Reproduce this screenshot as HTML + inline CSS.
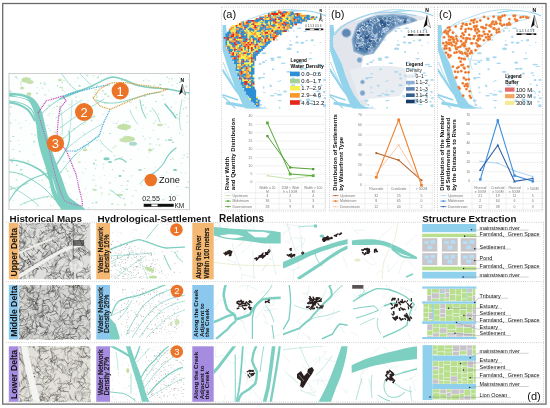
<!DOCTYPE html>
<html><head><meta charset="utf-8"><style>
html,body{margin:0;padding:0;background:#fff;width:550px;height:408px;overflow:hidden}
svg{display:block;font-family:"Liberation Sans","Noto Sans CJK SC",Arial,sans-serif}
</style></head><body>
<svg width="550" height="408" viewBox="0 0 550 408" >
<rect x="0" y="0" width="550" height="408" fill="#fff"/>
<rect x="2.7" y="3.5" width="543.3" height="400.6" fill="none" stroke="#6a6a6a" stroke-width="1.3"/>
<rect x="9" y="73.5" width="180.5" height="136.2" fill="#fdfefe" stroke="#c9c9c9" stroke-width="0.9"/>
<clipPath id="cTL"><rect x="9" y="73.5" width="180.5" height="136.2"/></clipPath>
<g clip-path="url(#cTL)">
<path fill="#bfe6df" d="M67.5 94.0h0.7v1.1h-0.7zM80.6 206.5h1.5v0.7h-1.5zM41.4 179.7h1.5v1.1h-1.5zM39.3 89.4h0.9v0.9h-0.9zM27.7 159.9h0.9v1.6h-0.9zM96.3 85.2h1.8v1.3h-1.8zM62.8 161.1h1.7v0.9h-1.7zM186.8 156.6h1.4v1.3h-1.4zM153.3 85.0h2.1v1.4h-2.1zM153.3 172.4h1.4v1.5h-1.4zM100.6 150.0h1.3v1.2h-1.3zM31.0 133.7h1.7v1.0h-1.7zM47.4 114.7h2.0v0.8h-2.0zM93.4 175.2h1.2v1.1h-1.2zM102.4 113.7h0.8v1.5h-0.8zM50.3 192.9h1.0v0.6h-1.0zM112.0 168.9h1.0v1.4h-1.0zM188.5 78.5h1.8v1.2h-1.8zM100.0 187.2h1.9v1.2h-1.9zM92.1 188.7h1.4v1.3h-1.4zM96.1 139.7h1.7v1.3h-1.7zM96.7 76.9h2.1v1.3h-2.1zM79.4 192.0h1.2v1.0h-1.2zM58.7 80.1h0.7v1.3h-0.7zM96.2 164.6h0.9v0.8h-0.9zM25.4 120.1h1.1v1.0h-1.1zM155.1 101.0h1.8v1.0h-1.8zM166.6 76.5h1.3v1.4h-1.3zM49.3 130.3h2.1v0.7h-2.1zM88.9 88.3h1.0v1.0h-1.0zM64.7 183.0h0.7v1.1h-0.7zM16.3 78.2h1.9v0.7h-1.9zM33.0 141.1h1.9v1.3h-1.9zM144.9 107.2h1.6v1.1h-1.6zM56.8 85.0h1.3v1.6h-1.3zM130.7 175.4h1.8v0.9h-1.8zM55.9 179.4h0.8v1.2h-0.8zM152.5 148.1h1.3v1.4h-1.3zM149.4 143.2h1.8v1.5h-1.8zM126.8 180.3h2.0v1.6h-2.0zM103.1 167.3h1.0v1.1h-1.0zM113.2 122.6h1.3v0.8h-1.3zM9.5 121.8h1.4v1.1h-1.4zM37.7 197.7h0.6v1.2h-0.6zM176.6 195.3h2.0v0.6h-2.0zM173.4 93.2h0.8v1.2h-0.8zM38.2 206.6h0.6v0.7h-0.6zM125.2 79.3h1.8v0.7h-1.8zM29.2 78.2h1.9v1.2h-1.9zM60.9 87.1h1.9v1.2h-1.9zM83.5 132.9h1.2v1.3h-1.2zM106.1 103.0h1.5v0.9h-1.5zM185.0 172.8h0.9v1.3h-0.9zM87.5 100.2h1.0v1.5h-1.0zM10.9 186.8h0.7v1.1h-0.7zM186.7 121.9h1.0v1.0h-1.0zM130.2 89.4h1.0v0.8h-1.0zM34.2 140.7h1.4v1.5h-1.4zM22.6 160.3h0.6v0.6h-0.6zM141.9 209.6h1.4v1.1h-1.4zM157.4 138.2h1.9v1.5h-1.9zM15.7 179.0h1.2v1.4h-1.2zM18.9 150.8h1.9v1.4h-1.9zM86.1 74.8h2.2v1.5h-2.2zM173.9 80.7h0.6v0.6h-0.6zM126.5 184.8h1.2v0.9h-1.2zM57.4 94.9h1.1v0.7h-1.1zM186.3 115.6h1.7v1.1h-1.7zM46.3 108.2h1.9v1.1h-1.9zM24.8 183.4h1.0v1.2h-1.0zM45.4 102.5h0.9v1.3h-0.9zM59.6 156.2h0.7v1.6h-0.7zM182.9 108.1h1.1v1.6h-1.1zM77.3 77.2h1.5v1.5h-1.5zM91.7 202.5h2.0v1.2h-2.0zM175.4 169.7h1.0v1.2h-1.0zM34.2 134.4h2.1v1.0h-2.1zM84.5 107.1h1.0v1.4h-1.0zM165.9 171.2h1.0v1.1h-1.0zM114.8 177.2h0.8v1.0h-0.8zM143.8 95.9h2.1v1.0h-2.1zM149.2 201.1h1.9v1.5h-1.9zM58.4 147.4h1.6v0.9h-1.6zM102.9 132.6h1.1v0.9h-1.1z"/>
<path fill="#a9ddd3" d="M75.0 81.4h0.9v0.7h-0.9zM84.5 106.3h1.3v1.4h-1.3zM31.3 103.9h2.1v1.2h-2.1zM84.7 147.1h1.1v1.4h-1.1zM16.1 164.5h1.5v1.5h-1.5zM65.6 168.2h1.4v1.4h-1.4zM20.0 169.0h2.2v1.4h-2.2zM111.2 203.3h2.1v1.3h-2.1zM142.5 135.7h1.2v1.0h-1.2zM88.5 88.5h0.7v0.6h-0.7zM95.4 167.8h0.6v1.6h-0.6zM104.4 93.5h2.1v1.4h-2.1zM142.5 104.4h1.4v1.3h-1.4zM93.0 162.8h1.9v1.6h-1.9zM127.6 121.2h1.5v0.6h-1.5zM156.1 143.9h0.8v0.8h-0.8zM36.0 92.8h1.8v1.2h-1.8zM67.8 144.1h1.4v1.4h-1.4zM95.3 201.7h2.0v1.5h-2.0zM90.9 119.7h1.3v1.5h-1.3zM129.1 125.4h1.7v0.9h-1.7zM170.0 158.9h0.8v1.1h-0.8zM153.0 175.4h2.0v0.7h-2.0zM12.2 136.0h2.1v1.0h-2.1zM122.9 197.9h1.5v1.3h-1.5zM165.9 139.6h0.8v1.1h-0.8zM28.7 94.5h2.2v0.7h-2.2zM9.2 90.6h2.1v1.2h-2.1zM79.0 104.0h0.6v1.1h-0.6zM10.2 113.3h0.7v1.1h-0.7zM146.3 113.7h1.4v0.8h-1.4zM80.0 102.5h0.8v0.7h-0.8zM44.2 82.1h1.1v0.9h-1.1zM175.8 114.0h2.1v1.2h-2.1zM157.5 178.8h1.0v1.5h-1.0zM92.2 180.3h0.7v0.8h-0.7zM44.0 83.7h2.0v1.0h-2.0zM82.8 124.1h1.1v0.8h-1.1zM128.9 94.6h0.7v0.8h-0.7zM173.8 116.3h2.1v1.0h-2.1zM48.4 127.9h0.9v1.0h-0.9zM48.9 187.0h1.8v0.8h-1.8zM143.2 80.1h1.0v1.2h-1.0zM17.6 140.0h1.6v0.6h-1.6zM11.1 161.3h2.0v1.2h-2.0zM113.4 155.5h1.8v0.8h-1.8zM172.1 79.5h0.6v0.8h-0.6zM125.9 130.1h0.9v0.9h-0.9zM109.0 132.9h2.2v0.9h-2.2zM162.8 199.0h1.4v1.4h-1.4zM115.6 123.0h2.0v0.7h-2.0zM183.6 154.2h1.0v1.5h-1.0zM123.9 84.5h1.9v1.2h-1.9zM179.4 90.8h1.8v1.4h-1.8zM125.8 188.7h2.0v1.3h-2.0zM187.7 98.5h1.8v0.7h-1.8zM78.5 85.1h2.0v1.4h-2.0zM34.3 186.7h0.6v0.6h-0.6zM185.4 85.8h1.9v1.4h-1.9zM44.6 167.9h0.7v1.4h-0.7zM119.4 157.5h2.0v0.7h-2.0zM15.2 76.3h1.6v1.5h-1.6zM61.8 81.8h1.1v1.2h-1.1zM185.4 186.7h1.9v1.2h-1.9zM170.9 194.0h1.1v1.1h-1.1zM165.3 139.7h0.9v1.5h-0.9zM124.6 203.8h1.2v1.0h-1.2zM178.9 81.6h2.0v1.4h-2.0zM159.3 84.1h2.0v1.5h-2.0zM96.1 94.4h0.7v1.5h-0.7zM50.6 97.4h0.7v0.7h-0.7zM84.9 187.9h0.7v1.6h-0.7zM123.2 123.1h0.9v0.9h-0.9zM168.7 78.2h1.0v1.3h-1.0zM125.9 89.9h2.1v1.5h-2.1zM171.7 85.0h1.5v0.7h-1.5z"/>
<path fill="#cfe9c4" d="M41.6 152.7h1.2v1.1h-1.2zM20.3 81.6h1.4v1.1h-1.4zM40.8 105.1h0.6v1.4h-0.6zM41.9 111.9h1.3v1.0h-1.3zM75.2 96.3h1.5v1.4h-1.5zM68.5 103.9h1.9v1.4h-1.9zM48.8 104.4h1.1v1.1h-1.1zM144.4 138.6h1.3v1.2h-1.3zM24.3 95.1h0.6v1.2h-0.6zM87.3 192.2h0.6v0.8h-0.6zM101.2 192.4h1.6v1.4h-1.6zM168.4 81.2h1.0v1.4h-1.0zM55.9 149.7h1.9v0.7h-1.9zM138.3 163.4h1.0v0.7h-1.0zM187.7 186.9h1.7v1.6h-1.7zM149.6 110.3h1.9v1.4h-1.9zM153.7 84.9h0.7v1.5h-0.7zM121.2 79.4h2.1v1.6h-2.1zM46.2 134.2h1.0v1.4h-1.0zM47.8 104.8h1.9v1.3h-1.9zM114.7 145.6h1.7v1.3h-1.7zM60.3 157.8h0.7v1.4h-0.7zM170.2 166.5h0.7v0.6h-0.7zM122.3 158.8h1.4v0.6h-1.4zM56.9 172.8h1.0v1.2h-1.0zM147.4 157.5h0.7v0.7h-0.7zM57.5 102.1h0.7v0.7h-0.7zM122.6 191.0h0.7v1.5h-0.7zM94.8 105.5h0.6v1.0h-0.6zM126.3 81.0h1.4v1.3h-1.4zM45.2 177.8h1.0v0.8h-1.0zM177.2 118.3h1.6v1.1h-1.6zM181.5 90.3h1.2v1.4h-1.2zM76.3 198.7h1.1v1.3h-1.1zM94.7 159.5h1.9v1.4h-1.9zM179.3 76.8h0.8v1.3h-0.8zM184.5 97.1h1.3v1.2h-1.3zM53.7 106.9h1.1v1.5h-1.1zM62.0 89.7h1.6v1.4h-1.6zM189.5 78.7h1.9v1.4h-1.9zM147.4 182.8h1.2v1.0h-1.2zM179.0 132.6h1.3v1.4h-1.3zM75.9 142.2h1.2v0.8h-1.2zM183.5 100.4h1.9v0.6h-1.9zM172.2 158.0h1.6v1.5h-1.6zM121.1 157.2h1.9v0.8h-1.9zM36.0 205.7h0.7v1.2h-0.7zM120.7 185.0h1.9v1.0h-1.9zM101.1 79.1h0.7v1.3h-0.7zM141.1 184.5h0.8v1.5h-0.8zM61.0 184.0h1.7v1.3h-1.7zM131.7 195.5h1.9v0.9h-1.9zM83.6 114.5h0.9v1.2h-0.9zM94.7 91.9h1.7v1.1h-1.7zM178.8 92.9h1.4v1.2h-1.4zM56.0 105.7h2.1v1.3h-2.1zM60.2 102.7h1.4v0.7h-1.4zM148.6 152.4h1.1v1.2h-1.1zM161.3 94.6h2.2v1.3h-2.2zM117.8 121.0h1.1v0.8h-1.1zM44.3 94.1h1.9v1.3h-1.9zM123.1 136.6h1.0v1.3h-1.0zM102.5 163.5h2.0v0.9h-2.0zM38.0 180.0h1.4v0.7h-1.4zM176.8 82.9h1.4v1.2h-1.4zM149.8 137.4h1.0v1.0h-1.0zM54.8 131.5h1.4v1.4h-1.4zM172.2 181.3h1.6v1.3h-1.6zM135.4 107.1h1.5v1.5h-1.5zM58.0 142.5h1.6v1.4h-1.6zM16.1 159.8h0.8v0.8h-0.8zM78.9 154.1h1.4v1.0h-1.4zM27.4 161.3h2.0v1.2h-2.0zM52.7 173.4h2.1v1.0h-2.1zM143.9 168.1h1.8v0.7h-1.8zM152.9 123.0h1.6v1.0h-1.6zM169.8 208.7h1.0v1.5h-1.0zM108.9 182.1h1.9v1.3h-1.9zM123.2 180.7h1.1v0.6h-1.1zM37.8 205.0h0.9v1.5h-0.9zM95.9 96.5h1.9v1.5h-1.9zM170.0 137.2h1.9v0.8h-1.9zM137.8 148.9h1.3v0.7h-1.3zM159.2 206.8h2.2v0.6h-2.2zM154.7 119.9h1.3v1.4h-1.3zM48.4 151.3h1.9v1.1h-1.9zM129.9 159.1h1.5v0.8h-1.5zM102.1 89.9h1.9v1.5h-1.9zM154.2 91.8h2.1v0.8h-2.1zM12.5 199.7h1.0v1.4h-1.0zM123.9 136.7h1.7v0.7h-1.7zM33.7 154.1h0.8v1.2h-0.8zM45.2 164.6h0.8v1.6h-0.8z"/>
<path fill="#c6e3b6" d="M149.3 136.9h1.2v0.8h-1.2zM142.3 127.7h0.7v1.0h-0.7zM108.2 193.8h2.0v0.9h-2.0zM84.0 122.4h2.1v0.8h-2.1zM94.6 89.2h2.2v1.1h-2.2zM187.6 181.1h1.0v1.3h-1.0zM24.7 202.4h1.3v1.3h-1.3zM12.5 149.0h1.7v1.0h-1.7zM131.0 202.3h0.8v1.5h-0.8zM43.2 138.2h0.8v1.4h-0.8zM87.0 140.9h2.2v0.9h-2.2zM52.7 113.4h0.9v0.9h-0.9zM124.0 204.2h1.9v1.2h-1.9zM103.9 175.1h1.0v0.7h-1.0zM61.5 143.9h1.3v1.4h-1.3zM82.2 172.5h1.2v0.9h-1.2zM148.6 180.4h2.0v1.4h-2.0zM17.9 173.2h1.6v0.7h-1.6zM46.5 196.9h1.5v1.1h-1.5zM69.1 176.9h0.8v0.8h-0.8zM83.7 144.9h1.0v1.4h-1.0zM78.4 161.5h2.1v1.4h-2.1zM154.2 205.4h0.6v1.0h-0.6zM176.3 185.9h2.2v0.8h-2.2zM158.0 169.0h0.7v1.4h-0.7zM84.8 108.5h2.1v0.8h-2.1zM15.2 119.5h1.2v1.0h-1.2zM93.4 116.0h1.9v1.6h-1.9zM107.3 95.4h2.0v1.6h-2.0zM50.8 183.6h2.2v0.7h-2.2zM94.7 185.1h2.1v0.6h-2.1zM82.3 193.7h1.8v0.7h-1.8zM18.3 92.9h0.7v1.2h-0.7zM40.0 82.6h1.4v1.4h-1.4zM13.2 157.8h1.3v1.0h-1.3zM170.8 111.0h0.8v1.1h-0.8zM76.2 100.6h0.9v1.5h-0.9zM49.0 113.1h1.3v1.0h-1.3zM63.2 80.1h1.7v0.6h-1.7zM161.4 175.0h0.7v1.3h-0.7zM134.9 190.3h2.1v0.8h-2.1zM168.7 181.0h1.6v0.7h-1.6zM165.6 198.0h0.8v0.8h-0.8zM9.8 140.4h1.7v1.4h-1.7zM73.2 128.2h2.0v1.3h-2.0zM171.7 141.8h2.2v1.2h-2.2zM92.7 75.2h1.7v1.1h-1.7zM10.0 106.5h1.7v1.2h-1.7zM170.5 106.5h1.7v1.2h-1.7zM54.1 131.2h0.6v1.5h-0.6zM112.7 147.2h1.4v1.2h-1.4zM158.6 144.6h1.8v1.1h-1.8zM20.1 83.7h1.6v1.3h-1.6zM104.1 103.3h1.3v0.8h-1.3zM163.2 98.8h1.2v0.8h-1.2zM10.2 188.0h1.7v1.1h-1.7zM62.6 136.9h1.3v1.6h-1.3zM171.0 78.1h1.6v0.9h-1.6zM164.5 123.4h1.8v1.2h-1.8zM158.2 113.4h1.2v1.1h-1.2zM24.8 209.2h1.8v1.5h-1.8zM85.0 168.3h1.3v0.6h-1.3zM48.4 90.0h0.6v1.3h-0.6zM122.5 170.1h1.7v1.5h-1.7zM117.3 203.9h1.6v0.9h-1.6zM180.3 172.6h1.7v0.7h-1.7zM185.2 107.0h1.7v1.2h-1.7zM154.7 166.7h1.2v0.7h-1.2zM74.5 150.4h1.8v1.5h-1.8zM53.5 199.2h1.2v0.7h-1.2zM59.5 86.7h1.8v1.4h-1.8zM17.5 180.6h0.7v0.7h-0.7zM69.4 96.4h0.8v1.1h-0.8zM129.6 102.3h1.9v0.7h-1.9zM145.3 205.7h2.2v1.6h-2.2zM20.9 173.3h1.9v1.5h-1.9zM98.0 75.6h0.8v1.3h-0.8zM66.9 170.4h1.5v1.5h-1.5zM61.6 88.2h1.3v0.6h-1.3zM18.4 123.0h1.0v0.9h-1.0z"/>
<path fill="#d6efe9" d="M167.0 172.9h1.6v0.7h-1.6zM101.4 96.0h0.8v1.1h-0.8zM21.4 86.2h1.4v1.3h-1.4zM60.4 126.0h0.6v1.1h-0.6zM36.3 87.3h1.6v0.7h-1.6zM46.5 124.7h2.1v1.2h-2.1zM181.7 134.4h2.1v1.0h-2.1zM99.5 177.5h1.0v1.0h-1.0zM32.7 197.4h2.0v1.3h-2.0zM100.3 143.3h1.3v1.1h-1.3zM81.9 130.9h1.1v1.3h-1.1zM42.1 195.4h2.1v1.2h-2.1zM56.3 98.2h1.6v1.1h-1.6zM123.8 128.6h2.2v1.4h-2.2zM11.6 158.7h1.3v0.7h-1.3zM9.7 123.1h2.2v1.1h-2.2zM53.1 205.0h0.9v0.8h-0.9zM69.5 84.9h1.4v0.8h-1.4zM100.1 74.2h1.9v0.7h-1.9zM114.9 127.2h1.1v0.8h-1.1zM167.7 126.6h1.8v1.1h-1.8zM54.8 174.7h1.6v0.7h-1.6zM188.3 148.3h2.2v1.5h-2.2zM143.9 109.2h0.8v1.4h-0.8zM100.8 194.3h1.0v1.5h-1.0zM160.7 73.7h1.9v0.7h-1.9zM176.2 170.6h1.0v0.7h-1.0zM123.6 93.8h1.3v0.9h-1.3zM71.0 114.1h1.2v0.8h-1.2zM98.9 151.7h0.8v1.1h-0.8zM63.8 90.9h1.4v1.0h-1.4zM146.9 87.0h1.4v1.2h-1.4zM188.8 111.4h1.6v1.5h-1.6zM19.9 127.1h1.8v1.6h-1.8zM181.9 157.5h1.8v1.3h-1.8zM93.1 179.2h2.1v1.4h-2.1zM59.4 110.0h1.8v0.8h-1.8zM43.0 82.3h2.2v1.1h-2.2zM120.9 103.1h1.1v0.6h-1.1zM134.5 129.3h1.7v1.0h-1.7zM18.3 175.0h1.3v0.6h-1.3zM145.7 78.7h0.8v1.2h-0.8zM108.3 158.9h1.6v0.9h-1.6zM54.0 126.5h1.3v1.0h-1.3zM21.1 122.3h0.7v1.0h-0.7zM175.0 101.9h1.6v0.8h-1.6zM147.7 80.1h2.1v1.1h-2.1zM163.6 174.0h1.0v1.6h-1.0zM186.6 153.3h1.8v1.3h-1.8zM20.5 93.2h1.2v0.9h-1.2zM40.7 209.2h1.0v0.6h-1.0zM69.6 175.6h1.7v0.9h-1.7zM68.0 193.4h1.6v1.0h-1.6zM62.1 119.3h0.6v0.9h-0.6zM60.0 171.0h2.1v1.4h-2.1zM117.7 138.3h1.6v0.6h-1.6zM87.7 144.8h1.8v1.6h-1.8zM85.2 161.5h0.9v0.9h-0.9zM125.7 121.0h1.4v1.5h-1.4zM90.3 148.9h0.9v1.0h-0.9zM134.7 142.6h1.1v1.3h-1.1zM124.8 135.3h1.0v1.3h-1.0zM113.7 88.4h1.8v1.5h-1.8zM49.8 204.8h1.7v1.4h-1.7zM152.5 129.8h1.8v1.2h-1.8zM153.2 122.3h1.1v1.1h-1.1zM121.5 85.1h0.8v0.9h-0.8zM180.8 162.8h1.6v1.2h-1.6zM173.7 112.2h1.3v1.2h-1.3zM68.7 116.7h0.8v1.6h-0.8zM107.4 80.3h0.8v0.6h-0.8zM151.0 150.1h2.0v0.8h-2.0zM78.6 180.6h1.9v1.2h-1.9zM170.7 183.5h1.7v0.9h-1.7zM145.3 201.4h1.5v1.0h-1.5zM126.8 137.6h1.0v0.7h-1.0zM12.9 83.7h1.1v0.8h-1.1zM29.9 123.4h1.0v0.7h-1.0zM176.0 86.8h1.3v0.8h-1.3zM179.3 112.5h1.3v1.5h-1.3zM118.8 141.0h0.9v0.7h-0.9zM102.6 120.8h1.9v1.5h-1.9zM53.8 150.2h0.7v1.3h-0.7zM112.8 190.4h1.4v1.0h-1.4zM41.9 87.5h1.5v1.6h-1.5zM87.6 207.1h1.9v1.4h-1.9zM18.7 144.0h1.0v1.0h-1.0z"/>
<ellipse cx="26" cy="80" rx="4.5" ry="2.8" fill="#c3e0a6"/>
<ellipse cx="29" cy="94" rx="2.5" ry="1.8" fill="#c3e0a6"/>
<ellipse cx="124" cy="127" rx="7" ry="3" fill="#c3e0a6"/>
<ellipse cx="128" cy="139" rx="6" ry="3" fill="#c3e0a6"/>
<ellipse cx="131" cy="139" rx="4" ry="2" fill="#c3e0a6"/>
<ellipse cx="49" cy="147" rx="2" ry="1.5" fill="#c3e0a6"/>
<ellipse cx="62" cy="190" rx="2" ry="1.5" fill="#c3e0a6"/>
<ellipse cx="52" cy="197" rx="1.5" ry="1" fill="#c3e0a6"/>
<ellipse cx="150" cy="150" rx="2" ry="1.5" fill="#c3e0a6"/>
<ellipse cx="125.5" cy="140" rx="6" ry="2.5" fill="#c7e2b0"/>
<ellipse cx="133" cy="143.8" rx="4" ry="2" fill="#a9d9cf"/>
<ellipse cx="106.5" cy="158.8" rx="3" ry="1.5" fill="#7dcfc1"/>
<ellipse cx="110" cy="162" rx="2" ry="1" fill="#7dcfc1"/>
<ellipse cx="160" cy="125" rx="3" ry="1.2" fill="#c7e2b0"/>
<ellipse cx="170" cy="140" rx="2.5" ry="1" fill="#a9d9cf"/>
<ellipse cx="95" cy="190" rx="2" ry="1" fill="#c7e2b0"/>
<ellipse cx="120" cy="195" rx="3" ry="1.2" fill="#c7e2b0"/>
<ellipse cx="175" cy="170" rx="2" ry="1" fill="#7dcfc1"/>
<ellipse cx="140" cy="170" rx="2" ry="1" fill="#a9d9cf"/>
<ellipse cx="30" cy="82" rx="3.5" ry="2" fill="#c7e2b0"/>
<ellipse cx="22" cy="88" rx="2" ry="1.5" fill="#c7e2b0"/>
<ellipse cx="60" cy="80" rx="2" ry="1.2" fill="#c7e2b0"/>
<ellipse cx="85" cy="150" rx="2.5" ry="1.2" fill="#c7e2b0"/>
<ellipse cx="120" cy="176" rx="1.5" ry="1" fill="#7dcfc1"/>
<path d="M9,96.5 C16,97 24,98 28.5,101 C32,105 34,111 35.5,118 C36.5,126 37,132 37.5,138 C39,147 42,156 45,165 C47.5,173 49.5,183 51.5,192 C54,199 57,204 60.5,208 L61,212 L87,212 L84,208 C80,205 75,202 70,198 C67.5,195 67,193 66.5,192 C63.5,183 60.5,174 57,165 C53.5,156 50.5,147 48,138 C46,130 44.5,122 42.5,114 C40.5,107 37,101 32,97.5 C26,94 17,93 9,92.8 Z" fill="#7dcfc1"/>
<path d="M52,176 C53,183 55,190 58,196 C56,190 54,183 52,176 Z" fill="#fff"/>
<path d="M12,95.6 C18,95.2 25,96.5 30,100 C25,98.2 18,97 12,95.6 Z" fill="#fff"/>
<path d="M9,102.5 C16,103 23,106 28,110 C31,113 33,117 35,121" stroke="#7dcfc1" stroke-width="2.2" fill="none"/>
<path d="M9,101 C18,101.5 26,104 31,109 C34,113 35.5,118 36.5,124" stroke="#7dcfc1" stroke-width="1.2" fill="none" stroke-linecap="round"/>
<path d="M9,160 C20,160 32,165 40,170 C44,173 47,176 50,180" stroke="#7dcfc1" stroke-width="1.6" fill="none" stroke-linecap="round"/>
<path d="M49,173 C38,176 25,180 15,192 L9,201" stroke="#7dcfc1" stroke-width="1.2" fill="none" stroke-linecap="round"/>
<path d="M9,172 C20,172 30,178 40,185 C47,190 52,196 55,200" stroke="#7dcfc1" stroke-width="0.9" fill="none" stroke-linecap="round"/>
<path d="M9,186 C18,190 28,196 38,205" stroke="#7dcfc1" stroke-width="0.7" fill="none" stroke-linecap="round"/>
<path d="M54,168 C60,160 65,153 68,145 C70,140 70,136 69,131" stroke="#7dcfc1" stroke-width="1.3" fill="none" stroke-linecap="round"/>
<path d="M58,176 C64,168 70,160 76,154" stroke="#7dcfc1" stroke-width="0.8" fill="none" stroke-linecap="round"/>
<path d="M20,205 C30,200 40,198 50,196" stroke="#7dcfc1" stroke-width="0.7" fill="none" stroke-linecap="round"/>
<path d="M9,190 C15,188 22,186 28,183" stroke="#7dcfc1" stroke-width="0.6" fill="none" stroke-linecap="round"/>
<path d="M38,118 C44,110 52,104 60,99 C66,95 72,92 80,90" stroke="#7dcfc1" stroke-width="0.9" fill="none" stroke-linecap="round"/>
<path d="M62,74 C66,80 70,86 76,90" stroke="#7dcfc1" stroke-width="0.7" fill="none" stroke-linecap="round"/>
<path d="M80,74 C84,78 88,82 92,86" stroke="#7dcfc1" stroke-width="0.6" fill="none" stroke-linecap="round"/>
<path d="M60,99 C70,95 82,90 92,86 C100,82 106,78 112,77 C120,77 128,81 136,85 C146,88 156,88 166,89 C175,90 182,92 190,93" stroke="#7dcfc1" stroke-width="1.5" fill="none" stroke-linecap="round"/>
<path d="M96,100 C105,104 115,104 125,101 C135,98 148,94 160,92" stroke="#7dcfc1" stroke-width="0.9" fill="none" stroke-linecap="round"/>
<path d="M60,128 C68,122 76,116 86,110 C93,106 99,102 104,99" stroke="#7dcfc1" stroke-width="0.7" fill="none" stroke-linecap="round"/>
<path d="M62,140 C70,132 80,124 94,116" stroke="#7dcfc1" stroke-width="0.7" fill="none" stroke-linecap="round"/>
<path d="M66,150 C76,140 88,132 102,124" stroke="#7dcfc1" stroke-width="0.6" fill="none" stroke-linecap="round"/>
<path d="M56,118 C64,112 72,106 82,100" stroke="#7dcfc1" stroke-width="0.6" fill="none" stroke-linecap="round"/>
<path d="M70,160 C80,150 90,142 100,134" stroke="#7dcfc1" stroke-width="0.6" fill="none" stroke-linecap="round"/>
<path d="M60,106 C62,115 63,125 62,135" stroke="#7dcfc1" stroke-width="0.5" fill="none" stroke-linecap="round"/>
<path d="M72,100 C72,110 71,120 70,130" stroke="#7dcfc1" stroke-width="0.5" fill="none" stroke-linecap="round"/>
<path d="M140,100 C141,106 142,112 146,118" stroke="#7dcfc1" stroke-width="1.0" fill="none" stroke-linecap="round"/>
<path d="M165,104 C168,108 172,112 176,118" stroke="#7dcfc1" stroke-width="1.4" fill="none" stroke-linecap="round"/>
<path d="M152,108 C156,112 158,116 160,122" stroke="#7dcfc1" stroke-width="0.7" fill="none" stroke-linecap="round"/>
<path d="M176,148 C170,152 166,158 164,163 C160,168 156,172 152,174" stroke="#7dcfc1" stroke-width="1.2" fill="none" stroke-linecap="round"/>
<path d="M115,160 C118,158 122,158 126,162" stroke="#7dcfc1" stroke-width="1.2" fill="none" stroke-linecap="round"/>
<path d="M150,176 C146,178 142,180 140,184" stroke="#7dcfc1" stroke-width="0.7" fill="none" stroke-linecap="round"/>
<path d="M110,190 C114,192 118,196 121,198" stroke="#7dcfc1" stroke-width="0.8" fill="none" stroke-linecap="round"/>
<path d="M130,110 C132,116 134,120 138,124" stroke="#7dcfc1" stroke-width="0.6" fill="none" stroke-linecap="round"/>
<path d="M182,100 C180,110 178,120 181,130" stroke="#7dcfc1" stroke-width="0.6" fill="none" stroke-linecap="round"/>
<path d="M100,140 C104,146 108,150 112,152" stroke="#7dcfc1" stroke-width="0.6" fill="none" stroke-linecap="round"/>
<path d="M38,113 L46,101 L63,96 L66,101 L60,108 L58,122 L57,136 L62,145 L66.5,151 L71,162 L76,174 L79,188 L82,200 L82.5,206" fill="none" stroke="#c040b8" stroke-width="1.2" stroke-dasharray="1 0.8"/>
<path d="M38,113 C42,125 46,140 49.4,151 C52,162 54,170 55,174 C58,185 61,194 64.6,200.6 C70,204 76,205 82.5,206" fill="none" stroke="#c24fc0" stroke-width="1.0" stroke-dasharray="0.9 1.0"/>
<path d="M63,96 L76,92 L91,88.5 L102,86 L110,84.7 M110,109.4 L104,122 L99,136 L88,144 L76,151 L66.5,151" fill="none" stroke="#3aa8d8" stroke-width="1.2" stroke-dasharray="1 0.8"/>
<path d="M93,98 L100,89 L108,84 C118,81 130,83 140,85 L150,86 L154,88 L158,87 L163,89 L168,89 L160,92 L147,94 L134,99 L118,106 L110,109.4 L100,106 Z" fill="none" stroke="#d49a3a" stroke-width="1.2" stroke-dasharray="1 0.8"/>
</g>
<circle cx="120.2" cy="90.9" r="8.6" fill="#ec7428"/>
<text x="120.2" y="95.58000000000001" font-size="13" fill="#fff" text-anchor="middle">1</text>
<circle cx="84" cy="112" r="9" fill="#ec7428"/>
<text x="84" y="116.68" font-size="13" fill="#fff" text-anchor="middle">2</text>
<circle cx="55.4" cy="143.4" r="8.7" fill="#ec7428"/>
<text x="55.4" y="148.08" font-size="13" fill="#fff" text-anchor="middle">3</text>
<text x="182.3" y="82" font-size="5" font-weight="bold" text-anchor="middle" >N</text>
<path d="M182.3,84 L179,95 L182.3,92 Z" fill="#111"/><path d="M182.3,84 L185.6,95 L182.3,92 Z" fill="#fff" stroke="#111" stroke-width="0.4"/>
<circle cx="150.8" cy="180" r="6.3" fill="#ec7428"/>
<text x="159" y="183.3" font-size="9.2"  fill="#111">Zone</text>
<text x="142.2" y="200.6" font-size="7.1" fill="#222">02.55</text>
<text x="168.2" y="200.6" font-size="7" fill="#222">10</text>
<rect x="143.7" y="203.8" width="30" height="3" fill="#111"/><rect x="151.4" y="204.3" width="6.2" height="2" fill="#fff"/>
<text x="174.4" y="207.6" font-size="6.6" fill="#222">KM</text>
<line x1="221.6" y1="7" x2="325.6" y2="7" stroke="#b4b4b4" stroke-width="0.8" stroke-dasharray="0.8 1.4"/>
<line x1="221.6" y1="211" x2="325.6" y2="211" stroke="#b4b4b4" stroke-width="0.8" stroke-dasharray="0.8 1.4"/>
<line x1="221.6" y1="7" x2="221.6" y2="211" stroke="#b4b4b4" stroke-width="0.8" stroke-dasharray="0.8 1.4"/>
<line x1="325.6" y1="7" x2="325.6" y2="211" stroke="#b4b4b4" stroke-width="0.8" stroke-dasharray="0.8 1.4"/>
<line x1="329.5" y1="7" x2="434.5" y2="7" stroke="#b4b4b4" stroke-width="0.8" stroke-dasharray="0.8 1.4"/>
<line x1="329.5" y1="211" x2="434.5" y2="211" stroke="#b4b4b4" stroke-width="0.8" stroke-dasharray="0.8 1.4"/>
<line x1="329.5" y1="7" x2="329.5" y2="211" stroke="#b4b4b4" stroke-width="0.8" stroke-dasharray="0.8 1.4"/>
<line x1="434.5" y1="7" x2="434.5" y2="211" stroke="#b4b4b4" stroke-width="0.8" stroke-dasharray="0.8 1.4"/>
<line x1="437.4" y1="7" x2="542.4" y2="7" stroke="#b4b4b4" stroke-width="0.8" stroke-dasharray="0.8 1.4"/>
<line x1="437.4" y1="211" x2="542.4" y2="211" stroke="#b4b4b4" stroke-width="0.8" stroke-dasharray="0.8 1.4"/>
<line x1="437.4" y1="7" x2="437.4" y2="211" stroke="#b4b4b4" stroke-width="0.8" stroke-dasharray="0.8 1.4"/>
<line x1="542.4" y1="7" x2="542.4" y2="211" stroke="#b4b4b4" stroke-width="0.8" stroke-dasharray="0.8 1.4"/>
<clipPath id="cA"><rect x="222.5" y="7.5" width="103.5" height="101.1"/></clipPath>
<g clip-path="url(#cA)">
<path fill="#a9d8ee" d="M286.3 71.9a2.4 0.8 0 1 0 4.9 0a2.4 0.8 0 1 0 -4.9 0M291.6 74.2a1.0 0.8 0 1 0 1.9 0a1.0 0.8 0 1 0 -1.9 0M300.0 91.0a0.8 0.6 0 1 0 1.6 0a0.8 0.6 0 1 0 -1.6 0M262.2 92.4a2.0 0.4 0 1 0 4.0 0a2.0 0.4 0 1 0 -4.0 0M322.9 105.1a1.9 0.9 0 1 0 3.8 0a1.9 0.9 0 1 0 -3.8 0M292.9 30.9a1.0 0.6 0 1 0 2.0 0a1.0 0.6 0 1 0 -2.0 0M258.6 64.0a1.5 1.1 0 1 0 3.0 0a1.5 1.1 0 1 0 -3.0 0M291.7 78.5a1.6 0.9 0 1 0 3.2 0a1.6 0.9 0 1 0 -3.2 0M286.5 48.8a2.6 1.2 0 1 0 5.2 0a2.6 1.2 0 1 0 -5.2 0M313.9 84.0a1.2 0.6 0 1 0 2.5 0a1.2 0.6 0 1 0 -2.5 0M307.8 58.8a2.3 0.7 0 1 0 4.6 0a2.3 0.7 0 1 0 -4.6 0M322.5 95.5a0.6 0.6 0 1 0 1.2 0a0.6 0.6 0 1 0 -1.2 0M317.3 64.5a2.6 0.7 0 1 0 5.1 0a2.6 0.7 0 1 0 -5.1 0M260.8 77.6a2.2 0.6 0 1 0 4.3 0a2.2 0.6 0 1 0 -4.3 0M261.4 53.3a2.5 1.0 0 1 0 5.1 0a2.5 1.0 0 1 0 -5.1 0M265.2 46.2a0.8 0.4 0 1 0 1.6 0a0.8 0.4 0 1 0 -1.6 0M310.5 40.6a1.7 0.8 0 1 0 3.4 0a1.7 0.8 0 1 0 -3.4 0M270.1 86.0a0.9 0.9 0 1 0 1.7 0a0.9 0.9 0 1 0 -1.7 0M264.9 60.5a1.0 0.6 0 1 0 2.1 0a1.0 0.6 0 1 0 -2.1 0M322.8 91.9a1.2 1.1 0 1 0 2.4 0a1.2 1.1 0 1 0 -2.4 0M270.0 58.3a2.3 0.9 0 1 0 4.6 0a2.3 0.9 0 1 0 -4.6 0M263.8 107.1a1.0 0.6 0 1 0 2.1 0a1.0 0.6 0 1 0 -2.1 0M309.4 53.0a1.2 0.5 0 1 0 2.4 0a1.2 0.5 0 1 0 -2.4 0M263.0 73.8a1.1 0.9 0 1 0 2.2 0a1.1 0.9 0 1 0 -2.2 0M280.8 63.2a2.5 0.8 0 1 0 5.0 0a2.5 0.8 0 1 0 -5.0 0M296.1 97.1a1.0 0.5 0 1 0 1.9 0a1.0 0.5 0 1 0 -1.9 0M318.7 93.1a1.1 0.6 0 1 0 2.2 0a1.1 0.6 0 1 0 -2.2 0M307.3 103.1a1.0 1.2 0 1 0 2.0 0a1.0 1.2 0 1 0 -2.0 0M316.5 75.5a1.4 0.5 0 1 0 2.9 0a1.4 0.5 0 1 0 -2.9 0M259.6 104.9a1.1 1.0 0 1 0 2.2 0a1.1 1.0 0 1 0 -2.2 0M273.7 93.5a1.8 0.6 0 1 0 3.6 0a1.8 0.6 0 1 0 -3.6 0M269.2 85.1a0.7 0.6 0 1 0 1.5 0a0.7 0.6 0 1 0 -1.5 0M294.2 95.9a1.8 0.6 0 1 0 3.7 0a1.8 0.6 0 1 0 -3.7 0M319.7 42.7a0.6 0.6 0 1 0 1.3 0a0.6 0.6 0 1 0 -1.3 0M287.4 31.0a1.0 0.7 0 1 0 1.9 0a1.0 0.7 0 1 0 -1.9 0M295.6 36.8a1.3 1.1 0 1 0 2.6 0a1.3 1.1 0 1 0 -2.6 0M322.7 79.9a2.0 0.9 0 1 0 4.0 0a2.0 0.9 0 1 0 -4.0 0M257.2 100.6a2.0 1.2 0 1 0 4.0 0a2.0 1.2 0 1 0 -4.0 0M257.9 78.2a1.6 1.0 0 1 0 3.1 0a1.6 1.0 0 1 0 -3.1 0M278.9 107.9a0.8 0.8 0 1 0 1.5 0a0.8 0.8 0 1 0 -1.5 0M306.0 99.8a2.1 1.0 0 1 0 4.1 0a2.1 1.0 0 1 0 -4.1 0M310.6 101.0a1.3 0.9 0 1 0 2.6 0a1.3 0.9 0 1 0 -2.6 0M317.8 97.4a1.4 1.0 0 1 0 2.9 0a1.4 1.0 0 1 0 -2.9 0M314.9 73.0a1.8 0.7 0 1 0 3.7 0a1.8 0.7 0 1 0 -3.7 0M296.9 75.9a0.8 0.9 0 1 0 1.5 0a0.8 0.9 0 1 0 -1.5 0M323.5 98.1a2.1 0.7 0 1 0 4.1 0a2.1 0.7 0 1 0 -4.1 0M306.5 73.6a1.5 1.1 0 1 0 3.0 0a1.5 1.1 0 1 0 -3.0 0M263.0 87.5a0.7 0.9 0 1 0 1.3 0a0.7 0.9 0 1 0 -1.3 0M288.7 44.9a2.0 0.8 0 1 0 4.0 0a2.0 0.8 0 1 0 -4.0 0M298.7 101.5a1.1 0.4 0 1 0 2.2 0a1.1 0.4 0 1 0 -2.2 0M277.5 81.6a1.0 0.5 0 1 0 2.0 0a1.0 0.5 0 1 0 -2.0 0M318.1 80.1a1.5 1.1 0 1 0 3.0 0a1.5 1.1 0 1 0 -3.0 0M279.2 80.6a1.0 0.7 0 1 0 2.0 0a1.0 0.7 0 1 0 -2.0 0M310.4 101.0a2.4 0.7 0 1 0 4.7 0a2.4 0.7 0 1 0 -4.7 0M296.8 52.0a0.9 0.8 0 1 0 1.7 0a0.9 0.8 0 1 0 -1.7 0M312.9 95.6a2.0 1.2 0 1 0 4.0 0a2.0 1.2 0 1 0 -4.0 0M275.3 39.9a1.5 0.6 0 1 0 3.0 0a1.5 0.6 0 1 0 -3.0 0M270.7 59.9a1.9 0.8 0 1 0 3.7 0a1.9 0.8 0 1 0 -3.7 0M276.9 94.8a2.6 0.8 0 1 0 5.1 0a2.6 0.8 0 1 0 -5.1 0M315.3 29.4a2.0 0.9 0 1 0 4.0 0a2.0 0.9 0 1 0 -4.0 0M278.4 90.9a0.6 0.5 0 1 0 1.3 0a0.6 0.5 0 1 0 -1.3 0M313.5 45.5a0.9 0.4 0 1 0 1.8 0a0.9 0.4 0 1 0 -1.8 0M298.9 62.6a1.9 0.9 0 1 0 3.7 0a1.9 0.9 0 1 0 -3.7 0M310.9 104.6a2.0 0.6 0 1 0 3.9 0a2.0 0.6 0 1 0 -3.9 0M289.7 40.7a0.6 0.8 0 1 0 1.2 0a0.6 0.8 0 1 0 -1.2 0M305.4 40.7a1.1 0.7 0 1 0 2.3 0a1.1 0.7 0 1 0 -2.3 0M303.6 68.7a1.8 1.0 0 1 0 3.7 0a1.8 1.0 0 1 0 -3.7 0M282.3 90.9a2.4 0.5 0 1 0 4.8 0a2.4 0.5 0 1 0 -4.8 0M320.6 85.2a0.9 0.8 0 1 0 1.7 0a0.9 0.8 0 1 0 -1.7 0M299.2 100.6a1.4 0.9 0 1 0 2.7 0a1.4 0.9 0 1 0 -2.7 0M315.3 91.3a2.5 0.8 0 1 0 5.0 0a2.5 0.8 0 1 0 -5.0 0M300.2 42.8a2.0 1.1 0 1 0 4.1 0a2.0 1.1 0 1 0 -4.1 0M300.6 84.8a1.0 1.1 0 1 0 2.1 0a1.0 1.1 0 1 0 -2.1 0M323.0 106.1a1.7 1.0 0 1 0 3.3 0a1.7 1.0 0 1 0 -3.3 0M277.5 100.6a2.3 0.7 0 1 0 4.6 0a2.3 0.7 0 1 0 -4.6 0M261.9 62.2a1.7 1.0 0 1 0 3.4 0a1.7 1.0 0 1 0 -3.4 0M288.9 28.3a2.2 0.5 0 1 0 4.4 0a2.2 0.5 0 1 0 -4.4 0M311.1 40.2a1.3 1.0 0 1 0 2.5 0a1.3 1.0 0 1 0 -2.5 0M290.8 85.3a2.3 1.0 0 1 0 4.6 0a2.3 1.0 0 1 0 -4.6 0M319.8 66.4a2.5 0.5 0 1 0 5.0 0a2.5 0.5 0 1 0 -5.0 0M271.9 69.2a1.2 1.0 0 1 0 2.4 0a1.2 1.0 0 1 0 -2.4 0M299.2 68.9a2.3 0.8 0 1 0 4.6 0a2.3 0.8 0 1 0 -4.6 0M276.9 57.3a2.3 1.1 0 1 0 4.6 0a2.3 1.1 0 1 0 -4.6 0M269.6 95.8a2.5 0.8 0 1 0 5.1 0a2.5 0.8 0 1 0 -5.1 0M295.3 42.5a1.7 0.8 0 1 0 3.3 0a1.7 0.8 0 1 0 -3.3 0M296.6 28.3a2.5 0.8 0 1 0 5.1 0a2.5 0.8 0 1 0 -5.1 0M283.5 91.7a1.7 0.8 0 1 0 3.5 0a1.7 0.8 0 1 0 -3.5 0M303.3 31.4a1.7 0.7 0 1 0 3.4 0a1.7 0.7 0 1 0 -3.4 0M321.9 101.7a1.1 0.8 0 1 0 2.3 0a1.1 0.8 0 1 0 -2.3 0"/>
<path d="M282,13 C297,9 314,10 326,16" stroke="#93d3ec" stroke-width="1.2" fill="none"/>
<path d="M223,38 C228,30 237,24 250,19 C264,14 277,8 297,10" stroke="#9fd4ec" stroke-width="0.8" fill="none"/>
<path d="M223,62 C228,75 234,88 242,100 L246,109" stroke="#9fd4ec" stroke-width="0.8" fill="none"/>
<polygon points="219.0,25.0 221.0,40.0 221.3,46.5 224.0,55.0 226.8,64.2 230.5,75.0 234.6,86.2 238.5,95.0 242.3,103.9 246.7,110.0 262.0,110.0 253.3,103.9 246.7,95.0 242.3,86.2 237.9,75.2 234.6,64.2 230.1,55.3 225.7,46.5 225.5,38.0 226.8,33.2 226.0,25.0" fill="#93d3ec"/>
<path d="M222,69 C226,75 231,83 235,89 C237,92 239,94 241,96" stroke="#93d3ec" stroke-width="2.2" fill="none"/>
<path d="M220,94 C226,96 232,98 238,100" stroke="#93d3ec" stroke-width="1.8" fill="none"/>
<path d="M226,103 C234,104 244,106 256,108 L268,110" stroke="#93d3ec" stroke-width="3" fill="none"/>
<path d="M222,96 C228,100 232,104 236,109" stroke="#93d3ec" stroke-width="1.2" fill="none"/>
<path fill="#2e8fd6" d="M274.7 11.4h1.85v1.85h-1.85zM283.2 11.4h1.85v1.85h-1.85zM291.7 11.4h1.85v1.85h-1.85zM267.9 13.1h1.85v1.85h-1.85zM279.8 13.1h1.85v1.85h-1.85zM295.1 13.1h1.85v1.85h-1.85zM269.6 14.8h1.85v1.85h-1.85zM273.0 14.8h1.85v1.85h-1.85zM288.3 14.8h1.85v1.85h-1.85zM290.0 14.8h1.85v1.85h-1.85zM293.4 14.8h1.85v1.85h-1.85zM298.5 14.8h1.85v1.85h-1.85zM307.0 14.8h1.85v1.85h-1.85zM262.8 16.5h1.85v1.85h-1.85zM266.2 16.5h1.85v1.85h-1.85zM269.6 16.5h1.85v1.85h-1.85zM276.4 16.5h1.85v1.85h-1.85zM278.1 16.5h1.85v1.85h-1.85zM293.4 16.5h1.85v1.85h-1.85zM295.1 16.5h1.85v1.85h-1.85zM298.5 16.5h1.85v1.85h-1.85zM300.2 16.5h1.85v1.85h-1.85zM303.6 16.5h1.85v1.85h-1.85zM305.3 16.5h1.85v1.85h-1.85zM310.4 16.5h1.85v1.85h-1.85zM315.5 16.5h1.85v1.85h-1.85zM257.7 18.2h1.85v1.85h-1.85zM271.3 18.2h1.85v1.85h-1.85zM273.0 18.2h1.85v1.85h-1.85zM286.6 18.2h1.85v1.85h-1.85zM296.8 18.2h1.85v1.85h-1.85zM300.2 18.2h1.85v1.85h-1.85zM303.6 18.2h1.85v1.85h-1.85zM307.0 18.2h1.85v1.85h-1.85zM308.7 18.2h1.85v1.85h-1.85zM313.8 18.2h1.85v1.85h-1.85zM249.2 19.9h1.85v1.85h-1.85zM254.3 19.9h1.85v1.85h-1.85zM257.7 19.9h1.85v1.85h-1.85zM264.5 19.9h1.85v1.85h-1.85zM266.2 19.9h1.85v1.85h-1.85zM267.9 19.9h1.85v1.85h-1.85zM269.6 19.9h1.85v1.85h-1.85zM271.3 19.9h1.85v1.85h-1.85zM274.7 19.9h1.85v1.85h-1.85zM288.3 19.9h1.85v1.85h-1.85zM290.0 19.9h1.85v1.85h-1.85zM293.4 19.9h1.85v1.85h-1.85zM296.8 19.9h1.85v1.85h-1.85zM298.5 19.9h1.85v1.85h-1.85zM301.9 19.9h1.85v1.85h-1.85zM305.3 19.9h1.85v1.85h-1.85zM242.4 21.6h1.85v1.85h-1.85zM261.1 21.6h1.85v1.85h-1.85zM264.5 21.6h1.85v1.85h-1.85zM266.2 21.6h1.85v1.85h-1.85zM269.6 21.6h1.85v1.85h-1.85zM278.1 21.6h1.85v1.85h-1.85zM284.9 21.6h1.85v1.85h-1.85zM290.0 21.6h1.85v1.85h-1.85zM291.7 21.6h1.85v1.85h-1.85zM295.1 21.6h1.85v1.85h-1.85zM296.8 21.6h1.85v1.85h-1.85zM298.5 21.6h1.85v1.85h-1.85zM300.2 21.6h1.85v1.85h-1.85zM242.4 23.3h1.85v1.85h-1.85zM250.9 23.3h1.85v1.85h-1.85zM269.6 23.3h1.85v1.85h-1.85zM273.0 23.3h1.85v1.85h-1.85zM290.0 23.3h1.85v1.85h-1.85zM291.7 23.3h1.85v1.85h-1.85zM242.4 25.0h1.85v1.85h-1.85zM244.1 25.0h1.85v1.85h-1.85zM257.7 25.0h1.85v1.85h-1.85zM261.1 25.0h1.85v1.85h-1.85zM264.5 25.0h1.85v1.85h-1.85zM284.9 25.0h1.85v1.85h-1.85zM288.3 25.0h1.85v1.85h-1.85zM291.7 25.0h1.85v1.85h-1.85zM235.6 26.7h1.85v1.85h-1.85zM237.3 26.7h1.85v1.85h-1.85zM245.8 26.7h1.85v1.85h-1.85zM256.0 26.7h1.85v1.85h-1.85zM259.4 26.7h1.85v1.85h-1.85zM262.8 26.7h1.85v1.85h-1.85zM264.5 26.7h1.85v1.85h-1.85zM290.0 26.7h1.85v1.85h-1.85zM240.7 28.4h1.85v1.85h-1.85zM244.1 28.4h1.85v1.85h-1.85zM247.5 28.4h1.85v1.85h-1.85zM264.5 28.4h1.85v1.85h-1.85zM266.2 28.4h1.85v1.85h-1.85zM267.9 28.4h1.85v1.85h-1.85zM228.8 30.1h1.85v1.85h-1.85zM235.6 30.1h1.85v1.85h-1.85zM237.3 30.1h1.85v1.85h-1.85zM239.0 30.1h1.85v1.85h-1.85zM242.4 30.1h1.85v1.85h-1.85zM249.2 30.1h1.85v1.85h-1.85zM252.6 30.1h1.85v1.85h-1.85zM257.7 30.1h1.85v1.85h-1.85zM259.4 30.1h1.85v1.85h-1.85zM274.7 30.1h1.85v1.85h-1.85zM276.4 30.1h1.85v1.85h-1.85zM278.1 30.1h1.85v1.85h-1.85zM279.8 30.1h1.85v1.85h-1.85zM281.5 30.1h1.85v1.85h-1.85zM227.1 31.8h1.85v1.85h-1.85zM237.3 31.8h1.85v1.85h-1.85zM242.4 31.8h1.85v1.85h-1.85zM273.0 31.8h1.85v1.85h-1.85zM276.4 31.8h1.85v1.85h-1.85zM279.8 31.8h1.85v1.85h-1.85zM225.4 33.5h1.85v1.85h-1.85zM227.1 33.5h1.85v1.85h-1.85zM230.5 33.5h1.85v1.85h-1.85zM240.7 33.5h1.85v1.85h-1.85zM242.4 33.5h1.85v1.85h-1.85zM245.8 33.5h1.85v1.85h-1.85zM259.4 33.5h1.85v1.85h-1.85zM269.6 33.5h1.85v1.85h-1.85zM279.8 33.5h1.85v1.85h-1.85zM225.4 35.2h1.85v1.85h-1.85zM227.1 35.2h1.85v1.85h-1.85zM244.1 35.2h1.85v1.85h-1.85zM245.8 35.2h1.85v1.85h-1.85zM250.9 35.2h1.85v1.85h-1.85zM261.1 35.2h1.85v1.85h-1.85zM262.8 35.2h1.85v1.85h-1.85zM269.6 35.2h1.85v1.85h-1.85zM225.4 36.9h1.85v1.85h-1.85zM228.8 36.9h1.85v1.85h-1.85zM230.5 36.9h1.85v1.85h-1.85zM233.9 36.9h1.85v1.85h-1.85zM235.6 36.9h1.85v1.85h-1.85zM242.4 36.9h1.85v1.85h-1.85zM244.1 36.9h1.85v1.85h-1.85zM245.8 36.9h1.85v1.85h-1.85zM249.2 36.9h1.85v1.85h-1.85zM262.8 36.9h1.85v1.85h-1.85zM269.6 36.9h1.85v1.85h-1.85zM271.3 36.9h1.85v1.85h-1.85zM225.4 38.6h1.85v1.85h-1.85zM232.2 38.6h1.85v1.85h-1.85zM254.3 38.6h1.85v1.85h-1.85zM261.1 38.6h1.85v1.85h-1.85zM225.4 40.3h1.85v1.85h-1.85zM228.8 40.3h1.85v1.85h-1.85zM237.3 40.3h1.85v1.85h-1.85zM242.4 40.3h1.85v1.85h-1.85zM245.8 40.3h1.85v1.85h-1.85zM252.6 40.3h1.85v1.85h-1.85zM256.0 40.3h1.85v1.85h-1.85zM259.4 40.3h1.85v1.85h-1.85zM267.9 40.3h1.85v1.85h-1.85zM269.6 40.3h1.85v1.85h-1.85zM225.4 42.0h1.85v1.85h-1.85zM228.8 42.0h1.85v1.85h-1.85zM252.6 42.0h1.85v1.85h-1.85zM256.0 42.0h1.85v1.85h-1.85zM261.1 42.0h1.85v1.85h-1.85zM267.9 42.0h1.85v1.85h-1.85zM225.4 43.7h1.85v1.85h-1.85zM240.7 43.7h1.85v1.85h-1.85zM254.3 43.7h1.85v1.85h-1.85zM264.5 43.7h1.85v1.85h-1.85zM266.2 43.7h1.85v1.85h-1.85zM227.1 45.4h1.85v1.85h-1.85zM239.0 45.4h1.85v1.85h-1.85zM242.4 45.4h1.85v1.85h-1.85zM259.4 45.4h1.85v1.85h-1.85zM261.1 45.4h1.85v1.85h-1.85zM262.8 45.4h1.85v1.85h-1.85zM264.5 45.4h1.85v1.85h-1.85zM227.1 47.1h1.85v1.85h-1.85zM228.8 47.1h1.85v1.85h-1.85zM239.0 47.1h1.85v1.85h-1.85zM244.1 47.1h1.85v1.85h-1.85zM254.3 47.1h1.85v1.85h-1.85zM261.1 47.1h1.85v1.85h-1.85zM262.8 47.1h1.85v1.85h-1.85zM228.8 48.8h1.85v1.85h-1.85zM235.6 48.8h1.85v1.85h-1.85zM244.1 48.8h1.85v1.85h-1.85zM247.5 48.8h1.85v1.85h-1.85zM252.6 48.8h1.85v1.85h-1.85zM257.7 48.8h1.85v1.85h-1.85zM259.4 48.8h1.85v1.85h-1.85zM261.1 48.8h1.85v1.85h-1.85zM230.5 50.5h1.85v1.85h-1.85zM233.9 50.5h1.85v1.85h-1.85zM239.0 50.5h1.85v1.85h-1.85zM247.5 50.5h1.85v1.85h-1.85zM254.3 50.5h1.85v1.85h-1.85zM257.7 50.5h1.85v1.85h-1.85zM259.4 50.5h1.85v1.85h-1.85zM228.8 52.2h1.85v1.85h-1.85zM237.3 52.2h1.85v1.85h-1.85zM242.4 52.2h1.85v1.85h-1.85zM252.6 52.2h1.85v1.85h-1.85zM256.0 52.2h1.85v1.85h-1.85zM257.7 52.2h1.85v1.85h-1.85zM235.6 53.9h1.85v1.85h-1.85zM252.6 53.9h1.85v1.85h-1.85zM254.3 53.9h1.85v1.85h-1.85zM256.0 53.9h1.85v1.85h-1.85zM230.5 55.6h1.85v1.85h-1.85zM232.2 55.6h1.85v1.85h-1.85zM233.9 55.6h1.85v1.85h-1.85zM235.6 55.6h1.85v1.85h-1.85zM252.6 55.6h1.85v1.85h-1.85zM254.3 55.6h1.85v1.85h-1.85zM235.6 57.3h1.85v1.85h-1.85zM252.6 57.3h1.85v1.85h-1.85zM254.3 57.3h1.85v1.85h-1.85zM232.2 59.0h1.85v1.85h-1.85zM233.9 59.0h1.85v1.85h-1.85zM235.6 59.0h1.85v1.85h-1.85zM237.3 59.0h1.85v1.85h-1.85zM245.8 59.0h1.85v1.85h-1.85zM250.9 59.0h1.85v1.85h-1.85zM254.3 59.0h1.85v1.85h-1.85zM233.9 60.7h1.85v1.85h-1.85zM235.6 60.7h1.85v1.85h-1.85zM240.7 60.7h1.85v1.85h-1.85zM244.1 60.7h1.85v1.85h-1.85zM245.8 60.7h1.85v1.85h-1.85zM247.5 60.7h1.85v1.85h-1.85zM252.6 60.7h1.85v1.85h-1.85zM233.9 62.4h1.85v1.85h-1.85zM235.6 62.4h1.85v1.85h-1.85zM237.3 62.4h1.85v1.85h-1.85zM240.7 62.4h1.85v1.85h-1.85zM242.4 62.4h1.85v1.85h-1.85zM252.6 62.4h1.85v1.85h-1.85zM235.6 64.1h1.85v1.85h-1.85zM240.7 64.1h1.85v1.85h-1.85zM247.5 64.1h1.85v1.85h-1.85zM250.9 64.1h1.85v1.85h-1.85zM252.6 64.1h1.85v1.85h-1.85zM235.6 65.8h1.85v1.85h-1.85zM242.4 65.8h1.85v1.85h-1.85zM245.8 65.8h1.85v1.85h-1.85zM250.9 65.8h1.85v1.85h-1.85zM235.6 67.5h1.85v1.85h-1.85zM250.9 67.5h1.85v1.85h-1.85zM252.6 67.5h1.85v1.85h-1.85zM235.6 69.2h1.85v1.85h-1.85zM237.3 69.2h1.85v1.85h-1.85zM244.1 69.2h1.85v1.85h-1.85zM250.9 69.2h1.85v1.85h-1.85zM252.6 69.2h1.85v1.85h-1.85zM239.0 70.9h1.85v1.85h-1.85zM247.5 70.9h1.85v1.85h-1.85zM250.9 70.9h1.85v1.85h-1.85zM252.6 70.9h1.85v1.85h-1.85zM237.3 72.6h1.85v1.85h-1.85zM249.2 72.6h1.85v1.85h-1.85zM250.9 72.6h1.85v1.85h-1.85zM252.6 72.6h1.85v1.85h-1.85zM237.3 74.3h1.85v1.85h-1.85zM239.0 74.3h1.85v1.85h-1.85zM244.1 74.3h1.85v1.85h-1.85zM250.9 74.3h1.85v1.85h-1.85zM239.0 76.0h1.85v1.85h-1.85zM250.9 76.0h1.85v1.85h-1.85zM240.7 77.7h1.85v1.85h-1.85zM245.8 77.7h1.85v1.85h-1.85zM252.6 77.7h1.85v1.85h-1.85zM240.7 79.4h1.85v1.85h-1.85zM247.5 79.4h1.85v1.85h-1.85zM250.9 79.4h1.85v1.85h-1.85zM240.7 81.1h1.85v1.85h-1.85zM250.9 81.1h1.85v1.85h-1.85zM252.6 81.1h1.85v1.85h-1.85zM240.7 82.8h1.85v1.85h-1.85zM242.4 82.8h1.85v1.85h-1.85zM247.5 82.8h1.85v1.85h-1.85zM250.9 82.8h1.85v1.85h-1.85zM244.1 84.5h1.85v1.85h-1.85zM250.9 84.5h1.85v1.85h-1.85zM242.4 86.2h1.85v1.85h-1.85zM244.1 86.2h1.85v1.85h-1.85zM250.9 86.2h1.85v1.85h-1.85zM252.6 86.2h1.85v1.85h-1.85zM244.1 87.9h1.85v1.85h-1.85zM245.8 87.9h1.85v1.85h-1.85zM247.5 87.9h1.85v1.85h-1.85zM249.2 87.9h1.85v1.85h-1.85zM250.9 87.9h1.85v1.85h-1.85zM252.6 87.9h1.85v1.85h-1.85zM244.1 89.6h1.85v1.85h-1.85zM245.8 89.6h1.85v1.85h-1.85zM247.5 89.6h1.85v1.85h-1.85zM249.2 89.6h1.85v1.85h-1.85zM250.9 89.6h1.85v1.85h-1.85zM252.6 89.6h1.85v1.85h-1.85zM254.3 89.6h1.85v1.85h-1.85zM245.8 91.3h1.85v1.85h-1.85zM247.5 91.3h1.85v1.85h-1.85zM249.2 91.3h1.85v1.85h-1.85zM250.9 91.3h1.85v1.85h-1.85zM252.6 91.3h1.85v1.85h-1.85zM254.3 91.3h1.85v1.85h-1.85zM245.8 93.0h1.85v1.85h-1.85zM247.5 93.0h1.85v1.85h-1.85zM249.2 93.0h1.85v1.85h-1.85zM250.9 93.0h1.85v1.85h-1.85zM252.6 93.0h1.85v1.85h-1.85zM254.3 93.0h1.85v1.85h-1.85zM247.5 94.7h1.85v1.85h-1.85zM249.2 94.7h1.85v1.85h-1.85zM250.9 94.7h1.85v1.85h-1.85zM252.6 94.7h1.85v1.85h-1.85zM254.3 94.7h1.85v1.85h-1.85zM249.2 96.4h1.85v1.85h-1.85zM250.9 96.4h1.85v1.85h-1.85zM252.6 96.4h1.85v1.85h-1.85zM254.3 96.4h1.85v1.85h-1.85zM250.9 98.1h1.85v1.85h-1.85zM252.6 98.1h1.85v1.85h-1.85zM254.3 98.1h1.85v1.85h-1.85zM256.0 98.1h1.85v1.85h-1.85zM250.9 99.8h1.85v1.85h-1.85zM252.6 99.8h1.85v1.85h-1.85zM254.3 99.8h1.85v1.85h-1.85zM257.7 99.8h1.85v1.85h-1.85zM252.6 101.5h1.85v1.85h-1.85zM254.3 101.5h1.85v1.85h-1.85zM256.0 101.5h1.85v1.85h-1.85zM257.7 101.5h1.85v1.85h-1.85zM254.3 103.2h1.85v1.85h-1.85zM257.7 103.2h1.85v1.85h-1.85zM256.0 104.9h1.85v1.85h-1.85zM257.7 104.9h1.85v1.85h-1.85z"/>
<path fill="#a6cf9a" d="M276.4 14.8h1.85v1.85h-1.85zM278.1 14.8h1.85v1.85h-1.85zM286.6 14.8h1.85v1.85h-1.85zM290.0 16.5h1.85v1.85h-1.85zM290.0 18.2h1.85v1.85h-1.85zM259.4 21.6h1.85v1.85h-1.85zM262.8 21.6h1.85v1.85h-1.85zM249.2 25.0h1.85v1.85h-1.85zM276.4 26.7h1.85v1.85h-1.85zM233.9 28.4h1.85v1.85h-1.85zM284.9 28.4h1.85v1.85h-1.85zM240.7 30.1h1.85v1.85h-1.85zM245.8 30.1h1.85v1.85h-1.85zM273.0 30.1h1.85v1.85h-1.85zM230.5 31.8h1.85v1.85h-1.85zM259.4 31.8h1.85v1.85h-1.85zM256.0 36.9h1.85v1.85h-1.85zM247.5 38.6h1.85v1.85h-1.85zM233.9 40.3h1.85v1.85h-1.85zM237.3 42.0h1.85v1.85h-1.85zM257.7 43.7h1.85v1.85h-1.85zM256.0 47.1h1.85v1.85h-1.85zM245.8 64.1h1.85v1.85h-1.85zM242.4 67.5h1.85v1.85h-1.85zM244.1 67.5h1.85v1.85h-1.85zM247.5 67.5h1.85v1.85h-1.85zM240.7 69.2h1.85v1.85h-1.85zM237.3 70.9h1.85v1.85h-1.85zM244.1 72.6h1.85v1.85h-1.85zM245.8 84.5h1.85v1.85h-1.85zM256.0 99.8h1.85v1.85h-1.85z"/>
<path fill="#f7ef4e" d="M273.0 11.4h1.85v1.85h-1.85zM276.4 11.4h1.85v1.85h-1.85zM288.3 11.4h1.85v1.85h-1.85zM278.1 13.1h1.85v1.85h-1.85zM286.6 13.1h1.85v1.85h-1.85zM300.2 13.1h1.85v1.85h-1.85zM266.2 14.8h1.85v1.85h-1.85zM271.3 14.8h1.85v1.85h-1.85zM279.8 14.8h1.85v1.85h-1.85zM284.9 14.8h1.85v1.85h-1.85zM291.7 14.8h1.85v1.85h-1.85zM295.1 14.8h1.85v1.85h-1.85zM308.7 14.8h1.85v1.85h-1.85zM273.0 16.5h1.85v1.85h-1.85zM281.5 16.5h1.85v1.85h-1.85zM283.2 16.5h1.85v1.85h-1.85zM284.9 16.5h1.85v1.85h-1.85zM288.3 16.5h1.85v1.85h-1.85zM296.8 16.5h1.85v1.85h-1.85zM301.9 16.5h1.85v1.85h-1.85zM307.0 16.5h1.85v1.85h-1.85zM308.7 16.5h1.85v1.85h-1.85zM313.8 16.5h1.85v1.85h-1.85zM254.3 18.2h1.85v1.85h-1.85zM262.8 18.2h1.85v1.85h-1.85zM266.2 18.2h1.85v1.85h-1.85zM267.9 18.2h1.85v1.85h-1.85zM276.4 18.2h1.85v1.85h-1.85zM283.2 18.2h1.85v1.85h-1.85zM284.9 18.2h1.85v1.85h-1.85zM288.3 18.2h1.85v1.85h-1.85zM298.5 18.2h1.85v1.85h-1.85zM312.1 18.2h1.85v1.85h-1.85zM259.4 19.9h1.85v1.85h-1.85zM261.1 19.9h1.85v1.85h-1.85zM276.4 19.9h1.85v1.85h-1.85zM278.1 19.9h1.85v1.85h-1.85zM281.5 19.9h1.85v1.85h-1.85zM283.2 19.9h1.85v1.85h-1.85zM286.6 19.9h1.85v1.85h-1.85zM244.1 21.6h1.85v1.85h-1.85zM249.2 21.6h1.85v1.85h-1.85zM250.9 21.6h1.85v1.85h-1.85zM257.7 21.6h1.85v1.85h-1.85zM267.9 21.6h1.85v1.85h-1.85zM271.3 21.6h1.85v1.85h-1.85zM281.5 21.6h1.85v1.85h-1.85zM288.3 21.6h1.85v1.85h-1.85zM237.3 23.3h1.85v1.85h-1.85zM249.2 23.3h1.85v1.85h-1.85zM254.3 23.3h1.85v1.85h-1.85zM256.0 23.3h1.85v1.85h-1.85zM257.7 23.3h1.85v1.85h-1.85zM259.4 23.3h1.85v1.85h-1.85zM262.8 23.3h1.85v1.85h-1.85zM264.5 23.3h1.85v1.85h-1.85zM267.9 23.3h1.85v1.85h-1.85zM271.3 23.3h1.85v1.85h-1.85zM274.7 23.3h1.85v1.85h-1.85zM276.4 23.3h1.85v1.85h-1.85zM232.2 25.0h1.85v1.85h-1.85zM233.9 25.0h1.85v1.85h-1.85zM237.3 25.0h1.85v1.85h-1.85zM239.0 25.0h1.85v1.85h-1.85zM245.8 25.0h1.85v1.85h-1.85zM250.9 25.0h1.85v1.85h-1.85zM252.6 25.0h1.85v1.85h-1.85zM266.2 25.0h1.85v1.85h-1.85zM276.4 25.0h1.85v1.85h-1.85zM278.1 25.0h1.85v1.85h-1.85zM281.5 25.0h1.85v1.85h-1.85zM290.0 25.0h1.85v1.85h-1.85zM233.9 26.7h1.85v1.85h-1.85zM242.4 26.7h1.85v1.85h-1.85zM247.5 26.7h1.85v1.85h-1.85zM249.2 26.7h1.85v1.85h-1.85zM250.9 26.7h1.85v1.85h-1.85zM257.7 26.7h1.85v1.85h-1.85zM269.6 26.7h1.85v1.85h-1.85zM271.3 26.7h1.85v1.85h-1.85zM274.7 26.7h1.85v1.85h-1.85zM279.8 26.7h1.85v1.85h-1.85zM284.9 26.7h1.85v1.85h-1.85zM232.2 28.4h1.85v1.85h-1.85zM245.8 28.4h1.85v1.85h-1.85zM252.6 28.4h1.85v1.85h-1.85zM257.7 28.4h1.85v1.85h-1.85zM261.1 28.4h1.85v1.85h-1.85zM269.6 28.4h1.85v1.85h-1.85zM273.0 28.4h1.85v1.85h-1.85zM274.7 28.4h1.85v1.85h-1.85zM278.1 28.4h1.85v1.85h-1.85zM281.5 28.4h1.85v1.85h-1.85zM230.5 30.1h1.85v1.85h-1.85zM232.2 30.1h1.85v1.85h-1.85zM233.9 30.1h1.85v1.85h-1.85zM244.1 30.1h1.85v1.85h-1.85zM247.5 30.1h1.85v1.85h-1.85zM250.9 30.1h1.85v1.85h-1.85zM254.3 30.1h1.85v1.85h-1.85zM256.0 30.1h1.85v1.85h-1.85zM261.1 30.1h1.85v1.85h-1.85zM264.5 30.1h1.85v1.85h-1.85zM266.2 30.1h1.85v1.85h-1.85zM269.6 30.1h1.85v1.85h-1.85zM233.9 31.8h1.85v1.85h-1.85zM239.0 31.8h1.85v1.85h-1.85zM247.5 31.8h1.85v1.85h-1.85zM249.2 31.8h1.85v1.85h-1.85zM252.6 31.8h1.85v1.85h-1.85zM256.0 31.8h1.85v1.85h-1.85zM257.7 31.8h1.85v1.85h-1.85zM262.8 31.8h1.85v1.85h-1.85zM267.9 31.8h1.85v1.85h-1.85zM271.3 31.8h1.85v1.85h-1.85zM278.1 31.8h1.85v1.85h-1.85zM281.5 31.8h1.85v1.85h-1.85zM239.0 33.5h1.85v1.85h-1.85zM244.1 33.5h1.85v1.85h-1.85zM247.5 33.5h1.85v1.85h-1.85zM249.2 33.5h1.85v1.85h-1.85zM250.9 33.5h1.85v1.85h-1.85zM256.0 33.5h1.85v1.85h-1.85zM257.7 33.5h1.85v1.85h-1.85zM262.8 33.5h1.85v1.85h-1.85zM266.2 33.5h1.85v1.85h-1.85zM274.7 33.5h1.85v1.85h-1.85zM278.1 33.5h1.85v1.85h-1.85zM233.9 35.2h1.85v1.85h-1.85zM239.0 35.2h1.85v1.85h-1.85zM247.5 35.2h1.85v1.85h-1.85zM252.6 35.2h1.85v1.85h-1.85zM254.3 35.2h1.85v1.85h-1.85zM257.7 35.2h1.85v1.85h-1.85zM259.4 35.2h1.85v1.85h-1.85zM267.9 35.2h1.85v1.85h-1.85zM247.5 36.9h1.85v1.85h-1.85zM250.9 36.9h1.85v1.85h-1.85zM252.6 36.9h1.85v1.85h-1.85zM254.3 36.9h1.85v1.85h-1.85zM261.1 36.9h1.85v1.85h-1.85zM267.9 36.9h1.85v1.85h-1.85zM228.8 38.6h1.85v1.85h-1.85zM230.5 38.6h1.85v1.85h-1.85zM235.6 38.6h1.85v1.85h-1.85zM237.3 38.6h1.85v1.85h-1.85zM239.0 38.6h1.85v1.85h-1.85zM240.7 38.6h1.85v1.85h-1.85zM250.9 38.6h1.85v1.85h-1.85zM256.0 38.6h1.85v1.85h-1.85zM262.8 38.6h1.85v1.85h-1.85zM266.2 38.6h1.85v1.85h-1.85zM269.6 38.6h1.85v1.85h-1.85zM271.3 38.6h1.85v1.85h-1.85zM227.1 40.3h1.85v1.85h-1.85zM247.5 40.3h1.85v1.85h-1.85zM250.9 40.3h1.85v1.85h-1.85zM254.3 40.3h1.85v1.85h-1.85zM262.8 40.3h1.85v1.85h-1.85zM266.2 40.3h1.85v1.85h-1.85zM227.1 42.0h1.85v1.85h-1.85zM232.2 42.0h1.85v1.85h-1.85zM245.8 42.0h1.85v1.85h-1.85zM249.2 42.0h1.85v1.85h-1.85zM254.3 42.0h1.85v1.85h-1.85zM257.7 42.0h1.85v1.85h-1.85zM259.4 42.0h1.85v1.85h-1.85zM227.1 43.7h1.85v1.85h-1.85zM228.8 43.7h1.85v1.85h-1.85zM230.5 43.7h1.85v1.85h-1.85zM232.2 43.7h1.85v1.85h-1.85zM237.3 43.7h1.85v1.85h-1.85zM239.0 43.7h1.85v1.85h-1.85zM259.4 43.7h1.85v1.85h-1.85zM261.1 43.7h1.85v1.85h-1.85zM230.5 45.4h1.85v1.85h-1.85zM233.9 45.4h1.85v1.85h-1.85zM235.6 45.4h1.85v1.85h-1.85zM237.3 45.4h1.85v1.85h-1.85zM240.7 45.4h1.85v1.85h-1.85zM249.2 45.4h1.85v1.85h-1.85zM250.9 45.4h1.85v1.85h-1.85zM252.6 45.4h1.85v1.85h-1.85zM256.0 45.4h1.85v1.85h-1.85zM230.5 47.1h1.85v1.85h-1.85zM232.2 47.1h1.85v1.85h-1.85zM235.6 47.1h1.85v1.85h-1.85zM242.4 47.1h1.85v1.85h-1.85zM245.8 47.1h1.85v1.85h-1.85zM249.2 47.1h1.85v1.85h-1.85zM252.6 47.1h1.85v1.85h-1.85zM259.4 47.1h1.85v1.85h-1.85zM232.2 48.8h1.85v1.85h-1.85zM242.4 48.8h1.85v1.85h-1.85zM245.8 48.8h1.85v1.85h-1.85zM249.2 48.8h1.85v1.85h-1.85zM254.3 48.8h1.85v1.85h-1.85zM256.0 48.8h1.85v1.85h-1.85zM232.2 50.5h1.85v1.85h-1.85zM235.6 50.5h1.85v1.85h-1.85zM237.3 50.5h1.85v1.85h-1.85zM240.7 50.5h1.85v1.85h-1.85zM242.4 50.5h1.85v1.85h-1.85zM244.1 50.5h1.85v1.85h-1.85zM249.2 50.5h1.85v1.85h-1.85zM252.6 50.5h1.85v1.85h-1.85zM233.9 52.2h1.85v1.85h-1.85zM239.0 52.2h1.85v1.85h-1.85zM247.5 52.2h1.85v1.85h-1.85zM250.9 52.2h1.85v1.85h-1.85zM233.9 53.9h1.85v1.85h-1.85zM240.7 53.9h1.85v1.85h-1.85zM244.1 53.9h1.85v1.85h-1.85zM245.8 53.9h1.85v1.85h-1.85zM247.5 53.9h1.85v1.85h-1.85zM249.2 53.9h1.85v1.85h-1.85zM240.7 55.6h1.85v1.85h-1.85zM242.4 55.6h1.85v1.85h-1.85zM244.1 55.6h1.85v1.85h-1.85zM247.5 55.6h1.85v1.85h-1.85zM249.2 55.6h1.85v1.85h-1.85zM239.0 57.3h1.85v1.85h-1.85zM240.7 57.3h1.85v1.85h-1.85zM242.4 57.3h1.85v1.85h-1.85zM244.1 57.3h1.85v1.85h-1.85zM245.8 57.3h1.85v1.85h-1.85zM239.0 59.0h1.85v1.85h-1.85zM244.1 59.0h1.85v1.85h-1.85zM249.2 59.0h1.85v1.85h-1.85zM239.0 60.7h1.85v1.85h-1.85zM249.2 60.7h1.85v1.85h-1.85zM244.1 62.4h1.85v1.85h-1.85zM245.8 62.4h1.85v1.85h-1.85zM247.5 62.4h1.85v1.85h-1.85zM249.2 62.4h1.85v1.85h-1.85zM250.9 62.4h1.85v1.85h-1.85zM237.3 64.1h1.85v1.85h-1.85zM239.0 64.1h1.85v1.85h-1.85zM249.2 64.1h1.85v1.85h-1.85zM240.7 65.8h1.85v1.85h-1.85zM249.2 65.8h1.85v1.85h-1.85zM252.6 65.8h1.85v1.85h-1.85zM237.3 67.5h1.85v1.85h-1.85zM249.2 67.5h1.85v1.85h-1.85zM239.0 69.2h1.85v1.85h-1.85zM242.4 69.2h1.85v1.85h-1.85zM249.2 69.2h1.85v1.85h-1.85zM244.1 70.9h1.85v1.85h-1.85zM242.4 72.6h1.85v1.85h-1.85zM247.5 72.6h1.85v1.85h-1.85zM242.4 74.3h1.85v1.85h-1.85zM249.2 74.3h1.85v1.85h-1.85zM242.4 76.0h1.85v1.85h-1.85zM247.5 76.0h1.85v1.85h-1.85zM252.6 76.0h1.85v1.85h-1.85zM242.4 77.7h1.85v1.85h-1.85zM250.9 77.7h1.85v1.85h-1.85zM242.4 79.4h1.85v1.85h-1.85zM244.1 79.4h1.85v1.85h-1.85zM245.8 79.4h1.85v1.85h-1.85zM249.2 79.4h1.85v1.85h-1.85zM252.6 79.4h1.85v1.85h-1.85zM242.4 81.1h1.85v1.85h-1.85zM247.5 81.1h1.85v1.85h-1.85zM249.2 82.8h1.85v1.85h-1.85zM247.5 84.5h1.85v1.85h-1.85zM252.6 84.5h1.85v1.85h-1.85zM245.8 86.2h1.85v1.85h-1.85zM249.2 86.2h1.85v1.85h-1.85zM256.0 96.4h1.85v1.85h-1.85zM249.2 98.1h1.85v1.85h-1.85z"/>
<path fill="#f79a2c" d="M278.1 9.7h1.85v1.85h-1.85zM271.3 11.4h1.85v1.85h-1.85zM281.5 11.4h1.85v1.85h-1.85zM286.6 11.4h1.85v1.85h-1.85zM290.0 11.4h1.85v1.85h-1.85zM269.6 13.1h1.85v1.85h-1.85zM283.2 13.1h1.85v1.85h-1.85zM284.9 13.1h1.85v1.85h-1.85zM288.3 13.1h1.85v1.85h-1.85zM290.0 13.1h1.85v1.85h-1.85zM293.4 13.1h1.85v1.85h-1.85zM298.5 13.1h1.85v1.85h-1.85zM264.5 14.8h1.85v1.85h-1.85zM274.7 14.8h1.85v1.85h-1.85zM300.2 14.8h1.85v1.85h-1.85zM301.9 14.8h1.85v1.85h-1.85zM303.6 14.8h1.85v1.85h-1.85zM305.3 14.8h1.85v1.85h-1.85zM261.1 16.5h1.85v1.85h-1.85zM264.5 16.5h1.85v1.85h-1.85zM267.9 16.5h1.85v1.85h-1.85zM271.3 16.5h1.85v1.85h-1.85zM274.7 16.5h1.85v1.85h-1.85zM286.6 16.5h1.85v1.85h-1.85zM291.7 16.5h1.85v1.85h-1.85zM264.5 18.2h1.85v1.85h-1.85zM279.8 18.2h1.85v1.85h-1.85zM281.5 18.2h1.85v1.85h-1.85zM291.7 18.2h1.85v1.85h-1.85zM295.1 18.2h1.85v1.85h-1.85zM301.9 18.2h1.85v1.85h-1.85zM305.3 18.2h1.85v1.85h-1.85zM310.4 18.2h1.85v1.85h-1.85zM262.8 19.9h1.85v1.85h-1.85zM279.8 19.9h1.85v1.85h-1.85zM284.9 19.9h1.85v1.85h-1.85zM291.7 19.9h1.85v1.85h-1.85zM295.1 19.9h1.85v1.85h-1.85zM300.2 19.9h1.85v1.85h-1.85zM303.6 19.9h1.85v1.85h-1.85zM240.7 21.6h1.85v1.85h-1.85zM252.6 21.6h1.85v1.85h-1.85zM254.3 21.6h1.85v1.85h-1.85zM256.0 21.6h1.85v1.85h-1.85zM273.0 21.6h1.85v1.85h-1.85zM276.4 21.6h1.85v1.85h-1.85zM279.8 21.6h1.85v1.85h-1.85zM286.6 21.6h1.85v1.85h-1.85zM293.4 21.6h1.85v1.85h-1.85zM240.7 23.3h1.85v1.85h-1.85zM244.1 23.3h1.85v1.85h-1.85zM245.8 23.3h1.85v1.85h-1.85zM247.5 23.3h1.85v1.85h-1.85zM261.1 23.3h1.85v1.85h-1.85zM266.2 23.3h1.85v1.85h-1.85zM278.1 23.3h1.85v1.85h-1.85zM279.8 23.3h1.85v1.85h-1.85zM283.2 23.3h1.85v1.85h-1.85zM286.6 23.3h1.85v1.85h-1.85zM288.3 23.3h1.85v1.85h-1.85zM293.4 23.3h1.85v1.85h-1.85zM240.7 25.0h1.85v1.85h-1.85zM247.5 25.0h1.85v1.85h-1.85zM256.0 25.0h1.85v1.85h-1.85zM259.4 25.0h1.85v1.85h-1.85zM267.9 25.0h1.85v1.85h-1.85zM269.6 25.0h1.85v1.85h-1.85zM273.0 25.0h1.85v1.85h-1.85zM274.7 25.0h1.85v1.85h-1.85zM279.8 25.0h1.85v1.85h-1.85zM283.2 25.0h1.85v1.85h-1.85zM286.6 25.0h1.85v1.85h-1.85zM230.5 26.7h1.85v1.85h-1.85zM232.2 26.7h1.85v1.85h-1.85zM239.0 26.7h1.85v1.85h-1.85zM240.7 26.7h1.85v1.85h-1.85zM252.6 26.7h1.85v1.85h-1.85zM261.1 26.7h1.85v1.85h-1.85zM266.2 26.7h1.85v1.85h-1.85zM267.9 26.7h1.85v1.85h-1.85zM273.0 26.7h1.85v1.85h-1.85zM281.5 26.7h1.85v1.85h-1.85zM286.6 26.7h1.85v1.85h-1.85zM288.3 26.7h1.85v1.85h-1.85zM228.8 28.4h1.85v1.85h-1.85zM230.5 28.4h1.85v1.85h-1.85zM235.6 28.4h1.85v1.85h-1.85zM237.3 28.4h1.85v1.85h-1.85zM242.4 28.4h1.85v1.85h-1.85zM254.3 28.4h1.85v1.85h-1.85zM256.0 28.4h1.85v1.85h-1.85zM262.8 28.4h1.85v1.85h-1.85zM271.3 28.4h1.85v1.85h-1.85zM276.4 28.4h1.85v1.85h-1.85zM279.8 28.4h1.85v1.85h-1.85zM283.2 28.4h1.85v1.85h-1.85zM286.6 28.4h1.85v1.85h-1.85zM262.8 30.1h1.85v1.85h-1.85zM267.9 30.1h1.85v1.85h-1.85zM232.2 31.8h1.85v1.85h-1.85zM244.1 31.8h1.85v1.85h-1.85zM245.8 31.8h1.85v1.85h-1.85zM250.9 31.8h1.85v1.85h-1.85zM254.3 31.8h1.85v1.85h-1.85zM261.1 31.8h1.85v1.85h-1.85zM269.6 31.8h1.85v1.85h-1.85zM228.8 33.5h1.85v1.85h-1.85zM233.9 33.5h1.85v1.85h-1.85zM235.6 33.5h1.85v1.85h-1.85zM237.3 33.5h1.85v1.85h-1.85zM252.6 33.5h1.85v1.85h-1.85zM254.3 33.5h1.85v1.85h-1.85zM261.1 33.5h1.85v1.85h-1.85zM264.5 33.5h1.85v1.85h-1.85zM267.9 33.5h1.85v1.85h-1.85zM271.3 33.5h1.85v1.85h-1.85zM273.0 33.5h1.85v1.85h-1.85zM228.8 35.2h1.85v1.85h-1.85zM237.3 35.2h1.85v1.85h-1.85zM249.2 35.2h1.85v1.85h-1.85zM256.0 35.2h1.85v1.85h-1.85zM264.5 35.2h1.85v1.85h-1.85zM271.3 35.2h1.85v1.85h-1.85zM273.0 35.2h1.85v1.85h-1.85zM276.4 35.2h1.85v1.85h-1.85zM232.2 36.9h1.85v1.85h-1.85zM237.3 36.9h1.85v1.85h-1.85zM257.7 36.9h1.85v1.85h-1.85zM264.5 36.9h1.85v1.85h-1.85zM274.7 36.9h1.85v1.85h-1.85zM242.4 38.6h1.85v1.85h-1.85zM249.2 38.6h1.85v1.85h-1.85zM259.4 38.6h1.85v1.85h-1.85zM230.5 40.3h1.85v1.85h-1.85zM232.2 40.3h1.85v1.85h-1.85zM239.0 40.3h1.85v1.85h-1.85zM240.7 40.3h1.85v1.85h-1.85zM249.2 40.3h1.85v1.85h-1.85zM261.1 40.3h1.85v1.85h-1.85zM235.6 42.0h1.85v1.85h-1.85zM239.0 42.0h1.85v1.85h-1.85zM240.7 42.0h1.85v1.85h-1.85zM242.4 42.0h1.85v1.85h-1.85zM244.1 42.0h1.85v1.85h-1.85zM262.8 42.0h1.85v1.85h-1.85zM264.5 42.0h1.85v1.85h-1.85zM266.2 42.0h1.85v1.85h-1.85zM242.4 43.7h1.85v1.85h-1.85zM244.1 43.7h1.85v1.85h-1.85zM247.5 43.7h1.85v1.85h-1.85zM250.9 43.7h1.85v1.85h-1.85zM252.6 43.7h1.85v1.85h-1.85zM262.8 43.7h1.85v1.85h-1.85zM225.4 45.4h1.85v1.85h-1.85zM228.8 45.4h1.85v1.85h-1.85zM245.8 45.4h1.85v1.85h-1.85zM257.7 45.4h1.85v1.85h-1.85zM233.9 47.1h1.85v1.85h-1.85zM237.3 47.1h1.85v1.85h-1.85zM240.7 47.1h1.85v1.85h-1.85zM257.7 47.1h1.85v1.85h-1.85zM227.1 48.8h1.85v1.85h-1.85zM230.5 48.8h1.85v1.85h-1.85zM237.3 48.8h1.85v1.85h-1.85zM239.0 48.8h1.85v1.85h-1.85zM245.8 50.5h1.85v1.85h-1.85zM250.9 50.5h1.85v1.85h-1.85zM230.5 52.2h1.85v1.85h-1.85zM235.6 52.2h1.85v1.85h-1.85zM240.7 52.2h1.85v1.85h-1.85zM245.8 52.2h1.85v1.85h-1.85zM249.2 52.2h1.85v1.85h-1.85zM254.3 52.2h1.85v1.85h-1.85zM230.5 53.9h1.85v1.85h-1.85zM237.3 53.9h1.85v1.85h-1.85zM239.0 53.9h1.85v1.85h-1.85zM242.4 53.9h1.85v1.85h-1.85zM250.9 53.9h1.85v1.85h-1.85zM239.0 55.6h1.85v1.85h-1.85zM245.8 55.6h1.85v1.85h-1.85zM250.9 55.6h1.85v1.85h-1.85zM232.2 57.3h1.85v1.85h-1.85zM237.3 57.3h1.85v1.85h-1.85zM247.5 57.3h1.85v1.85h-1.85zM249.2 57.3h1.85v1.85h-1.85zM240.7 59.0h1.85v1.85h-1.85zM247.5 59.0h1.85v1.85h-1.85zM252.6 59.0h1.85v1.85h-1.85zM237.3 60.7h1.85v1.85h-1.85zM239.0 62.4h1.85v1.85h-1.85zM242.4 64.1h1.85v1.85h-1.85zM244.1 64.1h1.85v1.85h-1.85zM237.3 65.8h1.85v1.85h-1.85zM239.0 65.8h1.85v1.85h-1.85zM244.1 65.8h1.85v1.85h-1.85zM247.5 65.8h1.85v1.85h-1.85zM239.0 67.5h1.85v1.85h-1.85zM245.8 69.2h1.85v1.85h-1.85zM247.5 69.2h1.85v1.85h-1.85zM242.4 70.9h1.85v1.85h-1.85zM245.8 70.9h1.85v1.85h-1.85zM249.2 70.9h1.85v1.85h-1.85zM239.0 72.6h1.85v1.85h-1.85zM245.8 72.6h1.85v1.85h-1.85zM240.7 74.3h1.85v1.85h-1.85zM245.8 74.3h1.85v1.85h-1.85zM247.5 74.3h1.85v1.85h-1.85zM240.7 76.0h1.85v1.85h-1.85zM244.1 76.0h1.85v1.85h-1.85zM245.8 76.0h1.85v1.85h-1.85zM249.2 76.0h1.85v1.85h-1.85zM249.2 81.1h1.85v1.85h-1.85zM242.4 84.5h1.85v1.85h-1.85zM247.5 86.2h1.85v1.85h-1.85zM256.0 103.2h1.85v1.85h-1.85z"/>
<path fill="#e5261b" d="M278.1 11.4h1.85v1.85h-1.85zM279.8 11.4h1.85v1.85h-1.85zM284.9 11.4h1.85v1.85h-1.85zM271.3 13.1h1.85v1.85h-1.85zM273.0 13.1h1.85v1.85h-1.85zM274.7 13.1h1.85v1.85h-1.85zM276.4 13.1h1.85v1.85h-1.85zM281.5 13.1h1.85v1.85h-1.85zM291.7 13.1h1.85v1.85h-1.85zM296.8 13.1h1.85v1.85h-1.85zM267.9 14.8h1.85v1.85h-1.85zM281.5 14.8h1.85v1.85h-1.85zM283.2 14.8h1.85v1.85h-1.85zM296.8 14.8h1.85v1.85h-1.85zM259.4 16.5h1.85v1.85h-1.85zM279.8 16.5h1.85v1.85h-1.85zM312.1 16.5h1.85v1.85h-1.85zM256.0 18.2h1.85v1.85h-1.85zM259.4 18.2h1.85v1.85h-1.85zM261.1 18.2h1.85v1.85h-1.85zM269.6 18.2h1.85v1.85h-1.85zM274.7 18.2h1.85v1.85h-1.85zM278.1 18.2h1.85v1.85h-1.85zM293.4 18.2h1.85v1.85h-1.85zM247.5 19.9h1.85v1.85h-1.85zM250.9 19.9h1.85v1.85h-1.85zM252.6 19.9h1.85v1.85h-1.85zM256.0 19.9h1.85v1.85h-1.85zM273.0 19.9h1.85v1.85h-1.85zM245.8 21.6h1.85v1.85h-1.85zM247.5 21.6h1.85v1.85h-1.85zM274.7 21.6h1.85v1.85h-1.85zM283.2 21.6h1.85v1.85h-1.85zM239.0 23.3h1.85v1.85h-1.85zM252.6 23.3h1.85v1.85h-1.85zM281.5 23.3h1.85v1.85h-1.85zM284.9 23.3h1.85v1.85h-1.85zM295.1 23.3h1.85v1.85h-1.85zM235.6 25.0h1.85v1.85h-1.85zM254.3 25.0h1.85v1.85h-1.85zM262.8 25.0h1.85v1.85h-1.85zM271.3 25.0h1.85v1.85h-1.85zM244.1 26.7h1.85v1.85h-1.85zM254.3 26.7h1.85v1.85h-1.85zM278.1 26.7h1.85v1.85h-1.85zM283.2 26.7h1.85v1.85h-1.85zM239.0 28.4h1.85v1.85h-1.85zM249.2 28.4h1.85v1.85h-1.85zM250.9 28.4h1.85v1.85h-1.85zM259.4 28.4h1.85v1.85h-1.85zM271.3 30.1h1.85v1.85h-1.85zM283.2 30.1h1.85v1.85h-1.85zM284.9 30.1h1.85v1.85h-1.85zM228.8 31.8h1.85v1.85h-1.85zM235.6 31.8h1.85v1.85h-1.85zM240.7 31.8h1.85v1.85h-1.85zM264.5 31.8h1.85v1.85h-1.85zM266.2 31.8h1.85v1.85h-1.85zM274.7 31.8h1.85v1.85h-1.85zM232.2 33.5h1.85v1.85h-1.85zM276.4 33.5h1.85v1.85h-1.85zM230.5 35.2h1.85v1.85h-1.85zM232.2 35.2h1.85v1.85h-1.85zM235.6 35.2h1.85v1.85h-1.85zM240.7 35.2h1.85v1.85h-1.85zM242.4 35.2h1.85v1.85h-1.85zM266.2 35.2h1.85v1.85h-1.85zM274.7 35.2h1.85v1.85h-1.85zM223.7 36.9h1.85v1.85h-1.85zM227.1 36.9h1.85v1.85h-1.85zM239.0 36.9h1.85v1.85h-1.85zM240.7 36.9h1.85v1.85h-1.85zM259.4 36.9h1.85v1.85h-1.85zM266.2 36.9h1.85v1.85h-1.85zM273.0 36.9h1.85v1.85h-1.85zM227.1 38.6h1.85v1.85h-1.85zM233.9 38.6h1.85v1.85h-1.85zM244.1 38.6h1.85v1.85h-1.85zM245.8 38.6h1.85v1.85h-1.85zM252.6 38.6h1.85v1.85h-1.85zM257.7 38.6h1.85v1.85h-1.85zM264.5 38.6h1.85v1.85h-1.85zM267.9 38.6h1.85v1.85h-1.85zM273.0 38.6h1.85v1.85h-1.85zM235.6 40.3h1.85v1.85h-1.85zM244.1 40.3h1.85v1.85h-1.85zM257.7 40.3h1.85v1.85h-1.85zM264.5 40.3h1.85v1.85h-1.85zM230.5 42.0h1.85v1.85h-1.85zM233.9 42.0h1.85v1.85h-1.85zM247.5 42.0h1.85v1.85h-1.85zM250.9 42.0h1.85v1.85h-1.85zM233.9 43.7h1.85v1.85h-1.85zM235.6 43.7h1.85v1.85h-1.85zM245.8 43.7h1.85v1.85h-1.85zM249.2 43.7h1.85v1.85h-1.85zM256.0 43.7h1.85v1.85h-1.85zM232.2 45.4h1.85v1.85h-1.85zM244.1 45.4h1.85v1.85h-1.85zM247.5 45.4h1.85v1.85h-1.85zM254.3 45.4h1.85v1.85h-1.85zM247.5 47.1h1.85v1.85h-1.85zM250.9 47.1h1.85v1.85h-1.85zM233.9 48.8h1.85v1.85h-1.85zM240.7 48.8h1.85v1.85h-1.85zM250.9 48.8h1.85v1.85h-1.85zM228.8 50.5h1.85v1.85h-1.85zM256.0 50.5h1.85v1.85h-1.85zM232.2 52.2h1.85v1.85h-1.85zM244.1 52.2h1.85v1.85h-1.85zM232.2 53.9h1.85v1.85h-1.85zM237.3 55.6h1.85v1.85h-1.85zM233.9 57.3h1.85v1.85h-1.85zM250.9 57.3h1.85v1.85h-1.85zM242.4 59.0h1.85v1.85h-1.85zM242.4 60.7h1.85v1.85h-1.85zM250.9 60.7h1.85v1.85h-1.85zM240.7 67.5h1.85v1.85h-1.85zM245.8 67.5h1.85v1.85h-1.85zM240.7 70.9h1.85v1.85h-1.85zM240.7 72.6h1.85v1.85h-1.85zM239.0 77.7h1.85v1.85h-1.85zM244.1 77.7h1.85v1.85h-1.85zM247.5 77.7h1.85v1.85h-1.85zM249.2 77.7h1.85v1.85h-1.85zM244.1 81.1h1.85v1.85h-1.85zM245.8 81.1h1.85v1.85h-1.85zM244.1 82.8h1.85v1.85h-1.85zM245.8 82.8h1.85v1.85h-1.85zM252.6 82.8h1.85v1.85h-1.85zM249.2 84.5h1.85v1.85h-1.85z"/>
<clipPath id="cW"><polygon points="224.2,36.6 228.0,31.0 232.9,25.7 243.8,21.4 254.7,19.2 263.4,15.9 271.0,12.1 278.7,10.5 288.0,11.2 297.4,13.3 310.6,15.5 318.5,17.5 315.0,20.0 305.3,21.0 294.7,25.2 278.8,35.7 265.6,46.3 256.6,55.3 254.4,64.2 253.3,75.2 254.4,86.2 256.6,95.0 260.0,103.9 258.0,106.5 253.3,103.9 246.7,95.0 242.3,86.2 237.9,75.2 234.6,64.2 230.1,55.3 225.7,46.5"/></clipPath>
<path clip-path="url(#cW)" fill="#2e8fd6" d="M307.7 18.7a1.0 1.2 0 1 0 2.0 0a1.0 1.2 0 1 0 -2.0 0M249.7 73.6a0.9 0.7 0 1 0 1.9 0a0.9 0.7 0 1 0 -1.9 0M290.5 13.6a1.5 1.3 0 1 0 2.9 0a1.5 1.3 0 1 0 -2.9 0M242.6 77.7a1.7 1.0 0 1 0 3.4 0a1.7 1.0 0 1 0 -3.4 0M243.6 66.3a1.0 1.2 0 1 0 2.1 0a1.0 1.2 0 1 0 -2.1 0M285.9 23.1a1.7 1.2 0 1 0 3.4 0a1.7 1.2 0 1 0 -3.4 0M244.4 25.8a1.9 0.9 0 1 0 3.8 0a1.9 0.9 0 1 0 -3.8 0M263.9 30.8a1.0 0.8 0 1 0 2.0 0a1.0 0.8 0 1 0 -2.0 0M241.0 85.4a1.2 1.2 0 1 0 2.5 0a1.2 1.2 0 1 0 -2.5 0M229.5 56.6a1.4 1.1 0 1 0 2.8 0a1.4 1.1 0 1 0 -2.8 0M242.2 35.2a1.0 1.0 0 1 0 2.1 0a1.0 1.0 0 1 0 -2.1 0M238.9 29.2a2.0 0.9 0 1 0 3.9 0a2.0 0.9 0 1 0 -3.9 0M252.7 38.2a1.6 1.0 0 1 0 3.2 0a1.6 1.0 0 1 0 -3.2 0M277.5 32.9a1.7 1.0 0 1 0 3.4 0a1.7 1.0 0 1 0 -3.4 0M236.3 37.4a1.2 1.2 0 1 0 2.3 0a1.2 1.2 0 1 0 -2.3 0M236.5 51.2a1.7 0.6 0 1 0 3.3 0a1.7 0.6 0 1 0 -3.3 0M248.3 39.3a1.0 0.7 0 1 0 2.1 0a1.0 0.7 0 1 0 -2.1 0M298.1 19.1a1.7 0.9 0 1 0 3.4 0a1.7 0.9 0 1 0 -3.4 0M226.7 35.5a1.3 0.9 0 1 0 2.6 0a1.3 0.9 0 1 0 -2.6 0M268.6 28.7a1.5 0.9 0 1 0 3.1 0a1.5 0.9 0 1 0 -3.1 0M259.6 29.8a1.6 0.7 0 1 0 3.2 0a1.6 0.7 0 1 0 -3.2 0M251.2 96.8a1.6 0.9 0 1 0 3.3 0a1.6 0.9 0 1 0 -3.3 0M248.7 28.6a1.7 1.2 0 1 0 3.4 0a1.7 1.2 0 1 0 -3.4 0M284.3 30.5a1.7 1.0 0 1 0 3.4 0a1.7 1.0 0 1 0 -3.4 0M252.5 69.4a1.0 1.0 0 1 0 2.1 0a1.0 1.0 0 1 0 -2.1 0M271.9 25.5a1.8 1.1 0 1 0 3.7 0a1.8 1.1 0 1 0 -3.7 0M294.4 18.0a1.8 0.6 0 1 0 3.6 0a1.8 0.6 0 1 0 -3.6 0M227.8 50.5a1.9 1.0 0 1 0 3.8 0a1.9 1.0 0 1 0 -3.8 0M252.6 88.2a1.3 1.2 0 1 0 2.6 0a1.3 1.2 0 1 0 -2.6 0M260.1 17.4a2.0 0.6 0 1 0 3.9 0a2.0 0.6 0 1 0 -3.9 0M247.0 84.0a1.0 1.0 0 1 0 2.1 0a1.0 1.0 0 1 0 -2.1 0M240.9 31.6a1.8 0.7 0 1 0 3.5 0a1.8 0.7 0 1 0 -3.5 0M251.7 89.9a1.1 0.9 0 1 0 2.2 0a1.1 0.9 0 1 0 -2.2 0M230.4 43.6a1.9 1.0 0 1 0 3.7 0a1.9 1.0 0 1 0 -3.7 0M237.0 32.7a1.6 0.8 0 1 0 3.2 0a1.6 0.8 0 1 0 -3.2 0M306.4 15.8a1.9 1.0 0 1 0 3.7 0a1.9 1.0 0 1 0 -3.7 0M282.5 12.5a1.0 1.1 0 1 0 2.0 0a1.0 1.1 0 1 0 -2.0 0M246.7 54.2a1.0 1.3 0 1 0 2.1 0a1.0 1.3 0 1 0 -2.1 0M247.6 22.0a1.8 1.2 0 1 0 3.6 0a1.8 1.2 0 1 0 -3.6 0M280.0 20.9a1.2 0.9 0 1 0 2.3 0a1.2 0.9 0 1 0 -2.3 0M292.8 18.5a1.9 0.6 0 1 0 3.8 0a1.9 0.6 0 1 0 -3.8 0M301.2 20.5a1.9 1.0 0 1 0 3.7 0a1.9 1.0 0 1 0 -3.7 0M248.7 78.2a2.0 1.0 0 1 0 4.0 0a2.0 1.0 0 1 0 -4.0 0M246.4 25.0a1.5 0.7 0 1 0 3.0 0a1.5 0.7 0 1 0 -3.0 0M282.5 24.9a1.2 1.1 0 1 0 2.4 0a1.2 1.1 0 1 0 -2.4 0M242.3 74.5a2.0 0.9 0 1 0 3.9 0a2.0 0.9 0 1 0 -3.9 0M241.0 59.7a1.5 0.9 0 1 0 3.1 0a1.5 0.9 0 1 0 -3.1 0M251.3 78.3a1.6 1.1 0 1 0 3.1 0a1.6 1.1 0 1 0 -3.1 0M305.6 17.7a2.0 1.0 0 1 0 3.9 0a2.0 1.0 0 1 0 -3.9 0M247.7 54.6a1.0 0.8 0 1 0 2.0 0a1.0 0.8 0 1 0 -2.0 0M232.8 46.4a1.4 1.1 0 1 0 2.9 0a1.4 1.1 0 1 0 -2.9 0M250.8 80.8a1.5 0.8 0 1 0 3.1 0a1.5 0.8 0 1 0 -3.1 0M297.3 17.1a1.6 0.7 0 1 0 3.1 0a1.6 0.7 0 1 0 -3.1 0M262.0 20.1a1.1 1.1 0 1 0 2.2 0a1.1 1.1 0 1 0 -2.2 0M239.1 45.8a1.6 0.8 0 1 0 3.3 0a1.6 0.8 0 1 0 -3.3 0M225.4 34.2a2.0 0.7 0 1 0 4.0 0a2.0 0.7 0 1 0 -4.0 0M250.8 98.7a1.9 0.7 0 1 0 3.8 0a1.9 0.7 0 1 0 -3.8 0M260.5 24.6a1.7 0.7 0 1 0 3.5 0a1.7 0.7 0 1 0 -3.5 0M253.2 52.8a1.5 0.9 0 1 0 3.0 0a1.5 0.9 0 1 0 -3.0 0M245.3 26.7a1.8 0.8 0 1 0 3.6 0a1.8 0.8 0 1 0 -3.6 0M258.4 42.0a1.0 1.2 0 1 0 2.0 0a1.0 1.2 0 1 0 -2.0 0M264.9 42.8a1.1 0.8 0 1 0 2.2 0a1.1 0.8 0 1 0 -2.2 0M260.0 28.4a1.8 1.2 0 1 0 3.6 0a1.8 1.2 0 1 0 -3.6 0M275.7 34.2a1.9 0.7 0 1 0 3.8 0a1.9 0.7 0 1 0 -3.8 0M238.4 70.1a1.8 1.0 0 1 0 3.6 0a1.8 1.0 0 1 0 -3.6 0M236.8 43.0a2.0 1.2 0 1 0 4.0 0a2.0 1.2 0 1 0 -4.0 0M294.0 17.3a1.8 0.9 0 1 0 3.7 0a1.8 0.9 0 1 0 -3.7 0M253.8 39.1a1.8 0.9 0 1 0 3.5 0a1.8 0.9 0 1 0 -3.5 0M241.0 76.0a1.5 0.9 0 1 0 3.1 0a1.5 0.9 0 1 0 -3.1 0M256.9 20.2a2.0 1.0 0 1 0 3.9 0a2.0 1.0 0 1 0 -3.9 0M236.3 41.9a1.8 0.8 0 1 0 3.6 0a1.8 0.8 0 1 0 -3.6 0M265.1 22.4a1.1 1.0 0 1 0 2.1 0a1.1 1.0 0 1 0 -2.1 0M243.3 39.8a1.3 1.2 0 1 0 2.5 0a1.3 1.2 0 1 0 -2.5 0M229.8 50.0a1.8 1.0 0 1 0 3.7 0a1.8 1.0 0 1 0 -3.7 0M250.1 86.6a1.0 0.6 0 1 0 2.0 0a1.0 0.6 0 1 0 -2.0 0M285.6 18.5a1.5 0.7 0 1 0 3.0 0a1.5 0.7 0 1 0 -3.0 0M265.5 36.2a1.6 1.1 0 1 0 3.2 0a1.6 1.1 0 1 0 -3.2 0M228.1 33.0a1.3 1.0 0 1 0 2.6 0a1.3 1.0 0 1 0 -2.6 0M248.8 73.2a1.2 1.2 0 1 0 2.4 0a1.2 1.2 0 1 0 -2.4 0M256.4 31.3a1.0 0.7 0 1 0 2.0 0a1.0 0.7 0 1 0 -2.0 0M253.9 58.5a1.2 0.8 0 1 0 2.4 0a1.2 0.8 0 1 0 -2.4 0M242.5 33.2a1.7 1.0 0 1 0 3.4 0a1.7 1.0 0 1 0 -3.4 0M266.0 42.8a2.0 1.1 0 1 0 3.9 0a2.0 1.1 0 1 0 -3.9 0M258.1 19.4a1.5 0.8 0 1 0 3.1 0a1.5 0.8 0 1 0 -3.1 0M250.4 89.3a1.4 0.7 0 1 0 2.8 0a1.4 0.7 0 1 0 -2.8 0M237.5 33.0a1.1 0.9 0 1 0 2.2 0a1.1 0.9 0 1 0 -2.2 0M283.2 12.1a1.4 0.9 0 1 0 2.9 0a1.4 0.9 0 1 0 -2.9 0M248.2 53.6a1.6 0.6 0 1 0 3.2 0a1.6 0.6 0 1 0 -3.2 0M239.6 33.9a1.8 0.8 0 1 0 3.6 0a1.8 0.8 0 1 0 -3.6 0M240.8 37.3a1.5 0.9 0 1 0 2.9 0a1.5 0.9 0 1 0 -2.9 0M256.2 41.0a1.1 1.0 0 1 0 2.3 0a1.1 1.0 0 1 0 -2.3 0M279.4 18.6a1.5 0.8 0 1 0 3.1 0a1.5 0.8 0 1 0 -3.1 0M254.9 20.7a1.9 1.2 0 1 0 3.7 0a1.9 1.2 0 1 0 -3.7 0M251.4 30.0a1.5 1.0 0 1 0 3.0 0a1.5 1.0 0 1 0 -3.0 0M240.7 67.6a1.4 1.1 0 1 0 2.8 0a1.4 1.1 0 1 0 -2.8 0M264.9 38.1a1.4 0.6 0 1 0 2.8 0a1.4 0.6 0 1 0 -2.8 0M247.3 89.3a1.0 0.7 0 1 0 2.1 0a1.0 0.7 0 1 0 -2.1 0M241.2 82.6a1.9 0.8 0 1 0 3.9 0a1.9 0.8 0 1 0 -3.9 0M247.8 84.9a1.2 1.2 0 1 0 2.5 0a1.2 1.2 0 1 0 -2.5 0M293.9 22.8a1.3 1.3 0 1 0 2.6 0a1.3 1.3 0 1 0 -2.6 0M248.7 66.6a1.2 0.8 0 1 0 2.4 0a1.2 0.8 0 1 0 -2.4 0M231.5 44.4a1.5 1.0 0 1 0 2.9 0a1.5 1.0 0 1 0 -2.9 0M312.4 16.8a1.2 0.7 0 1 0 2.4 0a1.2 0.7 0 1 0 -2.4 0M251.5 36.7a1.2 1.1 0 1 0 2.3 0a1.2 1.1 0 1 0 -2.3 0M266.0 24.9a1.3 1.0 0 1 0 2.6 0a1.3 1.0 0 1 0 -2.6 0M273.3 12.2a1.0 1.1 0 1 0 2.0 0a1.0 1.1 0 1 0 -2.0 0"/>
</g>
<text x="320.7" y="12.3" font-size="3.6" font-weight="bold" text-anchor="middle">N</text>
<path d="M320.7,13.5 L319.09999999999997,21.5 L320.7,19.7 Z" fill="#111"/><path d="M320.7,13.5 L322.3,21.5 L320.7,19.7 Z" fill="#fff" stroke="#111" stroke-width="0.4"/>
<text x="305.3" y="27.3" font-size="2.8" fill="#333" textLength="16.2" lengthAdjust="spacing">0 1.5 3 4.5 6</text>
<rect x="305.3" y="28.5" width="18" height="1.7" fill="#111"/><rect x="309.8" y="28.85" width="4.5" height="1" fill="#fff"/><rect x="318.8" y="28.85" width="2.16" height="1" fill="#fff"/>
<text x="290.6" y="62" font-size="4.6" font-weight="bold">Legend</text>
<text x="290.6" y="68" font-size="5" font-weight="bold">Water Density</text>
<rect x="290" y="71.6" width="9.8" height="4.6" fill="#2e8fd6"/>
<text x="301.3" y="76.0" font-size="5.9" fill="#111">0.0–0.6</text>
<rect x="290" y="78.75" width="9.8" height="4.6" fill="#a6cf9a"/>
<text x="301.3" y="83.15" font-size="5.9" fill="#111">0.6–1.7</text>
<rect x="290" y="85.89999999999999" width="9.8" height="4.6" fill="#f7ef4e"/>
<text x="301.3" y="90.3" font-size="5.9" fill="#111">1.7–2.9</text>
<rect x="290" y="93.05" width="9.8" height="4.6" fill="#f79a2c"/>
<text x="301.3" y="97.45" font-size="5.9" fill="#111">2.9–4.6</text>
<rect x="290" y="100.19999999999999" width="9.8" height="4.6" fill="#e5261b"/>
<text x="301.3" y="104.6" font-size="5.9" fill="#111">4.6–12.2</text>
<text x="222.7" y="17.6" font-size="11" fill="#111">(a)</text>
<clipPath id="cB0"><rect x="330.0" y="7.5" width="103.5" height="101"/></clipPath>
<g clip-path="url(#cB0)">
<polygon points="331.7,36.6 335.5,31.0 340.4,25.7 351.3,21.4 362.2,19.2 370.9,15.9 378.5,12.1 386.2,10.5 395.5,11.2 404.9,13.3 418.1,15.5 426.0,17.5 422.5,20.0 412.8,21.0 402.2,25.2 386.3,35.7 373.1,46.3 364.1,55.3 361.9,64.2 360.8,75.2 361.9,86.2 364.1,95.0 367.5,103.9 365.5,106.5 360.8,103.9 354.2,95.0 349.8,86.2 345.4,75.2 342.1,64.2 337.6,55.3 333.2,46.5" fill="#e2e6ec"/>
<path d="M349.5,70 C364.5,66 384.5,64 404.5,68 C409.5,78 405.5,90 399.5,96 L359.5,100 Z" fill="#e9ecf1"/>
</g>
<clipPath id="cB"><rect x="330.0" y="7.5" width="103.5" height="101.1"/></clipPath>
<g clip-path="url(#cB)">
<path fill="#a9d8ee" d="M393.8 71.9a2.4 0.8 0 1 0 4.9 0a2.4 0.8 0 1 0 -4.9 0M399.1 74.2a1.0 0.8 0 1 0 1.9 0a1.0 0.8 0 1 0 -1.9 0M407.5 91.0a0.8 0.6 0 1 0 1.6 0a0.8 0.6 0 1 0 -1.6 0M369.7 92.4a2.0 0.4 0 1 0 4.0 0a2.0 0.4 0 1 0 -4.0 0M430.4 105.1a1.9 0.9 0 1 0 3.8 0a1.9 0.9 0 1 0 -3.8 0M400.4 30.9a1.0 0.6 0 1 0 2.0 0a1.0 0.6 0 1 0 -2.0 0M366.1 64.0a1.5 1.1 0 1 0 3.0 0a1.5 1.1 0 1 0 -3.0 0M399.2 78.5a1.6 0.9 0 1 0 3.2 0a1.6 0.9 0 1 0 -3.2 0M394.0 48.8a2.6 1.2 0 1 0 5.2 0a2.6 1.2 0 1 0 -5.2 0M421.4 84.0a1.2 0.6 0 1 0 2.5 0a1.2 0.6 0 1 0 -2.5 0M415.3 58.8a2.3 0.7 0 1 0 4.6 0a2.3 0.7 0 1 0 -4.6 0M430.0 95.5a0.6 0.6 0 1 0 1.2 0a0.6 0.6 0 1 0 -1.2 0M424.8 64.5a2.6 0.7 0 1 0 5.1 0a2.6 0.7 0 1 0 -5.1 0M368.3 77.6a2.2 0.6 0 1 0 4.3 0a2.2 0.6 0 1 0 -4.3 0M368.9 53.3a2.5 1.0 0 1 0 5.1 0a2.5 1.0 0 1 0 -5.1 0M372.7 46.2a0.8 0.4 0 1 0 1.6 0a0.8 0.4 0 1 0 -1.6 0M418.0 40.6a1.7 0.8 0 1 0 3.4 0a1.7 0.8 0 1 0 -3.4 0M377.6 86.0a0.9 0.9 0 1 0 1.7 0a0.9 0.9 0 1 0 -1.7 0M372.4 60.5a1.0 0.6 0 1 0 2.1 0a1.0 0.6 0 1 0 -2.1 0M430.3 91.9a1.2 1.1 0 1 0 2.4 0a1.2 1.1 0 1 0 -2.4 0M377.5 58.3a2.3 0.9 0 1 0 4.6 0a2.3 0.9 0 1 0 -4.6 0M371.3 107.1a1.0 0.6 0 1 0 2.1 0a1.0 0.6 0 1 0 -2.1 0M416.9 53.0a1.2 0.5 0 1 0 2.4 0a1.2 0.5 0 1 0 -2.4 0M370.5 73.8a1.1 0.9 0 1 0 2.2 0a1.1 0.9 0 1 0 -2.2 0M388.3 63.2a2.5 0.8 0 1 0 5.0 0a2.5 0.8 0 1 0 -5.0 0M403.6 97.1a1.0 0.5 0 1 0 1.9 0a1.0 0.5 0 1 0 -1.9 0M426.2 93.1a1.1 0.6 0 1 0 2.2 0a1.1 0.6 0 1 0 -2.2 0M414.8 103.1a1.0 1.2 0 1 0 2.0 0a1.0 1.2 0 1 0 -2.0 0M424.0 75.5a1.4 0.5 0 1 0 2.9 0a1.4 0.5 0 1 0 -2.9 0M367.1 104.9a1.1 1.0 0 1 0 2.2 0a1.1 1.0 0 1 0 -2.2 0M381.2 93.5a1.8 0.6 0 1 0 3.6 0a1.8 0.6 0 1 0 -3.6 0M376.7 85.1a0.7 0.6 0 1 0 1.5 0a0.7 0.6 0 1 0 -1.5 0M401.7 95.9a1.8 0.6 0 1 0 3.7 0a1.8 0.6 0 1 0 -3.7 0M427.2 42.7a0.6 0.6 0 1 0 1.3 0a0.6 0.6 0 1 0 -1.3 0M394.9 31.0a1.0 0.7 0 1 0 1.9 0a1.0 0.7 0 1 0 -1.9 0M403.1 36.8a1.3 1.1 0 1 0 2.6 0a1.3 1.1 0 1 0 -2.6 0M430.2 79.9a2.0 0.9 0 1 0 4.0 0a2.0 0.9 0 1 0 -4.0 0M364.7 100.6a2.0 1.2 0 1 0 4.0 0a2.0 1.2 0 1 0 -4.0 0M365.4 78.2a1.6 1.0 0 1 0 3.1 0a1.6 1.0 0 1 0 -3.1 0M386.4 107.9a0.8 0.8 0 1 0 1.5 0a0.8 0.8 0 1 0 -1.5 0M413.5 99.8a2.1 1.0 0 1 0 4.1 0a2.1 1.0 0 1 0 -4.1 0M418.1 101.0a1.3 0.9 0 1 0 2.6 0a1.3 0.9 0 1 0 -2.6 0M425.3 97.4a1.4 1.0 0 1 0 2.9 0a1.4 1.0 0 1 0 -2.9 0M422.4 73.0a1.8 0.7 0 1 0 3.7 0a1.8 0.7 0 1 0 -3.7 0M404.4 75.9a0.8 0.9 0 1 0 1.5 0a0.8 0.9 0 1 0 -1.5 0M431.0 98.1a2.1 0.7 0 1 0 4.1 0a2.1 0.7 0 1 0 -4.1 0M414.0 73.6a1.5 1.1 0 1 0 3.0 0a1.5 1.1 0 1 0 -3.0 0M370.5 87.5a0.7 0.9 0 1 0 1.3 0a0.7 0.9 0 1 0 -1.3 0M396.2 44.9a2.0 0.8 0 1 0 4.0 0a2.0 0.8 0 1 0 -4.0 0M406.2 101.5a1.1 0.4 0 1 0 2.2 0a1.1 0.4 0 1 0 -2.2 0M385.0 81.6a1.0 0.5 0 1 0 2.0 0a1.0 0.5 0 1 0 -2.0 0M425.6 80.1a1.5 1.1 0 1 0 3.0 0a1.5 1.1 0 1 0 -3.0 0M386.7 80.6a1.0 0.7 0 1 0 2.0 0a1.0 0.7 0 1 0 -2.0 0M417.9 101.0a2.4 0.7 0 1 0 4.7 0a2.4 0.7 0 1 0 -4.7 0M404.3 52.0a0.9 0.8 0 1 0 1.7 0a0.9 0.8 0 1 0 -1.7 0M420.4 95.6a2.0 1.2 0 1 0 4.0 0a2.0 1.2 0 1 0 -4.0 0M382.8 39.9a1.5 0.6 0 1 0 3.0 0a1.5 0.6 0 1 0 -3.0 0M378.2 59.9a1.9 0.8 0 1 0 3.7 0a1.9 0.8 0 1 0 -3.7 0M384.4 94.8a2.6 0.8 0 1 0 5.1 0a2.6 0.8 0 1 0 -5.1 0M422.8 29.4a2.0 0.9 0 1 0 4.0 0a2.0 0.9 0 1 0 -4.0 0M385.9 90.9a0.6 0.5 0 1 0 1.3 0a0.6 0.5 0 1 0 -1.3 0M421.0 45.5a0.9 0.4 0 1 0 1.8 0a0.9 0.4 0 1 0 -1.8 0M406.4 62.6a1.9 0.9 0 1 0 3.7 0a1.9 0.9 0 1 0 -3.7 0M418.4 104.6a2.0 0.6 0 1 0 3.9 0a2.0 0.6 0 1 0 -3.9 0M397.2 40.7a0.6 0.8 0 1 0 1.2 0a0.6 0.8 0 1 0 -1.2 0M412.9 40.7a1.1 0.7 0 1 0 2.3 0a1.1 0.7 0 1 0 -2.3 0M411.1 68.7a1.8 1.0 0 1 0 3.7 0a1.8 1.0 0 1 0 -3.7 0M389.8 90.9a2.4 0.5 0 1 0 4.8 0a2.4 0.5 0 1 0 -4.8 0M428.1 85.2a0.9 0.8 0 1 0 1.7 0a0.9 0.8 0 1 0 -1.7 0M406.7 100.6a1.4 0.9 0 1 0 2.7 0a1.4 0.9 0 1 0 -2.7 0M422.8 91.3a2.5 0.8 0 1 0 5.0 0a2.5 0.8 0 1 0 -5.0 0M407.7 42.8a2.0 1.1 0 1 0 4.1 0a2.0 1.1 0 1 0 -4.1 0M408.1 84.8a1.0 1.1 0 1 0 2.1 0a1.0 1.1 0 1 0 -2.1 0M430.5 106.1a1.7 1.0 0 1 0 3.3 0a1.7 1.0 0 1 0 -3.3 0M385.0 100.6a2.3 0.7 0 1 0 4.6 0a2.3 0.7 0 1 0 -4.6 0M369.4 62.2a1.7 1.0 0 1 0 3.4 0a1.7 1.0 0 1 0 -3.4 0M396.4 28.3a2.2 0.5 0 1 0 4.4 0a2.2 0.5 0 1 0 -4.4 0M418.6 40.2a1.3 1.0 0 1 0 2.5 0a1.3 1.0 0 1 0 -2.5 0M398.3 85.3a2.3 1.0 0 1 0 4.6 0a2.3 1.0 0 1 0 -4.6 0M427.3 66.4a2.5 0.5 0 1 0 5.0 0a2.5 0.5 0 1 0 -5.0 0M379.4 69.2a1.2 1.0 0 1 0 2.4 0a1.2 1.0 0 1 0 -2.4 0M406.7 68.9a2.3 0.8 0 1 0 4.6 0a2.3 0.8 0 1 0 -4.6 0M384.4 57.3a2.3 1.1 0 1 0 4.6 0a2.3 1.1 0 1 0 -4.6 0M377.1 95.8a2.5 0.8 0 1 0 5.1 0a2.5 0.8 0 1 0 -5.1 0M402.8 42.5a1.7 0.8 0 1 0 3.3 0a1.7 0.8 0 1 0 -3.3 0M404.1 28.3a2.5 0.8 0 1 0 5.1 0a2.5 0.8 0 1 0 -5.1 0M391.0 91.7a1.7 0.8 0 1 0 3.5 0a1.7 0.8 0 1 0 -3.5 0M410.8 31.4a1.7 0.7 0 1 0 3.4 0a1.7 0.7 0 1 0 -3.4 0M429.4 101.7a1.1 0.8 0 1 0 2.3 0a1.1 0.8 0 1 0 -2.3 0"/>
<path d="M389.5,13 C404.5,9 421.5,10 433.5,16" stroke="#93d3ec" stroke-width="1.2" fill="none"/>
<path d="M330.5,38 C335.5,30 344.5,24 357.5,19 C371.5,14 384.5,8 404.5,10" stroke="#9fd4ec" stroke-width="0.8" fill="none"/>
<path d="M330.5,62 C335.5,75 341.5,88 349.5,100 L353.5,109" stroke="#9fd4ec" stroke-width="0.8" fill="none"/>
<polygon points="326.5,25.0 328.5,40.0 328.8,46.5 331.5,55.0 334.3,64.2 338.0,75.0 342.1,86.2 346.0,95.0 349.8,103.9 354.2,110.0 369.5,110.0 360.8,103.9 354.2,95.0 349.8,86.2 345.4,75.2 342.1,64.2 337.6,55.3 333.2,46.5 333.0,38.0 334.3,33.2 333.5,25.0" fill="#93d3ec"/>
<path d="M329.5,69 C333.5,75 338.5,83 342.5,89 C344.5,92 346.5,94 348.5,96" stroke="#93d3ec" stroke-width="2.2" fill="none"/>
<path d="M327.5,94 C333.5,96 339.5,98 345.5,100" stroke="#93d3ec" stroke-width="1.8" fill="none"/>
<path d="M333.5,103 C341.5,104 351.5,106 363.5,108 L375.5,110" stroke="#93d3ec" stroke-width="3" fill="none"/>
<path d="M329.5,96 C335.5,100 339.5,104 343.5,109" stroke="#93d3ec" stroke-width="1.2" fill="none"/>
<path d="M334.5,35 C339.5,28 345.5,24 348.5,22.4 C359.5,17 369.5,14 377.5,12.8 C389.5,12 404.5,13 416.5,15.7" stroke="#9fd0ea" stroke-width="1.1" fill="none"/>
<polygon points="357.9,24.3 367.5,18.6 377.2,15.7 392.6,14.7 406.0,15.7 413.8,18.6 416.7,20.5 409.5,23.0 396.4,26.3 386.8,34.0 379.1,45.5 373.3,53.2 363.7,55.2 354.0,51.3 352.1,39.8 356.0,28.2" fill="#7096bb" stroke="#92b4d2" stroke-width="1.2" stroke-linejoin="round"/>
<polygon points="360.0,25.5 368.5,20.5 377.5,17.8 392.5,17.0 405.5,18.0 411.5,20.3 407.5,22.0 395.0,24.5 385.0,32.5 377.0,44.5 371.5,51.0 364.0,52.8 356.0,49.5 354.5,40.0 357.5,29.0" fill="#4f7aa6"/>
<circle cx="368.9" cy="48.5" r="1.2" fill="#8aaad0"/>
<circle cx="368.8" cy="37.3" r="2.1" fill="#2f5688"/>
<circle cx="404.6" cy="21.7" r="1.5" fill="#2f5688"/>
<circle cx="387.6" cy="24.9" r="1.8" fill="#34609a"/>
<circle cx="366.5" cy="37.5" r="1.7" fill="#2f5688"/>
<circle cx="360.5" cy="47.7" r="2.1" fill="#34609a"/>
<circle cx="360.2" cy="33.4" r="1.1" fill="#2f5688"/>
<circle cx="370.8" cy="40.3" r="2.5" fill="#2f5688"/>
<circle cx="375.6" cy="36.2" r="2.3" fill="#8aaad0"/>
<circle cx="386.4" cy="23.2" r="1.8" fill="#34609a"/>
<circle cx="357.9" cy="33.8" r="2.1" fill="#2f5688"/>
<circle cx="363.3" cy="36.3" r="1.0" fill="#8aaad0"/>
<circle cx="358.2" cy="34.2" r="2.2" fill="#2f5688"/>
<circle cx="396.6" cy="24.1" r="2.1" fill="#8aaad0"/>
<circle cx="361.3" cy="30.4" r="1.8" fill="#34609a"/>
<circle cx="368.9" cy="22.8" r="2.3" fill="#34609a"/>
<circle cx="384.6" cy="29.9" r="2.6" fill="#8aaad0"/>
<circle cx="383.9" cy="25.2" r="2.3" fill="#2f5688"/>
<circle cx="382.8" cy="31.4" r="1.9" fill="#6f95c2"/>
<circle cx="381.7" cy="21.9" r="1.9" fill="#2f5688"/>
<circle cx="356.6" cy="44.9" r="1.0" fill="#2f5688"/>
<circle cx="401.2" cy="20.9" r="2.5" fill="#8aaad0"/>
<circle cx="371.5" cy="50.8" r="1.9" fill="#8aaad0"/>
<circle cx="366.1" cy="48.8" r="1.7" fill="#6f95c2"/>
<circle cx="359.7" cy="36.0" r="1.5" fill="#34609a"/>
<circle cx="384.8" cy="30.8" r="2.4" fill="#8aaad0"/>
<circle cx="367.2" cy="48.6" r="2.0" fill="#2f5688"/>
<circle cx="396.0" cy="19.4" r="2.3" fill="#6f95c2"/>
<circle cx="358.1" cy="35.7" r="2.0" fill="#8aaad0"/>
<ellipse cx="346.4" cy="33" rx="4.6" ry="4.3" fill="#5f89b2" stroke="#a8c4e0" stroke-width="1"/>
<circle cx="382.6" cy="24.4" r="0.54" fill="#fff" opacity="0.85"/>
<circle cx="367.5" cy="25.7" r="0.71" fill="#fff" opacity="0.85"/>
<circle cx="400.4" cy="20.7" r="0.66" fill="#fff" opacity="0.85"/>
<circle cx="362.8" cy="39.9" r="0.36" fill="#fff" opacity="0.85"/>
<circle cx="367.1" cy="23.1" r="0.74" fill="#fff" opacity="0.85"/>
<circle cx="395.2" cy="22.6" r="0.72" fill="#fff" opacity="0.85"/>
<circle cx="376.2" cy="21.0" r="0.37" fill="#fff" opacity="0.85"/>
<circle cx="373.1" cy="48.4" r="0.52" fill="#fff" opacity="0.85"/>
<circle cx="373.4" cy="34.2" r="0.62" fill="#fff" opacity="0.85"/>
<circle cx="355.9" cy="45.5" r="0.68" fill="#fff" opacity="0.85"/>
<circle cx="376.5" cy="38.3" r="0.30" fill="#fff" opacity="0.85"/>
<circle cx="375.8" cy="36.0" r="0.65" fill="#fff" opacity="0.85"/>
<circle cx="361.0" cy="45.4" r="0.66" fill="#fff" opacity="0.85"/>
<circle cx="374.9" cy="39.7" r="0.71" fill="#fff" opacity="0.85"/>
<circle cx="387.2" cy="27.1" r="0.44" fill="#fff" opacity="0.85"/>
<circle cx="363.4" cy="42.9" r="0.75" fill="#fff" opacity="0.85"/>
<circle cx="378.9" cy="24.0" r="0.57" fill="#fff" opacity="0.85"/>
<circle cx="362.3" cy="44.7" r="0.73" fill="#fff" opacity="0.85"/>
<circle cx="360.9" cy="32.3" r="0.37" fill="#fff" opacity="0.85"/>
<circle cx="381.7" cy="34.5" r="0.63" fill="#fff" opacity="0.85"/>
<circle cx="383.2" cy="26.2" r="0.48" fill="#fff" opacity="0.85"/>
<circle cx="363.3" cy="29.8" r="0.74" fill="#fff" opacity="0.85"/>
<circle cx="384.5" cy="28.2" r="0.34" fill="#fff" opacity="0.85"/>
<circle cx="370.8" cy="46.8" r="0.69" fill="#fff" opacity="0.85"/>
<circle cx="376.3" cy="43.6" r="0.43" fill="#fff" opacity="0.85"/>
<circle cx="387.3" cy="24.5" r="0.60" fill="#fff" opacity="0.85"/>
<circle cx="375.4" cy="41.1" r="0.63" fill="#fff" opacity="0.85"/>
<circle cx="386.3" cy="21.0" r="0.68" fill="#fff" opacity="0.85"/>
<circle cx="398.3" cy="21.2" r="0.65" fill="#fff" opacity="0.85"/>
<circle cx="379.7" cy="40.2" r="0.65" fill="#fff" opacity="0.85"/>
<circle cx="367.6" cy="42.8" r="0.58" fill="#fff" opacity="0.85"/>
<circle cx="357.0" cy="33.8" r="0.40" fill="#fff" opacity="0.85"/>
<circle cx="373.5" cy="21.6" r="0.39" fill="#fff" opacity="0.85"/>
<circle cx="356.6" cy="33.5" r="0.47" fill="#fff" opacity="0.85"/>
<circle cx="371.2" cy="31.2" r="0.35" fill="#fff" opacity="0.85"/>
<circle cx="356.7" cy="39.8" r="0.34" fill="#fff" opacity="0.85"/>
<circle cx="387.2" cy="28.3" r="0.56" fill="#fff" opacity="0.85"/>
<circle cx="363.0" cy="39.0" r="0.55" fill="#fff" opacity="0.85"/>
<circle cx="361.0" cy="37.8" r="0.58" fill="#fff" opacity="0.85"/>
<circle cx="362.9" cy="40.4" r="0.70" fill="#fff" opacity="0.85"/>
<circle cx="377.1" cy="32.1" r="0.40" fill="#fff" opacity="0.85"/>
<circle cx="384.3" cy="31.5" r="0.44" fill="#fff" opacity="0.85"/>
<circle cx="371.7" cy="34.0" r="0.35" fill="#fff" opacity="0.85"/>
<circle cx="372.1" cy="46.8" r="0.67" fill="#fff" opacity="0.85"/>
<circle cx="370.6" cy="20.5" r="0.74" fill="#fff" opacity="0.85"/>
<circle cx="372.1" cy="39.5" r="0.51" fill="#fff" opacity="0.85"/>
<circle cx="399.1" cy="19.0" r="0.64" fill="#fff" opacity="0.85"/>
<circle cx="372.5" cy="36.4" r="0.45" fill="#fff" opacity="0.85"/>
<circle cx="372.3" cy="36.3" r="0.51" fill="#fff" opacity="0.85"/>
<circle cx="376.2" cy="45.3" r="0.57" fill="#fff" opacity="0.85"/>
<circle cx="380.2" cy="38.2" r="0.62" fill="#fff" opacity="0.85"/>
<circle cx="366.3" cy="26.5" r="0.67" fill="#fff" opacity="0.85"/>
<circle cx="358.5" cy="49.1" r="0.61" fill="#fff" opacity="0.85"/>
<circle cx="380.5" cy="26.0" r="0.65" fill="#fff" opacity="0.85"/>
<circle cx="409.1" cy="20.0" r="0.52" fill="#fff" opacity="0.85"/>
<circle cx="374.3" cy="20.4" r="0.56" fill="#fff" opacity="0.85"/>
<circle cx="368.3" cy="48.4" r="0.66" fill="#fff" opacity="0.85"/>
<circle cx="357.4" cy="49.4" r="0.40" fill="#fff" opacity="0.85"/>
<circle cx="397.2" cy="19.7" r="0.43" fill="#fff" opacity="0.85"/>
<circle cx="409.6" cy="20.3" r="0.57" fill="#fff" opacity="0.85"/>
<circle cx="379.3" cy="20.8" r="0.58" fill="#fff" opacity="0.85"/>
<circle cx="358.0" cy="38.2" r="0.63" fill="#fff" opacity="0.85"/>
<circle cx="407.2" cy="19.6" r="0.49" fill="#fff" opacity="0.85"/>
<circle cx="373.4" cy="39.2" r="0.52" fill="#fff" opacity="0.85"/>
<circle cx="357.8" cy="43.3" r="0.37" fill="#fff" opacity="0.85"/>
<circle cx="391.8" cy="25.1" r="0.55" fill="#fff" opacity="0.85"/>
<circle cx="369.8" cy="45.5" r="0.53" fill="#fff" opacity="0.85"/>
<circle cx="365.3" cy="44.0" r="0.59" fill="#fff" opacity="0.85"/>
<circle cx="359.6" cy="42.1" r="0.34" fill="#fff" opacity="0.85"/>
<circle cx="362.0" cy="38.9" r="0.41" fill="#fff" opacity="0.85"/>
<circle cx="373.9" cy="47.5" r="0.31" fill="#fff" opacity="0.85"/>
<circle cx="395.4" cy="23.4" r="0.35" fill="#fff" opacity="0.85"/>
<circle cx="403.7" cy="19.9" r="0.58" fill="#fff" opacity="0.85"/>
<circle cx="375.8" cy="23.9" r="0.45" fill="#fff" opacity="0.85"/>
<circle cx="377.6" cy="19.7" r="0.67" fill="#fff" opacity="0.85"/>
<circle cx="378.2" cy="18.1" r="0.31" fill="#fff" opacity="0.85"/>
<circle cx="382.4" cy="18.2" r="0.37" fill="#fff" opacity="0.85"/>
<circle cx="364.0" cy="29.7" r="0.47" fill="#fff" opacity="0.85"/>
<circle cx="407.3" cy="20.4" r="0.41" fill="#fff" opacity="0.85"/>
<circle cx="371.1" cy="20.8" r="0.43" fill="#fff" opacity="0.85"/>
<circle cx="368.6" cy="34.2" r="0.31" fill="#fff" opacity="0.85"/>
<circle cx="359.2" cy="30.8" r="0.74" fill="#fff" opacity="0.85"/>
<circle cx="376.4" cy="27.1" r="0.51" fill="#fff" opacity="0.85"/>
<circle cx="371.5" cy="44.8" r="0.62" fill="#fff" opacity="0.85"/>
<circle cx="364.3" cy="24.1" r="0.60" fill="#fff" opacity="0.85"/>
<circle cx="357.2" cy="37.0" r="0.75" fill="#fff" opacity="0.85"/>
<circle cx="385.6" cy="28.7" r="0.34" fill="#fff" opacity="0.85"/>
<circle cx="357.5" cy="30.7" r="0.33" fill="#fff" opacity="0.85"/>
<circle cx="369.8" cy="31.1" r="0.44" fill="#fff" opacity="0.85"/>
<circle cx="385.0" cy="30.9" r="0.54" fill="#fff" opacity="0.85"/>
<circle cx="359.6" cy="27.2" r="0.35" fill="#fff" opacity="0.85"/>
<circle cx="373.3" cy="19.5" r="0.34" fill="#fff" opacity="0.85"/>
<circle cx="380.2" cy="38.2" r="0.41" fill="#fff" opacity="0.85"/>
<circle cx="358.2" cy="43.4" r="0.32" fill="#fff" opacity="0.85"/>
<circle cx="366.5" cy="26.0" r="0.47" fill="#fff" opacity="0.85"/>
<circle cx="360.4" cy="31.7" r="0.44" fill="#fff" opacity="0.85"/>
<circle cx="370.6" cy="48.1" r="0.47" fill="#fff" opacity="0.85"/>
<circle cx="364.7" cy="25.0" r="0.60" fill="#fff" opacity="0.85"/>
<circle cx="362.3" cy="29.0" r="0.69" fill="#fff" opacity="0.85"/>
<circle cx="368.4" cy="32.0" r="0.46" fill="#fff" opacity="0.85"/>
<circle cx="398.1" cy="18.0" r="0.54" fill="#fff" opacity="0.85"/>
<circle cx="364.8" cy="43.8" r="0.50" fill="#fff" opacity="0.85"/>
<circle cx="361.6" cy="27.3" r="0.71" fill="#fff" opacity="0.85"/>
<circle cx="382.2" cy="32.2" r="0.50" fill="#fff" opacity="0.85"/>
<circle cx="390.3" cy="18.3" r="0.67" fill="#fff" opacity="0.85"/>
<circle cx="367.4" cy="25.6" r="0.39" fill="#fff" opacity="0.85"/>
<circle cx="388.2" cy="29.0" r="0.64" fill="#fff" opacity="0.85"/>
<circle cx="369.0" cy="28.8" r="0.41" fill="#fff" opacity="0.85"/>
<circle cx="378.6" cy="20.0" r="0.67" fill="#fff" opacity="0.85"/>
<circle cx="366.5" cy="47.5" r="0.45" fill="#fff" opacity="0.85"/>
<circle cx="365.6" cy="30.3" r="0.44" fill="#fff" opacity="0.85"/>
<circle cx="377.5" cy="34.0" r="0.62" fill="#fff" opacity="0.85"/>
<circle cx="376.3" cy="38.9" r="0.61" fill="#fff" opacity="0.85"/>
<circle cx="385.8" cy="25.9" r="0.33" fill="#fff" opacity="0.85"/>
<circle cx="359.7" cy="28.9" r="0.56" fill="#fff" opacity="0.85"/>
<circle cx="371.0" cy="44.1" r="0.33" fill="#fff" opacity="0.85"/>
<circle cx="367.0" cy="35.7" r="0.70" fill="#fff" opacity="0.85"/>
<circle cx="387.1" cy="30.5" r="0.30" fill="#fff" opacity="0.85"/>
<circle cx="377.9" cy="21.5" r="0.59" fill="#fff" opacity="0.85"/>
<circle cx="361.0" cy="42.9" r="0.55" fill="#fff" opacity="0.85"/>
<circle cx="372.8" cy="25.2" r="0.58" fill="#fff" opacity="0.85"/>
<circle cx="408.3" cy="21.0" r="0.58" fill="#fff" opacity="0.85"/>
<circle cx="358.3" cy="37.8" r="0.67" fill="#fff" opacity="0.85"/>
<circle cx="379.5" cy="31.9" r="0.54" fill="#fff" opacity="0.85"/>
<circle cx="371.3" cy="39.4" r="0.73" fill="#fff" opacity="0.85"/>
<circle cx="361.4" cy="37.6" r="0.57" fill="#fff" opacity="0.85"/>
<circle cx="358.2" cy="34.4" r="0.68" fill="#fff" opacity="0.85"/>
<circle cx="383.1" cy="18.2" r="0.39" fill="#fff" opacity="0.85"/>
<circle cx="363.6" cy="39.9" r="0.35" fill="#fff" opacity="0.85"/>
<circle cx="366.9" cy="29.7" r="0.51" fill="#fff" opacity="0.85"/>
<circle cx="359.5" cy="30.9" r="0.54" fill="#fff" opacity="0.85"/>
<circle cx="377.0" cy="18.9" r="0.57" fill="#fff" opacity="0.85"/>
<circle cx="377.0" cy="42.7" r="0.52" fill="#fff" opacity="0.85"/>
<circle cx="358.8" cy="45.9" r="0.62" fill="#fff" opacity="0.85"/>
<circle cx="383.2" cy="28.9" r="0.63" fill="#fff" opacity="0.85"/>
<circle cx="371.9" cy="34.9" r="0.61" fill="#fff" opacity="0.85"/>
<circle cx="372.3" cy="28.2" r="0.68" fill="#fff" opacity="0.85"/>
<circle cx="379.7" cy="24.0" r="0.60" fill="#fff" opacity="0.85"/>
<circle cx="360.3" cy="34.1" r="0.74" fill="#fff" opacity="0.85"/>
<circle cx="387.0" cy="30.2" r="0.72" fill="#fff" opacity="0.85"/>
<circle cx="360.0" cy="28.9" r="0.66" fill="#fff" opacity="0.85"/>
<circle cx="369.6" cy="33.2" r="0.47" fill="#fff" opacity="0.85"/>
<circle cx="381.1" cy="33.8" r="0.34" fill="#fff" opacity="0.85"/>
<circle cx="357.7" cy="30.5" r="0.65" fill="#fff" opacity="0.85"/>
<circle cx="380.6" cy="38.9" r="0.71" fill="#fff" opacity="0.85"/>
<circle cx="408.0" cy="20.2" r="0.65" fill="#fff" opacity="0.85"/>
<circle cx="379.8" cy="25.4" r="0.51" fill="#fff" opacity="0.85"/>
<circle cx="371.7" cy="42.0" r="0.36" fill="#fff" opacity="0.85"/>
<circle cx="364.7" cy="33.2" r="0.33" fill="#fff" opacity="0.85"/>
<circle cx="362.7" cy="23.9" r="0.71" fill="#fff" opacity="0.85"/>
<circle cx="365.6" cy="32.0" r="0.42" fill="#fff" opacity="0.85"/>
<circle cx="401.0" cy="20.4" r="0.53" fill="#fff" opacity="0.85"/>
<circle cx="376.6" cy="34.1" r="0.56" fill="#fff" opacity="0.85"/>
<circle cx="388.6" cy="25.0" r="0.55" fill="#fff" opacity="0.85"/>
<circle cx="398.4" cy="19.6" r="0.52" fill="#fff" opacity="0.85"/>
<circle cx="377.6" cy="28.5" r="0.31" fill="#fff" opacity="0.85"/>
<circle cx="372.4" cy="32.9" r="0.59" fill="#fff" opacity="0.85"/>
<circle cx="359.1" cy="32.8" r="2.6" fill="none" stroke="#c8d8ea" stroke-width="0.5"/>
<circle cx="386.2" cy="30.3" r="2.9" fill="none" stroke="#c8d8ea" stroke-width="0.5"/>
<circle cx="372.5" cy="37.2" r="2.7" fill="none" stroke="#c8d8ea" stroke-width="0.5"/>
<circle cx="362.8" cy="28.7" r="2.2" fill="none" stroke="#c8d8ea" stroke-width="0.5"/>
<circle cx="388.5" cy="22.7" r="2.2" fill="none" stroke="#c8d8ea" stroke-width="0.5"/>
<circle cx="375.0" cy="20.0" r="3.0" fill="none" stroke="#c8d8ea" stroke-width="0.5"/>
<circle cx="370.3" cy="25.6" r="2.7" fill="none" stroke="#c8d8ea" stroke-width="0.5"/>
<circle cx="377.8" cy="40.4" r="1.9" fill="none" stroke="#c8d8ea" stroke-width="0.5"/>
<circle cx="370.3" cy="50.8" r="2.2" fill="none" stroke="#c8d8ea" stroke-width="0.5"/>
<circle cx="408.3" cy="21.4" r="1.7" fill="none" stroke="#c8d8ea" stroke-width="0.5"/>
<circle cx="357.6" cy="45.1" r="2.3" fill="none" stroke="#c8d8ea" stroke-width="0.5"/>
<circle cx="389.8" cy="18.9" r="2.6" fill="none" stroke="#c8d8ea" stroke-width="0.5"/>
<circle cx="395.5" cy="17.9" r="1.6" fill="none" stroke="#c8d8ea" stroke-width="0.5"/>
<circle cx="358.7" cy="41.0" r="2.8" fill="none" stroke="#c8d8ea" stroke-width="0.5"/>
<circle cx="361.7" cy="45.7" r="1.9" fill="none" stroke="#c8d8ea" stroke-width="0.5"/>
<circle cx="393.5" cy="21.3" r="1.7" fill="none" stroke="#c8d8ea" stroke-width="0.5"/>
<circle cx="409.2" cy="20.1" r="1.9" fill="none" stroke="#c8d8ea" stroke-width="0.5"/>
<circle cx="370.1" cy="29.0" r="2.8" fill="none" stroke="#c8d8ea" stroke-width="0.5"/>
<circle cx="370.4" cy="40.4" r="2.5" fill="none" stroke="#c8d8ea" stroke-width="0.5"/>
<circle cx="360.7" cy="40.5" r="2.8" fill="none" stroke="#c8d8ea" stroke-width="0.5"/>
<circle cx="370.1" cy="31.2" r="2.0" fill="none" stroke="#c8d8ea" stroke-width="0.5"/>
<circle cx="372.6" cy="21.6" r="2.9" fill="none" stroke="#c8d8ea" stroke-width="0.5"/>
<circle cx="384.9" cy="18.4" r="2.1" fill="none" stroke="#c8d8ea" stroke-width="0.5"/>
<circle cx="388.4" cy="26.2" r="1.7" fill="none" stroke="#c8d8ea" stroke-width="0.5"/>
<circle cx="359.5" cy="60" r="2.5" fill="#7da2c8" stroke="#a8c4e0" stroke-width="0.8"/>
<circle cx="362.5" cy="82" r="2" fill="#7da2c8" stroke="#a8c4e0" stroke-width="0.8"/>
<circle cx="362.5" cy="93" r="2.5" fill="#7da2c8" stroke="#a8c4e0" stroke-width="0.8"/>
</g>
<text x="427" y="12.2" font-size="5" font-weight="bold" text-anchor="middle">N</text>
<path d="M427,15.3 L423.4,27.7 L427,25.0 Z" fill="#111"/><path d="M427,15.3 L430.6,27.7 L427,25.0 Z" fill="#fff" stroke="#111" stroke-width="0.4"/>
<text x="407.7" y="32.9" font-size="2.8" fill="#333" textLength="19.7" lengthAdjust="spacing">0 1.5 3 4.5 6</text>
<rect x="407.7" y="34.1" width="21.9" height="1.7" fill="#111"/><rect x="413.175" y="34.45" width="5.475" height="1" fill="#fff"/><rect x="424.125" y="34.45" width="2.6279999999999997" height="1" fill="#fff"/>
<text x="406.0" y="66.4" font-size="4.8" font-weight="bold">Legend</text>
<text x="406.0" y="72" font-size="4.8" fill="#333">Density</text>
<rect x="406.0" y="74.5" width="8.7" height="3.6" fill="#e4e8ef"/>
<text x="415.5" y="78.0" font-size="4.9" fill="#222">0–1</text>
<rect x="406.0" y="80.8" width="8.7" height="3.6" fill="#8fb0d4"/>
<text x="415.5" y="84.3" font-size="4.9" fill="#222">1.1–2</text>
<rect x="406.0" y="87.1" width="8.7" height="3.6" fill="#5d86b6"/>
<text x="415.5" y="90.6" font-size="4.9" fill="#222">2.1–3</text>
<rect x="406.0" y="93.4" width="8.7" height="3.6" fill="#345f93"/>
<text x="415.5" y="96.9" font-size="4.9" fill="#222">3.1–4</text>
<rect x="406.0" y="99.7" width="8.7" height="3.6" fill="#1c3a66"/>
<text x="415.5" y="103.2" font-size="4.9" fill="#222">4.1–5</text>
<text x="331.1" y="17.6" font-size="11" fill="#111">(b)</text>
<clipPath id="cC"><rect x="437.9" y="7.5" width="103.5" height="101.1"/></clipPath>
<g clip-path="url(#cC)">
<path fill="#a9d8ee" d="M501.7 71.9a2.4 0.8 0 1 0 4.9 0a2.4 0.8 0 1 0 -4.9 0M507.0 74.2a1.0 0.8 0 1 0 1.9 0a1.0 0.8 0 1 0 -1.9 0M515.4 91.0a0.8 0.6 0 1 0 1.6 0a0.8 0.6 0 1 0 -1.6 0M477.6 92.4a2.0 0.4 0 1 0 4.0 0a2.0 0.4 0 1 0 -4.0 0M538.3 105.1a1.9 0.9 0 1 0 3.8 0a1.9 0.9 0 1 0 -3.8 0M508.3 30.9a1.0 0.6 0 1 0 2.0 0a1.0 0.6 0 1 0 -2.0 0M474.0 64.0a1.5 1.1 0 1 0 3.0 0a1.5 1.1 0 1 0 -3.0 0M507.1 78.5a1.6 0.9 0 1 0 3.2 0a1.6 0.9 0 1 0 -3.2 0M501.9 48.8a2.6 1.2 0 1 0 5.2 0a2.6 1.2 0 1 0 -5.2 0M529.3 84.0a1.2 0.6 0 1 0 2.5 0a1.2 0.6 0 1 0 -2.5 0M523.2 58.8a2.3 0.7 0 1 0 4.6 0a2.3 0.7 0 1 0 -4.6 0M537.9 95.5a0.6 0.6 0 1 0 1.2 0a0.6 0.6 0 1 0 -1.2 0M532.7 64.5a2.6 0.7 0 1 0 5.1 0a2.6 0.7 0 1 0 -5.1 0M476.2 77.6a2.2 0.6 0 1 0 4.3 0a2.2 0.6 0 1 0 -4.3 0M476.8 53.3a2.5 1.0 0 1 0 5.1 0a2.5 1.0 0 1 0 -5.1 0M480.6 46.2a0.8 0.4 0 1 0 1.6 0a0.8 0.4 0 1 0 -1.6 0M525.9 40.6a1.7 0.8 0 1 0 3.4 0a1.7 0.8 0 1 0 -3.4 0M485.5 86.0a0.9 0.9 0 1 0 1.7 0a0.9 0.9 0 1 0 -1.7 0M480.3 60.5a1.0 0.6 0 1 0 2.1 0a1.0 0.6 0 1 0 -2.1 0M538.2 91.9a1.2 1.1 0 1 0 2.4 0a1.2 1.1 0 1 0 -2.4 0M485.4 58.3a2.3 0.9 0 1 0 4.6 0a2.3 0.9 0 1 0 -4.6 0M479.2 107.1a1.0 0.6 0 1 0 2.1 0a1.0 0.6 0 1 0 -2.1 0M524.8 53.0a1.2 0.5 0 1 0 2.4 0a1.2 0.5 0 1 0 -2.4 0M478.4 73.8a1.1 0.9 0 1 0 2.2 0a1.1 0.9 0 1 0 -2.2 0M496.2 63.2a2.5 0.8 0 1 0 5.0 0a2.5 0.8 0 1 0 -5.0 0M511.5 97.1a1.0 0.5 0 1 0 1.9 0a1.0 0.5 0 1 0 -1.9 0M534.1 93.1a1.1 0.6 0 1 0 2.2 0a1.1 0.6 0 1 0 -2.2 0M522.7 103.1a1.0 1.2 0 1 0 2.0 0a1.0 1.2 0 1 0 -2.0 0M531.9 75.5a1.4 0.5 0 1 0 2.9 0a1.4 0.5 0 1 0 -2.9 0M475.0 104.9a1.1 1.0 0 1 0 2.2 0a1.1 1.0 0 1 0 -2.2 0M489.1 93.5a1.8 0.6 0 1 0 3.6 0a1.8 0.6 0 1 0 -3.6 0M484.6 85.1a0.7 0.6 0 1 0 1.5 0a0.7 0.6 0 1 0 -1.5 0M509.6 95.9a1.8 0.6 0 1 0 3.7 0a1.8 0.6 0 1 0 -3.7 0M535.1 42.7a0.6 0.6 0 1 0 1.3 0a0.6 0.6 0 1 0 -1.3 0M502.8 31.0a1.0 0.7 0 1 0 1.9 0a1.0 0.7 0 1 0 -1.9 0M511.0 36.8a1.3 1.1 0 1 0 2.6 0a1.3 1.1 0 1 0 -2.6 0M538.1 79.9a2.0 0.9 0 1 0 4.0 0a2.0 0.9 0 1 0 -4.0 0M472.6 100.6a2.0 1.2 0 1 0 4.0 0a2.0 1.2 0 1 0 -4.0 0M473.3 78.2a1.6 1.0 0 1 0 3.1 0a1.6 1.0 0 1 0 -3.1 0M494.3 107.9a0.8 0.8 0 1 0 1.5 0a0.8 0.8 0 1 0 -1.5 0M521.4 99.8a2.1 1.0 0 1 0 4.1 0a2.1 1.0 0 1 0 -4.1 0M526.0 101.0a1.3 0.9 0 1 0 2.6 0a1.3 0.9 0 1 0 -2.6 0M533.2 97.4a1.4 1.0 0 1 0 2.9 0a1.4 1.0 0 1 0 -2.9 0M530.3 73.0a1.8 0.7 0 1 0 3.7 0a1.8 0.7 0 1 0 -3.7 0M512.3 75.9a0.8 0.9 0 1 0 1.5 0a0.8 0.9 0 1 0 -1.5 0M538.9 98.1a2.1 0.7 0 1 0 4.1 0a2.1 0.7 0 1 0 -4.1 0M521.9 73.6a1.5 1.1 0 1 0 3.0 0a1.5 1.1 0 1 0 -3.0 0M478.4 87.5a0.7 0.9 0 1 0 1.3 0a0.7 0.9 0 1 0 -1.3 0M504.1 44.9a2.0 0.8 0 1 0 4.0 0a2.0 0.8 0 1 0 -4.0 0M514.1 101.5a1.1 0.4 0 1 0 2.2 0a1.1 0.4 0 1 0 -2.2 0M492.9 81.6a1.0 0.5 0 1 0 2.0 0a1.0 0.5 0 1 0 -2.0 0M533.5 80.1a1.5 1.1 0 1 0 3.0 0a1.5 1.1 0 1 0 -3.0 0M494.6 80.6a1.0 0.7 0 1 0 2.0 0a1.0 0.7 0 1 0 -2.0 0M525.8 101.0a2.4 0.7 0 1 0 4.7 0a2.4 0.7 0 1 0 -4.7 0M512.2 52.0a0.9 0.8 0 1 0 1.7 0a0.9 0.8 0 1 0 -1.7 0M528.3 95.6a2.0 1.2 0 1 0 4.0 0a2.0 1.2 0 1 0 -4.0 0M490.7 39.9a1.5 0.6 0 1 0 3.0 0a1.5 0.6 0 1 0 -3.0 0M486.1 59.9a1.9 0.8 0 1 0 3.7 0a1.9 0.8 0 1 0 -3.7 0M492.3 94.8a2.6 0.8 0 1 0 5.1 0a2.6 0.8 0 1 0 -5.1 0M530.7 29.4a2.0 0.9 0 1 0 4.0 0a2.0 0.9 0 1 0 -4.0 0M493.8 90.9a0.6 0.5 0 1 0 1.3 0a0.6 0.5 0 1 0 -1.3 0M528.9 45.5a0.9 0.4 0 1 0 1.8 0a0.9 0.4 0 1 0 -1.8 0M514.3 62.6a1.9 0.9 0 1 0 3.7 0a1.9 0.9 0 1 0 -3.7 0M526.3 104.6a2.0 0.6 0 1 0 3.9 0a2.0 0.6 0 1 0 -3.9 0M505.1 40.7a0.6 0.8 0 1 0 1.2 0a0.6 0.8 0 1 0 -1.2 0M520.8 40.7a1.1 0.7 0 1 0 2.3 0a1.1 0.7 0 1 0 -2.3 0M519.0 68.7a1.8 1.0 0 1 0 3.7 0a1.8 1.0 0 1 0 -3.7 0M497.7 90.9a2.4 0.5 0 1 0 4.8 0a2.4 0.5 0 1 0 -4.8 0M536.0 85.2a0.9 0.8 0 1 0 1.7 0a0.9 0.8 0 1 0 -1.7 0M514.6 100.6a1.4 0.9 0 1 0 2.7 0a1.4 0.9 0 1 0 -2.7 0M530.7 91.3a2.5 0.8 0 1 0 5.0 0a2.5 0.8 0 1 0 -5.0 0M515.6 42.8a2.0 1.1 0 1 0 4.1 0a2.0 1.1 0 1 0 -4.1 0M516.0 84.8a1.0 1.1 0 1 0 2.1 0a1.0 1.1 0 1 0 -2.1 0M538.4 106.1a1.7 1.0 0 1 0 3.3 0a1.7 1.0 0 1 0 -3.3 0M492.9 100.6a2.3 0.7 0 1 0 4.6 0a2.3 0.7 0 1 0 -4.6 0M477.3 62.2a1.7 1.0 0 1 0 3.4 0a1.7 1.0 0 1 0 -3.4 0M504.3 28.3a2.2 0.5 0 1 0 4.4 0a2.2 0.5 0 1 0 -4.4 0M526.5 40.2a1.3 1.0 0 1 0 2.5 0a1.3 1.0 0 1 0 -2.5 0M506.2 85.3a2.3 1.0 0 1 0 4.6 0a2.3 1.0 0 1 0 -4.6 0M535.2 66.4a2.5 0.5 0 1 0 5.0 0a2.5 0.5 0 1 0 -5.0 0M487.3 69.2a1.2 1.0 0 1 0 2.4 0a1.2 1.0 0 1 0 -2.4 0M514.6 68.9a2.3 0.8 0 1 0 4.6 0a2.3 0.8 0 1 0 -4.6 0M492.3 57.3a2.3 1.1 0 1 0 4.6 0a2.3 1.1 0 1 0 -4.6 0M485.0 95.8a2.5 0.8 0 1 0 5.1 0a2.5 0.8 0 1 0 -5.1 0M510.7 42.5a1.7 0.8 0 1 0 3.3 0a1.7 0.8 0 1 0 -3.3 0M512.0 28.3a2.5 0.8 0 1 0 5.1 0a2.5 0.8 0 1 0 -5.1 0M498.9 91.7a1.7 0.8 0 1 0 3.5 0a1.7 0.8 0 1 0 -3.5 0M518.7 31.4a1.7 0.7 0 1 0 3.4 0a1.7 0.7 0 1 0 -3.4 0M537.3 101.7a1.1 0.8 0 1 0 2.3 0a1.1 0.8 0 1 0 -2.3 0"/>
<path d="M497.4,13 C512.4,9 529.4,10 541.4,16" stroke="#93d3ec" stroke-width="1.2" fill="none"/>
<path d="M438.4,38 C443.4,30 452.4,24 465.4,19 C479.4,14 492.4,8 512.4,10" stroke="#9fd4ec" stroke-width="0.8" fill="none"/>
<path d="M438.4,62 C443.4,75 449.4,88 457.4,100 L461.4,109" stroke="#9fd4ec" stroke-width="0.8" fill="none"/>
<polygon points="434.4,25.0 436.4,40.0 436.7,46.5 439.4,55.0 442.2,64.2 445.9,75.0 450.0,86.2 453.9,95.0 457.7,103.9 462.1,110.0 477.4,110.0 468.7,103.9 462.1,95.0 457.7,86.2 453.3,75.2 450.0,64.2 445.5,55.3 441.1,46.5 440.9,38.0 442.2,33.2 441.4,25.0" fill="#93d3ec"/>
<path d="M437.4,69 C441.4,75 446.4,83 450.4,89 C452.4,92 454.4,94 456.4,96" stroke="#93d3ec" stroke-width="2.2" fill="none"/>
<path d="M435.4,94 C441.4,96 447.4,98 453.4,100" stroke="#93d3ec" stroke-width="1.8" fill="none"/>
<path d="M441.4,103 C449.4,104 459.4,106 471.4,108 L483.4,110" stroke="#93d3ec" stroke-width="3" fill="none"/>
<path d="M437.4,96 C443.4,100 447.4,104 451.4,109" stroke="#93d3ec" stroke-width="1.2" fill="none"/>
<path d="M452.4,30 C462.4,40 467.4,55 472.4,70" stroke="#a8daf0" stroke-width="0.7" fill="none"/>
<path d="M457.4,50 C465.4,58 472.4,62 482.4,60" stroke="#a8daf0" stroke-width="0.7" fill="none"/>
<polygon points="442.4,33.0 446.4,28.0 459.9,23.5 472.4,20.0 483.7,16.5 499.5,15.5 512.8,15.0 526.0,15.5 530.4,17.0 525.4,19.5 517.4,21.0 507.4,26.0 494.2,35.7 481.0,46.3 472.0,55.3 469.8,64.2 468.7,75.2 469.8,86.2 472.0,95.0 475.4,103.9 473.4,106.5 468.7,103.9 462.1,95.0 457.7,86.2 453.3,75.2 450.0,64.2 445.5,55.3 441.9,46.5" fill="none" stroke="#a6d8ee" stroke-width="0.7"/>
<circle cx="523.1" cy="16.8" r="1.4" fill="#f08c3c"/><circle cx="523.1" cy="16.8" r="0.6" fill="#e45a3c"/>
<circle cx="445.1" cy="45.8" r="1.4" fill="#f08c3c"/><circle cx="445.1" cy="45.8" r="0.6" fill="#e45a3c"/>
<circle cx="507.4" cy="24.2" r="1.4" fill="#f08c3c"/><circle cx="507.4" cy="24.2" r="0.6" fill="#e45a3c"/>
<circle cx="450.7" cy="37.2" r="1.4" fill="#f08c3c"/><circle cx="450.7" cy="37.2" r="0.6" fill="#e45a3c"/>
<circle cx="465.7" cy="29.4" r="1.4" fill="#f08c3c"/><circle cx="465.7" cy="29.4" r="0.6" fill="#e45a3c"/>
<circle cx="446.4" cy="45.7" r="1.4" fill="#f08c3c"/><circle cx="446.4" cy="45.7" r="0.6" fill="#e45a3c"/>
<circle cx="449.1" cy="57.2" r="1.4" fill="#f08c3c"/><circle cx="449.1" cy="57.2" r="0.6" fill="#e45a3c"/>
<circle cx="457.1" cy="68.1" r="1.4" fill="#f08c3c"/><circle cx="457.1" cy="68.1" r="0.6" fill="#e45a3c"/>
<circle cx="496.6" cy="23.5" r="1.4" fill="#f08c3c"/><circle cx="496.6" cy="23.5" r="0.6" fill="#e45a3c"/>
<circle cx="449.3" cy="42.7" r="1.4" fill="#f08c3c"/><circle cx="449.3" cy="42.7" r="0.6" fill="#e45a3c"/>
<circle cx="471.3" cy="51.1" r="1.4" fill="#f08c3c"/><circle cx="471.3" cy="51.1" r="0.6" fill="#e45a3c"/>
<circle cx="460.8" cy="52.1" r="1.4" fill="#f08c3c"/><circle cx="460.8" cy="52.1" r="0.6" fill="#e45a3c"/>
<circle cx="498.7" cy="19.0" r="1.4" fill="#f08c3c"/><circle cx="498.7" cy="19.0" r="0.6" fill="#e45a3c"/>
<circle cx="477.9" cy="45.2" r="1.4" fill="#f08c3c"/><circle cx="477.9" cy="45.2" r="0.6" fill="#e45a3c"/>
<circle cx="502.1" cy="25.6" r="1.4" fill="#f08c3c"/><circle cx="502.1" cy="25.6" r="0.6" fill="#e45a3c"/>
<circle cx="460.4" cy="46.7" r="1.4" fill="#f08c3c"/><circle cx="460.4" cy="46.7" r="0.6" fill="#e45a3c"/>
<circle cx="473.7" cy="22.6" r="1.4" fill="#f08c3c"/><circle cx="473.7" cy="22.6" r="0.6" fill="#e45a3c"/>
<circle cx="492.5" cy="22.3" r="1.4" fill="#f08c3c"/><circle cx="492.5" cy="22.3" r="0.6" fill="#e45a3c"/>
<circle cx="504.7" cy="15.4" r="1.4" fill="#f08c3c"/><circle cx="504.7" cy="15.4" r="0.6" fill="#e45a3c"/>
<circle cx="489.5" cy="25.8" r="1.4" fill="#f08c3c"/><circle cx="489.5" cy="25.8" r="0.6" fill="#e45a3c"/>
<circle cx="498.7" cy="17.2" r="1.4" fill="#f08c3c"/><circle cx="498.7" cy="17.2" r="0.6" fill="#e45a3c"/>
<circle cx="476.7" cy="25.8" r="1.4" fill="#f08c3c"/><circle cx="476.7" cy="25.8" r="0.6" fill="#e45a3c"/>
<circle cx="468.7" cy="79.3" r="1.4" fill="#f08c3c"/><circle cx="468.7" cy="79.3" r="0.6" fill="#e45a3c"/>
<circle cx="447.3" cy="43.4" r="1.4" fill="#f08c3c"/><circle cx="447.3" cy="43.4" r="0.6" fill="#e45a3c"/>
<circle cx="451.1" cy="42.8" r="1.4" fill="#f08c3c"/><circle cx="451.1" cy="42.8" r="0.6" fill="#e45a3c"/>
<circle cx="499.2" cy="31.9" r="1.4" fill="#f08c3c"/><circle cx="499.2" cy="31.9" r="0.6" fill="#e45a3c"/>
<circle cx="464.7" cy="59.2" r="1.4" fill="#f08c3c"/><circle cx="464.7" cy="59.2" r="0.6" fill="#e45a3c"/>
<circle cx="459.4" cy="51.6" r="1.4" fill="#f08c3c"/><circle cx="459.4" cy="51.6" r="0.6" fill="#e45a3c"/>
<circle cx="446.7" cy="33.4" r="1.4" fill="#f08c3c"/><circle cx="446.7" cy="33.4" r="0.6" fill="#e45a3c"/>
<circle cx="466.4" cy="38.1" r="1.4" fill="#f08c3c"/><circle cx="466.4" cy="38.1" r="0.6" fill="#e45a3c"/>
<circle cx="450.0" cy="39.8" r="1.4" fill="#f08c3c"/><circle cx="450.0" cy="39.8" r="0.6" fill="#e45a3c"/>
<circle cx="463.9" cy="67.6" r="1.4" fill="#f08c3c"/><circle cx="463.9" cy="67.6" r="0.6" fill="#e45a3c"/>
<circle cx="477.7" cy="29.3" r="1.4" fill="#f08c3c"/><circle cx="477.7" cy="29.3" r="0.6" fill="#e45a3c"/>
<circle cx="466.6" cy="53.8" r="1.4" fill="#f08c3c"/><circle cx="466.6" cy="53.8" r="0.6" fill="#e45a3c"/>
<circle cx="481.4" cy="27.1" r="1.4" fill="#f08c3c"/><circle cx="481.4" cy="27.1" r="0.6" fill="#e45a3c"/>
<circle cx="478.0" cy="40.5" r="1.4" fill="#f08c3c"/><circle cx="478.0" cy="40.5" r="0.6" fill="#e45a3c"/>
<circle cx="488.2" cy="18.6" r="1.4" fill="#f08c3c"/><circle cx="488.2" cy="18.6" r="0.6" fill="#e45a3c"/>
<circle cx="466.0" cy="40.1" r="1.4" fill="#f08c3c"/><circle cx="466.0" cy="40.1" r="0.6" fill="#e45a3c"/>
<circle cx="476.4" cy="26.7" r="1.4" fill="#f08c3c"/><circle cx="476.4" cy="26.7" r="0.6" fill="#e45a3c"/>
<circle cx="454.5" cy="52.8" r="1.4" fill="#f08c3c"/><circle cx="454.5" cy="52.8" r="0.6" fill="#e45a3c"/>
<circle cx="460.6" cy="61.7" r="1.4" fill="#f08c3c"/><circle cx="460.6" cy="61.7" r="0.6" fill="#e45a3c"/>
<circle cx="461.1" cy="28.7" r="1.4" fill="#f08c3c"/><circle cx="461.1" cy="28.7" r="0.6" fill="#e45a3c"/>
<circle cx="449.1" cy="43.4" r="1.4" fill="#f08c3c"/><circle cx="449.1" cy="43.4" r="0.6" fill="#e45a3c"/>
<circle cx="494.3" cy="28.4" r="1.4" fill="#f08c3c"/><circle cx="494.3" cy="28.4" r="0.6" fill="#e45a3c"/>
<circle cx="453.2" cy="37.9" r="1.4" fill="#f08c3c"/><circle cx="453.2" cy="37.9" r="0.6" fill="#e45a3c"/>
<circle cx="444.7" cy="48.4" r="1.4" fill="#f08c3c"/><circle cx="444.7" cy="48.4" r="0.6" fill="#e45a3c"/>
<circle cx="493.7" cy="28.4" r="1.4" fill="#f08c3c"/><circle cx="493.7" cy="28.4" r="0.6" fill="#e45a3c"/>
<circle cx="455.2" cy="45.8" r="1.4" fill="#f08c3c"/><circle cx="455.2" cy="45.8" r="0.6" fill="#e45a3c"/>
<circle cx="467.4" cy="55.7" r="1.4" fill="#f08c3c"/><circle cx="467.4" cy="55.7" r="0.6" fill="#e45a3c"/>
<circle cx="499.3" cy="18.2" r="1.4" fill="#f08c3c"/><circle cx="499.3" cy="18.2" r="0.6" fill="#e45a3c"/>
<circle cx="464.5" cy="68.4" r="1.4" fill="#f08c3c"/><circle cx="464.5" cy="68.4" r="0.6" fill="#e45a3c"/>
<circle cx="489.5" cy="39.2" r="1.4" fill="#f08c3c"/><circle cx="489.5" cy="39.2" r="0.6" fill="#e45a3c"/>
<circle cx="452.6" cy="39.1" r="1.4" fill="#f08c3c"/><circle cx="452.6" cy="39.1" r="0.6" fill="#e45a3c"/>
<circle cx="461.9" cy="26.3" r="1.4" fill="#f08c3c"/><circle cx="461.9" cy="26.3" r="0.6" fill="#e45a3c"/>
<circle cx="470.8" cy="97.8" r="1.4" fill="#f08c3c"/><circle cx="470.8" cy="97.8" r="0.6" fill="#e45a3c"/>
<circle cx="469.9" cy="53.4" r="1.4" fill="#f08c3c"/><circle cx="469.9" cy="53.4" r="0.6" fill="#e45a3c"/>
<circle cx="467.6" cy="86.4" r="1.4" fill="#f08c3c"/><circle cx="467.6" cy="86.4" r="0.6" fill="#e45a3c"/>
<circle cx="509.4" cy="19.1" r="1.4" fill="#f08c3c"/><circle cx="509.4" cy="19.1" r="0.6" fill="#e45a3c"/>
<circle cx="465.0" cy="52.8" r="1.4" fill="#f08c3c"/><circle cx="465.0" cy="52.8" r="0.6" fill="#e45a3c"/>
<circle cx="458.0" cy="71.9" r="1.4" fill="#f08c3c"/><circle cx="458.0" cy="71.9" r="0.6" fill="#e45a3c"/>
<circle cx="444.1" cy="37.3" r="1.4" fill="#f08c3c"/><circle cx="444.1" cy="37.3" r="0.6" fill="#e45a3c"/>
<circle cx="493.9" cy="28.5" r="1.4" fill="#f08c3c"/><circle cx="493.9" cy="28.5" r="0.6" fill="#e45a3c"/>
<circle cx="449.5" cy="48.5" r="1.4" fill="#f08c3c"/><circle cx="449.5" cy="48.5" r="0.6" fill="#e45a3c"/>
<circle cx="448.2" cy="55.4" r="1.4" fill="#f08c3c"/><circle cx="448.2" cy="55.4" r="0.6" fill="#e45a3c"/>
<circle cx="455.0" cy="71.7" r="1.4" fill="#f08c3c"/><circle cx="455.0" cy="71.7" r="0.6" fill="#e45a3c"/>
<circle cx="464.7" cy="86.1" r="1.4" fill="#f08c3c"/><circle cx="464.7" cy="86.1" r="0.6" fill="#e45a3c"/>
<circle cx="515.0" cy="15.7" r="1.4" fill="#f08c3c"/><circle cx="515.0" cy="15.7" r="0.6" fill="#e45a3c"/>
<circle cx="493.6" cy="16.7" r="1.4" fill="#f08c3c"/><circle cx="493.6" cy="16.7" r="0.6" fill="#e45a3c"/>
<circle cx="467.5" cy="55.7" r="1.4" fill="#f08c3c"/><circle cx="467.5" cy="55.7" r="0.6" fill="#e45a3c"/>
<circle cx="508.2" cy="24.4" r="1.4" fill="#f08c3c"/><circle cx="508.2" cy="24.4" r="0.6" fill="#e45a3c"/>
<circle cx="475.3" cy="30.6" r="1.4" fill="#f08c3c"/><circle cx="475.3" cy="30.6" r="0.6" fill="#e45a3c"/>
<circle cx="495.8" cy="22.0" r="1.4" fill="#f08c3c"/><circle cx="495.8" cy="22.0" r="0.6" fill="#e45a3c"/>
<circle cx="453.7" cy="41.6" r="1.4" fill="#f08c3c"/><circle cx="453.7" cy="41.6" r="0.6" fill="#e45a3c"/>
<circle cx="526.1" cy="17.1" r="1.4" fill="#f08c3c"/><circle cx="526.1" cy="17.1" r="0.6" fill="#e45a3c"/>
<circle cx="449.1" cy="44.2" r="1.4" fill="#f08c3c"/><circle cx="449.1" cy="44.2" r="0.6" fill="#e45a3c"/>
<circle cx="461.5" cy="52.4" r="1.4" fill="#f08c3c"/><circle cx="461.5" cy="52.4" r="0.6" fill="#e45a3c"/>
<circle cx="494.4" cy="24.3" r="1.4" fill="#f08c3c"/><circle cx="494.4" cy="24.3" r="0.6" fill="#e45a3c"/>
<circle cx="465.7" cy="24.6" r="1.4" fill="#f08c3c"/><circle cx="465.7" cy="24.6" r="0.6" fill="#e45a3c"/>
<circle cx="516.0" cy="20.9" r="1.4" fill="#f08c3c"/><circle cx="516.0" cy="20.9" r="0.6" fill="#e45a3c"/>
<circle cx="462.9" cy="23.7" r="1.4" fill="#f08c3c"/><circle cx="462.9" cy="23.7" r="0.6" fill="#e45a3c"/>
<circle cx="479.2" cy="36.3" r="1.4" fill="#f08c3c"/><circle cx="479.2" cy="36.3" r="0.6" fill="#e45a3c"/>
<circle cx="500.2" cy="23.6" r="1.4" fill="#f08c3c"/><circle cx="500.2" cy="23.6" r="0.6" fill="#e45a3c"/>
<circle cx="484.8" cy="34.2" r="1.4" fill="#f08c3c"/><circle cx="484.8" cy="34.2" r="0.6" fill="#e45a3c"/>
<circle cx="466.6" cy="24.9" r="1.4" fill="#f08c3c"/><circle cx="466.6" cy="24.9" r="0.6" fill="#e45a3c"/>
<circle cx="458.7" cy="87.2" r="1.4" fill="#f08c3c"/><circle cx="458.7" cy="87.2" r="0.6" fill="#e45a3c"/>
<circle cx="450.0" cy="29.9" r="1.4" fill="#f08c3c"/><circle cx="450.0" cy="29.9" r="0.6" fill="#e45a3c"/>
<circle cx="491.4" cy="34.9" r="1.4" fill="#f08c3c"/><circle cx="491.4" cy="34.9" r="0.6" fill="#e45a3c"/>
<circle cx="509.2" cy="22.9" r="1.4" fill="#f08c3c"/><circle cx="509.2" cy="22.9" r="0.6" fill="#e45a3c"/>
<circle cx="448.0" cy="27.8" r="1.4" fill="#f08c3c"/><circle cx="448.0" cy="27.8" r="0.6" fill="#e45a3c"/>
<circle cx="460.3" cy="52.5" r="1.4" fill="#f08c3c"/><circle cx="460.3" cy="52.5" r="0.6" fill="#e45a3c"/>
<circle cx="447.8" cy="34.0" r="1.4" fill="#f08c3c"/><circle cx="447.8" cy="34.0" r="0.6" fill="#e45a3c"/>
<circle cx="517.0" cy="20.6" r="1.4" fill="#f08c3c"/><circle cx="517.0" cy="20.6" r="0.6" fill="#e45a3c"/>
<circle cx="466.5" cy="49.0" r="1.4" fill="#f08c3c"/><circle cx="466.5" cy="49.0" r="0.6" fill="#e45a3c"/>
<circle cx="461.2" cy="71.2" r="1.4" fill="#f08c3c"/><circle cx="461.2" cy="71.2" r="0.6" fill="#e45a3c"/>
<circle cx="488.2" cy="39.5" r="1.4" fill="#f08c3c"/><circle cx="488.2" cy="39.5" r="0.6" fill="#e45a3c"/>
<circle cx="465.5" cy="31.7" r="1.4" fill="#f08c3c"/><circle cx="465.5" cy="31.7" r="0.6" fill="#e45a3c"/>
<circle cx="446.5" cy="48.4" r="1.4" fill="#f08c3c"/><circle cx="446.5" cy="48.4" r="0.6" fill="#e45a3c"/>
<circle cx="455.7" cy="26.5" r="1.4" fill="#f08c3c"/><circle cx="455.7" cy="26.5" r="0.6" fill="#e45a3c"/>
<circle cx="476.1" cy="43.3" r="1.4" fill="#f08c3c"/><circle cx="476.1" cy="43.3" r="0.6" fill="#e45a3c"/>
<circle cx="451.8" cy="37.1" r="1.4" fill="#f08c3c"/><circle cx="451.8" cy="37.1" r="0.6" fill="#e45a3c"/>
<circle cx="480.0" cy="39.0" r="1.4" fill="#f08c3c"/><circle cx="480.0" cy="39.0" r="0.6" fill="#e45a3c"/>
<circle cx="491.0" cy="26.6" r="1.4" fill="#f08c3c"/><circle cx="491.0" cy="26.6" r="0.6" fill="#e45a3c"/>
<circle cx="474.5" cy="36.2" r="1.4" fill="#f08c3c"/><circle cx="474.5" cy="36.2" r="0.6" fill="#e45a3c"/>
<circle cx="461.4" cy="58.6" r="1.4" fill="#f08c3c"/><circle cx="461.4" cy="58.6" r="0.6" fill="#e45a3c"/>
<circle cx="463.8" cy="58.9" r="1.4" fill="#f08c3c"/><circle cx="463.8" cy="58.9" r="0.6" fill="#e45a3c"/>
<circle cx="496.5" cy="30.1" r="1.4" fill="#f08c3c"/><circle cx="496.5" cy="30.1" r="0.6" fill="#e45a3c"/>
<circle cx="446.4" cy="32.0" r="1.4" fill="#f08c3c"/><circle cx="446.4" cy="32.0" r="0.6" fill="#e45a3c"/>
<circle cx="448.9" cy="36.5" r="1.4" fill="#f08c3c"/><circle cx="448.9" cy="36.5" r="0.6" fill="#e45a3c"/>
<circle cx="510.1" cy="24.5" r="1.4" fill="#f08c3c"/><circle cx="510.1" cy="24.5" r="0.6" fill="#e45a3c"/>
<circle cx="459.6" cy="88.6" r="1.4" fill="#f08c3c"/><circle cx="459.6" cy="88.6" r="0.6" fill="#e45a3c"/>
<circle cx="448.2" cy="54.7" r="1.4" fill="#f08c3c"/><circle cx="448.2" cy="54.7" r="0.6" fill="#e45a3c"/>
<circle cx="528.1" cy="17.8" r="1.4" fill="#f08c3c"/><circle cx="528.1" cy="17.8" r="0.6" fill="#e45a3c"/>
<circle cx="474.1" cy="26.9" r="1.4" fill="#f08c3c"/><circle cx="474.1" cy="26.9" r="0.6" fill="#e45a3c"/>
<circle cx="496.8" cy="32.4" r="1.4" fill="#f08c3c"/><circle cx="496.8" cy="32.4" r="0.6" fill="#e45a3c"/>
<circle cx="483.7" cy="28.2" r="1.4" fill="#f08c3c"/><circle cx="483.7" cy="28.2" r="0.6" fill="#e45a3c"/>
<circle cx="500.3" cy="23.8" r="1.4" fill="#f08c3c"/><circle cx="500.3" cy="23.8" r="0.6" fill="#e45a3c"/>
<circle cx="462.9" cy="64.8" r="1.4" fill="#f08c3c"/><circle cx="462.9" cy="64.8" r="0.6" fill="#e45a3c"/>
<circle cx="515.0" cy="19.0" r="1.4" fill="#f08c3c"/><circle cx="515.0" cy="19.0" r="0.6" fill="#e45a3c"/>
<circle cx="471.8" cy="52.9" r="1.4" fill="#f08c3c"/><circle cx="471.8" cy="52.9" r="0.6" fill="#e45a3c"/>
<circle cx="468.5" cy="72.3" r="1.4" fill="#f08c3c"/><circle cx="468.5" cy="72.3" r="0.6" fill="#e45a3c"/>
<circle cx="463.6" cy="45.5" r="1.4" fill="#f08c3c"/><circle cx="463.6" cy="45.5" r="0.6" fill="#e45a3c"/>
<circle cx="472.1" cy="43.3" r="1.4" fill="#f08c3c"/><circle cx="472.1" cy="43.3" r="0.6" fill="#e45a3c"/>
<circle cx="483.7" cy="31.7" r="1.4" fill="#f08c3c"/><circle cx="483.7" cy="31.7" r="0.6" fill="#e45a3c"/>
<circle cx="502.5" cy="15.9" r="1.4" fill="#f08c3c"/><circle cx="502.5" cy="15.9" r="0.6" fill="#e45a3c"/>
<circle cx="526.9" cy="17.6" r="1.4" fill="#f08c3c"/><circle cx="526.9" cy="17.6" r="0.6" fill="#e45a3c"/>
<circle cx="486.4" cy="25.0" r="1.4" fill="#f08c3c"/><circle cx="486.4" cy="25.0" r="0.6" fill="#e45a3c"/>
<circle cx="459.1" cy="58.0" r="1.4" fill="#f08c3c"/><circle cx="459.1" cy="58.0" r="0.6" fill="#e45a3c"/>
<circle cx="471.4" cy="20.5" r="1.4" fill="#f08c3c"/><circle cx="471.4" cy="20.5" r="0.6" fill="#e45a3c"/>
<circle cx="445.5" cy="31.0" r="1.4" fill="#f08c3c"/><circle cx="445.5" cy="31.0" r="0.6" fill="#e45a3c"/>
<circle cx="465.8" cy="53.8" r="1.4" fill="#f08c3c"/><circle cx="465.8" cy="53.8" r="0.6" fill="#e45a3c"/>
<circle cx="475.4" cy="29.2" r="1.4" fill="#f08c3c"/><circle cx="475.4" cy="29.2" r="0.6" fill="#e45a3c"/>
<circle cx="449.9" cy="50.2" r="1.4" fill="#f08c3c"/><circle cx="449.9" cy="50.2" r="0.6" fill="#e45a3c"/>
<circle cx="478.6" cy="38.4" r="1.4" fill="#f08c3c"/><circle cx="478.6" cy="38.4" r="0.6" fill="#e45a3c"/>
<circle cx="444.2" cy="32.2" r="1.4" fill="#f08c3c"/><circle cx="444.2" cy="32.2" r="0.6" fill="#e45a3c"/>
<circle cx="487.7" cy="34.3" r="1.4" fill="#f08c3c"/><circle cx="487.7" cy="34.3" r="0.6" fill="#e45a3c"/>
<circle cx="449.4" cy="27.3" r="1.4" fill="#f08c3c"/><circle cx="449.4" cy="27.3" r="0.6" fill="#e45a3c"/>
<circle cx="467.8" cy="51.1" r="1.4" fill="#f08c3c"/><circle cx="467.8" cy="51.1" r="0.6" fill="#e45a3c"/>
<circle cx="463.3" cy="38.2" r="1.4" fill="#f08c3c"/><circle cx="463.3" cy="38.2" r="0.6" fill="#e45a3c"/>
<circle cx="456.2" cy="36.3" r="1.4" fill="#f08c3c"/><circle cx="456.2" cy="36.3" r="0.6" fill="#e45a3c"/>
<circle cx="478.9" cy="31.3" r="1.4" fill="#f08c3c"/><circle cx="478.9" cy="31.3" r="0.6" fill="#e45a3c"/>
<circle cx="493.0" cy="21.6" r="1.4" fill="#f08c3c"/><circle cx="493.0" cy="21.6" r="0.6" fill="#e45a3c"/>
<circle cx="475.6" cy="50.2" r="1.4" fill="#f08c3c"/><circle cx="475.6" cy="50.2" r="0.6" fill="#e45a3c"/>
<circle cx="458.3" cy="47.3" r="1.4" fill="#f08c3c"/><circle cx="458.3" cy="47.3" r="0.6" fill="#e45a3c"/>
<circle cx="500.4" cy="20.5" r="1.4" fill="#f08c3c"/><circle cx="500.4" cy="20.5" r="0.6" fill="#e45a3c"/>
<circle cx="491.6" cy="23.9" r="1.4" fill="#f08c3c"/><circle cx="491.6" cy="23.9" r="0.6" fill="#e45a3c"/>
<circle cx="446.0" cy="52.7" r="1.4" fill="#f08c3c"/><circle cx="446.0" cy="52.7" r="0.6" fill="#e45a3c"/>
<circle cx="452.3" cy="45.2" r="1.4" fill="#f08c3c"/><circle cx="452.3" cy="45.2" r="0.6" fill="#e45a3c"/>
<circle cx="482.1" cy="35.8" r="1.4" fill="#f08c3c"/><circle cx="482.1" cy="35.8" r="0.6" fill="#e45a3c"/>
<circle cx="478.1" cy="35.8" r="1.4" fill="#f08c3c"/><circle cx="478.1" cy="35.8" r="0.6" fill="#e45a3c"/>
<circle cx="462.8" cy="83.3" r="1.4" fill="#f08c3c"/><circle cx="462.8" cy="83.3" r="0.6" fill="#e45a3c"/>
<circle cx="454.3" cy="42.0" r="1.4" fill="#f08c3c"/><circle cx="454.3" cy="42.0" r="0.6" fill="#e45a3c"/>
<circle cx="469.2" cy="34.8" r="1.4" fill="#f08c3c"/><circle cx="469.2" cy="34.8" r="0.6" fill="#e45a3c"/>
<circle cx="484.1" cy="16.9" r="1.4" fill="#f08c3c"/><circle cx="484.1" cy="16.9" r="0.6" fill="#e45a3c"/>
<circle cx="476.9" cy="33.0" r="1.4" fill="#f08c3c"/><circle cx="476.9" cy="33.0" r="0.6" fill="#e45a3c"/>
<circle cx="457.5" cy="40.9" r="1.4" fill="#f08c3c"/><circle cx="457.5" cy="40.9" r="0.6" fill="#e45a3c"/>
<circle cx="463.1" cy="95.7" r="1.4" fill="#f08c3c"/><circle cx="463.1" cy="95.7" r="0.6" fill="#e45a3c"/>
<circle cx="455.9" cy="48.0" r="1.4" fill="#f08c3c"/><circle cx="455.9" cy="48.0" r="0.6" fill="#e45a3c"/>
<circle cx="466.0" cy="84.4" r="1.4" fill="#f08c3c"/><circle cx="466.0" cy="84.4" r="0.6" fill="#e45a3c"/>
<circle cx="470.2" cy="23.9" r="1.4" fill="#f08c3c"/><circle cx="470.2" cy="23.9" r="0.6" fill="#e45a3c"/>
<circle cx="448.4" cy="31.5" r="1.4" fill="#f08c3c"/><circle cx="448.4" cy="31.5" r="0.6" fill="#e45a3c"/>
<circle cx="462.2" cy="44.7" r="1.4" fill="#f08c3c"/><circle cx="462.2" cy="44.7" r="0.6" fill="#e45a3c"/>
<circle cx="474.6" cy="19.7" r="1.4" fill="#f08c3c"/><circle cx="474.6" cy="19.7" r="0.6" fill="#e45a3c"/>
<circle cx="461.5" cy="65.2" r="1.4" fill="#f08c3c"/><circle cx="461.5" cy="65.2" r="0.6" fill="#e45a3c"/>
<circle cx="461.0" cy="41.2" r="1.4" fill="#f08c3c"/><circle cx="461.0" cy="41.2" r="0.6" fill="#e45a3c"/>
<circle cx="466.4" cy="89.1" r="1.4" fill="#f08c3c"/><circle cx="466.4" cy="89.1" r="0.6" fill="#e45a3c"/>
<circle cx="513.5" cy="15.8" r="1.4" fill="#f08c3c"/><circle cx="513.5" cy="15.8" r="0.6" fill="#e45a3c"/>
<circle cx="467.3" cy="85.5" r="1.4" fill="#f08c3c"/><circle cx="467.3" cy="85.5" r="0.6" fill="#e45a3c"/>
<circle cx="482.7" cy="27.2" r="1.4" fill="#f08c3c"/><circle cx="482.7" cy="27.2" r="0.6" fill="#e45a3c"/>
<circle cx="456.3" cy="43.4" r="1.4" fill="#f08c3c"/><circle cx="456.3" cy="43.4" r="0.6" fill="#e45a3c"/>
<circle cx="504.2" cy="24.7" r="1.4" fill="#f08c3c"/><circle cx="504.2" cy="24.7" r="0.6" fill="#e45a3c"/>
<circle cx="465.9" cy="41.9" r="1.4" fill="#f08c3c"/><circle cx="465.9" cy="41.9" r="0.6" fill="#e45a3c"/>
<circle cx="465.5" cy="72.4" r="1.4" fill="#f08c3c"/><circle cx="465.5" cy="72.4" r="0.6" fill="#e45a3c"/>
<circle cx="477.6" cy="46.4" r="1.4" fill="#f08c3c"/><circle cx="477.6" cy="46.4" r="0.6" fill="#e45a3c"/>
<circle cx="486.0" cy="37.4" r="1.4" fill="#f08c3c"/><circle cx="486.0" cy="37.4" r="0.6" fill="#e45a3c"/>
<circle cx="468.6" cy="28.7" r="1.4" fill="#f08c3c"/><circle cx="468.6" cy="28.7" r="0.6" fill="#e45a3c"/>
<circle cx="451.8" cy="45.0" r="1.4" fill="#f08c3c"/><circle cx="451.8" cy="45.0" r="0.6" fill="#e45a3c"/>
<circle cx="479.5" cy="35.3" r="1.4" fill="#f08c3c"/><circle cx="479.5" cy="35.3" r="0.6" fill="#e45a3c"/>
<circle cx="448.9" cy="39.9" r="1.4" fill="#f08c3c"/><circle cx="448.9" cy="39.9" r="0.6" fill="#e45a3c"/>
<circle cx="469.7" cy="91.3" r="1.4" fill="#f08c3c"/><circle cx="469.7" cy="91.3" r="0.6" fill="#e45a3c"/>
<circle cx="466.4" cy="24.2" r="1.4" fill="#f08c3c"/><circle cx="466.4" cy="24.2" r="0.6" fill="#e45a3c"/>
<circle cx="456.6" cy="39.0" r="1.4" fill="#f08c3c"/><circle cx="456.6" cy="39.0" r="0.6" fill="#e45a3c"/>
<circle cx="458.6" cy="67.1" r="1.4" fill="#f08c3c"/><circle cx="458.6" cy="67.1" r="0.6" fill="#e45a3c"/>
<circle cx="489.6" cy="36.8" r="1.4" fill="#f08c3c"/><circle cx="489.6" cy="36.8" r="0.6" fill="#e45a3c"/>
<circle cx="462.3" cy="53.6" r="1.4" fill="#f08c3c"/><circle cx="462.3" cy="53.6" r="0.6" fill="#e45a3c"/>
<circle cx="456.5" cy="49.2" r="1.4" fill="#f08c3c"/><circle cx="456.5" cy="49.2" r="0.6" fill="#e45a3c"/>
<circle cx="455.9" cy="77.9" r="1.4" fill="#f08c3c"/><circle cx="455.9" cy="77.9" r="0.6" fill="#e45a3c"/>
<circle cx="471.1" cy="29.2" r="1.4" fill="#f08c3c"/><circle cx="471.1" cy="29.2" r="0.6" fill="#e45a3c"/>
<circle cx="443.3" cy="43.2" r="1.4" fill="#f08c3c"/><circle cx="443.3" cy="43.2" r="0.6" fill="#e45a3c"/>
<circle cx="463.8" cy="78.0" r="1.4" fill="#f08c3c"/><circle cx="463.8" cy="78.0" r="0.6" fill="#e45a3c"/>
<circle cx="476.9" cy="21.8" r="1.4" fill="#f08c3c"/><circle cx="476.9" cy="21.8" r="0.6" fill="#e45a3c"/>
<circle cx="489.4" cy="31.5" r="1.4" fill="#f08c3c"/><circle cx="489.4" cy="31.5" r="0.6" fill="#e45a3c"/>
<circle cx="479.7" cy="45.8" r="1.4" fill="#f08c3c"/><circle cx="479.7" cy="45.8" r="0.6" fill="#e45a3c"/>
<circle cx="452.9" cy="66.7" r="1.4" fill="#f08c3c"/><circle cx="452.9" cy="66.7" r="0.6" fill="#e45a3c"/>
<circle cx="483.9" cy="40.3" r="1.4" fill="#f08c3c"/><circle cx="483.9" cy="40.3" r="0.6" fill="#e45a3c"/>
<circle cx="456.6" cy="52.3" r="1.4" fill="#f08c3c"/><circle cx="456.6" cy="52.3" r="0.6" fill="#e45a3c"/>
<circle cx="461.2" cy="36.5" r="1.4" fill="#f08c3c"/><circle cx="461.2" cy="36.5" r="0.6" fill="#e45a3c"/>
<circle cx="500.9" cy="17.4" r="1.4" fill="#f08c3c"/><circle cx="500.9" cy="17.4" r="0.6" fill="#e45a3c"/>
<circle cx="465.9" cy="79.6" r="1.4" fill="#f08c3c"/><circle cx="465.9" cy="79.6" r="0.6" fill="#e45a3c"/>
<circle cx="453.7" cy="39.7" r="1.4" fill="#f08c3c"/><circle cx="453.7" cy="39.7" r="0.6" fill="#e45a3c"/>
<circle cx="470.0" cy="38.9" r="1.4" fill="#f08c3c"/><circle cx="470.0" cy="38.9" r="0.6" fill="#e45a3c"/>
<circle cx="469.1" cy="48.7" r="1.4" fill="#f08c3c"/><circle cx="469.1" cy="48.7" r="0.6" fill="#e45a3c"/>
<circle cx="464.9" cy="44.7" r="1.4" fill="#f08c3c"/><circle cx="464.9" cy="44.7" r="0.6" fill="#e45a3c"/>
<circle cx="464.0" cy="43.1" r="1.4" fill="#f08c3c"/><circle cx="464.0" cy="43.1" r="0.6" fill="#e45a3c"/>
<circle cx="473.7" cy="38.7" r="1.4" fill="#f08c3c"/><circle cx="473.7" cy="38.7" r="0.6" fill="#e45a3c"/>
<circle cx="460.7" cy="52.6" r="1.4" fill="#f08c3c"/><circle cx="460.7" cy="52.6" r="0.6" fill="#e45a3c"/>
<circle cx="480.3" cy="20.5" r="1.4" fill="#f08c3c"/><circle cx="480.3" cy="20.5" r="0.6" fill="#e45a3c"/>
<circle cx="446.3" cy="42.3" r="1.4" fill="#f08c3c"/><circle cx="446.3" cy="42.3" r="0.6" fill="#e45a3c"/>
<circle cx="469.8" cy="96.0" r="1.4" fill="#f08c3c"/><circle cx="469.8" cy="96.0" r="0.6" fill="#e45a3c"/>
<circle cx="467.7" cy="38.5" r="1.4" fill="#f08c3c"/><circle cx="467.7" cy="38.5" r="0.6" fill="#e45a3c"/>
<circle cx="473.3" cy="20.6" r="1.4" fill="#f08c3c"/><circle cx="473.3" cy="20.6" r="0.6" fill="#e45a3c"/>
<circle cx="463.7" cy="34.9" r="1.4" fill="#f08c3c"/><circle cx="463.7" cy="34.9" r="0.6" fill="#e45a3c"/>
<circle cx="463.8" cy="43.5" r="1.4" fill="#f08c3c"/><circle cx="463.8" cy="43.5" r="0.6" fill="#e45a3c"/>
<circle cx="467.4" cy="83.8" r="1.4" fill="#f08c3c"/><circle cx="467.4" cy="83.8" r="0.6" fill="#e45a3c"/>
<circle cx="474.6" cy="26.1" r="1.4" fill="#f08c3c"/><circle cx="474.6" cy="26.1" r="0.6" fill="#e45a3c"/>
<circle cx="498.7" cy="29.0" r="1.4" fill="#f08c3c"/><circle cx="498.7" cy="29.0" r="0.6" fill="#e45a3c"/>
<circle cx="464.5" cy="46.2" r="1.4" fill="#f08c3c"/><circle cx="464.5" cy="46.2" r="0.6" fill="#e45a3c"/>
<circle cx="520.6" cy="17.4" r="1.4" fill="#f08c3c"/><circle cx="520.6" cy="17.4" r="0.6" fill="#e45a3c"/>
<circle cx="485.4" cy="28.2" r="1.4" fill="#f08c3c"/><circle cx="485.4" cy="28.2" r="0.6" fill="#e45a3c"/>
<circle cx="471.3" cy="43.3" r="1.4" fill="#f08c3c"/><circle cx="471.3" cy="43.3" r="0.6" fill="#e45a3c"/>
<circle cx="450.6" cy="55.7" r="1.4" fill="#f08c3c"/><circle cx="450.6" cy="55.7" r="0.6" fill="#e45a3c"/>
<circle cx="452.9" cy="32.7" r="1.4" fill="#f08c3c"/><circle cx="452.9" cy="32.7" r="0.6" fill="#e45a3c"/>
<circle cx="516.8" cy="20.3" r="1.4" fill="#f08c3c"/><circle cx="516.8" cy="20.3" r="0.6" fill="#e45a3c"/>
<circle cx="477.3" cy="40.2" r="1.4" fill="#f08c3c"/><circle cx="477.3" cy="40.2" r="0.6" fill="#e45a3c"/>
<circle cx="444.6" cy="48.8" r="1.4" fill="#f08c3c"/><circle cx="444.6" cy="48.8" r="0.6" fill="#e45a3c"/>
<circle cx="488.4" cy="36.7" r="1.4" fill="#f08c3c"/><circle cx="488.4" cy="36.7" r="0.6" fill="#e45a3c"/>
<circle cx="462.6" cy="33.3" r="1.4" fill="#f08c3c"/><circle cx="462.6" cy="33.3" r="0.6" fill="#e45a3c"/>
<circle cx="489.9" cy="25.5" r="1.4" fill="#f08c3c"/><circle cx="489.9" cy="25.5" r="0.6" fill="#e45a3c"/>
<circle cx="507.1" cy="24.8" r="1.4" fill="#f08c3c"/><circle cx="507.1" cy="24.8" r="0.6" fill="#e45a3c"/>
<circle cx="468.1" cy="66.6" r="1.4" fill="#f08c3c"/><circle cx="468.1" cy="66.6" r="0.6" fill="#e45a3c"/>
<circle cx="456.3" cy="77.2" r="1.4" fill="#f08c3c"/><circle cx="456.3" cy="77.2" r="0.6" fill="#e45a3c"/>
</g>
<text x="534.3" y="11.8" font-size="5" font-weight="bold" text-anchor="middle">N</text>
<path d="M534.3,15.3 L530.8,27.7 L534.3,25.0 Z" fill="#111"/><path d="M534.3,15.3 L537.8,27.7 L534.3,25.0 Z" fill="#fff" stroke="#111" stroke-width="0.4"/>
<text x="516.6" y="32.099999999999994" font-size="2.8" fill="#333" textLength="17.7" lengthAdjust="spacing">0 1.5 3 4.5 6</text>
<rect x="516.6" y="33.3" width="19.7" height="1.7" fill="#111"/><rect x="521.525" y="33.65" width="4.925" height="1" fill="#fff"/><rect x="531.375" y="33.65" width="2.364" height="1" fill="#fff"/>
<text x="505.2" y="78.3" font-size="4.6" font-weight="bold">Legend</text>
<text x="505.2" y="84" font-size="4.6" font-weight="bold">Buffer</text>
<rect x="505.0" y="87.5" width="9.5" height="4.2" fill="#e26a6a"/>
<text x="515.9" y="91.7" font-size="5.8" fill="#111">100 M</text>
<rect x="505.0" y="94.1" width="9.5" height="4.2" fill="#f2a860"/>
<text x="515.9" y="98.3" font-size="5.8" fill="#111">200 M</text>
<rect x="505.0" y="100.7" width="9.5" height="4.2" fill="#f3ec92"/>
<text x="515.9" y="104.9" font-size="5.8" fill="#111">300 M</text>
<text x="439.0" y="17.6" font-size="11" fill="#111">(c)</text>
<text transform="translate(229.2,190.2) rotate(-90)" font-size="6" font-weight="bold" fill="#111">River Width</text>
<text transform="translate(235.2,190.2) rotate(-90)" font-size="6" font-weight="bold" fill="#111">and Quantity Distribution</text>
<line x1="255" y1="182.3" x2="325" y2="182.3" stroke="#e2e2e2" stroke-width="0.5"/>
<text x="252.3" y="183.4" font-size="3.4" fill="#777" text-anchor="end">0</text>
<line x1="255" y1="174.1" x2="325" y2="174.1" stroke="#e2e2e2" stroke-width="0.5"/>
<text x="252.3" y="175.2" font-size="3.4" fill="#777" text-anchor="end">5</text>
<line x1="255" y1="165.8" x2="325" y2="165.8" stroke="#e2e2e2" stroke-width="0.5"/>
<text x="252.3" y="166.9" font-size="3.4" fill="#777" text-anchor="end">10</text>
<line x1="255" y1="157.6" x2="325" y2="157.6" stroke="#e2e2e2" stroke-width="0.5"/>
<text x="252.3" y="158.7" font-size="3.4" fill="#777" text-anchor="end">15</text>
<line x1="255" y1="149.3" x2="325" y2="149.3" stroke="#e2e2e2" stroke-width="0.5"/>
<text x="252.3" y="150.4" font-size="3.4" fill="#777" text-anchor="end">20</text>
<line x1="255" y1="141.1" x2="325" y2="141.1" stroke="#e2e2e2" stroke-width="0.5"/>
<text x="252.3" y="142.2" font-size="3.4" fill="#777" text-anchor="end">25</text>
<line x1="255" y1="132.8" x2="325" y2="132.8" stroke="#e2e2e2" stroke-width="0.5"/>
<text x="252.3" y="133.9" font-size="3.4" fill="#777" text-anchor="end">30</text>
<line x1="255" y1="124.6" x2="325" y2="124.6" stroke="#e2e2e2" stroke-width="0.5"/>
<text x="252.3" y="125.7" font-size="3.4" fill="#777" text-anchor="end">35</text>
<line x1="255" y1="116.3" x2="325" y2="116.3" stroke="#e2e2e2" stroke-width="0.5"/>
<text x="252.3" y="117.4" font-size="3.4" fill="#777" text-anchor="end">40</text>
<text x="267.4" y="188.5" font-size="3.4" fill="#777" text-anchor="middle">Width ≤ 20</text>
<text x="267.4" y="192.7" font-size="3.4" fill="#777" text-anchor="middle">M</text>
<text x="290.2" y="188.5" font-size="3.4" fill="#777" text-anchor="middle">20M < Widt</text>
<text x="290.2" y="192.7" font-size="3.4" fill="#777" text-anchor="middle">h ≤ 100M</text>
<text x="313.2" y="188.5" font-size="3.4" fill="#777" text-anchor="middle">Width > 100</text>
<text x="313.2" y="192.7" font-size="3.4" fill="#777" text-anchor="middle">M</text>
<line x1="224" y1="192.8" x2="325" y2="192.8" stroke="#dcdcdc" stroke-width="0.45"/>
<line x1="224" y1="198.4" x2="325" y2="198.4" stroke="#dcdcdc" stroke-width="0.45"/>
<line x1="224" y1="203.9" x2="325" y2="203.9" stroke="#dcdcdc" stroke-width="0.45"/>
<line x1="224" y1="209.4" x2="325" y2="209.4" stroke="#dcdcdc" stroke-width="0.45"/>
<line x1="255.7" y1="183" x2="255.7" y2="209.4" stroke="#e0e0e0" stroke-width="0.45"/>
<line x1="279" y1="183" x2="279" y2="209.4" stroke="#e0e0e0" stroke-width="0.45"/>
<line x1="301.5" y1="183" x2="301.5" y2="209.4" stroke="#e0e0e0" stroke-width="0.45"/>
<line x1="325" y1="183" x2="325" y2="209.4" stroke="#e0e0e0" stroke-width="0.45"/>
<polyline points="267.4,175.7 290.2,179.0 313.2,175.7" fill="none" stroke="#a9d48f" stroke-width="0.68"/>
<path d="M266.4,174.70000000000002 L268.4,176.70000000000002 M266.4,176.70000000000002 L268.4,174.70000000000002" stroke="#a9d48f" stroke-width="0.5"/>
<path d="M289.2,178.0 L291.2,180.0 M289.2,180.0 L291.2,178.0" stroke="#a9d48f" stroke-width="0.5"/>
<path d="M312.2,174.70000000000002 L314.2,176.70000000000002 M312.2,176.70000000000002 L314.2,174.70000000000002" stroke="#a9d48f" stroke-width="0.5"/>
<line x1="225" y1="195.6" x2="231" y2="195.6" stroke="#a9d48f" stroke-width="0.5"/>
<path d="M227.36,194.96 L228.64,196.23999999999998 M227.36,196.23999999999998 L228.64,194.96" stroke="#a9d48f" stroke-width="0.5"/>
<text x="232.5" y="196.79999999999998" font-size="3.5" fill="#777">Upstream</text>
<text x="267.4" y="196.79999999999998" font-size="3.5" fill="#777" text-anchor="middle">4</text>
<text x="290.2" y="196.79999999999998" font-size="3.5" fill="#777" text-anchor="middle">2</text>
<text x="313.2" y="196.79999999999998" font-size="3.5" fill="#777" text-anchor="middle">4</text>
<polyline points="267.4,122.9 290.2,174.1 313.2,175.7" fill="none" stroke="#5aae3a" stroke-width="1.08"/>
<rect x="266.025" y="121.525" width="2.75" height="2.75" fill="#5aae3a"/>
<rect x="288.825" y="172.675" width="2.75" height="2.75" fill="#5aae3a"/>
<rect x="311.825" y="174.32500000000002" width="2.75" height="2.75" fill="#5aae3a"/>
<line x1="225" y1="201.1" x2="231" y2="201.1" stroke="#5aae3a" stroke-width="0.8"/>
<rect x="227.12" y="200.22" width="1.7600000000000002" height="1.7600000000000002" fill="#5aae3a"/>
<text x="232.5" y="202.29999999999998" font-size="3.5" fill="#777">Midstream</text>
<text x="267.4" y="202.29999999999998" font-size="3.5" fill="#777" text-anchor="middle">36</text>
<text x="290.2" y="202.29999999999998" font-size="3.5" fill="#777" text-anchor="middle">5</text>
<text x="313.2" y="202.29999999999998" font-size="3.5" fill="#777" text-anchor="middle">3</text>
<polyline points="267.4,136.1 290.2,167.5 313.2,169.1" fill="none" stroke="#4d9a2e" stroke-width="0.94"/>
<rect x="266.275" y="134.97500000000002" width="2.25" height="2.25" fill="#4d9a2e"/>
<rect x="289.075" y="166.32500000000002" width="2.25" height="2.25" fill="#4d9a2e"/>
<rect x="312.075" y="167.97500000000002" width="2.25" height="2.25" fill="#4d9a2e"/>
<line x1="225" y1="206.6" x2="231" y2="206.6" stroke="#4d9a2e" stroke-width="0.7"/>
<rect x="227.28" y="205.88" width="1.4400000000000002" height="1.4400000000000002" fill="#4d9a2e"/>
<text x="232.5" y="207.79999999999998" font-size="3.5" fill="#777">Downstream</text>
<text x="267.4" y="207.79999999999998" font-size="3.5" fill="#777" text-anchor="middle">28</text>
<text x="290.2" y="207.79999999999998" font-size="3.5" fill="#777" text-anchor="middle">9</text>
<text x="313.2" y="207.79999999999998" font-size="3.5" fill="#777" text-anchor="middle">8</text>
<text transform="translate(336.7,190.8) rotate(-90)" font-size="6" font-weight="bold" fill="#111">Distribution of Settlements</text>
<text transform="translate(342.7,190.8) rotate(-90)" font-size="6" font-weight="bold" fill="#111">by Waterfront Type</text>
<line x1="365" y1="185.3" x2="433" y2="185.3" stroke="#e2e2e2" stroke-width="0.5"/>
<text x="361.8" y="186.4" font-size="3.4" fill="#777" text-anchor="end">0</text>
<line x1="365" y1="175.2" x2="433" y2="175.2" stroke="#e2e2e2" stroke-width="0.5"/>
<text x="361.8" y="176.3" font-size="3.4" fill="#777" text-anchor="end">10</text>
<line x1="365" y1="165.2" x2="433" y2="165.2" stroke="#e2e2e2" stroke-width="0.5"/>
<text x="361.8" y="166.3" font-size="3.4" fill="#777" text-anchor="end">20</text>
<line x1="365" y1="155.1" x2="433" y2="155.1" stroke="#e2e2e2" stroke-width="0.5"/>
<text x="361.8" y="156.2" font-size="3.4" fill="#777" text-anchor="end">30</text>
<line x1="365" y1="145.1" x2="433" y2="145.1" stroke="#e2e2e2" stroke-width="0.5"/>
<text x="361.8" y="146.2" font-size="3.4" fill="#777" text-anchor="end">40</text>
<line x1="365" y1="135.0" x2="433" y2="135.0" stroke="#e2e2e2" stroke-width="0.5"/>
<text x="361.8" y="136.1" font-size="3.4" fill="#777" text-anchor="end">50</text>
<line x1="365" y1="124.9" x2="433" y2="124.9" stroke="#e2e2e2" stroke-width="0.5"/>
<text x="361.8" y="126.0" font-size="3.4" fill="#777" text-anchor="end">60</text>
<line x1="365" y1="114.9" x2="433" y2="114.9" stroke="#e2e2e2" stroke-width="0.5"/>
<text x="361.8" y="116.0" font-size="3.4" fill="#777" text-anchor="end">70</text>
<text x="376.3" y="190.4" font-size="3.4" fill="#777" text-anchor="middle">Riverside</text>
<text x="398.7" y="190.4" font-size="3.4" fill="#777" text-anchor="middle">Creekside</text>
<text x="421.5" y="190.4" font-size="3.4" fill="#777" text-anchor="middle">> 500M</text>
<line x1="331.5" y1="192.8" x2="433" y2="192.8" stroke="#dcdcdc" stroke-width="0.45"/>
<line x1="331.5" y1="198.4" x2="433" y2="198.4" stroke="#dcdcdc" stroke-width="0.45"/>
<line x1="331.5" y1="203.9" x2="433" y2="203.9" stroke="#dcdcdc" stroke-width="0.45"/>
<line x1="331.5" y1="209.4" x2="433" y2="209.4" stroke="#dcdcdc" stroke-width="0.45"/>
<line x1="365" y1="183" x2="365" y2="209.4" stroke="#e0e0e0" stroke-width="0.45"/>
<line x1="387.5" y1="183" x2="387.5" y2="209.4" stroke="#e0e0e0" stroke-width="0.45"/>
<line x1="409.9" y1="183" x2="409.9" y2="209.4" stroke="#e0e0e0" stroke-width="0.45"/>
<line x1="432.3" y1="183" x2="432.3" y2="209.4" stroke="#e0e0e0" stroke-width="0.45"/>
<polyline points="376.3,153.1 398.7,160.2 421.5,180.3" fill="none" stroke="#b5622a" stroke-width="1.08"/>
<circle cx="376.3" cy="153.108" r="1.125" fill="#b5622a"/>
<circle cx="398.7" cy="160.15" r="1.125" fill="#b5622a"/>
<circle cx="421.5" cy="180.27" r="1.125" fill="#b5622a"/>
<line x1="332.5" y1="195.6" x2="338.5" y2="195.6" stroke="#b5622a" stroke-width="0.8"/>
<circle cx="335.5" cy="195.6" r="0.7200000000000001" fill="#b5622a"/>
<text x="340.0" y="196.79999999999998" font-size="3.5" fill="#777">Upstream</text>
<text x="376.3" y="196.79999999999998" font-size="3.5" fill="#777" text-anchor="middle">32</text>
<text x="398.7" y="196.79999999999998" font-size="3.5" fill="#777" text-anchor="middle">25</text>
<text x="421.5" y="196.79999999999998" font-size="3.5" fill="#777" text-anchor="middle">5</text>
<polyline points="376.3,177.3 398.7,119.9 421.5,185.3" fill="none" stroke="#ee8030" stroke-width="1.08"/>
<rect x="374.925" y="175.877" width="2.75" height="2.75" fill="#ee8030"/>
<rect x="397.325" y="118.53500000000001" width="2.75" height="2.75" fill="#ee8030"/>
<rect x="420.125" y="183.925" width="2.75" height="2.75" fill="#ee8030"/>
<line x1="332.5" y1="201.1" x2="338.5" y2="201.1" stroke="#ee8030" stroke-width="0.8"/>
<rect x="334.62" y="200.22" width="1.7600000000000002" height="1.7600000000000002" fill="#ee8030"/>
<text x="340.0" y="202.29999999999998" font-size="3.5" fill="#777">Midstream</text>
<text x="376.3" y="202.29999999999998" font-size="3.5" fill="#777" text-anchor="middle">8</text>
<text x="398.7" y="202.29999999999998" font-size="3.5" fill="#777" text-anchor="middle">65</text>
<text x="421.5" y="202.29999999999998" font-size="3.5" fill="#777" text-anchor="middle">0</text>
<polyline points="376.3,173.2 398.7,145.1 421.5,183.3" fill="none" stroke="#f3a878" stroke-width="0.61"/>
<path d="M375.425,172.353 L377.175,174.103 M375.425,174.103 L377.175,172.353" stroke="#f3a878" stroke-width="0.5"/>
<path d="M397.825,144.185 L399.575,145.935 M397.825,145.935 L399.575,144.185" stroke="#f3a878" stroke-width="0.5"/>
<path d="M420.625,182.413 L422.375,184.163 M420.625,184.163 L422.375,182.413" stroke="#f3a878" stroke-width="0.5"/>
<line x1="332.5" y1="206.6" x2="338.5" y2="206.6" stroke="#f3a878" stroke-width="0.45"/>
<path d="M334.94,206.04 L336.06,207.16 M334.94,207.16 L336.06,206.04" stroke="#f3a878" stroke-width="0.5"/>
<text x="340.0" y="207.79999999999998" font-size="3.5" fill="#777">Downstream</text>
<text x="376.3" y="207.79999999999998" font-size="3.5" fill="#777" text-anchor="middle">12</text>
<text x="398.7" y="207.79999999999998" font-size="3.5" fill="#777" text-anchor="middle">40</text>
<text x="421.5" y="207.79999999999998" font-size="3.5" fill="#777" text-anchor="middle">2</text>
<text transform="translate(444.0,190.8) rotate(-90)" font-size="6" font-weight="bold" fill="#111">Distribution of the Number</text>
<text transform="translate(450.0,190.8) rotate(-90)" font-size="6" font-weight="bold" fill="#111">of Settlements Influenced</text>
<text transform="translate(456.0,190.8) rotate(-90)" font-size="6" font-weight="bold" fill="#111">by the Distance to Rivers</text>
<line x1="472" y1="181.3" x2="544" y2="181.3" stroke="#e2e2e2" stroke-width="0.5"/>
<text x="470.2" y="182.4" font-size="3.4" fill="#777" text-anchor="end">0</text>
<line x1="472" y1="171.8" x2="544" y2="171.8" stroke="#e2e2e2" stroke-width="0.5"/>
<text x="470.2" y="172.9" font-size="3.4" fill="#777" text-anchor="end">10</text>
<line x1="472" y1="162.3" x2="544" y2="162.3" stroke="#e2e2e2" stroke-width="0.5"/>
<text x="470.2" y="163.4" font-size="3.4" fill="#777" text-anchor="end">20</text>
<line x1="472" y1="152.8" x2="544" y2="152.8" stroke="#e2e2e2" stroke-width="0.5"/>
<text x="470.2" y="153.9" font-size="3.4" fill="#777" text-anchor="end">30</text>
<line x1="472" y1="143.3" x2="544" y2="143.3" stroke="#e2e2e2" stroke-width="0.5"/>
<text x="470.2" y="144.4" font-size="3.4" fill="#777" text-anchor="end">40</text>
<line x1="472" y1="133.8" x2="544" y2="133.8" stroke="#e2e2e2" stroke-width="0.5"/>
<text x="470.2" y="134.9" font-size="3.4" fill="#777" text-anchor="end">50</text>
<line x1="472" y1="124.3" x2="544" y2="124.3" stroke="#e2e2e2" stroke-width="0.5"/>
<text x="470.2" y="125.4" font-size="3.4" fill="#777" text-anchor="end">60</text>
<line x1="472" y1="114.8" x2="544" y2="114.8" stroke="#e2e2e2" stroke-width="0.5"/>
<text x="470.2" y="115.9" font-size="3.4" fill="#777" text-anchor="end">70</text>
<text x="480.3" y="188.5" font-size="3.4" fill="#777" text-anchor="middle">Riversid</text>
<text x="480.3" y="192.7" font-size="3.4" fill="#777" text-anchor="middle">e 100M</text>
<text x="497.8" y="188.5" font-size="3.4" fill="#777" text-anchor="middle">Creeksid</text>
<text x="497.8" y="192.7" font-size="3.4" fill="#777" text-anchor="middle">e 100M</text>
<text x="514.5" y="188.5" font-size="3.4" fill="#777" text-anchor="middle">Riversid</text>
<text x="514.5" y="192.7" font-size="3.4" fill="#777" text-anchor="middle">e 500M</text>
<text x="532.8" y="190.4" font-size="3.4" fill="#777" text-anchor="middle">> 500M</text>
<line x1="439.4" y1="192.8" x2="544" y2="192.8" stroke="#dcdcdc" stroke-width="0.45"/>
<line x1="439.4" y1="198.4" x2="544" y2="198.4" stroke="#dcdcdc" stroke-width="0.45"/>
<line x1="439.4" y1="203.9" x2="544" y2="203.9" stroke="#dcdcdc" stroke-width="0.45"/>
<line x1="439.4" y1="209.4" x2="544" y2="209.4" stroke="#dcdcdc" stroke-width="0.45"/>
<line x1="472" y1="183" x2="472" y2="209.4" stroke="#e0e0e0" stroke-width="0.45"/>
<line x1="489" y1="183" x2="489" y2="209.4" stroke="#e0e0e0" stroke-width="0.45"/>
<line x1="506" y1="183" x2="506" y2="209.4" stroke="#e0e0e0" stroke-width="0.45"/>
<line x1="523" y1="183" x2="523" y2="209.4" stroke="#e0e0e0" stroke-width="0.45"/>
<line x1="542" y1="183" x2="542" y2="209.4" stroke="#e0e0e0" stroke-width="0.45"/>
<polyline points="480.3,161.4 497.8,163.2 514.5,170.9 532.8,176.6" fill="none" stroke="#8fc0ea" stroke-width="0.68"/>
<path d="M479.3,160.35000000000002 L481.3,162.35000000000002 M479.3,162.35000000000002 L481.3,160.35000000000002" stroke="#8fc0ea" stroke-width="0.5"/>
<path d="M496.8,162.25 L498.8,164.25 M496.8,164.25 L498.8,162.25" stroke="#8fc0ea" stroke-width="0.5"/>
<path d="M513.5,169.85000000000002 L515.5,171.85000000000002 M513.5,171.85000000000002 L515.5,169.85000000000002" stroke="#8fc0ea" stroke-width="0.5"/>
<path d="M531.8,175.55 L533.8,177.55 M531.8,177.55 L533.8,175.55" stroke="#8fc0ea" stroke-width="0.5"/>
<line x1="440.4" y1="195.6" x2="446.4" y2="195.6" stroke="#8fc0ea" stroke-width="0.5"/>
<path d="M442.76,194.96 L444.03999999999996,196.23999999999998 M442.76,196.23999999999998 L444.03999999999996,194.96" stroke="#8fc0ea" stroke-width="0.5"/>
<text x="447.9" y="196.79999999999998" font-size="3.5" fill="#777">Upstream</text>
<text x="480.3" y="196.79999999999998" font-size="3.5" fill="#777" text-anchor="middle">21</text>
<text x="497.8" y="196.79999999999998" font-size="3.5" fill="#777" text-anchor="middle">19</text>
<text x="514.5" y="196.79999999999998" font-size="3.5" fill="#777" text-anchor="middle">11</text>
<text x="532.8" y="196.79999999999998" font-size="3.5" fill="#777" text-anchor="middle">5</text>
<polyline points="480.3,179.4 497.8,120.5 514.5,175.6 532.8,181.3" fill="none" stroke="#3d8fdc" stroke-width="1.08"/>
<rect x="479.05" y="178.15" width="2.5" height="2.5" fill="#3d8fdc"/>
<rect x="496.55" y="119.25000000000001" width="2.5" height="2.5" fill="#3d8fdc"/>
<rect x="513.25" y="174.35000000000002" width="2.5" height="2.5" fill="#3d8fdc"/>
<rect x="531.55" y="180.05" width="2.5" height="2.5" fill="#3d8fdc"/>
<line x1="440.4" y1="201.1" x2="446.4" y2="201.1" stroke="#3d8fdc" stroke-width="0.8"/>
<rect x="442.59999999999997" y="200.29999999999998" width="1.6" height="1.6" fill="#3d8fdc"/>
<text x="447.9" y="202.29999999999998" font-size="3.5" fill="#777">Midstream</text>
<text x="480.3" y="202.29999999999998" font-size="3.5" fill="#777" text-anchor="middle">2</text>
<text x="497.8" y="202.29999999999998" font-size="3.5" fill="#777" text-anchor="middle">64</text>
<text x="514.5" y="202.29999999999998" font-size="3.5" fill="#777" text-anchor="middle">6</text>
<text x="532.8" y="202.29999999999998" font-size="3.5" fill="#777" text-anchor="middle">0</text>
<polyline points="480.3,169.9 497.8,145.2 514.5,181.3 532.8,178.5" fill="none" stroke="#2f5fa8" stroke-width="1.08"/>
<path d="M478.925,171.0 L481.675,171.0 L480.3,168.525 Z" fill="#2f5fa8"/>
<path d="M496.425,146.3 L499.175,146.3 L497.8,143.82500000000002 Z" fill="#2f5fa8"/>
<path d="M513.125,182.4 L515.875,182.4 L514.5,179.925 Z" fill="#2f5fa8"/>
<path d="M531.425,179.55 L534.175,179.55 L532.8,177.07500000000002 Z" fill="#2f5fa8"/>
<line x1="440.4" y1="206.6" x2="446.4" y2="206.6" stroke="#2f5fa8" stroke-width="0.8"/>
<path d="M442.52,207.304 L444.28,207.304 L443.4,205.72 Z" fill="#2f5fa8"/>
<text x="447.9" y="207.79999999999998" font-size="3.5" fill="#777">Downstream</text>
<text x="480.3" y="207.79999999999998" font-size="3.5" fill="#777" text-anchor="middle">12</text>
<text x="497.8" y="207.79999999999998" font-size="3.5" fill="#777" text-anchor="middle">38</text>
<text x="514.5" y="207.79999999999998" font-size="3.5" fill="#777" text-anchor="middle">0</text>
<text x="532.8" y="207.79999999999998" font-size="3.5" fill="#777" text-anchor="middle">3</text>
<line x1="6" y1="222.3" x2="543.5" y2="222.3" stroke="#b4b4b4" stroke-width="0.8" stroke-dasharray="0.8 1.4"/>
<line x1="6" y1="281.6" x2="543.5" y2="281.6" stroke="#b4b4b4" stroke-width="0.8" stroke-dasharray="0.8 1.4"/>
<line x1="6" y1="342.6" x2="543.5" y2="342.6" stroke="#b4b4b4" stroke-width="0.8" stroke-dasharray="0.8 1.4"/>
<line x1="6" y1="402.0" x2="543.5" y2="402.0" stroke="#b4b4b4" stroke-width="0.8" stroke-dasharray="0.8 1.4"/>
<line x1="543.5" y1="222.3" x2="543.5" y2="402.0" stroke="#b4b4b4" stroke-width="0.8" stroke-dasharray="0.8 1.4"/>
<text x="9.6" y="221.5" font-size="9.8" font-weight="bold" fill="#111">Historical Maps</text>
<text x="97.5" y="221.5" font-size="9.86" font-weight="bold" fill="#111">Hydrological-Settlement</text>
<text x="219" y="221.5" font-size="10" font-weight="bold" fill="#111">Relations</text>
<text x="422.3" y="221.5" font-size="9.8" font-weight="bold" fill="#111">Structure Extraction</text>
<clipPath id="cH0"><rect x="19.0" y="223.0" width="71.6" height="56.30000000000001"/></clipPath>
<g clip-path="url(#cH0)">
<rect x="19.0" y="223.0" width="71.6" height="56.30000000000001" fill="#dededc"/>
<g fill="#bdbdbb" opacity="0.55">
<ellipse cx="30.8" cy="261.8" rx="2.6" ry="1.6"/>
<ellipse cx="34.5" cy="267.6" rx="3.0" ry="1.6"/>
<ellipse cx="55.2" cy="236.3" rx="1.0" ry="1.4"/>
<ellipse cx="60.9" cy="226.9" rx="3.0" ry="1.1"/>
<ellipse cx="35.7" cy="225.4" rx="3.5" ry="2.0"/>
<ellipse cx="81.7" cy="257.7" rx="1.1" ry="1.3"/>
<ellipse cx="54.6" cy="229.5" rx="3.4" ry="1.4"/>
<ellipse cx="30.1" cy="269.0" rx="1.3" ry="2.4"/>
<ellipse cx="51.4" cy="254.1" rx="1.9" ry="1.6"/>
<ellipse cx="32.4" cy="225.1" rx="3.2" ry="1.1"/>
<ellipse cx="74.9" cy="234.7" rx="3.4" ry="2.3"/>
<ellipse cx="73.0" cy="265.9" rx="2.5" ry="2.0"/>
<ellipse cx="27.8" cy="249.8" rx="3.1" ry="1.1"/>
<ellipse cx="85.1" cy="273.0" rx="2.0" ry="1.4"/>
<ellipse cx="51.3" cy="244.7" rx="3.5" ry="1.4"/>
<ellipse cx="20.9" cy="228.3" rx="2.8" ry="2.5"/>
<ellipse cx="54.5" cy="250.7" rx="2.4" ry="2.0"/>
<ellipse cx="34.9" cy="257.3" rx="2.4" ry="1.8"/>
<ellipse cx="31.9" cy="232.6" rx="1.9" ry="2.4"/>
<ellipse cx="43.8" cy="256.6" rx="1.8" ry="0.9"/>
<ellipse cx="23.7" cy="268.8" rx="2.9" ry="1.4"/>
<ellipse cx="67.9" cy="261.1" rx="3.2" ry="2.4"/>
<ellipse cx="48.1" cy="278.7" rx="3.4" ry="1.8"/>
<ellipse cx="82.2" cy="250.6" rx="1.9" ry="1.1"/>
<ellipse cx="81.7" cy="232.1" rx="1.2" ry="2.1"/>
<ellipse cx="74.4" cy="250.2" rx="3.1" ry="0.8"/>
<ellipse cx="37.5" cy="239.3" rx="2.0" ry="1.0"/>
<ellipse cx="24.0" cy="242.0" rx="3.2" ry="2.5"/>
<ellipse cx="72.4" cy="250.0" rx="1.6" ry="2.4"/>
<ellipse cx="56.6" cy="264.0" rx="1.1" ry="1.1"/>
<ellipse cx="79.0" cy="267.8" rx="3.2" ry="1.8"/>
<ellipse cx="49.5" cy="255.7" rx="3.1" ry="1.3"/>
<ellipse cx="57.3" cy="238.5" rx="2.9" ry="0.7"/>
<ellipse cx="68.1" cy="276.7" rx="1.1" ry="1.8"/>
<ellipse cx="65.1" cy="270.9" rx="2.5" ry="1.2"/>
<ellipse cx="48.0" cy="277.0" rx="3.3" ry="0.9"/>
<ellipse cx="25.8" cy="228.3" rx="1.1" ry="1.5"/>
<ellipse cx="29.1" cy="271.8" rx="2.6" ry="0.9"/>
<ellipse cx="57.6" cy="241.3" rx="2.2" ry="1.1"/>
<ellipse cx="30.9" cy="233.4" rx="1.9" ry="2.0"/>
<ellipse cx="58.4" cy="225.6" rx="2.8" ry="2.3"/>
<ellipse cx="74.4" cy="267.5" rx="1.0" ry="1.5"/>
<ellipse cx="23.5" cy="266.0" rx="1.4" ry="2.0"/>
<ellipse cx="37.1" cy="262.2" rx="1.8" ry="0.8"/>
<ellipse cx="46.8" cy="240.4" rx="3.3" ry="1.2"/>
</g>
<path fill="none" stroke="#9a9a98" stroke-width="0.4" d="M55.0 254.2l1.1 1.1 1.1 1.1 0.7 1.4-0.3 1.5 0.1 1.6-0.3 1.5-0.4 1.5-0.5 1.5 0.4 1.5-0.2 1.5M91.8 242.1l0.9-0.6 0.4-1.0-0.2-1.0 0.3-1.0 0.6-0.9 0.5-0.9 0.7-0.8 0.0-1.1 0.2-1.0 0.2-1.0M56.2 244.3l0.8 0.8 0.9 0.7 1.1 0.4 0.9 0.7 0.5 1.0 0.2 1.1 0.3 1.1 0.6 0.9 0.8 0.8 0.8 0.8M65.0 280.0l-0.9 0.1-0.9-0.1-0.7-0.6-0.4-0.8-0.2-0.8 0.1-0.9 0.3-0.8 0.6-0.6 0.8-0.4 0.8-0.2M35.0 277.1l-0.4-1.0 0.3-1.1 0.9-0.6 0.3-1.1-0.0-1.1-0.3-1.1-0.5-1.0-0.9-0.7-0.8-0.7-1.1-0.2M39.5 278.8l-1.0 1.0-1.4 0.2-1.4-0.2-1.3 0.4-1.2 0.7-1.3 0.4-1.4 0.1-1.3 0.5-1.3-0.3-1.4-0.0M35.7 272.7l-0.7-0.6-0.6-0.7-0.8-0.5-0.9-0.3-0.5-0.8-0.5-0.8-0.6-0.7-0.5-0.8-0.7-0.6-0.9-0.2M45.8 237.0l0.6-0.7 0.9-0.4 0.9 0.2 0.9 0.4 0.9-0.2 0.9-0.2 0.6-0.7 0.7-0.6 0.9-0.4 0.7-0.7M16.6 253.9l-0.3 0.8-0.7 0.6-0.6 0.7-0.1 0.9-0.5 0.7-0.8 0.5-0.8 0.4-0.4 0.8-0.0 0.9 0.1 0.9M58.8 234.0l1.3-0.5 1.4 0.2 1.3-0.7 1.3-0.6 0.8-1.2 1.3-0.6 1.4-0.1 1.4 0.4 1.4-0.2 1.0-1.0M79.3 257.8l-1.3-0.3-1.3-0.0-1.2 0.4-1.1 0.6-0.9 0.9-1.1 0.7-1.3 0.1-1.0 0.8-0.4 1.2-0.4 1.2M68.6 231.8l1.0-0.3 1.0-0.3 1.0-0.0 1.0 0.2 1.0-0.3 0.7-0.8 1.0-0.2 1.0-0.2 1.0-0.3 1.0-0.1M72.5 252.7l0.1-0.9-0.4-0.7-0.6-0.6-0.6-0.7-0.4-0.7-0.7-0.5-0.5-0.7-0.6-0.7-0.8-0.3-0.5-0.7M78.6 276.5l-0.2 1.3-0.9 1.0-1.0 0.9-1.3 0.3-1.2-0.6-1.3-0.4-0.8-1.1-0.1-1.3 0.5-1.3-0.4-1.3M43.3 258.2l0.3-1.2-0.3-1.3 0.5-1.2 0.5-1.2 1.1-0.7 0.7-1.1 1.2-0.4 1.2-0.3 1.3 0.2 1.1 0.6M84.5 242.6l-0.4 0.7-0.5 0.7-0.7 0.4-0.6 0.6-0.3 0.8 0.3 0.8 0.4 0.8 0.3 0.8 0.7 0.5 0.6 0.6M32.4 226.7l-1.2-1.0-1.2-1.0-1.5-0.3-1.5 0.3-1.5 0.4-1.5 0.1-1.5-0.5-1.2-0.9-1.0-1.2-1.3-0.8M49.4 243.6l-0.2 1.2-0.1 1.2 0.6 1.0 0.1 1.2-0.0 1.2-0.5 1.1-0.8 0.9-1.1 0.5-1.2-0.3-1.2-0.1M46.5 220.2l-1.1-0.8-0.3-1.3-0.8-1.0-1.2-0.7-0.9-1.0-0.4-1.3-0.4-1.3-1.1-0.8-1.2-0.6-0.8-1.1M54.8 248.8l-0.6-0.9-0.4-1.0 0.2-1.1 0.6-1.0 0.4-1.0-0.0-1.1 0.4-1.0 0.8-0.8 1.1-0.2 0.9-0.6M81.8 275.5l-0.5 0.7-0.1 0.9-0.4 0.7-0.2 0.8-0.4 0.8-0.1 0.9 0.2 0.8 0.5 0.7 0.5 0.7 0.3 0.8M32.9 262.8l-0.8-0.7-1.0-0.4-1.1 0.2-0.8 0.8-0.9 0.5-0.9 0.6-0.4 1.0-0.9 0.6-1.0 0.4-0.5 0.9M72.2 257.0l-0.9-0.7-1.0-0.5-0.9-0.7-0.8-0.9-0.9-0.7-1.0-0.5-0.8-0.8-0.6-1.0-0.7-0.9-0.7-1.0M33.3 269.2l-0.5-0.6-0.7-0.4-0.7-0.4-0.6-0.5-0.8-0.1-0.8-0.1-0.8 0.3-0.8-0.0-0.8 0.2-0.7 0.3M32.7 223.0l0.4 0.9-0.0 0.9 0.3 0.9 0.7 0.6 0.7 0.6 0.9 0.2 0.9 0.1 0.9 0.4 0.9 0.0 0.9 0.3M57.8 225.3l-1.0-0.1-0.9 0.3-1.0 0.2-1.0-0.2-1.0-0.2-0.9-0.4-1.0 0.2-0.9 0.5-0.7 0.7-1.0 0.2M43.7 268.9l-0.7-0.4-0.5-0.7-0.4-0.7-0.7-0.5-0.3-0.8-0.7-0.5-0.3-0.8 0.1-0.8 0.3-0.8 0.3-0.8M28.7 241.2l-0.9-1.0-0.4-1.3-1.1-0.8-1.3-0.4-1.3 0.3-1.2 0.6-1.3 0.1-1.3-0.4-1.3 0.3-1.2 0.6M24.7 261.2l0.3 1.1-0.3 1.1-0.1 1.1-0.4 1.1-0.6 1.0-0.6 1.0-0.7 0.9-0.5 1.1 0.0 1.2 0.0 1.2M39.6 240.6l0.8-0.6 0.5-0.8-0.1-0.9-0.5-0.8-0.0-0.9-0.2-0.9-0.0-0.9-0.4-0.9-0.2-0.9-0.2-0.9M73.1 252.9l-0.4 1.0-0.8 0.8-1.0 0.5-0.9 0.6-0.8 0.8-1.1 0.3-1.1-0.3-1.1 0.3-1.1-0.0-1.0-0.4M68.4 280.1l-0.9 1.2-0.6 1.4-0.4 1.5-1.2 0.9-0.7 1.3-0.5 1.4-0.7 1.3-0.3 1.5 0.2 1.5-0.4 1.5M63.5 266.3l1.4-0.3 1.4 0.3 0.9 1.1 0.9 1.1 0.6 1.3 0.5 1.3-0.4 1.4-0.7 1.3-0.5 1.3-0.8 1.2M38.9 228.1l1.1 0.2 1.0-0.4 1.0-0.5 1.1-0.1 0.8-0.7 1.0-0.6 0.5-1.0 0.5-1.0 0.2-1.1 0.2-1.1M71.2 245.8l-0.7-0.9-0.9-0.7-0.6-0.9-0.1-1.1 0.6-0.9 0.2-1.1 0.4-1.0 0.1-1.1 0.4-1.0 0.9-0.7M26.5 241.5l-1.1 1.0-1.5 0.4-1.3 0.9-1.5 0.3-1.0 1.2-0.7 1.4 0.0 1.5 0.4 1.5 0.9 1.2 1.5 0.4M78.3 230.8l-0.8-0.9-0.3-1.2-0.1-1.3-0.6-1.1-0.2-1.2-0.8-0.9-0.2-1.2-0.5-1.2-0.9-0.9-1.1-0.5M46.7 269.3l0.5-1.4-0.1-1.5-0.4-1.4-0.8-1.2-0.9-1.2-0.2-1.5 0.8-1.3-0.0-1.5 0.9-1.2 1.4-0.5M51.8 263.2l0.3 1.4-0.6 1.3-1.2 0.8-1.4 0.0-1.2 0.8-1.4 0.4-1.4 0.4-1.4-0.4-1.4 0.3-1.4 0.2M25.4 270.1l1.4-0.1 1.2-0.7 1.3-0.5 1.4-0.3 0.9-1.0 1.4-0.2 1.2 0.6 1.3 0.5 1.2 0.6 1.3 0.4M63.0 244.8l-0.5-1.0-0.8-0.9-0.4-1.1-0.8-0.9-1.1-0.3-0.8-0.8-1.1-0.4-1.1-0.2-1.2 0.1-1.1 0.4M43.4 253.5l-0.8 0.4-0.5 0.8-0.1 0.9 0.2 0.9 0.4 0.8 0.6 0.7 0.2 0.9 0.0 0.9 0.1 0.9-0.3 0.8M69.2 239.6l0.0-1.3 0.5-1.2 0.7-1.1 1.2-0.5 1.0-0.9 1.1-0.6 1.3 0.2 1.3 0.3 0.9 0.9 1.3 0.3M72.1 236.5l-1.3 0.6-1.0 1.0-0.6 1.3-1.2 0.8-1.3 0.6-1.4 0.3-1.0 1.0-0.7 1.2-1.3 0.5-1.0 1.0M57.7 263.4l-0.6-1.0-0.2-1.2-0.6-1.0-0.7-1.0-0.8-0.9-0.6-1.1-0.3-1.2-0.7-1.0-0.4-1.2-0.5-1.1M17.2 238.2l0.1 1.1-0.6 0.9-1.0 0.4-1.1 0.2-1.0-0.3-1.1-0.3-1.0-0.5-0.6-0.9-1.0-0.4-1.1-0.2M45.0 241.2l0.9 0.7 0.4 1.1 0.7 0.9 1.0 0.5 1.1 0.2 0.9 0.7 1.1 0.3 0.9 0.7 1.1 0.2 1.1 0.3M72.0 262.0l0.8 0.2 0.8 0.2 0.7 0.6 0.6 0.7 0.8 0.3 0.8 0.2 0.7 0.6 0.7 0.5 0.9-0.0 0.8-0.4M30.4 256.5l-1.2 0.6-1.3-0.3-1.3 0.0-1.3-0.3-1.3 0.3-1.3 0.2-1.1 0.8-0.5 1.2-0.2 1.3 0.5 1.2M45.6 260.7l0.3-1.2-0.4-1.2 0.0-1.2-0.2-1.2 0.3-1.2 1.0-0.8 1.0-0.8 0.7-1.0 0.4-1.2 0.4-1.2M40.8 226.3l-0.2-1.1 0.3-1.1 0.8-0.8 1.0-0.4 1.0-0.5 1.1-0.3 0.7-0.9 1.0-0.6 1.1-0.2 1.0-0.6M52.6 236.9l-1.4 0.1-1.2-0.7-0.9-1.1-1.0-1.0-1.2-0.7-0.6-1.3 0.2-1.4-0.4-1.4-0.7-1.3-0.1-1.4M74.7 237.6l0.8-0.8 0.5-1.0 0.7-0.9 1.1-0.4 1.1 0.4 1.1 0.3 0.9 0.7 0.3 1.1 0.5 1.0 0.9 0.8M36.1 268.7l-0.6-0.7-0.8-0.4-0.7-0.6-0.7-0.6-0.2-0.9-0.2-0.9-0.2-0.9 0.3-0.9 0.6-0.7 0.2-0.9M78.4 244.9l1.5-0.4 1.5-0.5 1.2-1.0 0.8-1.4 0.2-1.6-0.5-1.5-0.0-1.6-1.0-1.3-0.8-1.4-0.6-1.5M73.1 255.4l0.6 1.4 0.4 1.5 0.8 1.3-0.2 1.5-1.0 1.2-1.3 0.9-1.5 0.2-1.4 0.7-1.3 0.8-1.2 1.0M42.8 243.3l-1.1-0.4-1.1-0.4-1.2 0.2-1.0-0.6-1.0-0.6-0.9-0.8-1.1-0.5-0.9-0.8-0.6-1.0 0.0-1.2M61.1 236.8l1.0 0.8 1.2 0.5 1.0 0.8 1.3 0.2 1.2 0.4 1.3-0.2 0.9-0.9 0.6-1.2 1.0-0.8 0.9-0.9M56.6 269.2l-0.5 1.5-1.1 1.2-1.4 0.7-1.3 1.0-1.2 1.0-1.5 0.4-1.3 0.9-1.3 1.0-1.4 0.7-1.6-0.0M34.9 261.5l0.6 0.8 0.4 0.9 0.2 1.0-0.4 0.9 0.1 1.0 0.0 1.0 0.0 1.0 0.4 0.9-0.2 1.0 0.3 0.9M36.2 222.5l-1.1-0.8-0.5-1.2-0.2-1.3-0.7-1.1 0.0-1.3 0.7-1.1 0.3-1.3 0.9-0.9 0.3-1.3 0.1-1.3M48.5 279.5l-0.5 0.9-0.8 0.6-0.5 0.9-0.8 0.6-0.7 0.8-0.7 0.7-1.0 0.3-0.9 0.6-0.9 0.5-1.0 0.4M60.8 245.4l0.1 1.3 0.9 1.0 0.8 1.1 0.6 1.2 0.1 1.3 0.7 1.1 0.4 1.2 0.5 1.2 0.5 1.2-0.1 1.3M56.3 247.1l0.2 1.3 0.1 1.3 0.9 1.0 0.9 1.0 0.2 1.3-0.7 1.1-0.6 1.2-0.1 1.3-0.9 1.0-0.5 1.2M17.4 235.4l-1.0-0.6-1.1-0.3-1.0-0.6-1.1-0.4-1.2 0.1-1.2-0.2-1.2-0.1-1.1-0.4-1.1-0.4-0.8-0.8M55.7 280.7l-0.3-1.4-0.0-1.4-0.3-1.4-1.0-1.0-0.4-1.4 0.3-1.4 0.8-1.2 1.3-0.7 1.3-0.6 1.4 0.4M52.7 281.1l-0.7 0.5-0.8 0.2-0.9 0.2-0.8-0.2-0.9-0.0-0.8-0.3-0.7-0.6-0.6-0.6-0.9-0.2-0.8-0.3M16.0 238.9l-0.3-0.8-0.1-0.9-0.5-0.7-0.8-0.4-0.6-0.6-0.2-0.9-0.6-0.6-0.5-0.7-0.6-0.6-0.5-0.7M22.0 221.0l0.7-0.5 0.7-0.4 0.4-0.7 0.6-0.6 0.8-0.2 0.7-0.5 0.8-0.2 0.8 0.2 0.5 0.7 0.5 0.7M66.1 241.5l-0.8 1.2-1.0 1.1-1.4 0.2-1.4-0.4-1.4 0.4-1.0 1.0-0.8 1.2-0.6 1.3-1.0 1.0-0.6 1.3M59.4 248.2l-0.7-0.8-0.1-1.0-0.6-0.9-0.0-1.0 0.2-1.0 0.1-1.0-0.5-0.9-0.3-1.0 0.1-1.0-0.1-1.0M71.3 253.1l0.4-0.8 0.3-0.8 0.6-0.6 0.8-0.2 0.8 0.2 0.9 0.0 0.8 0.4 0.9 0.0 0.9 0.1 0.9 0.0M83.2 265.0l0.2-1.3 0.1-1.3-0.6-1.2-0.8-1.0-1.2-0.6-0.9-1.0-1.3-0.4-0.9-1.0-0.7-1.1-0.8-1.1M25.3 247.8l-0.0 1.3 0.2 1.2 0.3 1.2 0.7 1.0 0.9 0.9 1.1 0.6 0.7 1.0 1.2 0.5 1.2 0.3 1.2 0.4M53.2 240.2l1.2 0.1 1.2 0.0 1.1 0.5 1.1 0.4 1.2 0.2 1.1 0.5 1.2 0.1 1.2 0.2 1.1-0.3 1.2-0.1M57.8 260.7l1.2-0.8 0.9-1.2 1.4-0.5 1.4-0.6 1.2-0.8 1.2-0.9 1.5-0.1 1.3 0.8 0.8 1.3 1.1 1.0M25.2 232.7l-1.0-0.8-1.3 0.0-1.0-0.8-1.2-0.6-1.3 0.3-1.3 0.3-0.9 1.0-1.2 0.5-1.3 0.4-1.3 0.2M87.9 227.8l0.4-0.9 0.3-0.9 0.1-1.0 0.3-0.9 0.8-0.6 1.0-0.0 0.8 0.5 0.3 0.9 0.7 0.6 1.0 0.0M80.3 235.4l-1.1-0.6-1.1-0.5-1.2 0.1-1.0 0.6-1.2-0.0-1.1-0.6-1.2 0.0-1.0-0.7-1.1-0.5-0.9-0.8M59.8 273.5l1.1 0.3 0.9 0.8 1.0 0.7 0.5 1.1 0.6 1.0 0.8 0.9 1.0 0.7 1.2 0.3 1.2 0.3 0.8 0.9M61.8 267.8l-0.7 0.6-0.6 0.7-0.0 0.9-0.5 0.8-0.0 0.9-0.2 0.9-0.7 0.6-0.5 0.8-0.3 0.9-0.1 0.9M58.1 281.0l-0.5 0.8-0.2 0.9-0.4 0.8-0.6 0.7-0.1 0.9 0.5 0.8 0.2 0.9-0.3 0.9-0.5 0.7-0.5 0.8M23.8 252.8l0.2 0.9 0.1 0.9 0.2 0.9 0.4 0.8 0.7 0.6 0.9 0.1 0.7-0.5 0.4-0.8 0.8-0.4 0.4-0.8M71.6 248.4l-1.1 0.7-1.3 0.1-1.2 0.3-1.2 0.4-1.2-0.3-1.2 0.3-1.2-0.4-1.1-0.5-1.1-0.7-1.1-0.7M61.9 225.7l-0.3 1.0 0.3 1.0 0.0 1.0 0.1 1.0-0.2 1.0-0.1 1.0-0.6 0.8-0.3 0.9-0.3 0.9-0.2 1.0M77.4 228.2l-1.2 0.1-1.1 0.6-1.1 0.5-1.2-0.3-1.2 0.4-1.2-0.4-0.7-1.0-0.7-1.0-1.2-0.4-1.2-0.4M90.7 220.1l-0.5-1.3-0.3-1.4-0.9-1.1-1.3-0.4-1.3-0.5-1.4-0.1-1.3-0.4-1.3-0.5-1.4 0.1-1.2-0.7M16.5 270.0l0.9-0.5 0.9-0.5 0.6-0.8 0.9-0.4 1.0 0.1 0.8 0.7 0.7 0.8 0.1 1.0-0.4 0.9-0.6 0.8M42.3 257.6l0.5-0.9 0.9-0.6 1.1-0.0 1.0 0.4 1.1-0.1 1.0-0.3 0.7-0.8 0.5-1.0-0.0-1.1-0.3-1.0M77.6 227.4l1.5-0.1 1.4-0.7 1.1-1.1 1.1-1.1 1.2-0.9 1.5-0.1 1.1-1.0 0.4-1.5 1.0-1.2 0.1-1.5"/>
<path fill="none" stroke="#5e5e5c" stroke-width="0.4" d="M85.3 231.6l-1.6 0.0-1.4-0.7-1.0-1.2-1.1-1.1-1.2-1.0-0.7-1.4-1.1-1.1-1.4-0.8M83.6 274.9l-0.5 1.4 0.3 1.4-0.4 1.4 0.5 1.4 1.0 1.0 1.5 0.2 1.5 0.1 1.1 1.0M21.5 235.7l-0.5-0.9-0.8-0.6-0.6-0.8-0.1-1.0-0.6-0.8-0.9-0.4-1.0-0.2-0.7-0.8M20.6 228.6l0.0-1.3-0.8-1.1-0.7-1.1-1.2-0.6-1.3 0.2-1.0 0.9-1.3 0.2-1.0 0.8M52.9 271.2l-0.9 0.3-0.9 0.2-0.8 0.6-0.8 0.5-1.0-0.1-0.8-0.5-0.3-0.9-0.8-0.5M20.5 251.3l0.7-0.4 0.7-0.3 0.8 0.1 0.8-0.0 0.8 0.3 0.8-0.1 0.8-0.2 0.8 0.1M52.3 231.5l-1.4 0.5-1.3 0.8-1.5 0.2-1.2 0.9-1.4 0.6-1.4-0.4-1.4-0.6-1.4-0.4M92.1 280.2l1.0 1.1 0.8 1.2 1.3 0.7 1.4-0.2 1.5-0.1 1.2 0.8 1.4 0.3 1.1 0.9M90.6 278.7l0.1 0.9-0.5 0.7-0.1 0.9 0.3 0.8 0.0 0.9 0.5 0.7 0.8 0.3 0.9-0.1M60.9 243.1l0.1 1.5-0.5 1.4-0.3 1.5-0.5 1.4-0.8 1.2-0.1 1.5-0.9 1.2-0.8 1.2M56.0 273.1l0.4 0.7 0.2 0.8 0.5 0.7 0.2 0.8-0.0 0.8-0.5 0.6-0.2 0.8-0.1 0.8M77.2 247.7l-0.0-0.9-0.1-0.9-0.3-0.9-0.7-0.7-0.8-0.6-0.4-0.8-0.6-0.7-0.0-0.9M43.8 249.7l1.4-0.1 1.4-0.2 1.4-0.3 1.0-1.0 1.1-0.9 1.4-0.4 1.1-0.9 0.8-1.2M21.1 248.3l1.2 0.2 0.8 0.8 1.1 0.4 1.1 0.3 1.0 0.6 1.2-0.1 1.2 0.1 1.2 0.3M18.1 232.7l0.5 1.3 0.6 1.3 0.8 1.2 0.1 1.4 0.3 1.4-0.4 1.4-1.0 1.1-1.0 1.0M23.9 240.8l-0.3 1.5 0.3 1.5-0.2 1.6-0.6 1.4-1.3 0.9-1.4 0.8-0.8 1.4-1.3 0.9M60.7 278.8l-0.5 1.1-0.6 1.1-0.8 0.9-1.0 0.7-1.2 0.1-1.2 0.1-1.1 0.6-1.2-0.0M71.2 229.9l0.8-0.8 0.3-1.1 0.8-0.9 1.0-0.6 0.7-0.9 0.9-0.7 1.2-0.2 1.2-0.1M89.6 253.5l-0.1-0.8 0.4-0.7 0.6-0.5 0.8-0.1 0.8 0.3 0.8 0.2 0.8-0.3 0.6-0.6M19.8 277.7l1.4-0.3 1.4-0.4 1.4-0.2 1.0-1.1 0.4-1.4 0.2-1.4-0.7-1.3-1.0-1.1M56.3 230.1l0.8 0.4 0.5 0.8 0.6 0.7 0.4 0.9 0.1 0.9-0.3 0.9-0.6 0.7-0.6 0.7M19.6 230.5l-0.7 0.8-0.6 0.8-0.4 0.9 0.1 1.0-0.3 1.0-0.8 0.6-1.0 0.3-0.7 0.8M69.9 269.8l-0.3-1.2-0.3-1.2 0.1-1.2-0.5-1.1 0.1-1.2 0.2-1.2-0.3-1.2-0.1-1.2M80.0 247.8l0.5-0.9 0.9-0.5 0.8-0.7 0.8-0.7 0.6-0.8 0.2-1.0 0.2-1.0-0.1-1.0M53.1 271.6l1.1-0.6 0.8-1.0 0.1-1.2 0.4-1.2 0.1-1.2-0.4-1.2-0.2-1.2 0.6-1.1M74.4 279.6l-1.5 0.3-1.5-0.2-1.5 0.4-1.0 1.2-0.8 1.3-1.2 1.0-1.4 0.7-1.3 0.9M25.8 230.7l-1.3-0.0-1.2-0.5-1.1-0.6-0.7-1.1 0.0-1.3 0.0-1.3-0.2-1.3-0.2-1.3M35.4 230.9l-0.7 1.2-0.5 1.3-0.2 1.4 0.6 1.2 1.3 0.6 1.1 0.8 0.7 1.2 0.1 1.4M62.3 234.1l0.3 1.3 0.6 1.2 1.1 0.7 1.3 0.0 1.0 0.8 1.3 0.2 0.9 0.9 0.7 1.1M73.6 226.9l0.4 1.3 0.5 1.3-0.3 1.3 0.5 1.3 1.2 0.7 1.1 0.8 1.1 0.8 0.9 1.0M22.7 243.1l-1.3-0.4-1.3 0.5-0.7 1.2-1.2 0.6-1.0 0.9-0.3 1.3 0.1 1.4 0.6 1.2M58.2 223.1l-0.7-1.0-0.5-1.1-0.9-0.8-1.0-0.7-0.7-1.0-1.0-0.7-0.5-1.1-1.0-0.8M53.1 275.9l0.0 1.3 0.4 1.3-0.0 1.3 0.2 1.3-0.4 1.3-0.7 1.1-1.2 0.7-1.2 0.6M37.9 262.8l1.1 0.3 1.1-0.2 0.8-0.8 0.5-1.0 1.0-0.5 1.1-0.3 1.1-0.4 1.1-0.2M46.0 255.1l0.9-0.5 0.9-0.5 0.9-0.5 0.8-0.6 1.0-0.3 1.0 0.2 0.7 0.7 1.0 0.2M86.4 233.6l-0.8 0.3-0.6 0.7-0.7 0.6-0.9 0.0-0.8-0.3-0.6-0.7-0.8-0.3-0.9-0.1M35.2 243.1l1.4-0.5 1.5-0.4 1.5-0.1 1.3 0.8 1.3 0.7 1.5-0.1 1.2-0.9 0.7-1.3M52.9 225.7l1.1 0.7 0.9 1.0 0.9 1.0 0.5 1.3 0.4 1.3 0.6 1.2 1.2 0.7 0.7 1.2M68.7 236.3l-0.1-0.9 0.2-0.8 0.6-0.6 0.9-0.1 0.7-0.5 0.4-0.8 0.4-0.8-0.1-0.9M53.6 270.8l0.1-1.0 0.5-0.9-0.1-1.0-0.6-0.8-0.9-0.3-0.9-0.4-1.0 0.2-1.0-0.1M48.4 276.4l0.9-0.7 0.7-0.8 1.0-0.5 1.1-0.4 1.1-0.2 1.1-0.3 0.8-0.8 0.8-0.8M56.3 246.9l-0.1 1.6-0.3 1.6 0.6 1.5 0.5 1.5 1.1 1.2 1.1 1.2 1.1 1.1 0.6 1.5M86.6 224.5l1.0-1.1 0.2-1.5 0.1-1.5-0.8-1.3-1.3-0.7-1.3-0.7-1.5-0.1-1.5-0.3M32.1 261.5l1.0 0.9 0.3 1.3-0.6 1.2 0.2 1.3-0.1 1.3 0.2 1.3 0.4 1.2 0.5 1.2M19.8 259.2l0.1-0.9 0.3-0.9 0.3-0.8-0.3-0.9-0.7-0.6-0.7-0.6-0.8-0.5-0.9-0.1M23.9 234.4l0.5 1.4 1.1 0.9 0.6 1.3 0.1 1.4-0.7 1.3-0.4 1.4-1.2 0.8-1.1 0.9M65.0 271.6l0.8 0.5 0.9 0.2 0.9-0.2 0.9-0.2 0.7-0.6 0.5-0.8 0.1-0.9-0.4-0.8M79.3 272.6l-1.4-0.3-1.3-0.4-1.3-0.5-1.3 0.4-1.2 0.7-0.8 1.1-1.1 0.9-1.4 0.1M64.7 239.9l0.9 1.2 1.4 0.4 0.9 1.2 0.4 1.4-0.6 1.3-0.5 1.4-0.8 1.2-0.7 1.3M74.3 253.5l1.0-0.7 0.7-0.9 0.4-1.1 1.0-0.6 0.8-0.8 0.7-1.0 0.7-0.9 0.4-1.1M51.4 237.1l0.7-0.9 1.1-0.3 1.1 0.4 1.2-0.0 1.1 0.4 0.9 0.7 0.8 0.9 0.8 0.8M87.4 255.1l1.4 0.7 1.5-0.1 1.5 0.4 1.5 0.3 1.5-0.1 1.5-0.4 1.5-0.5 1.3-0.8M54.3 258.8l0.1 0.8-0.1 0.8-0.2 0.8-0.4 0.7-0.3 0.7-0.7 0.4-0.8 0.1-0.8 0.1M60.3 270.1l-0.2 1.0-0.2 1.0 0.4 0.9 0.4 0.9-0.2 1.0-0.7 0.8-0.7 0.8-0.9 0.5M44.8 224.5l-1.3-0.6-1.2-0.8-0.5-1.4-0.8-1.2-0.7-1.3-0.3-1.4 0.1-1.5 0.9-1.2M19.2 269.6l-0.2 0.8-0.5 0.7-0.8 0.3-0.8 0.2-0.8 0.2-0.8-0.0-0.7 0.5-0.6 0.6M51.1 223.0l0.3 1.0 0.7 0.8 0.8 0.6 0.7 0.8 0.2 1.0 0.5 0.9 0.1 1.0-0.2 1.0M24.0 232.5l0.7 1.3 0.6 1.4-0.1 1.5-0.6 1.4-1.1 1.0-0.5 1.4-0.9 1.2-1.4 0.5M67.6 279.7l-0.8-0.4-0.9-0.1-0.9 0.0-0.8 0.3-0.8 0.4-0.7 0.5-0.7 0.5-0.5 0.7M54.8 277.9l-0.6 0.9-0.8 0.7-1.0 0.3-1.0-0.3-0.6-0.9-0.8-0.7-1.1-0.0-1.0-0.4M67.3 244.2l0.7-1.4 0.9-1.3 0.7-1.3 0.1-1.5-0.4-1.5 0.1-1.5 0.1-1.5 0.2-1.5M66.8 278.4l0.5 0.7 0.8 0.5 0.7 0.6 0.7 0.6 0.5 0.7 0.4 0.8 0.5 0.7 0.4 0.8M88.5 272.3l-0.5-1.1 0.2-1.1-0.6-1.0-0.5-1.1-0.0-1.2 0.6-1.0 0.7-1.0 0.7-1.0M63.1 267.2l-1.0-0.6-1.1 0.1-0.9 0.7-0.5 1.0-0.4 1.0 0.2 1.1-0.2 1.1-0.5 1.0M45.8 231.2l1.1-0.4 1.1-0.1 1.1-0.2 1.1 0.3 1.1 0.3 1.1 0.1 0.9 0.6 0.8 0.8M20.4 224.3l0.1-1.2 0.2-1.2-0.4-1.1-0.3-1.1-0.4-1.1-0.6-1.0-1.0-0.7-0.9-0.8M80.3 253.2l-1.0-0.8-0.8-1.0-1.2-0.3-0.8-1.0-0.8-1.0-1.2-0.3-1.1-0.7-0.8-1.0M44.4 257.4l0.1-0.8 0.5-0.7 0.4-0.7 0.8-0.3 0.7-0.4 0.3-0.8-0.2-0.8-0.4-0.7M33.4 234.4l-0.1-0.9 0.4-0.8 0.3-0.8 0.3-0.8 0.3-0.8 0.4-0.8 0.6-0.6 0.6-0.7M17.5 239.7l0.2-0.8 0.3-0.8 0.5-0.7 0.5-0.6 0.8-0.2 0.6-0.5 0.7-0.4 0.6-0.6M51.6 233.5l-0.3 1.4-0.9 1.1-0.0 1.4 0.6 1.3-0.3 1.4-0.6 1.3-0.0 1.4 0.7 1.2M68.2 271.9l1.6 0.0 1.3-0.9 1.6-0.3 1.5-0.4 1.6-0.3 1.0-1.2 0.0-1.6 0.0-1.6M66.1 236.9l0.9 1.3 0.0 1.6 0.9 1.3 0.2 1.6-0.1 1.6 0.1 1.6 0.2 1.6 0.1 1.6M87.9 267.2l-0.9 0.8-0.9 0.7-1.2 0.2-1.2-0.1-1.2-0.2-1.2-0.1-0.8-0.8-0.3-1.1M56.2 261.2l-0.3 1.4 0.1 1.4-0.4 1.4-0.0 1.4-0.9 1.1-1.2 0.9-1.2 0.8-1.3 0.7M61.3 236.7l-0.7 0.4-0.7 0.5-0.4 0.7-0.1 0.8-0.6 0.6-0.5 0.7-0.7 0.5-0.4 0.7M22.8 263.0l-0.4-1.1-0.4-1.1-0.2-1.1-0.6-0.9-0.3-1.1-0.8-0.9-1.1-0.3-1.1 0.2M19.6 245.2l1.0 1.0 1.2 0.8 1.4 0.2 1.1 0.9 0.6 1.3 1.2 0.8 0.9 1.1 0.2 1.4M17.0 245.0l0.1 0.8 0.1 0.8 0.4 0.7 0.2 0.8 0.3 0.8 0.7 0.4 0.7 0.5 0.7 0.5M73.4 266.4l-0.9 0.4-1.0-0.2-0.9-0.3-0.9-0.5-1.0-0.2-1.0-0.1-1.0 0.1-1.0 0.1M38.2 240.1l0.4 0.7 0.5 0.6 0.1 0.8 0.3 0.7 0.5 0.7 0.1 0.8 0.1 0.8-0.1 0.8M76.2 244.1l0.8 0.5 0.8 0.6 0.5 0.8-0.2 0.9-0.6 0.7-0.7 0.7-0.3 0.9-0.4 0.9M53.6 226.3l-0.3 0.7-0.7 0.5-0.8-0.1-0.6-0.5-0.7-0.3-0.5-0.6-0.6-0.6-0.7-0.4M60.8 222.6l1.2 0.7 0.9 1.0 1.3 0.3 1.2 0.6 1.2 0.6 1.3 0.3 1.1 0.8 1.2 0.5M30.9 245.7l0.0-1.1-0.1-1.1 0.3-1.0 0.3-1.1 0.0-1.1-0.5-1.0-0.7-0.8-0.7-0.9M76.5 282.2l-1.1-0.4-1.2-0.4-1.2 0.0-1.2-0.3-0.9-0.8-1.2-0.4-0.8-0.9-1.2-0.3M30.8 243.5l-1.4 0.5-1.2 1.0-1.1 1.0-1.2 0.9-1.3 0.7-1.5-0.1-1.3 0.7-1.5 0.3M90.7 257.8l1.1-0.8 0.8-1.1 0.8-1.1 1.2-0.7 0.8-1.1 0.7-1.2 1.3-0.5 1.2-0.7M49.6 246.4l-0.5-1.1-0.5-1.1-0.6-1.0 0.1-1.2 0.6-1.0 0.3-1.1 0.0-1.2 0.8-0.9M17.0 263.5l-0.4 0.7-0.5 0.6-0.6 0.5-0.4 0.7-0.3 0.8-0.6 0.5-0.4 0.7-0.5 0.7M59.3 273.4l0.1-1.4 0.5-1.3 1.1-0.9 0.5-1.4 0.9-1.2 0.8-1.2 0.6-1.3 0.8-1.2M78.7 276.3l1.4 0.1 1.4 0.2 1.3 0.5 0.8 1.2 0.7 1.3 1.3 0.7 1.4 0.5 1.2 0.8M17.6 226.9l-1.3-0.7-0.9-1.1-0.7-1.3-0.9-1.1-0.7-1.3-1.3-0.7-1.5-0.0-1.4-0.4M68.9 258.5l0.9 0.8 0.3 1.1 0.6 1.0 0.7 0.9 0.7 0.9 1.1 0.3 1.1-0.0 1.0-0.5M24.1 277.9l0.0 0.9-0.3 0.9-0.7 0.6-0.8 0.5-0.9 0.3-0.9 0.2-0.6 0.7-0.8 0.5M90.0 274.9l0.7 1.4-0.3 1.5 0.2 1.5 0.6 1.4-0.4 1.5 0.2 1.5 0.9 1.3 0.5 1.4M41.1 258.7l0.0 1.0 0.1 1.0-0.1 1.0-0.2 1.0 0.1 1.0 0.5 0.9 0.9 0.4 1.0-0.2M71.2 240.6l0.6 0.5 0.5 0.6 0.7 0.4 0.5 0.6 0.1 0.8 0.6 0.6 0.8 0.3 0.7 0.5M76.1 236.6l-0.4 1.1-0.9 0.8-1.0 0.7-1.1 0.5-1.2-0.2-0.9-0.8-0.7-1.0-1.1-0.4M44.7 280.4l1.1 0.5 1.0 0.6 0.8 0.9 0.7 0.9 1.0 0.7 1.1 0.5 1.2-0.1 1.2-0.2M55.5 228.2l-0.4-0.7-0.1-0.8-0.2-0.8-0.6-0.6-0.6-0.6-0.7-0.4-0.4-0.8-0.6-0.5M78.8 260.1l-1.0-0.0-1.0 0.3-1.0 0.0-0.8 0.6-0.9 0.6-1.0 0.0-0.8-0.6-0.6-0.9M80.1 239.7l0.6 0.9 1.0 0.5 1.1-0.2 0.9-0.6 0.8-0.8 0.6-0.9 0.6-0.9 0.9-0.5M44.4 249.2l-1.4 0.0-1.1-0.9-0.5-1.4-0.9-1.1-0.3-1.4 0.6-1.3 0.0-1.4-0.6-1.3M72.6 261.3l1.0-0.1 0.8 0.5 0.8 0.5 0.6 0.7 0.9 0.3 0.7 0.7 0.8 0.6 0.9 0.3M49.1 261.1l0.9-1.2 1.3-0.8 1.1-1.0 0.6-1.4 1.2-0.9 1.2-1.0 1.5-0.1 1.5 0.3M77.3 256.5l-0.9-0.1-0.9 0.4-0.8 0.5-0.9 0.1-0.8 0.5-0.3 0.9 0.1 1.0 0.1 1.0M37.8 252.6l-1.0-0.2-0.8-0.6-0.6-0.9-0.6-0.8-0.6-0.8-0.2-1.0-0.5-0.9-0.7-0.7M26.6 248.4l-0.6-0.8-0.5-0.9-0.4-1.0-0.2-1.0-0.3-1.0-0.4-1.0-0.9-0.6-0.7-0.8M41.0 237.7l-0.7 1.3-1.0 1.2-0.8 1.3-0.6 1.4-0.8 1.3-0.8 1.3-1.3 0.7-1.1 1.0M79.1 272.6l0.9-0.4 0.9-0.3 1.0 0.2 1.0 0.1 1.0-0.2 1.0-0.1 1.0 0.3 0.6 0.8M59.1 232.0l-1.1 0.5-0.7 1.0-1.1 0.5-0.9 0.8-1.2 0.3-1.2 0.2-0.9 0.9-1.2 0.3M92.1 231.4l0.9 1.0 1.3 0.4 1.2 0.6 0.9 1.0 0.8 1.1 0.1 1.3 0.7 1.2-0.2 1.3M66.5 226.9l0.6 0.6 0.7 0.5 0.8 0.1 0.8-0.2 0.8 0.3 0.7 0.5 0.8 0.2 0.8-0.2M23.1 239.4l0.0 0.9 0.2 0.8-0.2 0.8 0.3 0.8 0.7 0.5 0.9 0.0 0.8 0.1 0.7 0.5M82.1 242.8l-1.1 0.9-0.8 1.2-0.5 1.3-0.8 1.2-0.6 1.3-0.0 1.4 0.3 1.4 1.1 0.9M45.3 277.3l-0.1 1.2-0.2 1.2 0.5 1.2 0.4 1.2 0.7 1.0 1.2 0.5 1.2 0.0 1.2-0.3M71.7 223.0l-0.6-1.0-1.0-0.6-0.8-0.9-0.9-0.7-1.2-0.2-1.1-0.4-0.9-0.7-0.2-1.2M35.9 263.8l-1.4-0.7-1.6 0.1-1.5 0.5-1.4 0.7-0.9 1.2-0.2 1.5 0.1 1.5-0.2 1.5M55.2 252.3l0.4-1.1 0.1-1.2-0.5-1.1-1.0-0.7-1.1-0.5-1.2-0.4-1.0-0.7-1.2-0.0M32.6 266.3l-0.3 1.5-0.4 1.4 0.1 1.5 0.2 1.5 1.0 1.1 0.2 1.5 0.7 1.3-0.1 1.5M85.2 245.6l-0.7 0.6-0.2 0.9 0.1 0.9 0.4 0.8 0.6 0.8-0.0 0.9 0.0 0.9-0.5 0.8M66.6 220.5l-0.1 1.1 0.3 1.0 0.7 0.8 0.1 1.1 0.0 1.1 0.1 1.1 0.4 1.0 0.2 1.1M43.1 221.5l0.6-0.7 0.7-0.6 0.7-0.6 0.8-0.5 0.3-0.9 0.4-0.8 0.8-0.5 0.8-0.4M56.6 263.2l-0.7 1.3-0.9 1.1-1.1 0.9-1.4 0.1-1.0 1.0-1.1 0.9-1.4 0.1-1.1 0.9M68.7 260.2l-1.3-0.7-0.9-1.2-1.3-0.7-1.4 0.2-1.4-0.2-1.4 0.5-0.9 1.1-0.2 1.4M85.3 275.1l-0.5-1.1-1.0-0.7-0.8-0.8-1.1-0.5-1.2 0.2-1.2-0.2-1.0 0.6-1.1 0.4M30.4 237.8l0.2-1.1-0.4-1.0-0.7-0.8-0.6-0.9 0.0-1.1-0.1-1.1 0.4-1.0 0.8-0.7M74.7 235.4l-0.1-0.9-0.1-0.9-0.2-0.9-0.1-0.9 0.5-0.8 0.1-0.9-0.4-0.8-0.1-0.9M33.6 254.9l0.8-0.6 1.0-0.2 0.9-0.4 0.7-0.8 0.8-0.6 0.5-0.9-0.1-1.0 0.6-0.8M81.8 225.9l1.1-0.1 1.1 0.0 1.0 0.5 0.5 1.0-0.1 1.1 0.1 1.1 0.7 0.8 0.5 1.0M53.8 227.7l-0.1 1.0 0.2 1.0-0.5 0.9-0.5 0.8-0.8 0.6-0.9 0.3-0.8 0.6-1.0 0.2M88.1 225.7l-0.2 1.0-0.6 0.8-1.0 0.4-0.9 0.5-1.0-0.2-1.0-0.4-0.8-0.7-0.8-0.7M64.1 256.6l-1.4 0.2-1.3 0.6-1.1 0.9-0.8 1.2-0.9 1.1-1.4 0.3-1.3-0.7-1.4-0.2M47.8 255.5l1.1 0.0 0.9 0.6 0.9 0.5 1.1-0.1 1.1-0.0 1.0-0.4 1.1 0.2 0.9 0.5M18.0 239.6l-0.6 0.7-0.8 0.3-0.9-0.1-0.9-0.1-0.9-0.2-0.8-0.3-0.9 0.0-0.7-0.5M29.4 278.3l0.2-1.0-0.4-0.9-0.0-1.0 0.0-1.0-0.5-0.8 0.2-0.9 0.6-0.7 0.7-0.6M22.7 274.8l0.8 0.1 0.7 0.4 0.4 0.7 0.2 0.8 0.3 0.8 0.4 0.7 0.5 0.7 0.5 0.7M69.1 259.9l-0.7-1.0-0.0-1.2-0.4-1.1-0.7-0.9-0.4-1.1-0.4-1.1-0.6-1.0-1.1-0.5M71.4 249.3l-0.9 0.5-1.0-0.2-1.0-0.4-1.0-0.1-1.0 0.4-0.8 0.7-0.4 1.0 0.0 1.0M74.1 243.8l0.2 1.0-0.3 1.0-0.6 0.9-0.3 1.0-0.2 1.0 0.3 1.0 0.6 0.9 1.0 0.4M54.6 262.1l0.6-1.0 1.0-0.7 0.9-0.8 1.0-0.6 1.1-0.5 1.2-0.1 1.2 0.3 0.9 0.8M51.6 269.3l0.6-1.0 1.0-0.6 0.6-1.0 1.1-0.5 0.6-1.0 1.1-0.4 1.2-0.0 1.0-0.6M39.0 236.8l0.6 1.0 0.6 1.0 0.3 1.1 0.5 1.0 1.0 0.6 1.1-0.1 0.8-0.8 1.1-0.2M70.2 234.6l1.1 1.0 1.5 0.1 1.4-0.6 0.8-1.3 1.3-0.9 0.8-1.3 0.6-1.4 0.4-1.5M61.3 270.8l1.2 0.3 1.1 0.6 1.2 0.5 1.2 0.5 1.3-0.2 1.1-0.6 1.3 0.1 0.9 0.9M41.9 246.3l0.1-1.5 0.5-1.4 0.1-1.5-0.7-1.3 0.1-1.5-0.1-1.5 0.8-1.3 1.3-0.7M57.9 277.1l-1.0 0.5-0.5 1.0-0.4 1.1 0.2 1.1 0.4 1.1 0.4 1.1 0.6 0.9 0.3 1.1M77.1 249.9l1.2-0.1 1.2-0.2 1.2 0.2 1.1-0.6 0.9-0.9 0.4-1.2 0.4-1.2-0.4-1.2M75.6 267.7l1.0-0.6 0.9-0.8 0.3-1.1 0.2-1.2-0.0-1.2 0.3-1.1 0.8-0.9 0.2-1.2M56.2 253.0l-1.0-0.4-1.1-0.2-1.1-0.1-1.1-0.2-0.8-0.7-0.7-0.9-0.0-1.1-0.2-1.1M77.0 271.4l1.5 0.1 1.5-0.4 1.5-0.4 1.5-0.0 1.3-0.8 1.5-0.5 1.5 0.0 1.5-0.5M39.4 263.3l0.8-0.2 0.8-0.2 0.8-0.1 0.7-0.3 0.8 0.0 0.8-0.3 0.8-0.0 0.6-0.5M18.8 277.4l0.5 0.6 0.5 0.6 0.7 0.3 0.5 0.6 0.7 0.3 0.8 0.2 0.7 0.4 0.5 0.7M69.2 251.2l-0.0 0.9-0.0 0.9 0.2 0.9-0.4 0.8-0.6 0.6-0.9 0.2-0.8 0.5-0.9-0.0M89.8 253.1l1.4 0.7 1.5 0.1 1.5-0.5 0.9-1.3 1.4-0.6 0.9-1.2 0.9-1.2-0.0-1.5M76.4 274.1l0.5 1.4 0.1 1.5 0.0 1.5 0.8 1.3 0.6 1.4 0.8 1.3 0.4 1.5-0.1 1.5M44.8 232.1l0.3-0.8 0.5-0.7 0.6-0.6 0.8-0.1 0.8 0.1 0.6 0.6 0.1 0.8-0.0 0.8M54.7 224.9l0.9 0.5 1.0 0.4 0.6 0.9 0.1 1.1 0.0 1.1 0.6 0.9 0.5 0.9 0.1 1.1M83.6 235.7l-0.4-0.7-0.7-0.3-0.8-0.1-0.8-0.1-0.8 0.3-0.8 0.0-0.8-0.2-0.8-0.2M47.8 242.8l-0.8 0.9-0.4 1.1-0.4 1.1-0.4 1.1-0.3 1.2 0.4 1.1-0.1 1.2 0.3 1.2M37.8 269.9l-0.4-1.4-1.2-0.9-1.5-0.1-1.2-0.9-0.9-1.2-1.2-0.9-0.4-1.4 0.1-1.5M82.4 244.0l1.4 0.3 1.0 1.1 0.0 1.4 0.8 1.2 1.1 0.9 1.3 0.5 0.9 1.1 0.9 1.1M91.9 270.6l-0.6 0.7-0.3 0.9 0.0 0.9-0.1 0.9-0.6 0.7-0.9 0.3-0.8 0.5-0.7 0.6M48.3 237.2l-1.0 0.9-0.7 1.2-0.2 1.3-1.0 1.0-0.1 1.4-1.0 1.0-1.2 0.7-1.3 0.5M69.3 265.4l0.5 0.9 0.4 0.9 0.0 1.0-0.5 0.9-0.1 1.0 0.5 0.9-0.0 1.0-0.3 0.9M52.2 226.3l1.2 0.7 0.6 1.3 0.8 1.2 1.1 0.9 0.6 1.3 1.2 0.8 1.4 0.3 1.1 0.9M38.2 259.6l-0.9-0.9-1.1-0.7-1.2-0.5-0.7-1.1-1.1-0.6-0.9-0.9-0.5-1.2 0.3-1.2M26.8 227.4l0.7-1.1 0.9-0.8 0.9-0.9 1.2-0.3 1.2-0.3 1.3-0.1 0.9-0.8 1.1-0.6M25.1 231.3l-0.8 1.4-1.4 0.7-0.8 1.3-1.1 1.1-0.2 1.5 0.7 1.4 0.4 1.5 1.2 0.9"/>
<path fill="none" stroke="#262626" stroke-width="0.45" d="M68.1 276.5l1.0-0.1 0.7-0.7 0.5-0.9 0.2-1.0-0.2-1.0-0.3-1.0M25.9 259.9l-0.5 1.3-0.7 1.2-0.4 1.3 0.0 1.4-0.4 1.3-0.8 1.1M22.7 266.1l-1.4-0.7-1.5-0.2-1.5 0.0-1.5 0.1-1.5 0.0-1.3-0.8M25.0 256.0l-0.9-0.9-0.3-1.3-0.3-1.3-1.1-0.8-1.0-0.8-1.1-0.7M21.9 271.2l1.1 0.2 1.1 0.2 1.1-0.1 1.1 0.1 1.1-0.1 1.0 0.5M33.8 246.7l-1.0 0.6-1.1 0.4-1.2-0.1-1.2 0.1-1.2-0.3-1.2-0.1M49.8 222.1l0.4-1.1 0.4-1.1 0.9-0.7 1.0-0.6 1.0-0.6 1.0-0.6M66.1 240.7l-0.1-1.0 0.3-0.9 0.5-0.8 0.9-0.4 1.0-0.1 0.9-0.4M65.1 253.9l-0.3-1.3-0.3-1.3-0.7-1.2-1.0-0.9-1.3-0.2-1.3-0.0M73.5 271.7l0.1 1.3-0.5 1.2-1.1 0.7-1.2 0.5-1.3-0.1-1.1 0.7M82.0 257.4l-0.8-0.7-0.3-1.1-0.9-0.7-0.5-1.0-1.0-0.5-0.5-1.0M89.5 250.8l-0.8 1.2-1.1 0.9-1.1 0.9-1.3 0.6-1.2 0.7-1.4-0.1M46.5 235.0l-0.3-1.4-1.1-0.9-1.4-0.4-1.4 0.1-1.2-0.8-0.5-1.3M32.0 244.1l0.2 1.0 0.6 0.8 0.2 1.0 0.3 1.0 0.3 1.0-0.2 1.0M48.5 231.2l0.5-1.0 0.0-1.1-0.4-1.0-0.8-0.7-0.6-0.9-0.9-0.5M44.2 235.9l-0.7 0.9-0.4 1.0-1.0 0.5-0.9 0.6-1.1 0.2-1.1-0.1M16.7 234.2l0.7-0.5 0.9-0.1 0.8-0.4 0.9 0.0 0.7-0.4 0.8-0.4M69.6 267.5l-0.7 0.8-1.1 0.2-1.0 0.5-0.5 1.0-0.0 1.1-0.1 1.1M42.9 245.0l-0.2 0.9-0.1 0.9 0.2 0.9 0.7 0.6 0.8 0.5 0.7 0.6M36.9 264.6l1.0 0.9 1.2 0.6 1.1 0.8 0.4 1.3 0.7 1.1 1.2 0.5M58.5 276.7l0.9-0.0 0.8 0.4 0.6 0.6 0.7 0.4 0.4 0.8 0.5 0.7M18.8 241.8l0.8 0.1 0.9-0.0 0.8-0.1 0.7 0.4 0.7 0.4 0.6 0.6M17.3 276.1l-0.7-0.8-0.7-0.8-1.0-0.4-0.7-0.8-0.8-0.7-0.2-1.0M80.0 235.3l-0.1-1.0-0.5-0.9-0.9-0.4-0.6-0.8-0.4-0.9-0.7-0.7M92.8 233.3l-0.3 1.0 0.4 0.9 0.7 0.7 0.2 1.0 0.6 0.8 0.7 0.8M78.8 223.7l-0.3-1.2 0.2-1.2 0.5-1.1 0.3-1.2 0.9-0.8 1.0-0.7M86.0 271.9l1.0 0.3 1.0-0.2 0.7-0.7 0.9-0.4 0.7-0.7 0.8-0.6M17.4 229.2l0.4 0.8 0.5 0.7 0.7 0.5 0.3 0.8-0.1 0.9 0.3 0.8M64.7 243.3l0.7 1.2 1.2 0.7 1.1 0.8 1.2 0.7 1.3 0.5 0.9 1.0M85.6 226.1l-0.8-0.3-0.9 0.1-0.9-0.0-0.8-0.3-0.9-0.1-0.8-0.4M26.7 273.5l-0.9-0.9-0.9-1.0-1.0-0.8-1.2-0.3-1.2-0.5-1.1-0.7M79.7 238.5l0.4 1.1 0.1 1.2 0.4 1.1 0.9 0.8 0.4 1.1 0.7 1.0M42.8 257.0l1.0-1.0 1.4-0.4 1.0-1.1 0.7-1.3 1.1-0.9 0.9-1.1M39.5 281.6l0.4 1.0 0.4 1.0 0.8 0.7 0.2 1.1-0.4 1.0-0.4 1.0M52.6 234.7l1.2-0.9 0.5-1.4 0.0-1.5-0.6-1.4 0.2-1.5-0.5-1.5M68.4 259.5l1.1 0.9 1.1 0.8 1.4 0.1 1.3 0.6 1.1 0.8 1.2 0.6M72.8 247.7l-1.2-0.2-1.0-0.7-1.1-0.5-0.7-1.0-0.2-1.2 0.1-1.2M70.3 247.0l0.7-1.1 0.6-1.1-0.2-1.2-0.1-1.3-0.5-1.2-0.7-1.0M43.5 248.7l0.8-0.9 0.6-1.0 1.1-0.6 0.8-0.9 1.0-0.7 1.1-0.4M48.4 264.7l-0.5-1.5-1.1-1.0-0.8-1.3-0.6-1.4-0.5-1.4-1.3-0.8M18.5 227.2l0.8-0.1 0.8 0.3 0.8 0.2 0.6 0.6 0.8 0.1 0.8-0.3M73.3 254.9l0.5 0.9 0.4 0.9 0.4 1.0 0.3 1.0-0.1 1.0 0.4 1.0M38.1 241.0l0.7 1.0 1.1 0.4 0.9 0.8 1.2 0.1 1.1-0.6 0.6-1.0M82.0 229.1l-0.8-0.8-0.8-0.7-0.9-0.7-1.1-0.1-1.0 0.5-1.1-0.2M56.1 266.6l-0.3-0.9-0.3-0.9 0.3-0.9 0.8-0.5 0.4-0.8 0.1-0.9M50.4 228.8l0.5 1.1 0.9 0.7 1.2 0.0 1.2-0.4 1.1-0.5 1.2-0.3M20.9 272.8l-0.3-1.4-1.0-1.0-1.3-0.5-1.4-0.1-1.4-0.4-0.8-1.2M33.0 273.6l0.0-1.5 0.4-1.5 0.9-1.2 1.4-0.7 1.5-0.1 1.2 0.9M76.7 247.0l0.9 0.5 0.6 0.8 0.9 0.4 0.5 0.9 0.1 1.0 0.6 0.8M78.8 260.1l-1.0 0.0-1.0 0.2-1.0 0.2-0.7 0.7-0.5 0.9-0.8 0.6M69.6 277.8l-1.1-0.2-0.9-0.8-0.5-1.0-0.3-1.1-0.7-0.9-0.4-1.1M84.0 249.6l-0.3 0.8 0.2 0.8 0.6 0.6 0.7 0.4 0.6 0.6 0.1 0.8M91.2 253.5l-1.5-0.3-1.4-0.6-1.5-0.4-1.0-1.1-1.3-0.8-1.5 0.1M24.2 260.0l-1.2-0.4-1.0-0.7-0.8-1.0-1.0-0.7-0.8-0.9-0.5-1.2M22.1 222.3l-1.0-0.7-1.1-0.3-1.2 0.1-1.2-0.1-0.9-0.7-1.2-0.0M50.8 239.1l0.9 0.8 0.6 1.0 0.5 1.1 1.0 0.6 1.2-0.1 1.1-0.4M20.6 235.8l0.7-1.1 0.1-1.3-0.0-1.3 0.4-1.2-0.2-1.3-0.3-1.2M24.1 281.4l-1.0 0.5-0.8 0.9-0.8 0.8-0.4 1.1 0.1 1.2 0.8 0.8M27.3 256.1l-0.0 1.1 0.6 0.9 0.8 0.7 0.5 1.0 0.5 1.0 0.0 1.1M31.2 280.6l1.2 1.0 0.6 1.5 1.1 1.2 1.0 1.2 0.6 1.5 1.3 0.9M54.0 275.1l1.3-0.3 1.2-0.3 0.9-0.9 1.2-0.5 1.3 0.3 1.1 0.7M77.1 265.2l0.3 1.1 0.2 1.1-0.2 1.1-0.7 0.9-0.9 0.7-1.1 0.4M44.4 230.7l-0.7 0.9-0.9 0.8-0.9 0.8-0.5 1.1-1.0 0.6-1.1 0.3M65.7 223.1l1.0-0.8 1.3-0.0 1.1-0.7 1.1-0.7 0.7-1.1 1.1-0.6M46.2 275.1l1.0 0.6 1.2 0.1 1.1-0.2 1.1-0.5 0.7-0.9 0.4-1.1M77.4 241.2l1.0-1.2 1.2-1.0 1.5-0.5 1.2-1.0 0.7-1.4 0.1-1.6M77.2 226.2l-1.3-0.2-1.2-0.5-1.0-0.8-1.0-0.7-1.1-0.6-0.9-0.9M44.7 248.6l0.4-1.5 0.5-1.5-0.6-1.5-0.9-1.3-1.3-0.9-1.6-0.2M50.4 274.1l0.8 1.3 1.4 0.5 1.5 0.4 1.1 1.1 0.2 1.5-0.4 1.5M92.3 263.1l-0.2 1.1-0.8 0.8-0.6 1.0-0.1 1.1-0.8 0.8-0.9 0.7M73.1 256.6l1.6-0.0 1.4 0.8 1.3 0.9 1.4 0.7 0.9 1.3 1.2 1.0M78.9 266.5l-0.4-1.4-0.8-1.1-1.1-0.9-0.3-1.4 0.4-1.4 0.7-1.2M20.2 244.1l0.0-1.0-0.3-1.0-0.2-1.0-0.5-0.9-1.0-0.3-0.9-0.5M21.0 280.1l-0.1-1.1 0.2-1.0 0.1-1.1-0.6-0.9-0.8-0.7-0.8-0.7M66.8 237.1l-1.0-1.0-0.3-1.4-0.4-1.3 0.5-1.3-0.4-1.3-0.7-1.2M21.6 261.6l-0.4 0.7-0.7 0.5-0.8 0.3-0.8 0.0-0.8 0.1-0.7 0.5M35.5 260.0l-1.4-0.3-1.5-0.1-1.3-0.7-0.7-1.3-0.4-1.4-1.1-0.9M44.4 252.0l-0.9 0.6-0.4 1.0-0.1 1.1-0.7 0.8-0.1 1.1-0.5 0.9M31.0 260.9l-0.8 0.4-0.8 0.3-0.5 0.7-0.7 0.6-0.8 0.4-0.6 0.6M19.4 277.9l-0.9 0.8-0.5 1.1-1.1 0.5-1.2 0.2-0.8 0.8-0.1 1.2M48.1 226.9l0.5-1.1 0.6-1.0-0.2-1.1-0.4-1.1 0.2-1.1 0.4-1.1M23.9 241.3l0.8 0.8 0.3 1.0-0.2 1.1-0.7 0.8-0.1 1.1-0.4 1.0M61.1 238.7l0.8-0.2 0.8-0.2 0.7-0.4 0.4-0.7 0.7-0.5 0.8-0.3M36.0 220.1l-0.0-1.3 0.5-1.2 0.3-1.2 1.0-0.9 0.4-1.2 0.7-1.1M28.8 276.0l0.9-0.2 0.7-0.6 0.8-0.4 0.9-0.0 0.9 0.3 0.8 0.4M18.5 272.7l0.0 1.0 0.2 1.0 0.7 0.7 1.0 0.3 0.7 0.8 0.9 0.4M32.1 265.0l1.1 0.8 1.1 0.7 1.2 0.6 1.0 0.8 1.3 0.4 1.3-0.1M59.3 251.4l1.3 0.1 1.1 0.6 1.0 0.8 1.0 0.8 0.5 1.2 0.5 1.2M36.5 245.3l-0.9-0.2-0.9 0.3-0.8 0.5-0.7 0.6-0.5 0.8-0.1 0.9M65.9 233.9l0.9-0.0 0.7 0.4 0.9-0.1 0.8-0.3 0.8-0.3 0.9 0.1M19.0 270.3l1.2-0.1 0.9-0.9 0.7-1.0 1.0-0.7 1.0-0.8 1.0-0.8M59.1 252.2l-0.1 0.9-0.3 0.8-0.1 0.9 0.3 0.8-0.1 0.9 0.4 0.8M30.2 261.0l0.1 1.0 0.4 1.0-0.2 1.0-0.7 0.8-1.0 0.2-1.0 0.3M20.8 247.4l-0.9-0.6-0.5-1.0-0.5-1.0-1.0-0.5-0.9-0.6-0.5-1.0M27.5 253.2l0.8 1.1 0.9 1.1 1.1 0.9 1.4 0.2 1.3-0.4 1.4-0.3M27.5 225.2l-1.0-1.2-0.4-1.5 0.3-1.6 1.1-1.1 1.5-0.4 1.6-0.3M33.4 250.8l-1.0-0.5-0.8-0.7-0.7-0.8-1.0-0.5-1.1-0.0-1.0 0.6M21.5 258.3l1.3 0.9 1.1 1.1 1.4 0.6 0.8 1.4 1.4 0.7 0.9 1.3M69.1 280.6l0.4-1.1 0.3-1.1 0.8-0.8 0.6-1.0 0.5-1.0 0.6-1.0M65.0 273.3l-0.8 0.9-0.1 1.2-0.7 1.0 0.0 1.2-0.1 1.2 0.6 1.0M71.5 239.3l-0.1 1.0-0.6 0.8-0.9 0.4-0.7 0.7-0.4 0.9-0.7 0.7M64.8 224.7l1.1-0.3 0.9-0.7 0.6-1.0-0.0-1.2-0.2-1.2-0.7-1.0M87.9 253.7l1.3 0.6 1.3 0.5 1.2 0.7 1.1 0.9 1.4-0.0 1.1-0.8M52.6 256.0l-0.1-1.2-0.7-1.0-0.3-1.2-0.2-1.2-0.9-0.9-0.8-0.9M58.3 228.3l1.0-0.5 1.1-0.0 1.1 0.2 1.0 0.4 0.7 0.8 0.3 1.0M56.1 254.9l1.1 0.5 1.2-0.2 1.0-0.8 1.0-0.7 0.6-1.1 0.2-1.2M45.3 226.7l1.2-0.6 1.0-0.9 0.4-1.3 0.2-1.3 0.8-1.1 1.2-0.5M80.2 265.6l-0.6 0.5-0.4 0.7-0.7 0.4-0.8 0.2-0.8-0.1-0.8 0.3M57.6 272.7l-1.1 0.2-1.1 0.0-1.1 0.1-1.1-0.0-1.1-0.3-1.0-0.4M50.3 267.2l0.8-0.2 0.6-0.5 0.6-0.6 0.5-0.7 0.1-0.8 0.6-0.6M65.6 230.6l-0.8-1.3-1.2-0.9-0.9-1.2-1.2-0.9-0.8-1.3 0.0-1.5M91.6 255.2l0.6-0.6 0.6-0.7 0.4-0.8 0.3-0.8-0.0-0.9-0.2-0.9M42.4 253.4l-1.0-0.7-0.6-1.0-1.1-0.5-0.7-1.0-1.1-0.4-0.8-0.9M66.5 268.7l0.5 1.1-0.0 1.3 0.1 1.2 0.7 1.0 0.9 0.8 0.8 0.9M20.5 233.6l1.1 0.2 1.0-0.5 0.7-0.9 1.0-0.6 0.4-1.1 0.5-1.0M34.6 260.3l-0.4-0.9-0.4-0.9-0.7-0.7-1.0-0.2-0.9-0.5-0.7-0.7M35.4 224.7l0.8-0.3 0.7-0.4 0.8-0.3 0.8-0.3 0.8 0.1 0.8-0.0M26.3 236.3l1.4 0.3 1.3 0.5 1.4 0.1 1.4 0.2 1.3 0.6 1.3-0.4M36.2 229.2l-1.1-0.2-0.8-0.7-1.0-0.3-1.1 0.2-1.0-0.5-0.9-0.6M85.6 271.6l-0.3-1.1 0.0-1.1-0.6-0.9-0.9-0.5-0.9-0.7-1.0-0.5M61.4 226.3l0.7 0.6 0.2 0.9-0.1 0.9-0.5 0.8-0.5 0.8-0.6 0.7M55.2 224.3l0.3-0.9 0.6-0.8 0.3-0.9 0.5-0.9-0.0-1.0-0.3-0.9M20.7 275.7l-0.9 0.3-0.8 0.5-0.5 0.8-0.5 0.8-0.4 0.8-0.0 0.9M73.7 229.8l-0.5 0.7-0.8 0.4-0.7 0.5-0.8 0.0-0.8 0.1-0.8 0.1M78.9 248.5l1.0-0.3 1.0-0.0 0.8 0.6 0.9 0.5 0.6 0.8 1.0 0.3M22.0 260.7l1.3 0.6 1.4-0.0 1.2-0.7 1.2-0.6 1.3-0.4 1.4 0.3M27.3 264.0l0.4-0.9 0.3-1.0-0.3-1.0 0.4-0.9 0.4-0.9 0.4-0.9M40.2 249.7l-0.8 0.5-0.6 0.7-0.8 0.5-0.3 0.9-0.4 0.9 0.2 0.9M57.9 246.1l-0.3-1.5-1.0-1.1-1.0-1.2-1.3-0.8-1.3-0.8-0.6-1.4M58.7 249.5l0.2 0.8 0.5 0.7 0.4 0.7 0.4 0.7 0.3 0.8 0.7 0.5M26.3 271.6l1.1-0.0 1.0-0.2 0.9-0.6 1.0-0.4 1.1 0.0 1.0 0.4M80.7 262.7l-0.4-1.4-0.7-1.2-0.4-1.4 0.4-1.3 0.8-1.2 0.7-1.2M21.7 268.7l-1.0 0.3-1.0-0.1-1.0-0.2-0.7-0.7-0.4-0.9-0.0-1.0M57.6 252.1l0.1 0.9 0.5 0.8 0.6 0.7 0.1 0.9 0.7 0.7 0.7 0.6M90.8 277.3l-0.2 0.8-0.3 0.8 0.3 0.8 0.3 0.8 0.7 0.5 0.6 0.6M33.1 275.7l0.9-1.2 1.1-1.0 0.9-1.2 0.3-1.5 1.0-1.1 1.3-0.7M79.3 250.1l1.1 1.0 1.3 0.6 1.4 0.3 0.9 1.1 1.0 1.0 1.3 0.7M21.2 268.1l0.9-0.8 0.4-1.1 0.8-0.8 0.3-1.1-0.1-1.1 0.2-1.1M18.8 251.1l0.7 1.4 0.1 1.6-0.5 1.5 0.2 1.6 0.9 1.3 1.0 1.2M59.8 247.4l0.9-0.3 0.9-0.2 0.9 0.2 0.8-0.4 0.8-0.5 0.8-0.5M57.4 232.0l0.8 1.0 1.2 0.4 1.3-0.0 1.2-0.5 1.2-0.5 1.3 0.3M71.1 239.7l-0.8-1.0-0.1-1.2-0.8-1.0-1.2-0.3-0.8-0.9-0.5-1.1M33.7 237.9l0.0-1.2 0.5-1.1 0.7-1.0 0.2-1.2 0.1-1.2-0.0-1.2M59.6 225.9l0.9-0.5 0.7-0.8 0.8-0.8 0.9-0.5 0.6-0.9 0.3-1.0M46.8 272.7l0.3-1.3-0.1-1.3-0.7-1.1-1.0-0.9-1.3-0.1-1.1-0.8M55.2 226.0l-0.6 0.8-0.0 1.0-0.6 0.7-0.5 0.8-0.9 0.4-1.0 0.2M77.6 271.7l-0.7 1.0-0.1 1.2-0.3 1.1 0.1 1.2 0.4 1.1 0.7 1.0M82.2 275.6l-1.0 0.4-1.1 0.1-1.1-0.0-0.9 0.6-1.1 0.1-1.1 0.3M30.2 236.2l-1.3-0.8-1.2-0.9-0.8-1.3-0.9-1.3-0.5-1.4-1.1-1.1M90.0 276.2l-0.6 0.6-0.4 0.7-0.8 0.4-0.7 0.6-0.3 0.8-0.6 0.6"/>
<path d="M18,277 C35,267 50,257 62,251 C68,248 74,246 81,245" stroke="#f0f0ee" stroke-width="3.4" fill="none"/>
<path d="M18,274 C35,264 50,254 62,248" stroke="#555" stroke-width="0.4" fill="none"/>
<path d="M19,253 C30,248 40,243 52,239" stroke="#eeeeea" stroke-width="2" fill="none"/>
<rect x="73" y="240" width="11" height="6" fill="#222" opacity="0.6"/>
<line x1="73.2" y1="223" x2="73.2" y2="279" stroke="#222" stroke-width="0.5"/>
<ellipse cx="76" cy="266" rx="7" ry="7" fill="#efefed" opacity="0.75"/>
</g>
<clipPath id="cH1"><rect x="19.0" y="285.0" width="71.6" height="54.5"/></clipPath>
<g clip-path="url(#cH1)">
<rect x="19.0" y="285.0" width="71.6" height="54.5" fill="#d6d6d4"/>
<g fill="#bdbdbb" opacity="0.55">
<ellipse cx="43.2" cy="335.2" rx="2.8" ry="2.0"/>
<ellipse cx="81.1" cy="301.1" rx="1.9" ry="1.9"/>
<ellipse cx="29.5" cy="295.8" rx="1.2" ry="1.3"/>
<ellipse cx="39.7" cy="336.1" rx="1.4" ry="1.8"/>
<ellipse cx="40.9" cy="314.9" rx="1.8" ry="1.6"/>
<ellipse cx="24.8" cy="311.1" rx="2.8" ry="2.3"/>
<ellipse cx="53.5" cy="322.1" rx="2.8" ry="1.0"/>
<ellipse cx="74.1" cy="326.2" rx="2.6" ry="1.7"/>
<ellipse cx="80.9" cy="338.1" rx="3.0" ry="2.3"/>
<ellipse cx="44.9" cy="289.6" rx="3.0" ry="2.0"/>
<ellipse cx="78.7" cy="295.6" rx="3.1" ry="1.2"/>
<ellipse cx="61.8" cy="292.8" rx="2.2" ry="1.6"/>
<ellipse cx="48.4" cy="333.4" rx="1.4" ry="1.9"/>
<ellipse cx="80.5" cy="332.9" rx="1.6" ry="1.1"/>
<ellipse cx="20.2" cy="316.0" rx="1.1" ry="0.9"/>
<ellipse cx="82.7" cy="288.8" rx="3.3" ry="1.3"/>
<ellipse cx="22.6" cy="298.3" rx="3.0" ry="1.7"/>
<ellipse cx="22.9" cy="311.3" rx="2.3" ry="1.3"/>
<ellipse cx="28.1" cy="289.9" rx="3.2" ry="2.1"/>
<ellipse cx="69.5" cy="327.2" rx="2.5" ry="1.9"/>
<ellipse cx="77.5" cy="324.4" rx="1.6" ry="2.1"/>
<ellipse cx="71.6" cy="300.3" rx="2.1" ry="1.6"/>
<ellipse cx="81.7" cy="322.7" rx="3.0" ry="1.2"/>
<ellipse cx="86.9" cy="331.7" rx="2.6" ry="2.1"/>
<ellipse cx="79.8" cy="318.0" rx="2.1" ry="1.7"/>
<ellipse cx="25.8" cy="296.1" rx="2.4" ry="1.9"/>
<ellipse cx="88.6" cy="310.8" rx="3.1" ry="2.0"/>
<ellipse cx="65.2" cy="335.4" rx="3.0" ry="1.2"/>
<ellipse cx="84.9" cy="300.0" rx="1.5" ry="1.4"/>
<ellipse cx="50.7" cy="334.2" rx="1.8" ry="2.0"/>
<ellipse cx="78.5" cy="293.0" rx="3.1" ry="1.4"/>
<ellipse cx="41.1" cy="293.4" rx="2.8" ry="0.7"/>
<ellipse cx="75.0" cy="328.7" rx="1.2" ry="1.1"/>
<ellipse cx="72.0" cy="306.8" rx="1.2" ry="2.3"/>
<ellipse cx="87.9" cy="305.2" rx="1.3" ry="0.8"/>
<ellipse cx="68.5" cy="334.3" rx="1.0" ry="1.6"/>
<ellipse cx="44.1" cy="302.3" rx="1.3" ry="2.2"/>
<ellipse cx="55.0" cy="325.1" rx="3.5" ry="1.3"/>
<ellipse cx="89.3" cy="324.0" rx="3.0" ry="2.1"/>
<ellipse cx="52.7" cy="310.9" rx="2.7" ry="1.2"/>
<ellipse cx="45.7" cy="333.5" rx="1.4" ry="1.5"/>
<ellipse cx="45.6" cy="296.1" rx="3.1" ry="1.1"/>
<ellipse cx="70.5" cy="304.6" rx="1.6" ry="1.4"/>
<ellipse cx="27.6" cy="307.1" rx="1.7" ry="1.2"/>
<ellipse cx="82.5" cy="307.0" rx="1.4" ry="1.8"/>
</g>
<path fill="none" stroke="#9a9a98" stroke-width="0.4" d="M65.6 329.3l-1.5 0.2-1.4-0.6-1.2-1.0-1.0-1.2-1.0-1.2-0.9-1.2-0.7-1.4-1.4-0.7-1.0-1.2-0.0-1.5M20.4 306.1l-1.0-0.9-0.3-1.4 0.4-1.3 1.1-0.8 1.4-0.2 1.3 0.6 1.4 0.0 1.4-0.3 1.2 0.7 0.9 1.0M16.7 292.1l-1.0 0.9-1.2 0.6-1.2 0.7-1.3-0.1-1.2 0.5-1.2 0.5-0.9 1.0-1.0 0.9-0.7 1.1-0.3 1.3M76.4 295.5l-0.7 0.6-0.2 0.9-0.4 0.9 0.2 0.9 0.3 0.9 0.4 0.8 0.8 0.5 0.9 0.4 0.9-0.2 0.6-0.7M32.4 303.3l-0.9 1.1-1.4 0.4-1.4-0.1-1.4 0.4-1.4 0.4-1.2 0.8-1.4 0.5-1.4-0.0-1.4 0.5-1.4 0.3M16.3 285.6l-0.2-1.1-0.6-1.0-0.1-1.1 0.4-1.1-0.2-1.1 0.1-1.1 0.6-0.9 1.1-0.3 1.1 0.4 1.0 0.5M28.0 316.6l0.5-0.6 0.5-0.6 0.4-0.7 0.8-0.3 0.7-0.4 0.8 0.0 0.7-0.3 0.8-0.3 0.8-0.3 0.4-0.7M26.9 298.3l1.1 0.6 1.2 0.4 1.2 0.4 1.2 0.5 1.3-0.1 1.2 0.3 0.9 0.9 0.5 1.2 0.7 1.0 1.1 0.7M46.9 282.2l0.7-0.8 0.4-1.0 0.2-1.0-0.1-1.1-0.2-1.0 0.1-1.1-0.1-1.1 0.5-0.9-0.2-1.0-0.8-0.7M46.2 300.4l-0.4 1.4 0.1 1.5-0.3 1.4 0.1 1.4-0.5 1.4 0.2 1.4 0.0 1.5 0.4 1.4 0.1 1.5 0.8 1.2M51.4 285.6l-1.4 0.3-1.0 1.0-0.6 1.3 0.1 1.4-0.6 1.3-0.0 1.4 0.3 1.4 0.5 1.3-0.1 1.4-0.2 1.4M43.6 325.0l0.8 0.8 1.0 0.3 1.0 0.4 1.1 0.2 0.8 0.8 0.1 1.1-0.1 1.1 0.1 1.1 0.5 1.0 0.3 1.1M77.5 288.9l-0.9-0.8-0.8-0.9-0.8-0.9-1.2-0.3-0.7-0.9-0.7-1.0-0.8-0.8-0.4-1.1 0.3-1.1 0.8-0.9M47.8 311.3l0.1-1.2 0.4-1.2 0.5-1.1 1.0-0.8 1.0-0.7 1.2-0.2 1.2-0.3 1.1 0.5 0.6 1.1 0.8 0.9M40.4 299.1l0.2-1.5-0.5-1.4-0.6-1.3-0.8-1.2-0.9-1.2-1.1-0.9-0.6-1.4-1.2-0.9-1.0-1.0-0.3-1.4M79.1 337.6l0.2-1.1 0.7-0.8 1.0-0.3 1.0-0.3 1.0-0.4 0.9-0.6 0.4-1.0 0.6-0.9 0.1-1.1 0.2-1.1M33.0 309.1l-1.4 0.4-1.3 0.7-1.4 0.4-1.1 0.9-1.5 0.1-1.1 1.0-1.0 1.0-0.6 1.3-1.0 1.0-0.4 1.4M21.0 336.3l-0.8 1.2-0.3 1.4-1.1 0.9-0.7 1.3-0.8 1.2-1.4 0.5-1.4 0.4-1.4 0.4-0.8 1.2-0.1 1.4M42.9 334.2l-0.6-0.6-0.8-0.0-0.8 0.3-0.5 0.7-0.3 0.8-0.4 0.7 0.1 0.8-0.3 0.8-0.7 0.4-0.8 0.2M81.6 298.3l-0.6-0.8-0.2-1.0 0.1-1.0-0.2-1.0 0.1-1.0-0.3-0.9 0.3-0.9 0.0-1.0 0.3-0.9 0.0-1.0M33.0 288.2l-1.1-0.4-0.8-0.8-0.3-1.1-0.6-1.0-0.2-1.1 0.3-1.1-0.3-1.1 0.4-1.1 1.0-0.6 0.6-1.0M69.9 298.4l0.9 0.5 0.8 0.6 0.6 0.8 0.9 0.5 0.8 0.6 0.7 0.8 0.9 0.6 0.4 1.0 0.5 0.9 1.0 0.4M90.5 294.7l-0.2 0.8 0.0 0.8 0.0 0.8-0.2 0.8-0.1 0.8 0.5 0.7 0.8 0.3 0.8 0.2 0.8-0.2 0.8-0.2M60.9 322.1l-1.0-1.2-1.5-0.6-1.5 0.4-1.6 0.1-1.5-0.4-1.2-1.0-1.6-0.0-1.5 0.5-1.4 0.7-1.6-0.2M62.7 314.0l-0.3 0.8-0.2 0.8-0.6 0.6-0.2 0.9 0.3 0.8-0.3 0.8-0.3 0.8-0.1 0.9-0.2 0.9-0.2 0.8M19.2 296.3l1.0-0.9 0.6-1.2 1.2-0.6 0.7-1.1 1.1-0.7 1.0-0.8 1.1-0.8 1.2-0.4 1.1-0.8 1.3 0.0M40.8 284.5l-0.5-1.1-0.6-1.0-1.1-0.6-1.1-0.6-1.2-0.4-1.2-0.3-1.2 0.3-1.2-0.3-1.2 0.1-1.0-0.7M70.6 319.2l1.2-0.3 1.1-0.5 1.2 0.0 1.0 0.6 0.9 0.8 0.9 0.7 0.4 1.1 1.0 0.6 1.0 0.6 0.8 0.9M45.9 307.5l0.7 1.2 0.5 1.3 0.4 1.4-0.2 1.4-1.0 0.9-0.9 1.1-0.9 1.1-1.1 0.9-1.4 0.2-1.1 0.8M21.6 336.0l0.7 1.3 0.9 1.2 0.9 1.2 0.8 1.2 1.1 1.0 1.2 0.8 1.5 0.0 1.2-0.8 1.4-0.5 1.4 0.4M75.1 320.1l-0.9 0.8-0.2 1.1-0.3 1.1-0.5 1.0-0.3 1.1 0.1 1.2-0.4 1.1 0.4 1.1 0.0 1.2 0.7 0.9M24.7 287.1l-0.3-0.9 0.2-1.0-0.1-1.0-0.7-0.7-0.6-0.8-0.6-0.8-0.6-0.8-0.8-0.6-1.0-0.2-0.8-0.6M70.3 294.5l-1.1-0.9-0.4-1.4-0.6-1.3 0.2-1.4 0.5-1.3 1.1-0.9 0.5-1.4 1.1-0.9 1.2-0.7 1.1-0.9M87.4 325.6l1.1 0.6 1.2 0.4 1.3 0.2 1.2 0.6 1.0 0.9 0.5 1.2 0.9 0.9 0.4 1.2 0.5 1.2 1.1 0.7M83.8 293.8l-1.2 0.5-1.0 0.8-0.3 1.2-0.4 1.2 0.4 1.2 0.8 1.0 0.1 1.2 0.3 1.2 0.4 1.2 1.0 0.8M88.0 317.6l-0.9-0.5-0.8-0.7-0.9-0.6-1.0-0.4-1.0-0.1-0.9-0.5-0.6-0.8-0.4-1.0 0.2-1.0 0.1-1.0M80.0 318.2l0.8 0.7 1.0 0.2 1.0 0.1 1.1 0.1 0.9-0.5 1.1 0.1 1.1-0.1 0.9 0.5 0.5 0.9 0.9 0.5M43.1 318.3l0.2-1.2-0.4-1.1 0.2-1.2-0.1-1.2-0.6-1.0-1.1-0.4-1.1 0.3-1.1 0.5-1.2 0.1-1.0 0.6M35.3 301.8l1.5-0.3 1.3-0.8 1.5-0.6 1.0-1.2 1.4-0.6 1.4-0.6 0.8-1.3 0.4-1.5 0.3-1.5-0.1-1.5M39.5 341.6l1.2-0.5 1.3 0.1 1.2-0.4 1.3 0.1 1.0 0.8 1.1 0.5 1.2-0.3 1.3 0.2 1.1 0.6 0.6 1.1M29.0 341.0l-0.9 0.2-0.9 0.1-0.9-0.4-0.9-0.2-0.9 0.3-0.8 0.5-0.9 0.4-0.9-0.1-0.9 0.2-0.9-0.1M90.5 318.2l0.4-1.1 0.2-1.1 0.2-1.1-0.0-1.1-0.3-1.1 0.2-1.1 0.6-1.0 0.9-0.8 0.7-0.9 1.0-0.5M75.4 304.4l-1.0-0.4-0.5-1.0-0.9-0.6-1.1-0.1-0.7-0.8-1.0-0.5-0.8-0.7-1.0-0.4-1.0-0.4-1.0 0.2M62.8 324.8l-0.5 0.7 0.0 0.9 0.4 0.8 0.6 0.7 0.9 0.2 0.9-0.1 0.7-0.6 0.4-0.8 0.1-0.9 0.2-0.9M32.9 321.0l0.9 0.6 1.0 0.1 1.0-0.3 1.0 0.4 0.9 0.5 1.0 0.3 1.0 0.5 0.9 0.5 0.6 0.9 0.9 0.5M86.8 333.1l-1.2-0.4-1.1-0.5-1.2-0.1-1.0-0.7-0.5-1.2-1.0-0.8-1.2-0.1-1.2 0.3-1.0 0.8-0.8 0.9M88.5 341.3l0.6 0.8 0.8 0.6 0.3 0.9-0.2 0.9-0.2 0.9-0.3 0.9 0.3 0.9 0.6 0.7 0.6 0.7 0.6 0.8M65.9 336.5l-1.0-0.0-0.8 0.7-0.7 0.8-0.3 1.0-0.8 0.6-0.7 0.8-0.2 1.0 0.2 1.0 0.0 1.0 0.5 0.9M16.1 291.2l0.1 1.1 0.6 0.9 0.6 0.9 0.2 1.1 0.7 0.8 0.9 0.5 1.0 0.4 1.1-0.2 1.0 0.4 1.0 0.5M63.2 299.2l-0.7-0.3-0.5-0.6-0.3-0.7-0.7-0.5-0.5-0.6-0.1-0.8-0.5-0.6-0.3-0.8-0.1-0.8 0.2-0.8M73.8 340.7l0.7-0.5 0.7-0.4 0.7-0.4 0.4-0.7 0.7-0.3 0.8 0.2 0.5 0.6 0.8 0.3 0.8-0.2 0.6-0.6M36.5 318.3l1.1 0.6 0.5 1.1 1.1 0.6 1.2-0.1 1.1-0.5 1.0-0.7 1.2-0.3 1.2-0.5 1.1-0.7 1.0-0.7M91.7 304.5l-1.3-0.6-1.4-0.0-1.1-0.8-1.2-0.7-1.1-0.9-1.1-0.9-1.3-0.4-1.1-0.8-0.8-1.2-0.5-1.3M28.7 311.3l-0.7 0.6-0.9 0.3-0.9-0.2-0.9-0.2-0.8-0.4-0.9-0.0-0.9 0.2-0.9-0.2-0.8-0.5-0.9-0.1M80.1 296.4l0.7-1.3 0.4-1.4-0.2-1.5 0.6-1.4 0.2-1.5-0.6-1.4-1.2-0.9-0.4-1.4-0.4-1.4-0.8-1.2M80.2 341.0l-0.6-0.6-0.2-0.8-0.1-0.8-0.0-0.8-0.2-0.8-0.3-0.8-0.3-0.8-0.6-0.6-0.7-0.4-0.8-0.2M67.8 315.9l-0.1-1.4 0.3-1.3-0.2-1.3 0.5-1.2 0.4-1.3-0.4-1.3-0.6-1.2-0.6-1.2 0.0-1.4-0.6-1.2M38.0 305.9l0.1-1.2-0.3-1.2-0.6-1.1-1.0-0.7-0.8-0.9-0.9-0.8-1.0-0.7-1.2-0.2-0.9-0.8-1.2 0.0M62.9 305.6l0.5-0.9-0.1-1.0 0.6-0.9 0.9-0.5 0.8-0.7 1.0-0.4 0.7-0.7 0.4-1.0 0.8-0.7 0.9-0.5M85.3 298.9l0.4 1.2 0.5 1.1 0.9 0.8 1.1 0.5 1.2 0.2 1.2 0.4 1.0 0.7 1.2 0.3 0.8 0.9 1.2 0.4M67.4 337.9l1.1-0.9 1.4-0.1 1.2 0.8 1.4 0.1 1.1 0.9 1.1 0.9 1.1 0.9 0.6 1.3 0.6 1.3 0.0 1.4M73.8 293.3l-1.1-0.3-0.9-0.7-0.8-0.7-0.8-0.8-0.6-0.9-0.8-0.8-0.9-0.7-1.1 0.0-1.1 0.3-1.1-0.0M60.8 325.5l-0.6-1.0-0.9-0.7-1.1-0.3-1.1 0.3-1.1 0.0-1.1-0.1-1.1 0.4-1.0 0.6-1.1 0.3-1.1 0.4M59.3 288.4l-0.4-1.0 0.0-1.1 0.0-1.1-0.6-0.9-0.3-1.0-0.4-1.0 0.2-1.0 0.7-0.8 0.9-0.6 0.8-0.7M80.3 305.4l1.3-0.0 1.1 0.7 0.9 0.9 0.6 1.1 0.1 1.3 0.7 1.1 1.0 0.8 1.0 0.8 0.7 1.1 0.2 1.3M27.9 295.0l0.1 0.8 0.1 0.8 0.2 0.8 0.1 0.8 0.6 0.6 0.6 0.6 0.4 0.7 0.5 0.7-0.1 0.8-0.4 0.7M20.7 318.4l1.4-0.1 1.3 0.6 1.3 0.6 1.4-0.2 1.4-0.4 1.1-0.9 1.2-0.7 0.7-1.2 0.7-1.2 0.9-1.1M86.9 327.8l0.7 1.1-0.1 1.3-0.8 1.1-0.1 1.3-0.5 1.3 0.2 1.3 0.6 1.2 0.3 1.3 1.0 0.9 0.5 1.2M16.3 304.2l0.1-0.8 0.4-0.7 0.6-0.5 0.8-0.1 0.8 0.3 0.8 0.2 0.8-0.1 0.7-0.5 0.8-0.2 0.7 0.3M77.1 330.8l0.5-1.1 0.9-0.8 0.6-1.1 0.1-1.2 0.7-1.0-0.0-1.2 0.5-1.1 0.9-0.8 1.0-0.6 1.2-0.4M36.6 295.6l1.2 0.2 1.1-0.4 1.0-0.7 1.1-0.4 1.2 0.3 1.1-0.4 1.2-0.1 1.2 0.1 1.1-0.6 1.2 0.1M81.1 315.9l0.7-1.0 0.3-1.2 0.2-1.2 0.8-0.9 0.2-1.2 0.5-1.1-0.2-1.2 0.0-1.2-0.1-1.2 0.6-1.1M27.5 338.1l1.3-0.1 1.0-0.7 0.8-1.0 1.1-0.6 1.2-0.4 1.1-0.6 1.2-0.3 0.7-1.0 0.1-1.3-0.1-1.3M63.3 318.7l0.3 0.9 0.1 0.9 0.4 0.8 0.6 0.7 0.1 0.9 0.1 0.9 0.5 0.8 0.5 0.8 0.8 0.5 0.5 0.8M36.9 340.9l-0.6-0.7-0.6-0.7-0.9-0.2-0.9-0.2-0.9-0.4-1.0-0.1-0.8-0.6-1.0-0.1-0.9-0.2-0.9-0.3M75.4 300.9l-0.5-0.7-0.5-0.6-0.7-0.5-0.8-0.2-0.8 0.0-0.7-0.4-0.7-0.3-0.8 0.2-0.8-0.0-0.8-0.0M47.4 296.6l1.3 0.8 1.4 0.5 1.5 0.1 1.4-0.5 1.5-0.1 1.2-0.9 1.4-0.5 1.1-1.1 1.3-0.8 0.7-1.3M60.3 322.5l0.7-0.7 0.4-0.9-0.0-1.0-0.6-0.7-0.5-0.8 0.1-1.0-0.3-0.9-0.6-0.8-0.2-0.9-0.7-0.6M16.9 318.1l-1.0-0.7-1.2-0.3-0.9-0.9-0.6-1.1 0.0-1.2-0.2-1.2-0.6-1.1-1.1-0.5-0.9-0.8-0.9-0.8M34.1 316.5l0.3-1.3 0.1-1.3-0.6-1.2-0.1-1.3-0.8-1.1 0.0-1.3-0.1-1.3-0.3-1.3-1.0-0.8-1.3-0.2M46.3 309.9l1.4-0.3 1.0-1.0 1.2-0.8 0.7-1.2 0.7-1.3-0.2-1.4 0.0-1.4-0.4-1.4-0.6-1.3-1.0-1.0M19.6 312.6l-1.0 0.6-1.1 0.2-1.1 0.1-1.1 0.4-1.1 0.4-1.0 0.6-0.5 1.0 0.2 1.1-0.5 1.0-0.6 1.0M86.0 315.6l0.3 1.4 1.2 0.9 1.3 0.6 0.8 1.2 1.4 0.5 1.4-0.3 1.3 0.6 1.4-0.2 1.4 0.2 1.1 1.0M33.4 335.0l-0.6 0.7-0.3 0.9-0.1 0.9-0.7 0.6-0.4 0.8-0.4 0.8-0.2 0.9 0.4 0.8 0.4 0.8-0.1 0.9M82.2 292.0l-0.9 0.7-0.8 0.9-0.3 1.1 0.1 1.2 0.2 1.2-0.1 1.2-0.5 1.1-1.0 0.6-0.4 1.1-0.9 0.8M88.7 307.7l0.4-1.0 0.7-0.8 1.1-0.3 1.1 0.2 1.1 0.2 1.1-0.2 0.7-0.8 0.2-1.1 0.7-0.8 0.7-0.8M18.8 334.0l-0.4-0.8-0.1-0.9 0.5-0.8 0.3-0.9 0.2-0.9 0.6-0.7-0.0-0.9-0.0-0.9 0.4-0.8 0.4-0.8M30.9 318.3l-0.6-1.4-0.6-1.4-1.3-0.8-0.5-1.4-0.3-1.5-0.6-1.4-0.7-1.4-1.0-1.1-0.3-1.5-1.2-1.0M77.1 330.7l0.9 1.0 1.0 0.9 0.2 1.3-0.1 1.4-0.1 1.4-0.2 1.3-1.0 0.9-1.3 0.4-1.4-0.0-1.3-0.4M66.8 336.6l-1.1-0.8-1.2-0.6-1.2-0.6-0.6-1.2-1.0-0.9-0.8-1.1-1.0-0.9-1.1-0.8-0.9-1.0-1.3-0.2"/>
<path fill="none" stroke="#5e5e5c" stroke-width="0.4" d="M75.8 289.2l-1.3 0.3-1.1 0.7-0.7 1.1-0.5 1.2-0.8 1.0-1.1 0.7-0.7 1.1-1.2 0.5M72.7 313.7l0.9-0.6 0.4-1.1 0.3-1.1 0.9-0.7 0.9-0.6 1.1-0.1 1.0 0.6 0.5 1.0M47.4 284.5l0.8-0.2 0.7-0.4 0.4-0.7 0.6-0.5 0.8-0.1 0.8 0.1 0.8-0.0 0.8 0.1M71.5 330.5l-0.6-0.5-0.7-0.4-0.6-0.5-0.7-0.4-0.6-0.5-0.8-0.1-0.7-0.4-0.6-0.5M22.3 332.7l1.0-0.9 1.4-0.1 1.3-0.4 1.4 0.1 1.0 0.9 1.0 0.9 1.2 0.6 1.2 0.7M29.3 284.0l1.0 0.8 1.1 0.7 0.6 1.1 0.1 1.3-0.5 1.2-0.2 1.3-0.9 1.0-1.1 0.7M70.9 306.7l0.2-1.3 1.0-0.9 0.9-1.0 1.2-0.6 1.3-0.4 1.3-0.1 1.2 0.7 1.3-0.2M70.9 304.0l0.9-0.3 0.7-0.6 0.8-0.5 0.3-0.9 0.5-0.7 0.3-0.9-0.3-0.9 0.2-0.9M30.7 331.8l-0.7-1.1-1.0-0.9-0.8-1.1-0.7-1.1-1.2-0.5-1.3-0.1-1.2 0.6-1.3 0.3M23.9 312.0l-1.3-0.7-1.1-0.9-1.3-0.7-1.3-0.7-0.8-1.2-1.4-0.6-1.5 0.1-1.1 1.0M35.3 301.4l1.1-0.7 0.9-1.0 0.4-1.3 0.3-1.3 0.5-1.3 0.0-1.3 0.4-1.3 0.7-1.1M76.2 302.4l0.9-0.5 1.0-0.1 0.9-0.3 1.0 0.2 0.9-0.4 1.0-0.2 1.0 0.1 1.0 0.2M19.6 326.3l0.8-1.4 0.4-1.5 1.2-1.0 0.6-1.5 0.5-1.5 0.4-1.5-0.0-1.6-1.0-1.2M33.8 332.0l0.6-0.7 0.4-0.8 0.2-0.9 0.7-0.6 0.2-0.9 0.5-0.8 0.1-0.9 0.4-0.8M19.1 314.0l-0.9-0.1-0.8 0.4-0.9 0.0-0.8-0.4-0.4-0.8-0.2-0.9-0.7-0.6-0.3-0.8M25.8 317.3l0.7 0.7 0.5 0.9-0.1 1.0 0.4 0.9-0.3 1.0 0.1 1.0-0.4 0.9 0.0 1.0M53.2 283.8l1.5 0.1 1.5 0.2 1.5 0.0 1.3-0.7 0.6-1.4-0.0-1.5-0.6-1.4-0.8-1.3M80.0 294.2l-0.5-1.1-0.2-1.2-0.8-0.9-0.3-1.2-0.1-1.2-0.7-0.9-0.3-1.2 0.3-1.2M23.9 326.8l0.3 1.1 0.6 1.0 1.1 0.5 0.5 1.1 1.0 0.6 1.2 0.2 0.9 0.7 1.0 0.6M30.0 307.4l0.7-0.6 0.2-0.9 0.5-0.8-0.1-0.9-0.6-0.7-0.9-0.2-0.9-0.0-0.8 0.4M16.2 333.9l-1.2 0.2-1.1-0.6-1.1-0.5-1.2-0.4-1.2-0.3-1.2-0.4-1.0-0.7-0.5-1.1M88.9 342.1l0.8 0.7 0.5 1.0-0.2 1.1 0.2 1.1 0.4 1.0 0.3 1.0 0.7 0.8 0.7 0.8M40.0 292.7l-1.5-0.1-1.5 0.2-1.5 0.1-1.4-0.4-1.5-0.2-1.3 0.7-1.1 1.0-0.8 1.2M61.0 310.0l-0.3 1.3-0.1 1.3-0.2 1.3-0.2 1.3 0.1 1.3-0.1 1.3-0.5 1.3-1.0 0.9M81.6 304.6l-0.6-0.6-0.8-0.3-0.6-0.5-0.2-0.8 0.0-0.8-0.5-0.6-0.7-0.4-0.6-0.6M17.3 331.0l0.6-1.0 0.6-0.9 1.0-0.5 1.1 0.1 1.0-0.5 1.1 0.2 0.9 0.6 1.0 0.5M48.1 328.0l-0.6 1.4-1.0 1.1-0.9 1.2-0.8 1.3-0.8 1.3-0.7 1.4 0.2 1.5-0.6 1.4M50.7 319.5l0.2 1.5-0.5 1.4-0.1 1.5-0.8 1.3-1.3 0.8-1.1 1.0-1.4 0.5-1.4 0.7M17.4 334.8l-0.2 0.8-0.1 0.8-0.5 0.6-0.7 0.4-0.7 0.3-0.7 0.4-0.7 0.5-0.7 0.3M32.7 329.0l-0.4-0.9-0.3-0.9-0.7-0.7-0.2-1.0-0.6-0.8-0.9-0.3-0.9-0.3-0.9-0.4M26.9 295.9l-0.1-1.2 0.5-1.1-0.2-1.2 0.4-1.1 0.5-1.1 0.4-1.1 0.7-1.0 1.0-0.6M90.0 331.9l-0.9-0.5-0.7-0.7-0.9-0.5-0.8-0.5-0.5-0.9-0.9-0.4-1.0-0.1-0.9-0.4M57.5 318.8l1.1 0.5 1.2 0.2 1.1 0.4 1.1 0.5 0.7 0.9 0.7 1.0 0.7 1.0 1.1 0.5M30.3 293.5l0.2-1.1 0.2-1.1-0.1-1.1 0.3-1.1 0.1-1.2 0.4-1.1-0.3-1.1-0.3-1.1M93.0 300.4l0.1-1.5-0.1-1.5 0.8-1.2 1.0-1.1 1.3-0.6 1.0-1.1 1.4-0.4 1.4-0.4M29.9 303.7l-0.4-0.7-0.1-0.8 0.1-0.8 0.0-0.8 0.5-0.7 0.1-0.8-0.0-0.8 0.2-0.8M44.4 315.8l-0.5-0.7-0.6-0.7-0.9-0.1-0.8 0.3-0.7 0.6-0.2 0.8 0.0 0.9-0.1 0.9M48.7 306.2l-1.3 0.8-1.1 1.1-1.4 0.8-1.3 0.9-1.6 0.1-1.2 1.0-1.2 1.0-1.6 0.1M27.5 321.6l0.3-0.8 0.7-0.5 0.9-0.1 0.8-0.4 0.9 0.2 0.6 0.6 0.4 0.8 0.6 0.6M57.0 330.5l-0.5-0.8-0.1-0.9-0.6-0.7-0.9-0.4-0.5-0.8-0.4-0.8-0.1-0.9-0.1-0.9M93.0 342.1l-1.1 0.2-1.1 0.2-1.2 0.0-1.1-0.3-0.7-0.9-1.0-0.5-1.0-0.6-0.6-1.0M37.0 315.2l-1.4-0.3-1.4-0.1-1.3 0.5-1.3 0.4-0.9 1.1-0.6 1.2-0.1 1.4-0.8 1.2M19.3 318.3l0.6 0.7 0.5 0.8 0.8 0.5 0.8 0.5 0.8 0.5 0.7 0.6 0.8 0.5 0.3 0.9M56.4 299.8l1.2-0.8 0.4-1.4 0.7-1.3 0.5-1.4-0.2-1.5-0.3-1.4-0.2-1.5-0.7-1.3M61.5 309.3l0.5-1.2 0.2-1.3 0.2-1.2 0.5-1.2 0.3-1.2-0.4-1.2-0.1-1.3 0.5-1.2M46.7 288.3l0.7 0.6 0.1 0.9 0.7 0.6 0.5 0.8-0.0 0.9-0.1 0.9 0.3 0.8 0.1 0.9M84.0 316.2l0.9-0.9 1.2-0.4 0.8-1.0 1.1-0.7 1.2-0.5 1.2 0.3 1.2 0.2 1.0 0.8M17.9 323.6l-0.3-1.5-0.3-1.5-0.2-1.5 0.6-1.4 1.1-1.0 0.7-1.3 1.4-0.6 1.5-0.1M64.7 284.5l0.9 0.7 1.1 0.1 0.9 0.6 1.0 0.3 0.9 0.6 1.1 0.2 1.0 0.4 1.1 0.2M66.2 311.5l-0.3-1.5 0.1-1.5-0.8-1.3-0.9-1.2-0.5-1.5-0.7-1.3-0.1-1.5 0.9-1.3M40.1 316.1l-0.9-0.2-0.9-0.2-0.9-0.3-0.9-0.0-0.9-0.3-0.9 0.3-0.8 0.5-0.3 0.9M26.0 287.8l0.8-0.2 0.8 0.2 0.5 0.7 0.6 0.6 0.4 0.7 0.6 0.6 0.2 0.8-0.0 0.8M62.3 322.1l0.1 1.4-0.8 1.2-1.0 1.0-1.0 1.0-1.4 0.4-1.2 0.8-0.7 1.2-0.9 1.1M37.2 305.9l1.2-0.3 1.2-0.1 1.0-0.7 0.9-0.8 1.2-0.1 1.1-0.5 1.2 0.1 1.2-0.2M47.0 302.5l0.6-0.5 0.8-0.1 0.7-0.5 0.8-0.2 0.8-0.2 0.8-0.3 0.8-0.1 0.8 0.1M91.9 338.3l0.8 1.3 1.1 1.1 1.4 0.6 1.4 0.5 1.5-0.0 1.5 0.1 1.2 1.0 1.0 1.1M69.8 307.0l-0.9 0.2-0.9 0.3-1.0 0.1-0.9-0.4-1.0-0.2-1.0-0.1-0.9-0.3-0.5-0.8M45.0 331.9l0.6 0.7 0.6 0.7 0.4 0.8-0.0 0.9 0.3 0.8 0.8 0.5 0.6 0.7 0.8 0.5M82.9 328.0l1.0-0.3 1.0 0.1 0.8 0.6 0.8 0.6 0.7 0.8-0.0 1.1-0.5 0.9-0.1 1.0M39.5 313.4l0.9-0.6 1.0-0.3 0.9-0.6 0.5-0.9 0.9-0.6 1.1-0.1 1.0-0.4 1.1-0.1M18.6 325.4l-1.0 0.7-1.1 0.5-0.7 1.0 0.0 1.2 0.8 1.0 0.5 1.1-0.1 1.2-0.2 1.2M82.0 327.5l0.8-0.0 0.7 0.4 0.8 0.1 0.7-0.4 0.6-0.6 0.8-0.4 0.5-0.6 0.3-0.8M62.4 327.8l0.1 1.5 0.4 1.5-0.4 1.5 0.3 1.5-0.2 1.5-1.0 1.1-1.5 0.4-1.5-0.0M70.2 319.4l-0.2-0.9 0.3-0.8 0.6-0.6 0.7-0.6 0.2-0.9 0.0-0.9 0.5-0.7 0.2-0.9M35.8 324.4l0.9 0.5 0.8 0.6 0.3 1.0-0.4 1.0-0.7 0.8-0.1 1.0-0.7 0.7-0.3 1.0M25.9 329.4l-0.7 0.8-0.7 0.8-1.0 0.5-0.5 0.9-1.0 0.4-1.0 0.3-1.1 0.2-1.0 0.2M79.6 328.7l0.5 0.8 0.5 0.8 0.2 0.9 0.6 0.8 0.6 0.7 0.8 0.5 0.5 0.8 0.5 0.8M71.4 332.3l-1.1 0.0-0.9 0.5-0.4 1.0-0.1 1.1-0.6 0.9-0.7 0.9-0.1 1.1-0.3 1.1M38.7 315.5l-0.4-1.1-0.6-1.0-0.5-1.0-0.2-1.2 0.5-1.1 0.9-0.8 0.1-1.2 0.4-1.1M64.6 300.7l-0.4-0.8-0.3-0.8-0.1-0.9 0.4-0.8 0.3-0.8 0.7-0.6 0.2-0.9-0.3-0.8M41.2 298.7l-0.9-0.8-0.9-0.8-0.5-1.1-0.6-1.0-0.9-0.8-0.6-1.0-0.5-1.1-0.1-1.2M82.8 303.5l-0.7-0.8-0.6-0.8-0.1-1.1-0.3-1.0-0.6-0.9-0.7-0.8-0.9-0.6-0.9-0.6M65.7 336.3l-1.1 0.4-0.8 0.8-0.9 0.7-0.3 1.1-0.8 0.8-0.8 0.9-0.7 0.9-1.1 0.4M71.3 333.2l-0.7 0.5-0.7 0.5-0.8 0.4-0.9 0.3-0.9 0.1-0.9-0.0-0.9-0.0-0.9-0.3M17.0 316.2l-1.1 0.2-1.1 0.0-0.9-0.7-0.8-0.8-1.0-0.6-0.8-0.8-0.9-0.7-0.7-0.9M85.3 298.7l-1.2-0.9-1.5-0.3-1.5 0.1-1.4-0.6-1.5 0.0-1.3-0.8-0.9-1.2-0.8-1.3M35.6 285.8l0.6-0.7 0.6-0.6 0.9-0.2 0.9-0.0 0.9 0.2 0.7 0.6 0.5 0.8 0.7 0.6M91.1 288.2l-1.1 0.8-1.2 0.8-0.9 1.0-1.1 0.9-0.4 1.3-1.1 0.8-1.1 0.9-1.2 0.7M72.6 321.3l-1.2-0.1-1.1-0.5-1.2 0.0-1.2-0.2-1.2 0.2-1.1 0.4-0.7 0.9-1.0 0.7M75.5 283.0l-1.0 0.7-0.5 1.2-0.7 1.0 0.1 1.3-0.3 1.2-0.7 1.0-0.5 1.1 0.2 1.2M92.3 284.4l1.2-0.6 0.8-1.0 0.5-1.3-0.1-1.3 0.1-1.3 0.9-1.0 1.2-0.6 1.3 0.3M68.3 323.3l1.3-0.1 1.2-0.5 1.0-0.9 1.0-0.8 1.3-0.4 1.3-0.3 1.3 0.2 1.3 0.2M48.0 292.5l0.9 1.2 0.1 1.5 0.7 1.3 1.0 1.1 1.4 0.6 0.7 1.3 0.6 1.4 1.0 1.1M32.2 327.1l0.7 0.7 0.8 0.6 1.0 0.3 1.0 0.2 1.0 0.3 0.8 0.6 0.7 0.8 0.9 0.5M18.9 333.9l0.4-1.4-0.6-1.4 0.1-1.5-0.7-1.3-1.1-1.0-0.9-1.2-0.3-1.5-0.5-1.4M28.5 333.7l-0.4 0.9-0.3 0.9-0.6 0.8-0.8 0.6-1.0-0.1-0.8 0.5-0.4 0.9 0.2 1.0M16.3 312.5l-0.4-0.9-0.4-0.9-0.9-0.5-0.8-0.6-0.9-0.5-0.7-0.7-0.8-0.6-0.6-0.8M36.0 302.4l-0.5 1.1 0.1 1.2-0.3 1.2 0.4 1.2 0.8 1.0 0.8 0.9 0.1 1.2 0.3 1.2M69.6 300.5l0.0 1.3-0.3 1.3 0.1 1.3 0.6 1.2 1.0 0.9 1.0 0.9 0.9 0.9 1.0 0.8M59.4 301.8l1.0 0.5 0.9 0.7 1.1 0.2 1.0 0.6 1.1 0.1 1.1-0.0 1.1-0.3 1.1 0.3M54.2 301.1l0.9-1.2 0.2-1.5 0.6-1.3 0.6-1.3 0.7-1.3 0.6-1.3 0.6-1.3-0.2-1.4M31.7 300.1l0.2-0.9 0.5-0.8 0.3-0.8 0.3-0.8 0.6-0.7 0.8-0.3 0.5-0.7 0.2-0.9M27.6 297.0l1.1 1.0 1.5 0.0 1.3 0.7 0.7 1.3 1.0 1.1 1.4 0.4 1.0 1.1 0.3 1.4M62.6 338.8l-1.2-0.5-1.3 0.1-1.3-0.1-0.9-0.9-1.1-0.6-0.9-0.9-0.5-1.2 0.2-1.3M88.9 314.4l-0.6-1.5-0.7-1.4-0.1-1.6 0.4-1.5-0.6-1.4 0.4-1.5 1.0-1.2 1.5-0.3M20.8 339.1l-0.0-1.0 0.3-0.9 0.3-0.9 0.6-0.8 0.4-0.9 0.7-0.7 0.7-0.7 0.1-1.0M62.1 331.4l-0.2 1.1-0.3 1.1-0.7 0.8-1.0 0.5-0.5 1.0-0.8 0.8-1.0 0.5-1.1 0.3M33.4 317.4l1.4 0.1 1.3-0.3 1.3-0.4 1.2-0.7 1.3-0.3 1.4 0.1 1.4-0.3 1.3 0.3M24.8 331.0l-0.4 1.1-0.0 1.2-0.2 1.2-0.5 1.1-0.3 1.2-0.9 0.7-1.2 0.3-1.1 0.5M80.3 313.1l-1.3-0.2-1.3-0.2-1.3 0.1-1.1 0.8-1.0 0.9-1.3 0.1-1.2-0.6-1.1-0.8M47.9 342.1l0.8 1.1 0.4 1.3-0.4 1.3-1.2 0.8-0.8 1.1-1.2 0.8-1.3 0.4-1.3-0.5M55.2 340.9l-1.3 0.6-1.4-0.3-1.4 0.2-1.4-0.1-1.3 0.6-0.9 1.1-1.0 1.0-0.6 1.3M28.2 306.9l-0.9-1.1-1.0-1.0-1.3-0.6-1.3-0.6-1.3-0.7-1.2-0.8-1.3-0.7-1.1-1.0M64.6 290.1l-0.7-0.4-0.7-0.4-0.8-0.1-0.8-0.1-0.8 0.2-0.7 0.5-0.3 0.8-0.7 0.4M42.3 313.2l0.6-0.9 0.5-0.9-0.2-1.0-0.1-1.0 0.2-1.0-0.1-1.0 0.4-1.0 0.0-1.0M87.5 317.4l-1.0-1.0-0.4-1.4 0.1-1.5 1.0-1.1 0.6-1.3 1.2-0.8 1.3-0.6 1.4 0.3M58.2 301.8l1.6-0.2 1.1-1.1 0.2-1.6-0.7-1.4-0.4-1.5-1.2-1.0-1.5-0.4-1.0-1.3M45.2 333.9l1.0 0.5 1.1-0.1 0.8-0.7 1.1-0.0 1.0-0.4 0.6-0.9 0.4-1.0 0.8-0.7M34.7 342.0l0.6 1.1 0.0 1.3-0.6 1.1-0.3 1.2 0.1 1.3-0.5 1.2-0.8 0.9-0.6 1.1M54.8 293.5l1.4-0.6 0.8-1.3 0.3-1.5 1.2-1.0 1.2-1.0 1.6-0.1 1.3-0.9 0.5-1.5M18.5 342.0l-1.6 0.2-1.6 0.1-1.5-0.5-1.5 0.5-1.3 0.9-1.6 0.0-1.5 0.5-1.2 1.0M36.8 321.6l-0.8-0.7-0.4-1.0 0.1-1.1 0.4-1.0-0.1-1.1-0.0-1.1-0.5-1.0-0.2-1.1M65.8 340.6l-1.6 0.3-1.6 0.0-1.3-1.0-1.6-0.1-1.3-0.9-0.9-1.3-0.9-1.3-0.4-1.6M36.4 289.4l1.0-0.2 0.9-0.5 1.0-0.3 0.8-0.7 0.3-1.0-0.2-1.0 0.4-0.9 0.5-0.9M48.0 289.9l-0.2-1.2-0.3-1.2-0.0-1.2 0.7-1.0 0.1-1.2 0.4-1.1 0.3-1.2 0.6-1.1M72.1 332.0l0.1-1.0 0.7-0.8 0.9-0.5 0.8-0.6 1.0-0.2 0.9-0.5 0.7-0.8 1.0-0.2M18.4 293.3l0.8-0.5 0.7-0.6 0.7-0.6 0.3-0.9-0.1-0.9 0.3-0.9 0.7-0.6 0.9-0.2M25.8 332.0l0.3 1.1 0.9 0.8 1.1 0.1 1.1-0.3 0.8-0.8 0.4-1.1 0.2-1.1 0.3-1.1M61.0 339.8l1.2 0.5 1.3 0.1 1.3-0.3 0.8-1.0 0.9-0.9 0.4-1.2 0.2-1.3 0.7-1.1M35.2 316.8l-0.6 1.3-0.3 1.4-0.2 1.4-0.9 1.1-1.3 0.6-0.7 1.2-0.7 1.2-1.1 0.9M56.9 284.3l-0.6 1.3-0.9 1.1-1.2 0.8-1.4 0.1-1.1 0.9-1.0 1.0-0.8 1.2-0.1 1.4M77.5 304.1l-0.4 0.7-0.7 0.5-0.6 0.6-0.8 0.2-0.6 0.6-0.6 0.6-0.2 0.8-0.0 0.8M22.5 286.4l1.3 0.8 1.1 1.1 1.4 0.7 0.7 1.4 1.4 0.8 1.1 1.1 0.5 1.5 1.3 0.9M78.9 291.5l1.2 0.7 0.6 1.2 1.2 0.6 0.9 1.0 0.9 1.0 1.3 0.5 0.9 1.0 0.8 1.1M71.4 317.7l-1.1-0.2-0.8-0.7-0.8-0.7-0.9-0.6-0.5-1.0-0.8-0.8-1.0-0.3-1.1-0.2M24.7 305.9l0.2-1.5 1.1-1.1 1.5-0.2 1.5 0.0 1.4-0.7 1.5-0.4 1.5-0.4 1.5-0.1M84.5 301.4l1.0-0.8 1.3-0.0 1.0-0.9 0.9-1.0 1.2-0.5 1.3 0.1 0.9 0.9 0.2 1.3M26.0 287.4l0.1 0.9 0.3 0.9 0.3 0.9 0.4 0.8 0.8 0.5 0.5 0.8 0.3 0.9 0.6 0.7M93.3 310.3l-1.3 1.0-1.6 0.1-1.6-0.1-1.6 0.3-1.5-0.6-0.9-1.3-0.8-1.4-1.4-0.8M53.1 310.6l-0.5 1.4-1.2 0.8-1.4-0.2-1.4-0.3-1.4 0.2-1.0 1.1-0.8 1.2-1.1 0.9M71.9 340.6l-0.8-0.3-0.4-0.8-0.8-0.4-0.4-0.7-0.8-0.4-0.9-0.0-0.8 0.2-0.5 0.6M71.1 323.3l-0.3-1.2 0.4-1.1 0.1-1.2-0.4-1.1-0.9-0.8-0.7-1.0-0.8-0.9-0.3-1.2M27.0 339.1l0.1 1.3 0.8 1.0 1.0 0.8 0.7 1.1 0.9 0.9 1.1 0.6 0.8 1.0 1.0 0.8M36.8 301.6l-0.3 0.9-0.6 0.7-0.4 0.8-0.8 0.4-0.8 0.3-0.9-0.2-0.9 0.2-0.9-0.2M91.1 314.0l1.3-0.1 1.1-0.8 0.8-1.1 1.3-0.4 1.3-0.3 1.3 0.5 1.3-0.4 1.3 0.1M38.8 334.6l-1.4-0.3-1.4 0.5-1.4-0.5-1.3-0.7-0.8-1.2-1.3-0.8-1.5-0.2-1.3 0.8M76.1 285.6l-1.3 0.7-1.5 0.3-1.5 0.1-1.5-0.2-1.4-0.4-1.3-0.8-1.5-0.1-1.3-0.8M72.1 315.1l-0.9 1.2-1.2 1.0-0.4 1.4-0.4 1.5 0.5 1.4 1.1 1.0 1.2 0.9 0.8 1.3M83.8 332.2l0.4 1.4 1.1 0.9 0.7 1.3 0.7 1.3 0.6 1.3 1.0 1.1 1.3 0.7 1.0 1.1M17.8 334.6l1.3-0.1 1.3 0.2 1.0 0.8 0.6 1.1 0.7 1.1-0.0 1.3 0.1 1.3 0.3 1.2M51.4 336.4l0.7-0.8 0.6-0.9 0.6-0.9 0.6-0.8 0.3-1.0 0.3-1.0-0.0-1.0 0.3-1.0M83.9 313.0l0.9-0.3 0.8-0.5 0.9-0.1 0.8-0.4 0.5-0.8 0.5-0.8 0.8-0.6 1.0-0.0M67.8 329.1l-1.5 0.5-1.4 0.7-1.2 0.9-1.5 0.2-1.4 0.6-1.5 0.4-1.5 0.1-1.5 0.3M44.8 290.5l-1.0-0.1-1.0 0.4-0.8 0.6-0.3 1.0 0.1 1.0 0.7 0.8 1.0 0.2 1.0 0.3M76.2 321.8l1.1 0.1 1.1-0.3 0.8-0.8 0.9-0.6 0.5-1.0 0.2-1.1-0.5-1.0 0.1-1.1M87.7 320.0l-0.2-1.5 0.2-1.5 1.1-1.1 1.5-0.4 1.2-1.0 1.0-1.2 1.3-0.9 1.5 0.1M38.5 314.8l-0.8-0.2-0.6-0.5-0.8-0.1-0.7 0.4-0.4 0.7-0.1 0.8-0.2 0.8-0.3 0.8M53.9 286.5l0.1-1.1 0.0-1.1 0.1-1.1-0.3-1.0-0.7-0.9-0.3-1.0-0.7-0.8-0.5-1.0M39.1 338.6l1.3 0.6 1.4-0.0 1.4 0.3 1.4-0.4 1.3 0.5 1.4 0.1 1.4-0.1 1.2 0.8M52.3 322.4l1.1-0.8 1.3-0.4 1.3 0.5 1.2 0.7 0.7 1.2 0.5 1.2 1.2 0.7 1.3 0.2M85.2 293.2l1.0-0.2 1.0-0.1 0.7-0.7 0.2-1.0-0.4-0.9 0.3-1.0-0.1-1.0-0.1-1.0M55.7 310.3l0.6 1.3 0.3 1.4 1.0 1.0 0.3 1.4 1.0 1.0 0.2 1.4 0.5 1.4 0.5 1.3M29.9 308.7l-0.2-1.0-0.0-1.0 0.5-0.9 0.7-0.7 0.3-0.9 0.4-0.9-0.0-1.0 0.4-0.9M34.0 292.6l-0.3-0.9-0.6-0.8-0.2-0.9 0.3-0.9 0.7-0.7 0.9-0.4 0.9-0.2 0.9-0.2M77.0 303.1l-0.7 1.4 0.0 1.6 0.9 1.3 1.1 1.1 1.1 1.1 0.7 1.4 0.9 1.2 1.5 0.5M69.9 299.5l1.5-0.0 1.4-0.7 1.2-1.0 1.4-0.6 1.0-1.2 1.5-0.4 1.5-0.4 1.0-1.2M55.4 339.0l-1.1 0.3-1.1 0.4-1.2 0.2-1.1-0.4-1.2-0.1-1.1 0.4-1.0 0.6-1.1 0.3M18.0 289.0l1.0 0.1 0.7 0.6 0.9 0.3 0.9 0.3 0.8 0.5 0.9 0.2 0.7 0.7 0.7 0.7M28.5 334.0l-0.8 0.6-0.9 0.3-0.8 0.5-0.8 0.6-1.0 0.0-1.0 0.2-0.8 0.5-1.0-0.1M82.8 342.4l1.2 0.9 1.4 0.5 1.5 0.1 1.4-0.6 1.4-0.6 1.3-0.7 0.7-1.3 1.3-0.8M78.5 286.4l1.1 0.4 0.8 0.8 0.2 1.1 0.8 0.8 1.0 0.6 0.8 0.8 0.2 1.1-0.4 1.1M61.7 282.5l1.0-0.1 1.0-0.2 0.7-0.7 1.0-0.2 1.0 0.0 0.9 0.5 1.0-0.1 0.9-0.3M52.0 336.5l0.1-1.2 0.8-1.0 0.4-1.2-0.1-1.2 0.7-1.1 1.1-0.7 0.4-1.2 0.0-1.2M26.8 295.1l0.8 1.3 1.4 0.8 1.5 0.4 1.3 0.8 1.1 1.2 0.2 1.6-0.5 1.5 0.3 1.5M73.6 297.9l0.3 0.7-0.1 0.8 0.3 0.7 0.6 0.5 0.8 0.0 0.6 0.5 0.8 0.2 0.8-0.2M27.9 293.1l0.7-0.6 0.8-0.3 0.9-0.0 0.9 0.3 0.9-0.1 0.9 0.2 0.6 0.7 0.7 0.6M26.5 298.3l0.8 0.5 1.0 0.1 0.9-0.2 1.0 0.1 0.9 0.3 1.0 0.0 0.9-0.1 0.9 0.3M73.4 282.0l0.7 0.4 0.8 0.3 0.8 0.4 0.9 0.2 0.7 0.5 0.3 0.8 0.5 0.7 0.7 0.5M80.3 336.3l-0.4 0.7-0.2 0.8-0.2 0.8-0.4 0.7-0.7 0.5-0.8 0.3-0.8 0.3-0.8 0.2M24.3 284.9l-0.6 1.4 0.4 1.4-0.6 1.4-0.8 1.3-0.7 1.3-1.4 0.6-1.5-0.2-1.3 0.7M62.5 317.8l0.3 1.1-0.4 1.1-0.7 0.8-1.1 0.3-0.9 0.6-1.1 0.0-0.9 0.6-1.1-0.1M59.3 287.5l-0.7 0.7-0.5 0.9-0.5 0.9-0.3 1.0-0.0 1.0-0.3 1.0 0.1 1.0 0.6 0.8M26.7 300.4l0.9 0.0 0.9-0.3 0.9-0.3 0.9-0.3 0.9-0.2 0.9 0.3 0.9-0.2 0.7-0.5M44.5 318.1l-0.2-1.1-0.1-1.1-0.7-0.8-0.8-0.7-0.4-1.0-0.6-0.9-0.1-1.1 0.5-1.0M88.4 330.9l0.7-1.4 0.7-1.4 0.3-1.5-0.4-1.5-0.1-1.6 0.4-1.5-0.0-1.6-0.8-1.3M91.6 333.2l0.5 0.8 0.7 0.5 0.8 0.4 0.9 0.0 0.8-0.5 0.9-0.2 0.9 0.2 0.9-0.1M57.3 339.8l-1.5 0.4-1.6 0.1-1.5-0.6-1.6-0.1-1.5-0.4-1.1-1.1-1.5-0.3-1.5 0.5M69.7 329.6l-0.2 0.8 0.1 0.8 0.0 0.8 0.5 0.6 0.0 0.8-0.2 0.8-0.6 0.5-0.8 0.2M26.1 323.2l-0.1 1.2 0.3 1.2 0.8 0.9 0.1 1.2 0.3 1.2-0.1 1.2-0.2 1.2-0.4 1.1M44.0 294.9l1.4-0.4 1.0-0.9 1.3-0.5 1.3 0.4 1.4-0.4 1.1-0.9 1.1-0.9 0.4-1.3M73.9 294.7l-0.1-1.5-0.5-1.5 0.3-1.5 0.5-1.5 0.6-1.4 0.6-1.4 0.8-1.3 0.9-1.3M19.5 333.6l0.8 1.4 0.6 1.5 1.3 0.9 1.5 0.4 1.6-0.3 1.3-1.0 0.5-1.5 0.9-1.3M31.4 341.3l0.3-0.8 0.7-0.6 0.9-0.1 0.8-0.4 0.7-0.5 0.8-0.4 0.9-0.2 0.7-0.6M93.6 314.2l-0.0-0.8 0.1-0.8 0.0-0.8-0.2-0.8-0.2-0.8 0.3-0.8 0.5-0.6 0.7-0.4M19.9 320.9l0.6-0.8 0.6-0.8 0.8-0.5 1.0-0.2 0.7-0.7 0.6-0.8 0.9-0.3 1.0 0.1M42.4 283.8l-0.6 0.9-0.6 0.9-0.5 0.9-0.1 1.0 0.1 1.0-0.2 1.0-0.7 0.8-1.0 0.3M44.0 315.6l-1.3-0.4-1.4 0.3-0.9 1.0-0.3 1.4-0.2 1.4-0.9 1.1-1.1 0.9-0.5 1.3M49.3 330.2l-1.1-0.8-1.3-0.5-1.2-0.7-0.9-1.0-1.1-0.7-0.7-1.1-1.0-0.9-1.2-0.5M24.9 329.5l-1.2 0.0-0.9 0.8-0.9 0.8-1.0 0.7-1.2 0.3-1.2 0.0-1.1-0.6-0.6-1.1M27.0 291.7l1.3 0.3 0.9 0.9 1.2 0.4 1.2 0.3 1.2-0.4 1.2-0.5 1.0-0.8 0.4-1.2M87.4 286.2l1.0 0.5 0.5 1.0 0.6 0.9 0.7 0.9 0.6 0.9 0.6 0.9 1.0 0.5 1.1-0.0M43.5 290.2l-1.1 0.4-1.1 0.2-0.9 0.6-1.0 0.5-0.9 0.6-0.9 0.7-0.5 1.0-0.4 1.0M45.9 299.9l1.0-0.4 1.1-0.1 1.0 0.4 0.8 0.7 0.6 0.9 0.7 0.8 1.0 0.3 0.9 0.6M81.3 285.1l-1.2-0.4-1.0-0.7-1.0-0.8-1.0-0.7-0.6-1.1-0.6-1.1-1.1-0.7-1.1-0.6M53.6 316.9l0.6 1.0 0.6 1.0 1.1 0.5 0.9 0.7 1.0 0.7 1.2 0.2 0.8 0.8 0.6 1.0M34.8 316.8l0.3 0.8 0.0 0.8 0.5 0.6 0.3 0.8-0.2 0.8 0.2 0.8-0.3 0.7-0.2 0.8M73.5 336.8l-0.9 1.2-0.8 1.2-0.9 1.1-1.3 0.7-1.0 1.1-0.6 1.3 0.2 1.4 0.7 1.3M18.0 292.2l-0.1-1.2 0.2-1.2-0.6-1.1-0.4-1.1-0.6-1.1-0.8-0.9-0.9-0.8-1.2-0.1M61.0 326.1l-0.7 0.8-0.9 0.5-0.9 0.5-1.0-0.2-1.0-0.2-0.7-0.8-1.0-0.2-0.8-0.6M18.9 292.4l-0.7-0.9-0.4-1.1-0.0-1.2 0.4-1.1 1.0-0.7 0.8-0.9 1.1-0.4 1.0-0.6"/>
<path fill="none" stroke="#262626" stroke-width="0.45" d="M33.1 299.5l1.1 0.4 1.2-0.3 1.2 0.1 1.2 0.1 1.1-0.6 0.7-0.9M43.0 299.0l0.3 0.9 0.4 0.8-0.1 0.9 0.3 0.8 0.4 0.8 0.3 0.9M42.0 306.3l0.7-0.7 1.0-0.2 1.0 0.2 1.0-0.2 1.0 0.1 0.9-0.4M87.1 338.0l0.9 1.0 1.0 0.9 0.7 1.2 0.9 1.0 0.8 1.1 1.3 0.5M21.8 313.8l-0.9-1.0-1.1-0.7-1.3-0.1-1.3 0.3-1.3 0.4-1.3-0.1M73.0 319.5l-0.1 0.8-0.4 0.7-0.4 0.7 0.1 0.8 0.2 0.8-0.1 0.8M85.3 313.9l0.6-0.6 0.4-0.7 0.1-0.8 0.5-0.6 0.6-0.6 0.8-0.2M50.4 321.5l-1.1-0.4-1.1-0.5-0.7-1.0-0.3-1.2-0.3-1.2-0.2-1.2M41.7 301.2l1.4-0.7 1.5 0.2 1.4-0.7 1.5-0.4 1.5-0.1 1.4-0.7M41.9 327.7l-0.7-0.7-0.7-0.7-0.3-1.0 0.0-1.0-0.0-1.0 0.0-1.0M87.2 298.9l1.2 0.4 1.1 0.6 0.8 0.9 0.0 1.2 0.4 1.2-0.3 1.2M45.6 339.6l-1.0 0.9-0.9 1.0-0.1 1.4 0.7 1.2 1.1 0.9 1.3 0.4M66.3 320.4l-0.9-0.0-0.8-0.5-0.9-0.1-0.9 0.3-0.8 0.5-0.7 0.6M61.7 318.4l1.0 0.8 0.9 0.9 0.4 1.2-0.1 1.2 0.6 1.1 0.4 1.2M81.9 319.7l-0.9 0.1-0.9 0.3-0.6 0.7-0.9 0.3-0.7 0.6-0.8 0.4M55.8 283.9l0.5 0.9 0.2 1.0 0.6 0.9 0.9 0.6 1.1-0.0 1.0-0.3M43.7 315.0l-0.5 0.9-0.7 0.8-1.0 0.3-1.0 0.2-1.0 0.2-1.0-0.3M68.4 290.6l1.3 0.8 0.5 1.4 1.0 1.2 1.5 0.5 1.5-0.4 1.5 0.2M78.9 316.8l1.2-0.6 1.2-0.4 1.3-0.3 1.3 0.0 1.1 0.7 0.4 1.2M80.1 282.4l-0.8 0.5-0.9 0.1-0.8 0.6-0.9 0.4-0.5 0.8-0.3 0.9M19.4 325.3l1.4 0.3 1.4 0.2 1.3-0.6 1.4-0.2 1.3-0.6 0.9-1.1M44.9 335.4l0.7-0.8 0.5-0.9 0.3-1.0 0.8-0.6 0.6-0.8 0.0-1.0M21.5 297.4l-0.8-0.4-0.7-0.5-0.4-0.8 0.1-0.9-0.4-0.8 0.0-0.9M29.4 334.4l0.3-1.1-0.3-1.1-0.3-1.1 0.3-1.1-0.4-1.1-0.6-1.0M19.5 316.6l0.8-1.1 0.1-1.3-0.5-1.2-0.5-1.2 0.3-1.3 0.1-1.3M48.3 339.4l1.2 0.5 1.1 0.7 1.2 0.3 1.3-0.1 1.2-0.5 1.2-0.4M55.5 289.8l-0.7 0.5-0.7 0.6-0.8 0.3-0.9 0.3-0.9 0.1-0.8 0.3M21.9 306.5l-1.0 0.5-0.4 1.0-0.9 0.7-0.7 0.9 0.0 1.1-0.2 1.1M34.0 320.6l-1.0-0.5-1.1-0.3-0.7-0.9-0.2-1.1 0.1-1.1-0.6-1.0M22.8 332.9l-0.7 1.2-0.7 1.2 0.1 1.4 0.7 1.2-0.2 1.4 0.5 1.3M16.2 305.1l-1.2-0.9-1.5-0.4-1.5 0.2-1.2 0.9-1.2 0.9-0.6 1.4M22.2 318.9l0.9-0.1 0.8 0.4 0.7 0.5 0.7 0.5 0.4 0.8-0.1 0.9M42.2 310.5l-0.1-0.9-0.1-0.9 0.1-0.9 0.6-0.6 0.2-0.9-0.4-0.8M26.4 319.3l1.1-0.6 0.5-1.2 0.2-1.2 0.4-1.2-0.2-1.2-0.1-1.2M27.2 291.5l0.1-1.2 0.2-1.1-0.2-1.1-0.7-0.9-0.7-0.9-0.6-1.0M60.2 316.2l1.0-0.6 0.6-1.0 0.8-0.8 0.7-0.9 0.9-0.7 0.3-1.1M41.3 335.7l1.0-0.5 1.0-0.5 0.9-0.5 0.6-0.9 0.6-0.9 0.3-1.0M43.1 300.9l0.3 0.9-0.3 0.9-0.4 0.9-0.5 0.8-0.2 0.9 0.4 0.9M53.4 292.2l-0.7-1.3-0.1-1.5 0.3-1.4-0.1-1.5 0.4-1.4-0.3-1.5M23.5 337.3l-0.1-1.4 0.8-1.1 1.2-0.8 1.2-0.6 1.2-0.7 1.4-0.3M53.9 296.9l1.1-0.8 0.5-1.2-0.0-1.4-0.3-1.3 0.1-1.4 0.4-1.3M87.7 288.9l-1.3 0.9-1.6-0.0-1.5-0.6-1.0-1.2-0.6-1.5 0.4-1.5M66.3 334.6l1.6 0.1 1.5-0.4 1.5 0.5 1.5-0.4 1.6 0.1 1.3-0.9M77.5 285.7l0.6-1.3-0.4-1.4 0.2-1.5-0.7-1.3-0.7-1.3-0.3-1.5M68.7 288.4l0.4-0.7-0.0-0.9 0.4-0.8 0.3-0.8-0.2-0.8-0.1-0.9M35.9 302.3l0.6-1.3 0.7-1.3 0.3-1.4 0.7-1.2 0.6-1.3-0.1-1.4M63.3 283.9l0.1-1.3 0.9-1.0 0.2-1.3-0.6-1.2-1.1-0.7-1.0-0.9M72.7 293.0l1.0 1.0 0.6 1.3 0.7 1.2 1.0 1.1 0.7 1.3 0.5 1.4M16.9 316.4l-0.2-1.3-0.1-1.3 0.6-1.1 0.7-1.1 1.2-0.4 1.3-0.2M77.5 327.7l0.4-1.2 1.0-0.8 1.3-0.0 1.3-0.1 1.3 0.0 1.2-0.5M42.4 313.5l1.3-0.5 1.4 0.2 1.3-0.6 1.3-0.7 1.4 0.0 1.2 0.8M77.6 340.9l0.9 0.1 0.8 0.3 0.7 0.6 0.8 0.5 0.3 0.9 0.1 0.9M69.9 338.6l1.0-0.8 1.2-0.6 1.1-0.7 1.3 0.1 1.3-0.3 1.3 0.3M46.3 340.7l0.7 1.4 0.1 1.6-0.5 1.5-1.2 1.0-1.4 0.6-1.1 1.1M38.8 310.2l-1.1-0.4-1.2-0.1-1.2 0.1-1.1-0.3-1.1-0.2-1.2-0.1M57.2 310.5l-0.3-1.5-0.8-1.3-0.9-1.3-1.3-0.8-1.3-0.8-0.5-1.4M34.6 334.3l0.8-0.6 0.3-1.0 0.6-0.9 0.4-0.9 0.1-1.0-0.4-0.9M50.6 310.4l-0.5-0.8-0.7-0.6-0.6-0.7-0.1-0.9-0.4-0.8-0.3-0.9M72.0 285.6l0.5 1.1 0.7 0.9 1.1 0.4 1.2-0.0 1.0-0.5 1.1-0.4M26.4 309.0l-1.1 0.7-1.4-0.1-1.3-0.3-1.3 0.4-1.3 0.4-1.3 0.5M35.5 326.3l1.6 0.2 1.6-0.2 1.4-0.6 1.5 0.4 1.3 0.9 0.9 1.3M59.7 316.6l1.0 0.2 1.0-0.0 1.0-0.2 0.8-0.7 1.0-0.3 0.9-0.6M46.2 293.6l0.8-1.3 1.4-0.6 1.2-0.9 0.7-1.4 0.4-1.5-0.4-1.5M27.5 308.9l0.4-0.9 0.6-0.7 0.7-0.6 0.8-0.5 0.5-0.8 0.6-0.7M54.1 339.7l1.2 0.5 0.9 0.9 1.2 0.6 1.3-0.1 1.3-0.3 1.2 0.4M43.4 310.7l-0.7 1.0-1.2 0.3-1.0 0.8-1.0 0.8-1.2 0.0-1.0 0.8M53.7 306.0l0.9-0.2 0.9-0.0 0.8 0.3 0.7 0.5 0.7 0.6 0.4 0.8M22.6 341.3l-1.3-1.0-1.0-1.2-1.4-0.7-1.0-1.2-1.5-0.4-1.5 0.4M55.6 331.8l0.4 1.1 0.7 0.9 1.1 0.4 0.8 0.8 0.8 0.8 0.8 0.8M90.9 340.4l-1.2 0.1-1.0 0.6-1.1 0.4-1.0 0.6-0.9 0.8-1.2 0.2M19.6 315.4l-0.4 0.7 0.0 0.8 0.1 0.8 0.3 0.8 0.0 0.8 0.4 0.7M22.0 288.3l0.9-0.2 0.9 0.3 0.9-0.2 0.9 0.0 0.8-0.4 0.7-0.6M49.3 340.5l-0.7-0.4-0.7-0.4-0.8-0.1-0.8 0.2-0.8 0.0-0.8-0.1M35.3 302.8l0.9 0.8 0.3 1.1-0.2 1.1-0.6 1.0 0.1 1.2 0.6 1.0M68.7 301.2l0.2 1.0 0.6 0.9-0.0 1.1 0.1 1.1 0.5 0.9 0.3 1.0M90.8 308.3l1.1-0.1 1.0 0.5 1.0 0.5 1.0 0.5 0.9 0.7 0.8 0.8M75.9 300.6l-1.4-0.6-1.5 0.0-1.3-0.7-1.0-1.1-1.4-0.4-0.9-1.2M52.3 289.7l-0.6 1.1-0.9 0.8-1.2 0.1-1.0 0.7-0.7 1.0-0.9 0.9M80.7 315.7l-0.2 0.9-0.3 0.9-0.8 0.6-0.8 0.6-0.9 0.3-0.9-0.3M60.7 328.1l-0.8 0.9-0.7 1.0-0.7 0.9-0.5 1.1-0.0 1.2-0.2 1.2M77.8 332.1l0.4 0.8 0.4 0.8 0.7 0.6 0.4 0.8 0.4 0.8 0.4 0.8M90.6 338.4l-0.5-0.7-0.0-0.9 0.0-0.9 0.1-0.9 0.3-0.8 0.6-0.6M92.3 335.9l0.3 0.7 0.5 0.7 0.6 0.5 0.8 0.1 0.7 0.4 0.7 0.4M32.4 325.2l-1.1 0.8-1.2 0.7-1.3 0.5-0.9 1.0-1.1 0.8-1.3 0.5M31.1 340.6l1.1 0.3 0.9 0.7 1.1 0.3 1.1 0.4 1.0 0.5 1.1 0.0M68.9 339.3l-1.2-0.8-1.5-0.1-1.4-0.3-1.3-0.7-1.5-0.1-1.2 0.8M71.4 307.5l-1.4 0.3-1.4 0.5-1.4 0.1-1.4 0.1-1.4-0.5-1.4-0.2M66.7 341.6l0.4 1.4-0.3 1.4-0.5 1.4-0.9 1.2-1.0 1.1-1.0 1.1M64.4 302.9l0.9-0.6 0.4-1.0 0.2-1.1 0.6-0.9 1.0-0.6 0.9-0.7M90.8 337.2l1.0 0.9 1.3 0.2 1.1 0.7 1.3 0.1 1.3 0.2 1.1 0.7M56.0 339.3l-0.9-1.1-0.4-1.4-0.3-1.4-0.8-1.1-0.5-1.3-0.9-1.1M50.2 315.7l1.0-0.7 1.2 0.1 1.1-0.5 1.2-0.2 0.9-0.8 1.2-0.0M49.1 317.6l0.7 0.6 0.2 0.9-0.3 0.9 0.2 0.9 0.6 0.7 0.4 0.8M25.4 339.6l1.0-0.3 1.1 0.3 1.0 0.5 1.1 0.1 0.8 0.8 0.7 0.8M66.2 300.4l1.3-0.0 1.2-0.4 1.3-0.1 1.1 0.7 0.8 1.0 1.2 0.5M68.6 314.1l-0.8 0.9-0.5 1.0-0.1 1.2-0.7 0.9-1.1 0.4-1.1 0.5M23.9 282.5l-0.3-1.1-0.6-1.0-1.1-0.4-0.7-0.9-0.9-0.7-0.9-0.7M69.5 303.4l-0.9 0.5-1.0 0.2-1.0-0.1-0.9 0.6-0.9 0.6-0.5 0.9M83.0 308.6l-1.1-0.1-1.1 0.2-1.1 0.3-1.1-0.0-1.1 0.3-1.0 0.5M88.2 320.5l1.1-0.8 1.1-0.9 1.4-0.2 1.3 0.5 1.0 1.0 0.1 1.4M80.1 285.9l-1.0-0.0-0.8-0.5-0.9-0.3-0.9 0.1-0.9 0.2-0.9-0.3M31.2 328.4l0.9-1.0 0.3-1.3 0.1-1.3 0.1-1.3 0.6-1.2-0.3-1.3M61.2 307.6l0.1-1.3-0.3-1.2-0.3-1.2 0.1-1.3-0.4-1.2-0.7-1.1M57.2 336.6l-1.1 0.4-0.6 0.9-0.9 0.7-0.8 0.8-0.4 1.1-0.2 1.1M76.4 332.3l-0.2-1.0 0.2-1.0 0.5-0.9 0.3-0.9 0.5-0.9 0.6-0.8M80.7 287.3l0.6 0.9 0.9 0.6 0.7 0.8 0.3 1.1 0.1 1.1-0.1 1.1M52.4 339.0l1.2 0.8 1.4 0.2 1.4-0.1 1.4-0.4 1.0-1.0 1.4-0.3M89.4 338.4l-1.1 0.6-0.7 1.1 0.0 1.3-0.3 1.2-0.6 1.1-0.4 1.2M33.1 293.3l0.0 1.5 0.2 1.4 1.0 1.1 1.4 0.6 1.4 0.4 1.3 0.7M38.7 303.3l-1.0 0.1-1.0-0.1-0.9 0.5-0.8 0.6-0.7 0.7-0.8 0.7M56.0 300.1l0.3-1.0 0.8-0.7 0.9-0.6 0.4-0.9 0.9-0.5 1.0-0.2M72.9 318.0l0.4-1.4-0.3-1.5 0.2-1.5-0.3-1.5 0.6-1.4 0.6-1.4M30.7 334.2l0.3-1.0 0.2-1.0 0.8-0.6 1.0 0.0 0.9 0.6 0.6 0.8M79.2 285.5l-0.2 0.9 0.1 0.9 0.4 0.8 0.4 0.8 0.4 0.8 0.3 0.8M57.2 340.5l1.1 0.0 1.1-0.4 1.1-0.1 0.9-0.7 1.1-0.1 1.1-0.4M35.2 302.2l1.2 0.6 0.6 1.2 0.4 1.3 0.3 1.3 0.2 1.3-0.4 1.3M87.7 340.3l1.2-0.0 1.0-0.5 1.1-0.3 1.2-0.2 1.1-0.4 0.8-0.9M21.4 319.3l-1.0 0.5-1.0 0.6-0.9 0.7-1.1 0.1-1.1 0.1-1.1 0.0M43.2 282.8l-0.5-0.8-0.3-0.9-0.1-1.0 0.2-0.9 0.6-0.8 0.1-1.0M79.0 283.8l-0.4 1.5-1.0 1.2-0.2 1.6-0.5 1.5-0.5 1.5-0.8 1.3M39.4 321.9l0.2 1.2 0.2 1.2-0.0 1.2 0.7 1.0 1.2 0.4 1.0 0.7M18.6 323.3l0.6-0.6 0.7-0.5 0.9-0.2 0.7-0.5 0.6-0.7 0.4-0.8M17.4 314.1l-1.0-0.5-0.5-1.1 0.1-1.2-0.2-1.1-0.7-0.9-1.0-0.6M88.4 337.9l-1.6 0.1-1.5 0.5-1.0 1.2-1.1 1.2-1.2 1.0-0.6 1.5M16.4 296.5l-1.3-0.1-1.1-0.6-1.2-0.3-0.9-0.9-0.3-1.2-0.1-1.3M44.5 323.2l1.2-0.3 1.1 0.5 1.1 0.6 0.9 0.9 0.4 1.2 0.3 1.2M69.3 326.9l1.0 1.2 1.4 0.7 1.5-0.2 1.5-0.3 1.5 0.3 1.6-0.2M93.4 301.2l1.5 0.2 1.0 1.1 1.0 1.1 0.4 1.4-0.5 1.4-1.2 0.9M37.1 309.6l-1.4 0.1-1.1-0.8-0.9-1.0-1.3-0.4-1.3 0.3-1.0 1.0M75.8 342.0l1.0-0.1 1.0-0.3 1.0 0.1 1.0-0.1 0.9 0.5 0.4 0.9M47.3 314.0l0.5-0.8 0.4-0.9 0.5-0.8 0.1-0.9 0.4-0.9-0.2-0.9M52.5 285.2l0.4 1.3 1.1 0.9 0.3 1.3-0.5 1.3 0.1 1.4-0.6 1.3M28.2 339.5l0.5 1.3 1.2 0.6 1.2 0.7 1.4 0.0 1.1 0.9 0.8 1.1M86.9 317.4l-0.7-1.1-0.0-1.3 0.6-1.2 1.1-0.7 1.2-0.6 1.0-0.9M35.6 322.6l0.3 0.9 0.3 0.9 0.4 0.8 0.3 0.9 0.1 0.9 0.1 0.9M33.0 301.4l-1.1-0.4-1.1-0.5-1.1-0.4-1.2-0.1-1.1-0.4-0.8-0.9M57.7 314.2l-0.7-1.4-1.1-1.1-1.4-0.7-1.5-0.0-1.2 1.0-1.5 0.5M65.0 324.1l1.6-0.1 1.5 0.6 1.6 0.2 1.6 0.2 1.4-0.8 1.6 0.0M32.4 290.5l0.9-1.1 0.2-1.5 0.4-1.4 0.4-1.4 0.1-1.5-0.2-1.4M82.7 315.6l-0.8 0.9-0.9 0.8-0.9 0.8-0.2 1.2 0.4 1.2 0.4 1.2M75.3 333.3l0.6-1.2 0.3-1.3-0.3-1.3-0.6-1.2-1.2-0.7-1.1-0.8M74.8 340.1l-0.5-1.0-1.0-0.5-1.1-0.3-0.9-0.7-0.5-1.0-0.7-0.9M21.1 311.2l-0.9-0.0-0.8 0.2-0.8 0.2-0.9-0.1-0.6-0.6-0.2-0.8M73.6 285.0l0.0 1.1-0.3 1.1-0.0 1.1 0.3 1.1 0.7 0.9 0.9 0.6M89.8 332.8l0.6-0.7 0.6-0.7 0.8-0.4 0.8-0.4 0.9 0.2 0.8 0.4M44.6 330.8l0.9-0.4 0.8-0.4 0.4-0.8 0.6-0.7 0.1-0.9 0.6-0.7M33.9 328.7l-1.5 0.1-1.3 0.8-1.5-0.2-1.2-0.9-1.1-1.0-0.3-1.5M43.0 322.5l-0.1-1.3 0.4-1.2-0.1-1.3-0.2-1.3-0.8-1.0-0.7-1.1M69.4 298.0l-1.3-0.5-1.3-0.1-1.1-0.8-1.0-0.9-0.9-1.0-1.1-0.7M35.1 309.1l0.2-0.8-0.1-0.8-0.6-0.6-0.4-0.7-0.7-0.4-0.4-0.7M17.1 289.0l-0.9-1.1-0.6-1.3 0.4-1.4 1.0-1.0 1.4-0.1 1.4 0.2M25.0 292.7l-0.4 1.3-0.6 1.3-0.2 1.4-0.9 1.1-0.7 1.2-1.3 0.6M27.7 330.7l-0.4-0.8-0.0-0.9-0.6-0.7-0.3-0.8-0.4-0.8-0.8-0.3M32.5 285.1l0.2 1.5-0.2 1.5-0.2 1.5-1.1 1.1-1.3 0.8-1.0 1.2M56.3 302.2l-0.6 1.4-1.2 0.9-0.6 1.4-0.6 1.4-0.2 1.5 0.4 1.4M64.5 338.2l-0.7-1.4-0.2-1.5 0.3-1.5 1.0-1.2 1.2-1.0 1.3-0.8M33.3 301.0l-0.2 1.2-0.0 1.3 0.2 1.2 0.8 1.0 0.2 1.2 0.7 1.0M32.2 283.6l-0.2-1.5-0.7-1.3-1.1-1.0-0.5-1.4-0.7-1.3-0.6-1.3M91.2 328.7l1.1 0.5 0.5 1.1 0.0 1.2-0.2 1.2-0.9 0.8-0.6 1.0M48.1 332.4l-1.4 0.1-1.4-0.2-1.4-0.2-1.3 0.5-1.2 0.6-1.3 0.4"/>
</g>
<clipPath id="cH2"><rect x="19.0" y="346.3" width="71.6" height="55.5"/></clipPath>
<g clip-path="url(#cH2)">
<rect x="19.0" y="346.3" width="71.6" height="55.5" fill="#e2e0d8"/>
<g fill="#bdbdbb" opacity="0.55">
<ellipse cx="26.7" cy="363.5" rx="2.7" ry="1.1"/>
<ellipse cx="89.7" cy="357.1" rx="2.6" ry="2.3"/>
<ellipse cx="78.2" cy="361.1" rx="1.1" ry="1.6"/>
<ellipse cx="62.1" cy="360.3" rx="1.2" ry="2.5"/>
<ellipse cx="40.0" cy="350.9" rx="3.3" ry="2.5"/>
<ellipse cx="68.6" cy="382.5" rx="1.3" ry="1.3"/>
<ellipse cx="20.1" cy="359.0" rx="3.4" ry="2.5"/>
<ellipse cx="20.2" cy="390.7" rx="2.5" ry="2.4"/>
<ellipse cx="31.3" cy="374.0" rx="1.9" ry="1.2"/>
<ellipse cx="26.5" cy="391.0" rx="1.4" ry="2.2"/>
<ellipse cx="86.7" cy="356.3" rx="3.3" ry="1.4"/>
<ellipse cx="67.7" cy="369.6" rx="3.0" ry="1.8"/>
<ellipse cx="83.6" cy="374.5" rx="1.5" ry="2.2"/>
<ellipse cx="67.7" cy="367.2" rx="3.4" ry="1.9"/>
<ellipse cx="64.8" cy="396.6" rx="2.3" ry="1.5"/>
<ellipse cx="32.7" cy="357.6" rx="1.2" ry="1.4"/>
<ellipse cx="87.8" cy="368.6" rx="1.1" ry="1.7"/>
<ellipse cx="25.3" cy="394.0" rx="1.3" ry="1.8"/>
<ellipse cx="20.5" cy="357.5" rx="2.1" ry="1.8"/>
<ellipse cx="58.1" cy="360.0" rx="3.1" ry="1.0"/>
<ellipse cx="76.5" cy="388.4" rx="1.0" ry="1.1"/>
<ellipse cx="76.5" cy="380.6" rx="2.0" ry="1.3"/>
<ellipse cx="24.0" cy="388.2" rx="1.0" ry="1.9"/>
<ellipse cx="51.7" cy="350.6" rx="1.1" ry="2.4"/>
<ellipse cx="37.9" cy="379.7" rx="1.0" ry="1.6"/>
<ellipse cx="62.9" cy="391.0" rx="2.6" ry="1.3"/>
<ellipse cx="71.3" cy="348.5" rx="2.7" ry="0.8"/>
<ellipse cx="22.5" cy="372.1" rx="1.7" ry="2.0"/>
<ellipse cx="86.2" cy="363.6" rx="1.2" ry="1.4"/>
<ellipse cx="50.2" cy="388.9" rx="3.4" ry="0.8"/>
<ellipse cx="58.3" cy="366.2" rx="1.7" ry="2.3"/>
<ellipse cx="83.9" cy="394.4" rx="3.2" ry="2.3"/>
<ellipse cx="75.3" cy="379.0" rx="3.4" ry="1.3"/>
<ellipse cx="84.2" cy="369.7" rx="2.3" ry="2.2"/>
<ellipse cx="55.6" cy="374.1" rx="1.5" ry="0.8"/>
<ellipse cx="43.0" cy="385.3" rx="2.4" ry="1.4"/>
<ellipse cx="63.4" cy="348.9" rx="2.3" ry="1.6"/>
<ellipse cx="69.7" cy="369.4" rx="3.2" ry="1.1"/>
<ellipse cx="21.6" cy="401.2" rx="2.2" ry="2.3"/>
<ellipse cx="77.5" cy="392.5" rx="3.2" ry="2.0"/>
<ellipse cx="74.6" cy="364.3" rx="3.2" ry="0.7"/>
<ellipse cx="75.7" cy="397.4" rx="2.7" ry="1.0"/>
<ellipse cx="51.4" cy="380.5" rx="1.4" ry="1.9"/>
<ellipse cx="48.3" cy="401.0" rx="1.3" ry="1.2"/>
<ellipse cx="73.3" cy="368.6" rx="2.6" ry="0.7"/>
</g>
<path fill="none" stroke="#9a9a98" stroke-width="0.4" d="M71.9 349.3l0.8-0.5 0.5-0.8 0.5-0.8 0.7-0.6 0.3-0.9 0.4-0.9 0.4-0.8 0.2-0.9-0.3-0.9-0.7-0.6M54.2 351.2l0.3-1.3-0.3-1.3 0.3-1.3 0.1-1.3 0.9-1.0 0.9-1.0 1.2-0.3 0.9-0.9 0.8-1.0 1.2-0.4M93.6 395.2l0.4 1.2 0.9 0.9 0.7 1.1 0.4 1.2 0.6 1.1 0.1 1.3 0.2 1.3-0.1 1.3-0.7 1.1-0.7 1.0M92.7 381.0l0.9-0.2 0.9 0.3 0.7 0.6 0.7 0.6 0.4 0.8 0.4 0.9 0.2 0.9-0.0 0.9-0.2 0.9-0.5 0.8M66.0 349.2l-1.0 0.9-0.5 1.2 0.0 1.4-0.1 1.4-0.3 1.3-0.4 1.3 0.3 1.3 0.4 1.3-0.2 1.3-0.6 1.2M56.9 362.7l-0.0 1.1 0.3 1.1 0.2 1.1 0.1 1.1 0.0 1.1-0.2 1.1-0.8 0.7-0.8 0.7-1.0 0.4-1.1-0.2M31.5 373.2l-1.4-0.3-1.3 0.6-0.8 1.1-1.2 0.7-0.7 1.2-0.9 1.0-0.1 1.4 0.0 1.4-0.8 1.1-0.7 1.2M49.8 395.1l1.3 0.5 1.4-0.2 1.3-0.6 1.4 0.2 1.3-0.3 1.4-0.2 1.3 0.5 0.8 1.1 0.8 1.2 0.7 1.2M22.5 375.0l0.2-1.3 0.4-1.3 0.7-1.1 0.0-1.3 0.1-1.3-0.4-1.3-0.6-1.2-0.3-1.3-0.7-1.2-0.1-1.3M67.5 351.2l1.3-0.4 1.3 0.5 0.8 1.1 0.1 1.4 0.3 1.3 0.7 1.2 1.1 0.8 1.3 0.5 1.3-0.4 1.4 0.2M42.4 363.2l-0.9-0.2-1.0-0.2-0.7-0.7-0.5-0.8-0.1-1.0 0.4-0.9 0.1-1.0-0.5-0.8-0.4-0.9-0.2-1.0M25.7 363.3l-1.2 0.2-1.0-0.6-0.8-0.8-0.7-0.9-0.5-1.1-0.7-1.0-0.7-0.9-0.6-1.0 0.0-1.2-0.2-1.2M81.5 399.8l-0.1-0.9 0.5-0.8-0.1-0.9-0.1-0.9 0.4-0.8 0.6-0.7 0.7-0.6 0.6-0.7 0.5-0.8 0.1-0.9M37.6 346.4l-0.1-1.0 0.3-0.9-0.3-0.9-0.5-0.8 0.1-1.0-0.5-0.8-0.6-0.8-0.9-0.3-0.9 0.3-1.0 0.0M50.5 350.3l1.4-0.4 1.5-0.0 1.4-0.6 0.8-1.3 0.1-1.5-0.5-1.4-0.4-1.4-1.1-1.0-0.7-1.3-0.9-1.2M80.0 393.3l-0.7-0.4-0.7-0.5-0.2-0.8 0.1-0.8 0.5-0.7 0.2-0.8-0.4-0.8 0.1-0.9 0.2-0.8-0.3-0.8M69.6 378.4l-1.1-0.9-0.6-1.3-0.5-1.3-1.2-0.8-1.3-0.5-1.3-0.5-1.4 0.3-1.3-0.5-1.1-0.9-0.4-1.4M62.1 380.9l-1.0 0.0-1.0 0.2-0.7 0.8-0.2 1.0-0.2 1.0-0.2 1.0 0.2 1.0-0.3 1.0-0.3 1.0 0.2 1.0M51.5 379.3l-1.0-0.3-0.6-0.9-0.3-1.0-0.4-0.9-0.6-0.8-0.4-1.0-0.6-0.8-1.0-0.3-0.9-0.4-1.0-0.2M44.3 351.2l-1.3-0.6-0.7-1.3-0.5-1.3 0.3-1.4-0.2-1.4-0.8-1.2-0.9-1.1-0.3-1.4-0.9-1.1-0.2-1.4M38.0 392.0l-1.0 0.5-1.2 0.1-0.9 0.7-1.0 0.5-0.7 0.9-0.8 0.9-1.1 0.4-1.1 0.4-0.7 0.9-0.4 1.1M56.2 385.8l-1.1-0.9-0.5-1.4-0.5-1.4-0.4-1.4-1.2-0.9-0.9-1.1-0.9-1.1-0.1-1.4-0.5-1.4-1.0-1.1M24.6 358.6l1.1 0.1 1.0-0.4 1.1-0.1 1.1 0.1 1.0 0.4 0.8 0.8 0.4 1.0-0.0 1.1 0.4 1.0-0.3 1.1M39.1 373.7l0.4 0.9-0.2 1.0 0.2 1.0-0.4 0.9-0.5 0.8-0.7 0.7-0.7 0.7-0.6 0.8 0.1 1.0-0.1 1.0M51.2 388.2l-1.3 0.6-1.3 0.7-0.6 1.3-0.7 1.3-1.0 1.0-1.2 0.8-1.4 0.5-1.4 0.2-1.4-0.4-1.1-0.9M27.0 346.2l-0.5-1.1-0.7-0.9-0.5-1.1-0.7-0.9-1.1-0.3-1.1-0.5-1.2 0.2-1.0 0.6-1.2-0.0-1.2-0.2M25.5 358.3l-0.7 0.6-0.7 0.6-0.7 0.6-0.6 0.7-0.9 0.3-0.6 0.7-0.3 0.8-0.2 0.9-0.6 0.7-0.3 0.9M84.1 351.3l-1.1-1.0-1.2-0.9-0.6-1.4-0.4-1.5-1.2-0.9-0.6-1.4-0.8-1.3-1.0-1.2-1.4-0.6-1.5-0.3M90.7 344.6l1.4-0.2 1.4 0.1 1.3 0.5 1.3 0.5 1.1 0.8 1.3 0.6 0.9 1.0 0.5 1.3 0.8 1.1 0.5 1.3M18.0 378.1l0.5 0.7 0.1 0.9-0.2 0.9 0.0 0.9 0.1 0.9-0.1 0.9-0.3 0.8-0.7 0.5-0.9 0.2-0.7 0.5M80.7 366.1l0.4 1.3-0.1 1.3-0.2 1.3 0.0 1.3-0.8 1.1-1.2 0.6-1.0 0.9-0.4 1.3-0.3 1.3-0.6 1.2M32.9 395.9l1.2 0.3 0.7 1.0 1.0 0.7 1.2 0.1 1.2-0.1 1.1 0.6 1.3 0.1 1.2 0.4 1.2 0.5 1.3 0.0M23.6 400.5l0.8 0.4 0.7 0.5 0.5 0.7 0.8 0.3 0.8-0.3 0.8-0.4 0.9-0.1 0.9-0.2 0.6-0.7 0.7-0.5M23.5 371.8l-0.4 1.4 0.6 1.4 1.1 1.1 1.4 0.5 1.1 1.1 0.7 1.3 0.5 1.4-0.2 1.5 0.2 1.5 0.5 1.4M69.6 347.4l1.1 0.9 1.4 0.3 0.9 1.1 0.5 1.3 0.5 1.3 1.2 0.7 0.7 1.2 1.3 0.6 1.4-0.2 1.0-1.0M24.8 356.6l-0.0 0.9 0.5 0.8 0.8 0.5 0.3 0.9 0.5 0.8 0.4 0.8-0.1 0.9-0.4 0.8-0.3 0.9 0.1 0.9M93.0 388.3l-0.4 1.0-0.8 0.8-0.9 0.6-0.9 0.6-1.0 0.4-0.5 0.9-0.7 0.8-0.3 1.0 0.2 1.1 0.1 1.1M73.1 348.5l0.5-1.5 0.8-1.3 0.0-1.6 0.3-1.5 0.4-1.5-0.7-1.4-0.8-1.3-0.6-1.4-0.4-1.5 0.4-1.5M92.5 391.2l-1.2 1.0-1.5 0.0-1.5 0.2-1.5-0.2-1.5 0.1-1.2 0.9-1.4 0.6-1.3 0.8-1.5 0.3-1.5 0.4M60.9 400.8l1.2-0.0 1.2 0.1 1.1 0.3 1.0 0.7 1.1 0.5 1.2-0.0 1.0 0.6 1.2 0.1 1.2 0.2 1.1-0.3M81.6 367.5l-0.1-1.2 0.6-1.1 0.2-1.2-0.1-1.2 0.3-1.2-0.4-1.1-1.0-0.7-0.3-1.1-0.1-1.2 0.7-1.0M23.1 377.4l-0.0 0.9 0.1 0.9 0.6 0.7 0.2 0.9-0.3 0.9 0.2 0.9 0.3 0.9 0.6 0.7 0.1 0.9 0.2 0.9M24.7 397.9l1.5-0.0 1.2 0.8 1.1 1.0 0.4 1.4 0.6 1.3 0.6 1.3 1.3 0.6 1.0 1.0 1.1 0.9 0.5 1.4M49.1 389.3l-0.0 1.1 0.0 1.1 0.2 1.1-0.3 1.1-0.6 1.0-0.4 1.1 0.0 1.1-0.3 1.1-0.9 0.7-1.1 0.2M85.7 353.4l1.4-0.1 1.2-0.7 0.6-1.3 0.3-1.4-0.3-1.4-0.8-1.1-0.1-1.4-0.5-1.3-0.4-1.4-1.1-0.8M73.9 396.7l0.3-0.8 0.2-0.9 0.5-0.8 0.7-0.5 0.8-0.3 0.6-0.7 0.7-0.5 0.8-0.5 0.9-0.0 0.9-0.1M39.5 391.4l1.4 0.1 1.3-0.5 0.9-1.0 0.5-1.3-0.3-1.4 0.1-1.4-0.8-1.1-0.9-1.1-0.5-1.3-1.1-0.8M69.8 380.5l-1.6 0.1-1.6-0.1-1.5 0.6-1.2 1.1-1.5 0.7-1.0 1.2-0.3 1.6-0.6 1.5 0.0 1.6-0.2 1.6M71.9 356.1l-1.0-0.1-0.9 0.4-1.0 0.3-0.7 0.8-0.2 1.0-0.2 1.0 0.5 0.9-0.1 1.0-0.3 1.0-0.6 0.8M60.6 353.4l0.4-0.8 0.7-0.6 0.5-0.7-0.1-0.9 0.1-0.9-0.3-0.8-0.3-0.8-0.5-0.7-0.1-0.9 0.4-0.8M46.4 391.6l-0.9 0.3-0.9 0.3-0.9 0.4-0.9-0.2-0.9 0.2-0.9 0.2-0.9 0.1-0.8-0.5-0.8-0.5-0.9-0.4M44.1 393.0l-0.4 1.0-0.0 1.1 0.3 1.0 0.5 0.9 0.5 0.9 0.3 1.0 0.1 1.1 0.4 1.0 0.1 1.0 0.4 1.0M84.3 346.7l-0.2 1.3-0.8 1.1-1.2 0.4-1.1 0.7-1.3 0.3-1.0 0.8-0.5 1.2-0.7 1.1 0.1 1.3 0.7 1.1M86.2 371.1l-0.3 1.1 0.4 1.1-0.1 1.2 0.5 1.1 0.4 1.1 0.9 0.8 0.8 0.8 0.8 0.8 0.2 1.2 0.9 0.7M47.5 365.5l-0.4 0.9-0.0 1.0-0.5 0.8-0.7 0.6-0.9 0.3-0.9 0.2-0.9-0.4-0.9 0.1-0.9 0.3-0.8 0.4M74.3 392.9l0.6 0.6 0.5 0.7 0.2 0.9 0.1 0.9-0.4 0.8 0.2 0.9-0.1 0.9-0.2 0.9-0.7 0.5-0.8 0.3M46.4 365.2l-0.4 1.4-0.5 1.4-0.4 1.4-0.7 1.3-1.1 1.0-0.9 1.2-1.1 1.0-1.0 1.1-0.7 1.3-0.8 1.3M45.9 353.2l0.1-1.0-0.2-1.0-0.4-1.0-0.5-0.9 0.2-1.0 0.1-1.0 0.3-1.0 0.7-0.8 0.2-1.0 0.4-0.9M58.5 402.4l0.6 0.6 0.8 0.1 0.6 0.5 0.4 0.8 0.5 0.7 0.3 0.8 0.5 0.7 0.1 0.8-0.4 0.7-0.7 0.5M48.4 354.6l-0.6-1.1-1.1-0.6-1.3-0.1-1.1 0.5-1.2 0.2-1.3-0.1-1.3-0.1-1.2-0.5-1.2-0.3-0.9-0.8M88.5 389.2l-1.6 0.1-1.6-0.0-1.5 0.5-1.5-0.5-0.8-1.3-0.3-1.5 0.6-1.4 1.0-1.2 1.5-0.6 1.5-0.6M75.2 347.3l-1.2 0.7-1.4 0.1-1.4 0.1-1.4 0.4-1.4-0.4-1.3-0.6-1.3-0.6-1.1-1.0-0.9-1.1-0.8-1.2M44.9 364.8l-1.4-0.5-1.4-0.4-1.4 0.2-1.5-0.1-1.4-0.4-0.9-1.1-0.5-1.4-0.9-1.1-0.1-1.5-0.4-1.4M42.7 385.5l0.5 0.7 0.4 0.7-0.0 0.8 0.1 0.8-0.4 0.7-0.0 0.8-0.3 0.8-0.7 0.4-0.8 0.2-0.8-0.2M17.0 360.0l1.2-0.3 0.8-0.9 1.0-0.7 1.2-0.5 1.0-0.7 0.5-1.1 0.3-1.2-0.5-1.2 0.4-1.2 1.0-0.8M53.8 365.4l-0.5 0.8-0.1 0.9 0.3 0.9-0.3 0.9-0.1 0.9 0.3 0.9-0.1 0.9-0.1 0.9-0.2 0.9-0.4 0.8M53.0 402.2l1.0 0.0 0.8 0.5 0.8 0.6 0.9 0.4 0.5 0.9 0.6 0.8 0.7 0.7 0.8 0.5 0.7 0.7 0.2 1.0M42.6 346.4l-0.6-0.6-0.5-0.7-0.2-0.8-0.6-0.6-0.7-0.5-0.8 0.0-0.7 0.5-0.8-0.1-0.6-0.6-0.7-0.5M88.0 399.5l1.4 0.1 1.2 0.7 0.6 1.2 0.7 1.2 0.8 1.1 1.1 0.8 0.9 1.0 0.7 1.2 1.3 0.5 0.6 1.2M75.3 377.2l1.2 0.7 1.3 0.5 0.8 1.1 0.5 1.3-0.4 1.4 0.4 1.3 0.2 1.4 0.6 1.3 0.2 1.4-0.1 1.4M73.8 372.0l1.1-1.0 0.7-1.4 0.2-1.5 0.7-1.4 1.1-1.0 1.4-0.6 1.3-0.8 1.5-0.2 1.4-0.7 0.9-1.2M81.4 355.4l-0.0-1.4-0.6-1.2 0.3-1.3 0.1-1.3-0.4-1.3-1.1-0.7-0.6-1.2-0.3-1.3-0.5-1.2-0.1-1.3M70.4 377.8l-0.1-1.3-0.8-1.0-1.3-0.3-1.3-0.2-0.9-0.9-1.1-0.6-0.6-1.1-0.0-1.3-0.3-1.2-0.8-1.0M92.6 345.3l0.3 0.8 0.6 0.6 0.2 0.9 0.5 0.8 0.4 0.8 0.2 0.9 0.1 0.9 0.4 0.8 0.4 0.8 0.5 0.8M26.6 364.6l0.8-0.0 0.6-0.5 0.8-0.3 0.5-0.6 0.6-0.5 0.8-0.1 0.7 0.4 0.5 0.6 0.3 0.8 0.7 0.4M93.5 356.1l0.1 1.1 0.1 1.1-0.0 1.1 0.1 1.1-0.0 1.1-0.3 1.1-0.3 1.1-0.9 0.6-1.1 0.4-0.6 1.0M84.0 390.6l-0.7 0.5-0.7 0.4-0.5 0.7-0.2 0.8 0.2 0.8 0.5 0.7 0.7 0.5 0.8 0.3 0.8-0.2 0.9-0.0M54.9 403.3l1.2-0.4 1.1-0.6 1.3-0.0 1.3 0.1 1.0 0.8 0.9 0.9 0.9 0.9 1.1 0.7 1.3-0.1 1.1-0.6M36.2 376.4l-1.1-0.0-1.1 0.2-0.7 0.9-0.4 1.0 0.3 1.1 0.2 1.1-0.5 1.0-0.5 1.0 0.1 1.1 0.6 0.9M26.8 400.6l-0.3 0.8-0.2 0.8-0.4 0.8-0.5 0.7-0.3 0.8-0.1 0.9 0.1 0.9 0.2 0.8-0.2 0.8-0.4 0.7"/>
<path fill="none" stroke="#5e5e5c" stroke-width="0.4" d="M90.2 392.7l1.4 0.1 1.4 0.3 1.2 0.8 1.3 0.5 1.4-0.0 1.4 0.0 1.2 0.7 1.3 0.5M91.5 389.8l-0.0 1.5 0.5 1.4 1.2 0.8 0.7 1.3 1.1 1.0 0.8 1.2-0.2 1.5-0.3 1.4M50.4 381.1l1.0-0.7 0.7-1.0 1.1-0.5 0.6-1.0 0.6-1.0 0.2-1.2 0.0-1.2 0.8-0.9M57.0 383.1l1.3 0.4 1.4 0.1 1.4 0.1 1.4-0.1 1.2-0.5 1.4 0.0 1.0 0.9 0.6 1.2M88.4 398.0l0.5-0.7 0.5-0.7 0.1-0.8 0.5-0.7-0.0-0.8 0.0-0.8-0.1-0.8-0.1-0.8M92.1 391.3l0.3 1.3-0.4 1.2 0.0 1.3-0.5 1.2-0.2 1.3-0.3 1.3-0.2 1.3-0.8 1.0M46.9 395.6l-1.0-1.0-1.2-0.7-1.4 0.1-1.4 0.1-1.0 1.0-0.2 1.4-0.1 1.4-0.6 1.3M55.0 401.0l-0.1-1.1 0.6-0.9 0.2-1.1-0.4-1.0-0.6-0.9-0.8-0.8-1.0-0.5-1.1-0.2M59.6 403.1l1.3-0.1 1.3 0.0 1.1-0.7 1.3-0.2 1.2-0.6 1.1-0.8 0.9-1.0 0.5-1.2M42.9 377.1l1.2-0.4 1.3-0.3 1.3 0.1 1.0 0.9 0.8 1.1 1.1 0.8 1.1 0.7 1.0 0.8M51.1 373.1l0.0-1.5 0.6-1.3 0.5-1.4-0.5-1.4-1.0-1.0-1.3-0.6-1.5-0.0-1.4 0.4M67.3 387.4l-1.0 0.0-1.0 0.0-1.0 0.1-1.0 0.2-1.0-0.1-0.9-0.6-1.0-0.2-0.6-0.8M90.8 394.6l1.3 0.0 1.2 0.5 1.3 0.2 1.3 0.0 1.1 0.7 1.2 0.5 1.3-0.1 1.2 0.5M54.0 379.7l-0.8-0.4-0.4-0.8-0.7-0.7-0.9-0.4-0.6-0.7-0.3-0.9-0.1-0.9-0.1-0.9M51.1 394.9l0.7-1.3 1.4-0.6 1.5-0.4 1.4-0.7 1.4-0.7 0.7-1.4 1.4-0.6 1.5-0.1M61.0 360.3l-0.8 0.0-0.8-0.4-0.8-0.0-0.8 0.2-0.6 0.6-0.1 0.8 0.1 0.8-0.0 0.8M47.7 401.4l0.9-0.6 0.6-0.8 0.4-1.0 0.1-1.0-0.6-0.9-0.9-0.6-1.0-0.0-1.0-0.1M72.7 344.5l-1.4 0.5-1.3 0.8-1.5 0.2-1.2 0.9-1.1 1.1-1.4 0.7-1.5 0.5-1.5-0.2M36.3 373.5l0.6-0.7 0.7-0.6 0.9-0.2 0.9-0.1 0.9-0.1 0.9 0.1 0.8 0.4 0.9-0.2M57.4 400.5l0.8-1.1 1.0-0.9 0.5-1.2 1.2-0.7 1.3 0.1 1.0 0.8 1.3 0.5 1.0 0.9M84.0 363.1l-1.0-0.7-1.2-0.2-1.2-0.4-1.1-0.6-0.4-1.2-0.4-1.2-0.2-1.2 0.5-1.1M82.0 393.5l-0.7-1.0-0.5-1.1 0.1-1.1 0.6-1.0 1.0-0.6 0.9-0.7 0.6-1.0 0.8-0.8M46.5 350.4l-1.2 0.1-1.1 0.6-1.2 0.1-1.2 0.1-1.2 0.1-1.1-0.5-1.2-0.1-1.2-0.0M53.7 349.1l1.0 0.1 0.9 0.2 0.9-0.3 1.0 0.1 0.9-0.2 0.8-0.5 0.9-0.2 1.0-0.1M26.7 398.9l-0.5-1.3-1.1-0.8-1.2-0.5-1.3-0.3-1.3-0.4-1.1-0.8-1.3-0.2-1.2 0.6M21.4 373.1l0.6 1.2 0.6 1.2 0.7 1.1 0.4 1.3 1.1 0.7 1.3 0.2 1.0 0.9 1.2 0.7M30.5 363.2l-0.9 1.1-0.3 1.4 0.1 1.4-0.3 1.4-0.9 1.1-0.2 1.4 0.5 1.3 0.7 1.2M29.2 373.6l0.5 0.8 0.4 0.9-0.0 0.9 0.2 0.9-0.0 0.9 0.5 0.8 0.8 0.5 0.7 0.6M23.8 399.5l1.1-0.7 1.1-0.6 1.2-0.3 1.3-0.2 1.2-0.4 1.1-0.7 0.4-1.2 0.7-1.1M36.0 351.2l-0.8-0.9-0.4-1.2-0.1-1.3-0.8-1.0-1.2-0.5-0.8-1.0-0.7-1.0-0.9-0.8M26.3 374.4l0.8 0.6 0.4 0.9 0.8 0.6 0.9 0.3 1.0-0.1 1.0 0.1 0.9-0.3 1.0-0.1M54.0 354.2l0.4 1.2-0.4 1.2-0.6 1.1-1.2 0.6-1.3 0.2-1.2 0.6-1.0 0.8-0.5 1.2M84.2 372.0l0.3 0.9-0.3 0.9 0.0 1.0-0.4 0.9 0.2 0.9-0.2 0.9 0.2 0.9-0.3 0.9M17.1 369.6l0.0 0.9 0.3 0.9 0.4 0.9-0.2 0.9-0.7 0.7-0.9 0.2-0.9-0.1-0.9 0.3M65.2 347.5l-0.0 1.1 0.0 1.1-0.2 1.1 0.0 1.1 0.6 0.9 0.0 1.1 0.2 1.1-0.2 1.1M70.1 365.2l0.3-0.9 0.4-0.9 0.8-0.6 1.0 0.1 0.9 0.2 0.9-0.2 0.9-0.4 0.7-0.7M32.5 348.0l0.7-1.2 0.9-1.0 0.9-1.0 1.1-0.8 1.3-0.4 1.1-0.7 1.3-0.3 1.3-0.3M37.0 364.4l0.3-0.8 0.8-0.5 0.6-0.7 0.8-0.5 0.4-0.8 0.8-0.5 0.4-0.8 0.5-0.7M70.6 399.7l0.2-0.8 0.2-0.8-0.3-0.8-0.1-0.8-0.5-0.7-0.2-0.8-0.3-0.8-0.7-0.5M77.3 363.0l-0.8-0.8-0.9-0.8-1.1-0.1-0.8-0.8-0.8-0.8-1.0-0.6-0.9-0.8-1.1-0.2M91.9 346.7l-0.1 1.0-0.4 0.9-0.9 0.5-0.6 0.8-0.1 1.0 0.0 1.0 0.0 1.0-0.6 0.8M78.5 364.8l-1.0-0.4-1.0-0.3-1.0-0.3-1.0-0.2-1.1 0.1-0.9 0.6-0.6 0.9-0.7 0.8M40.0 359.3l1.4 0.6 1.4 0.5 1.1 1.0 0.9 1.2 0.2 1.5 0.7 1.3 1.3 0.8 1.3 0.8M40.5 350.0l-0.9-1.0-0.0-1.3-0.4-1.3 0.5-1.3 0.4-1.3 0.0-1.3 0.6-1.2-0.0-1.3M57.9 365.3l1.6-0.4 1.6 0.0 1.3 0.9 0.5 1.5-0.4 1.5 0.4 1.6 0.9 1.3 0.2 1.6M82.2 387.9l0.9-0.1 0.8-0.5 0.9 0.0 0.8 0.5 0.6 0.7 0.8 0.5 0.8 0.4 0.9 0.2M29.1 383.7l1.1 1.1 1.5 0.4 1.6-0.0 1.4-0.8 1.6-0.0 1.6-0.3 1.6 0.1 1.4 0.7M22.0 402.3l-0.9-0.9-0.6-1.2 0.1-1.3-0.5-1.2-0.9-0.9-1.1-0.7-0.6-1.1-0.6-1.1M67.1 352.1l1.0-0.4 0.8-0.8 1.1-0.3 1.0-0.4 0.7-0.9-0.0-1.1-0.7-0.9-0.5-1.0M90.8 384.7l-0.5-0.7-0.8-0.3-0.6-0.6-0.8-0.1-0.8 0.3-0.6 0.6-0.8 0.2-0.8-0.2M69.6 389.6l0.4-1.5-0.1-1.5-0.7-1.3-0.9-1.2-1.4-0.7-1.5 0.1-1.4 0.6-1.2 0.9M92.9 345.8l-0.1 0.8-0.1 0.8 0.3 0.8 0.3 0.8-0.3 0.8-0.1 0.8-0.6 0.6-0.4 0.7M46.3 384.6l-1.4-0.3-1.3-0.7-0.7-1.3-0.1-1.5 0.3-1.4 0.3-1.4 0.5-1.4 1.0-1.0M92.8 404.8l1.3-0.6 1.4-0.1 1.0-1.0 1.1-0.9 0.5-1.3 0.8-1.2 0.2-1.4 1.0-1.0M71.1 347.6l0.1 0.8-0.4 0.7-0.3 0.8-0.7 0.5-0.6 0.6-0.7 0.5-0.5 0.7-0.3 0.8M34.2 404.4l-0.7 0.6-0.9 0.2-0.9 0.1-0.8-0.5-0.9-0.4-0.9-0.0-0.8 0.4-0.8 0.4M45.3 396.5l-0.5 0.6-0.1 0.8-0.6 0.6-0.4 0.7-0.6 0.6-0.7 0.4-0.8 0.2-0.5 0.6M60.0 378.1l-0.0 1.2-0.3 1.1 0.2 1.1 0.8 0.9 0.3 1.1 0.4 1.1 0.0 1.2-0.3 1.1M51.4 352.1l0.5 1.2 0.5 1.2-0.1 1.3 0.2 1.3-0.2 1.3-0.1 1.3-0.9 0.9-0.7 1.1M52.1 357.7l-0.4 1.5-0.3 1.6-0.2 1.6 0.5 1.5-0.2 1.6 0.8 1.4 0.9 1.3 0.4 1.6M44.7 373.2l0.5-1.4 0.7-1.3 1.3-0.7 1.4 0.2 1.4-0.2 1.3-0.6 1.3-0.6 1.0-1.0M75.4 376.9l-0.3 0.8-0.5 0.6-0.1 0.8-0.3 0.8-0.2 0.8 0.3 0.8-0.2 0.8 0.1 0.8M34.4 365.0l0.2 1.5 0.1 1.5-0.1 1.5 0.9 1.3 0.8 1.3 1.4 0.6 0.8 1.3-0.0 1.5M66.2 381.5l1.3 0.4 1.1 0.8 1.3 0.5 1.3 0.4 1.0 0.9 1.1 0.9 0.5 1.3 1.0 0.9M41.3 397.7l1.1-0.3 1.2-0.1 1.1 0.3 1.1 0.3 0.7 0.9 0.5 1.0 0.5 1.1-0.3 1.1M80.5 380.4l0.2-1.0 0.1-1.0 0.7-0.8 1.0-0.4 0.8-0.6 0.7-0.8 0.1-1.0 0.4-1.0M32.9 373.8l1.3-0.5 0.9-1.1 0.2-1.4-0.1-1.4 0.8-1.2 0.9-1.1 1.3-0.6 1.4-0.3M16.7 349.2l0.2-1.1 0.8-0.8 1.0-0.4 1.1-0.0 0.9 0.7 0.6 0.9 0.1 1.1-0.2 1.1M42.2 373.5l1.4 0.3 1.3 0.7 1.2 0.8 1.0 1.0 1.4 0.3 1.4 0.3 1.4-0.5 1.0-1.1M77.3 377.8l0.9 0.1 0.7 0.5 0.8 0.4 0.9-0.1 0.9-0.3 0.9-0.2 0.8 0.4 0.5 0.8M93.3 353.1l-0.5 1.0-1.0 0.6-0.4 1.1-0.7 0.9-0.9 0.7-1.1 0.2-0.7 0.9-0.8 0.8M26.4 384.0l0.0-0.8 0.3-0.8 0.6-0.6 0.5-0.6 0.8-0.3 0.8-0.0 0.7 0.4 0.4 0.7M57.4 401.9l0.5 1.0 0.9 0.7 1.1-0.1 1.1-0.0 1.1-0.1 0.9 0.6 0.6 0.9 0.1 1.1M84.0 402.2l-0.9-0.3-0.8-0.6-0.3-0.9 0.1-1.0 0.1-1.0-0.3-0.9 0.4-0.9 0.6-0.8M36.5 394.7l1.2 1.0 0.8 1.3 0.9 1.3 0.8 1.3 1.4 0.7 1.5 0.2 1.5 0.3 1.1 1.1M64.2 389.3l-0.8-0.5-0.9-0.1-0.9-0.1-0.9-0.1-0.9 0.2-0.9-0.3-0.8-0.5-0.9-0.3M59.9 377.6l-0.8 0.3-0.5 0.7-0.8 0.3-0.7 0.5-0.8 0.4-0.6 0.6-0.7 0.6-0.8 0.3M37.3 360.4l0.3 0.9 0.2 1.0 0.1 1.0-0.0 1.0 0.4 0.9 0.8 0.6 0.2 1.0 0.4 0.9M33.7 363.3l-0.5 0.7 0.0 0.8-0.4 0.7-0.7 0.4-0.2 0.8-0.6 0.5-0.8 0.3-0.5 0.6M47.5 364.4l-1.3 0.1-1.2 0.6-0.7 1.1-1.2 0.5-1.3 0.0-1.0 0.8-0.5 1.2-0.6 1.1M29.8 347.8l-0.2-0.8-0.4-0.7-0.3-0.8-0.6-0.6-0.7-0.3-0.5-0.6-0.6-0.5-0.6-0.6M74.6 369.1l-0.8 1.0-1.0 0.9-0.6 1.1-0.1 1.3-0.7 1.1-0.3 1.2 0.5 1.2 0.1 1.3M51.3 361.0l0.8-0.8 0.4-1.0-0.1-1.1 0.1-1.1-0.4-1.0 0.0-1.1-0.3-1.1 0.0-1.1M72.7 360.4l-0.9 0.6-1.0 0.5-1.0 0.5-0.7 0.8-0.9 0.5-0.7 0.8-0.1 1.1-0.1 1.1M58.6 354.8l-1.0 0.1-0.9 0.4-1.0 0.1-0.8 0.6-0.7 0.8-0.0 1.0-0.1 1.0-0.3 1.0M56.4 403.3l0.1-1.3 0.1-1.3 0.5-1.3-0.3-1.3 0.1-1.3 0.2-1.3-0.7-1.2-1.2-0.6M59.6 387.1l0.0 1.1 0.0 1.1 0.6 0.9 0.1 1.1-0.2 1.1 0.1 1.1 0.2 1.1-0.1 1.1M84.6 348.2l-1.0 0.3-1.0 0.3-1.0-0.1-1.0 0.3-1.0-0.4-1.0-0.1-0.7-0.7-1.0-0.2M37.9 367.2l-1.1 0.1-1.1-0.3-1.0-0.4-0.9-0.6-0.8-0.7-1.1-0.2-1.0 0.3-1.0 0.4M17.1 344.0l-0.7-0.8-0.5-1.0-0.9-0.5-0.6-0.9-0.6-0.9-0.3-1.0-0.2-1.1-0.6-0.9M76.2 369.7l1.0-1.1 1.0-1.0 1.1-0.9 0.3-1.4 0.7-1.2 0.3-1.4 0.5-1.3 0.3-1.4M61.0 394.8l-0.8 0.0-0.8-0.0-0.8-0.1-0.7-0.4-0.8 0.0-0.8 0.2-0.8-0.3-0.6-0.6M62.6 404.0l-1.3-0.8-1.3-0.8-1.3-0.8-0.8-1.3-1.4-0.6-1.3-0.8-1.5-0.4-1.5-0.3M65.8 372.6l0.1-1.5-0.6-1.4-0.9-1.2-0.1-1.5-0.6-1.3-1.0-1.1-1.3-0.7-1.5-0.1M27.4 375.0l-1.2 0.9-1.2 0.8-1.2 0.8-0.6 1.3-1.2 0.8-0.6 1.3 0.1 1.4 0.3 1.4M93.4 349.3l0.4-1.0 0.4-1.0 0.9-0.6 0.5-1.0 1.0-0.5 0.7-0.8 1.0-0.5 0.9-0.6M70.1 371.2l0.7-0.7 0.6-0.8 0.7-0.7 0.7-0.7 0.8-0.5 0.9-0.3 0.9-0.5 0.9-0.3M33.4 381.9l-0.8 0.2-0.8-0.2-0.8-0.2-0.8 0.3-0.8 0.2-0.6 0.6-0.4 0.8-0.2 0.8M53.7 395.0l0.9 0.2 0.9 0.2 0.9 0.3 0.6 0.6 0.9 0.1 0.9 0.2 0.6 0.7 0.7 0.6M47.0 388.7l-0.8-0.6-0.8-0.5-0.8-0.5-0.9-0.2-1.0-0.2-0.7-0.6-0.6-0.8-0.6-0.8M68.5 359.8l-0.6-1.4-0.4-1.5 0.1-1.5-0.0-1.5 0.4-1.5 1.2-1.0 1.5-0.2 1.5-0.2M29.9 386.1l-1.5 0.5-1.3 0.9-1.6 0.1-1.3-0.8-1.0-1.2-1.2-1.1-0.5-1.5 0.3-1.5M39.2 377.8l1.4 0.4 1.4 0.4 1.4 0.3 1.3-0.6 1.5 0.1 1.2-0.8 0.5-1.4-0.0-1.5M53.1 372.7l-0.1-1.0 0.3-0.9 0.7-0.7 0.7-0.7 0.9-0.4 1.0 0.2 0.9 0.4 0.6 0.8M63.2 360.7l-1.2-0.6-1.3-0.5-1.0-1.0-1.3-0.4-1.3-0.4-0.8-1.1-1.1-0.9-1.4-0.1M78.1 344.9l0.0-1.0-0.5-0.9-0.9-0.4-0.9-0.4-1.0 0.2-0.8 0.6-1.0 0.1-1.0 0.2M20.2 343.9l0.3 1.2 0.7 1.0 0.9 0.8 0.9 0.8 0.2 1.2 0.4 1.2-0.2 1.2-0.6 1.1M78.2 373.4l-0.1-1.6-1.1-1.2-0.3-1.6-0.1-1.6 0.7-1.4 0.8-1.4 0.6-1.5 0.4-1.5M38.3 351.7l0.1-1.0 0.4-0.9 0.5-0.8 0.9-0.3 0.9-0.5 1.0 0.1 0.7 0.7 0.5 0.8M83.7 348.4l-0.2 1.4-0.7 1.2-0.2 1.4-0.0 1.4 0.2 1.4 1.0 1.0 1.2 0.7 1.2 0.7M28.2 400.9l0.3-1.0-0.2-1.0 0.4-1.0 0.4-1.0 0.9-0.5 1.0-0.4 1.0-0.4 0.8-0.6M87.9 370.5l-0.4 0.9 0.2 1.0-0.4 0.9-0.7 0.7-0.5 0.9-0.8 0.6-0.7 0.7-0.9 0.4M22.1 361.9l1.0 0.5 1.1-0.3 1.1-0.4 1.1 0.4 0.7 0.9 0.1 1.1-0.5 1.0-0.8 0.8M23.5 374.5l-0.2 0.9-0.3 0.8 0.3 0.8 0.6 0.6 0.6 0.6 0.6 0.6 0.5 0.7 0.1 0.9M77.0 388.8l1.2-0.7 0.7-1.2 1.1-0.8 1.3-0.2 1.2-0.7 1.0-0.8 0.4-1.3 0.7-1.1M85.8 364.2l0.4 1.1 0.7 0.9 0.6 1.0 0.9 0.8 0.5 1.0 0.9 0.7 0.9 0.7 1.1 0.2M48.1 362.6l1.3 0.5 1.4-0.2 1.0-1.0 1.0-1.0 1.1-0.9 1.4-0.3 1.3-0.6 0.9-1.1M28.0 378.5l0.7-0.5 0.9 0.0 0.8 0.2 0.9 0.1 0.8 0.3 0.4 0.7 0.8 0.4 0.7 0.5M37.6 346.1l1.3 0.5 1.3 0.1 1.2 0.7 1.2 0.6 1.2 0.6 1.3 0.4 1.0 0.9 1.2 0.6M40.4 370.6l-1.2 0.4-0.7 1.0-0.2 1.2 0.4 1.2 0.3 1.2-0.4 1.2-1.0 0.7-1.2 0.4M58.1 345.5l-1.0-0.2-0.8-0.6-0.8-0.7-0.7-0.7-0.7-0.8-0.9-0.4-0.8-0.6-0.9-0.5M67.3 349.6l0.2-1.3 0.8-1.0 0.1-1.3-0.2-1.3-0.3-1.2-0.7-1.0-0.4-1.2-0.9-0.9M85.5 401.1l0.6 1.1 1.1 0.7 1.3 0.2 1.3 0.3 1.3 0.3 0.8 1.0 1.1 0.7 1.1 0.7M85.7 398.6l-1.4-0.3-1.4 0.1-1.3 0.3-0.8 1.1-0.6 1.3-0.2 1.4-0.6 1.2 0.3 1.4M47.3 402.7l0.1-1.4 0.2-1.4 1.0-1.0 0.5-1.3 0.9-1.1 0.3-1.4-0.1-1.4-0.8-1.2M82.6 345.2l-0.7-1.2-0.1-1.4-0.3-1.4 0.3-1.4-0.4-1.3-1.1-0.9-0.6-1.3-1.1-0.9M37.0 360.2l0.4-0.8 0.1-0.8 0.2-0.8 0.6-0.6 0.7-0.5 0.7-0.5 0.7-0.4 0.8-0.2M58.8 393.6l-0.7-0.9-0.6-1.0 0.0-1.1 0.5-1.0 0.6-1.0 0.5-1.0 1.0-0.6 1.1-0.2M89.9 383.9l-0.9 0.7-0.4 1.1-0.6 1.0 0.1 1.2 0.8 0.9 0.6 1.0 1.0 0.6 0.6 1.0M52.1 348.8l0.3-0.8-0.1-0.8-0.1-0.8 0.2-0.8 0.3-0.7 0.1-0.8 0.2-0.8-0.1-0.8"/>
<path fill="none" stroke="#262626" stroke-width="0.45" d="M17.9 354.3l1.3-0.5 1.4 0.3 1.2 0.7 1.1 0.8 1.4 0.2 1.4-0.3M50.0 358.5l0.4 1.4 1.1 0.9 0.6 1.3 1.1 0.9 1.4 0.0 1.2-0.8M83.0 383.3l-0.8-0.9-1.2-0.3-1.2 0.1-1.1-0.5-1.2 0.1-1.1 0.5M16.2 397.2l0.8-0.5 0.5-0.8 0.3-0.9 0.8-0.6 1.0-0.0 0.9-0.3M22.4 404.3l-0.9-0.3-0.8-0.5-0.4-0.9 0.1-1.0 0.5-0.8 0.8-0.6M17.4 400.1l0.5 1.0-0.1 1.1-0.8 0.8-0.2 1.1 0.2 1.1 0.2 1.1M27.9 357.5l0.1 1.0 0.2 1.0 0.2 1.0-0.5 0.9-0.6 0.8-0.7 0.7M36.4 365.3l0.3 1.2 0.7 1.0 0.9 0.8 0.9 0.8 0.9 0.8 0.7 0.9M19.4 401.3l-0.8 1.1-1.1 0.8-1.1 0.8-1.3 0.3-1.1 0.8-0.6 1.2M72.2 375.6l-1.0-0.4-1.1-0.1-1.0-0.3-0.7-0.9-0.8-0.7-0.8-0.7M42.3 403.0l-1.1-0.5-0.5-1.1 0.2-1.2 0.6-1.1 0.9-0.8 0.9-0.8M88.8 347.5l-1.3-0.3-1.3-0.5-1.4-0.2-1.4 0.0-1.3-0.5-1.4 0.2M33.4 345.6l-0.8 0.0-0.8 0.2-0.7 0.3-0.8 0.1-0.8 0.1-0.7 0.4M58.5 401.7l1.0-0.4 1.0 0.2 1.1-0.1 1.0-0.4 1.0 0.2 0.8 0.7M20.7 386.0l-0.9 0.2-0.9-0.1-0.9 0.3-0.9 0.2-0.8-0.4-0.5-0.8M39.5 358.3l0.3-1.5 0.3-1.5-0.6-1.4 0.0-1.6 0.0-1.6 0.5-1.5M72.1 373.8l-1.5-0.4-1.1-1.1-0.4-1.5 0.4-1.5 1.3-0.9 1.4-0.6M35.0 376.3l-1.3 0.4-1.3 0.2-1.3-0.3-1.1-0.7-1.3-0.2-1.3-0.5M32.6 399.7l0.8 0.4 0.6 0.6 0.9 0.2 0.8 0.2 0.6 0.7 0.6 0.6M19.0 345.0l1.3 0.3 1.2-0.5 1.3 0.3 0.9 1.0 0.1 1.3 0.1 1.3M56.3 398.9l-0.2 1.3-0.9 1.0-1.3 0.4-1.2 0.6-1.0 0.9-1.2 0.7M45.2 382.7l1.2-0.1 1.1 0.4 1.2-0.2 1.0-0.7 0.9-0.8 0.3-1.2M87.3 355.8l-1.5 0.4-1.0 1.2-1.5 0.4-1.5-0.4-1.5-0.5-1.5-0.2M59.5 402.6l0.1 1.0 0.4 0.9 0.3 0.9 0.5 0.9-0.0 1.0-0.4 0.9M60.0 367.6l-0.8-0.3-0.8-0.3-0.5-0.7-0.4-0.7-0.8-0.3-0.5-0.6M79.5 402.4l-1.2-0.9-0.7-1.4-1.3-0.7-0.8-1.3 0.2-1.5 0.3-1.5M49.4 346.1l-1.1-0.2-1.1-0.1-1.1 0.4-1.1 0.1-1.1 0.1-1.0 0.5M28.0 344.5l-0.1-1.2 0.6-1.0 0.3-1.1 0.5-1.1 0.3-1.1 0.3-1.1M84.1 352.3l0.9 1.0 0.9 1.1 0.7 1.1 1.1 0.7 1.1 0.8 1.2 0.7M34.4 384.0l1.1 0.3 1.2-0.1 1.2 0.0 1.2 0.1 1.2-0.1 1.2 0.2M41.2 400.2l-1.3-0.8-1.2-1.0-1.4-0.7-0.7-1.4-1.4-0.7-0.9-1.3M48.3 385.6l-0.3 1.0-0.6 0.9-0.5 1.0-0.8 0.7-0.7 0.8-1.0 0.3M49.2 349.9l-1.0 0.5-1.0 0.4-1.0 0.4-1.1 0.1-1.0 0.5-1.1 0.3M69.0 391.9l-1.0 0.0-0.9-0.4-1.0-0.1-1.0 0.2-1.0-0.1-0.9-0.3M28.1 346.0l-1.1 0.3-1.1-0.3-1.0 0.4-0.9 0.7-0.6 0.9-0.3 1.1M48.9 356.2l-0.6 0.9-0.6 0.8-0.9 0.6-1.0-0.0-0.9 0.5-0.6 0.8M86.0 404.2l0.8-1.2 0.8-1.2 1.3-0.6 1.4 0.2 1.2 0.9 0.5 1.3M22.9 380.9l0.2-0.9 0.5-0.7 0.3-0.8 0.7-0.5 0.9-0.1 0.9-0.2M44.6 383.2l1.0-0.7 1.1-0.7 0.7-1.0 1.0-0.7 0.9-0.9 1.2-0.3M28.8 367.6l-1.2 0.0-1.2-0.3-1.2-0.4-0.7-1.0-0.1-1.2-0.7-1.0M18.7 352.0l-0.3 1.1-0.4 1.0-0.6 0.9 0.0 1.1-0.3 1.1-0.9 0.7M69.2 363.7l-1.6 0.0-1.2-1.0-0.6-1.5-1.2-1.1-1.6-0.2-1.6-0.1M21.1 359.8l-1.5-0.2-1.5 0.1-1.3 0.8-1.4 0.6-1.0 1.1-1.5 0.4M38.3 397.3l0.8 0.1 0.7-0.5 0.8 0.0 0.8 0.1 0.6-0.5 0.8-0.2M34.9 374.2l-0.9-0.9-1.2-0.4-0.8-1.0-1.2-0.5-1.3 0.2-1.3-0.1M48.7 397.8l1.1-0.5 0.7-1.0 1.0-0.6 1.1-0.2 0.9-0.8 1.0-0.6M79.2 381.0l-0.2 1.3 0.6 1.2 1.1 0.8 0.6 1.2 1.0 0.8 0.6 1.2M19.6 392.2l0.7-0.8 0.6-0.9 0.9-0.7 0.3-1.1 0.8-0.8 1.1-0.3M19.9 381.5l-0.3 1.2 0.1 1.2-0.4 1.2-0.4 1.2-0.8 0.9-1.0 0.7M87.7 367.5l-0.4 0.9 0.2 0.9-0.3 0.9-0.7 0.6-1.0 0.2-0.9 0.3M80.3 350.0l-0.3-0.8 0.2-0.9 0.6-0.7 0.8-0.5 0.4-0.8 0.6-0.6M69.8 395.8l0.2 1.0 0.1 1.0 0.7 0.8 0.8 0.6 0.9 0.5 1.0 0.2M35.9 372.1l1.1-0.1 1.0 0.3 0.9 0.5 0.6 0.9 0.8 0.7 0.3 1.0M29.7 401.4l-0.6-0.8-0.9-0.3-1.0 0.1-1.0-0.0-0.9-0.2-1.0 0.1M48.4 346.0l1.1-0.2 1.0-0.3 1.1-0.2 1.1-0.1 1.1 0.2 1.1 0.3M91.9 387.1l0.5 0.9 0.6 0.8 0.4 0.9 0.4 0.9 0.2 1.0 0.3 1.0M21.6 389.4l0.7-0.6 0.9-0.3 0.8-0.5 0.5-0.8 0.4-0.9 0.8-0.4M50.9 347.9l-0.0 1.3-0.2 1.3 0.5 1.2 1.2 0.6 1.1 0.6 0.6 1.2M19.8 352.0l-0.3 0.8 0.0 0.8 0.4 0.7 0.1 0.8-0.5 0.7-0.8 0.3M26.1 375.9l1.0 0.3 1.0-0.3 1.0-0.2 0.9-0.5 0.9-0.5 1.0-0.5M23.5 364.6l-0.5-1.4-1.2-0.9-0.6-1.3-0.7-1.3-0.4-1.4-0.7-1.3M80.2 366.8l0.8-0.7 0.4-1.0-0.0-1.1 0.6-0.9 0.2-1.1 0.4-1.0M30.5 357.0l-1.4-0.6-1.4-0.6-1.0-1.1-1.3-0.8-1.1-1.0-1.3-0.9M48.5 374.5l-0.6-1.0-0.8-0.8-0.6-1.0-0.3-1.1-0.3-1.1-0.3-1.1M58.5 395.1l-1.1 0.4-0.6 1.0-0.2 1.1 0.6 1.0-0.1 1.1-0.2 1.1M38.4 357.1l0.5 0.7 0.6 0.7 0.9 0.2 0.8 0.4 0.9-0.2 0.8-0.5M72.5 382.9l-0.6 0.6-0.5 0.7-0.8 0.3-0.8 0.3-0.8-0.0-0.7-0.5M85.6 383.3l-0.7-1.4-0.1-1.6-0.4-1.5-1.3-0.9-1.2-1.0-0.7-1.4M67.2 383.6l1.1-0.4 1.1-0.4 0.9-0.8 0.5-1.1-0.2-1.2 0.0-1.2M54.1 359.4l-0.1 0.9-0.6 0.7-0.9 0.3-0.9-0.3-0.9 0.2-0.9 0.3M54.8 365.1l-0.3-1.5 0.4-1.4 0.0-1.5 1.0-1.1 0.4-1.4 0.2-1.5M33.1 347.8l0.8-0.3 0.5-0.7-0.1-0.9-0.6-0.7-0.8-0.4-0.5-0.8M86.8 353.1l-1.1 0.1-0.9-0.6-0.6-0.9-0.2-1.1-0.2-1.1-0.1-1.1M84.1 356.9l-1.6 0.0-1.5-0.5-1.1-1.2-1.2-1.0-1.4-0.8-0.6-1.5M44.5 400.6l-0.3-1.5-0.7-1.3-1.0-1.1-0.4-1.5-0.2-1.5 0.7-1.4M59.9 367.9l0.6 0.8 0.9 0.5 0.5 0.9 0.1 1.1 0.7 0.8 0.1 1.1M81.6 361.9l-1.2-0.3-1.2-0.1-1.2-0.2-1.0-0.7-1.1-0.5-1.2 0.3M29.5 373.9l0.4 1.1 0.7 0.9 1.0 0.6 1.2 0.2 1.1 0.4 1.2-0.1M63.9 389.8l-0.5 0.9-1.0 0.4-1.0 0.1-1.0-0.4-0.6-0.8-0.4-1.0M44.1 349.7l-0.4-1.5-1.0-1.1-1.3-0.8-1.5-0.2-1.5-0.4-1.5-0.3"/>
<path d="M24,346 C27,362 31,380 37,402" stroke="#f4f4f2" stroke-width="6.5" fill="none"/>
<path d="M20.5,346 C22.5,362 26.5,380 31.5,402" stroke="#999" stroke-width="0.5" fill="none"/>
</g>
<clipPath id="cY0"><rect x="110.0" y="223.0" width="75.0" height="56.30000000000001"/></clipPath>
<g clip-path="url(#cY0)">
<rect x="152.8" y="258.6" width="0.8" height="0.9" fill="#bbb"/>
<rect x="150.0" y="252.7" width="1.2" height="0.7" fill="#bbb"/>
<rect x="143.4" y="276.1" width="0.6" height="0.6" fill="#b8e2da"/>
<rect x="147.2" y="226.0" width="1.1" height="0.6" fill="#cfe6de"/>
<rect x="134.0" y="266.1" width="0.5" height="0.4" fill="#d5e9c8"/>
<rect x="183.5" y="239.0" width="1.2" height="0.4" fill="#d5e9c8"/>
<rect x="137.4" y="259.8" width="0.8" height="0.6" fill="#d5e9c8"/>
<rect x="136.5" y="260.1" width="0.7" height="0.8" fill="#cfe6de"/>
<rect x="175.9" y="243.5" width="0.5" height="0.5" fill="#b8e2da"/>
<rect x="170.6" y="223.2" width="0.6" height="0.5" fill="#cfe6de"/>
<rect x="124.5" y="259.8" width="0.9" height="0.9" fill="#cfe6de"/>
<rect x="154.2" y="248.6" width="0.8" height="0.4" fill="#bbb"/>
<rect x="138.5" y="265.7" width="0.5" height="0.9" fill="#bbb"/>
<rect x="111.1" y="253.5" width="1.0" height="0.9" fill="#cfe6de"/>
<rect x="173.3" y="271.6" width="1.0" height="0.7" fill="#cfe6de"/>
<rect x="161.8" y="272.9" width="0.8" height="0.7" fill="#bbb"/>
<rect x="148.0" y="237.7" width="0.7" height="0.9" fill="#cfe6de"/>
<rect x="133.8" y="276.9" width="0.5" height="0.5" fill="#d5e9c8"/>
<rect x="163.4" y="258.0" width="1.1" height="0.5" fill="#bbb"/>
<rect x="164.3" y="242.9" width="0.7" height="0.9" fill="#cfe6de"/>
<rect x="179.4" y="271.9" width="1.1" height="0.8" fill="#b8e2da"/>
<rect x="164.1" y="235.8" width="1.0" height="0.9" fill="#b8e2da"/>
<rect x="115.9" y="229.6" width="0.6" height="0.8" fill="#d5e9c8"/>
<rect x="114.8" y="261.3" width="0.9" height="1.0" fill="#b8e2da"/>
<rect x="161.0" y="223.4" width="0.7" height="0.9" fill="#d5e9c8"/>
<rect x="171.0" y="230.8" width="1.0" height="0.8" fill="#b8e2da"/>
<rect x="125.7" y="254.3" width="0.7" height="0.5" fill="#b8e2da"/>
<rect x="176.9" y="251.1" width="1.2" height="0.9" fill="#bbb"/>
<rect x="172.7" y="223.9" width="0.8" height="0.6" fill="#b8e2da"/>
<rect x="134.7" y="252.5" width="0.5" height="0.6" fill="#bbb"/>
<rect x="166.4" y="238.3" width="0.8" height="0.9" fill="#b8e2da"/>
<rect x="129.4" y="232.8" width="0.5" height="0.7" fill="#d5e9c8"/>
<rect x="144.8" y="241.2" width="0.4" height="0.4" fill="#d5e9c8"/>
<rect x="121.2" y="233.5" width="0.6" height="0.8" fill="#bbb"/>
<rect x="171.2" y="250.9" width="0.9" height="1.0" fill="#cfe6de"/>
<rect x="130.2" y="265.9" width="0.5" height="1.0" fill="#bbb"/>
<rect x="135.9" y="229.6" width="0.9" height="1.0" fill="#d5e9c8"/>
<rect x="134.9" y="268.6" width="1.1" height="0.8" fill="#b8e2da"/>
<rect x="119.7" y="232.0" width="0.9" height="0.9" fill="#cfe6de"/>
<rect x="173.4" y="251.0" width="1.1" height="0.9" fill="#d5e9c8"/>
<rect x="174.3" y="262.9" width="1.0" height="0.9" fill="#bbb"/>
<rect x="157.0" y="236.2" width="1.0" height="0.7" fill="#cfe6de"/>
<rect x="140.0" y="228.6" width="0.5" height="0.5" fill="#cfe6de"/>
<rect x="112.5" y="232.2" width="0.7" height="0.9" fill="#cfe6de"/>
<rect x="172.6" y="230.4" width="0.5" height="0.5" fill="#d5e9c8"/>
<rect x="149.2" y="273.9" width="1.0" height="0.6" fill="#b8e2da"/>
<rect x="117.1" y="254.8" width="0.7" height="0.8" fill="#cfe6de"/>
<rect x="169.3" y="279.0" width="0.6" height="0.9" fill="#cfe6de"/>
<rect x="123.5" y="278.2" width="0.6" height="0.7" fill="#cfe6de"/>
<rect x="178.7" y="236.3" width="0.4" height="0.5" fill="#bbb"/>
<rect x="146.3" y="277.5" width="1.1" height="0.9" fill="#b8e2da"/>
<rect x="170.3" y="234.0" width="0.4" height="1.0" fill="#cfe6de"/>
<rect x="128.9" y="247.4" width="0.7" height="0.5" fill="#bbb"/>
<rect x="112.3" y="240.8" width="0.9" height="1.0" fill="#bbb"/>
<rect x="166.1" y="277.6" width="1.1" height="0.6" fill="#bbb"/>
<rect x="112.2" y="265.7" width="1.0" height="0.9" fill="#d5e9c8"/>
<rect x="112.3" y="263.3" width="1.1" height="0.7" fill="#b8e2da"/>
<rect x="134.0" y="229.1" width="1.0" height="0.6" fill="#bbb"/>
<rect x="182.1" y="256.5" width="1.0" height="0.8" fill="#cfe6de"/>
<rect x="129.4" y="278.6" width="0.7" height="0.8" fill="#b8e2da"/>
<rect x="164.1" y="244.8" width="1.0" height="0.5" fill="#d5e9c8"/>
<rect x="123.3" y="268.6" width="0.7" height="0.9" fill="#bbb"/>
<rect x="131.5" y="260.5" width="0.6" height="0.8" fill="#b8e2da"/>
<rect x="114.8" y="253.1" width="0.5" height="0.5" fill="#bbb"/>
<rect x="147.0" y="230.1" width="0.5" height="0.8" fill="#d5e9c8"/>
<rect x="131.7" y="232.3" width="0.9" height="0.7" fill="#d5e9c8"/>
<rect x="119.3" y="257.5" width="0.5" height="0.7" fill="#d5e9c8"/>
<rect x="130.8" y="257.5" width="1.0" height="0.6" fill="#cfe6de"/>
<rect x="180.5" y="232.8" width="0.5" height="0.4" fill="#b8e2da"/>
<rect x="112.1" y="232.7" width="0.8" height="0.6" fill="#d5e9c8"/>
<rect x="157.2" y="259.5" width="1.0" height="0.8" fill="#d5e9c8"/>
<rect x="180.3" y="257.9" width="0.7" height="0.9" fill="#cfe6de"/>
<rect x="137.4" y="269.7" width="1.1" height="0.9" fill="#b8e2da"/>
<rect x="161.9" y="251.0" width="1.2" height="0.6" fill="#bbb"/>
<rect x="172.3" y="264.6" width="0.6" height="0.5" fill="#d5e9c8"/>
<rect x="118.4" y="254.1" width="1.2" height="0.5" fill="#d5e9c8"/>
<rect x="117.6" y="235.7" width="1.0" height="0.7" fill="#cfe6de"/>
<rect x="161.6" y="243.2" width="0.7" height="0.7" fill="#cfe6de"/>
<rect x="114.8" y="269.0" width="0.9" height="0.5" fill="#d5e9c8"/>
<rect x="128.3" y="278.8" width="0.7" height="0.9" fill="#bbb"/>
<rect x="163.6" y="269.0" width="0.4" height="0.7" fill="#b8e2da"/>
<rect x="135.5" y="270.8" width="1.1" height="0.5" fill="#cfe6de"/>
<rect x="118.5" y="241.8" width="0.5" height="0.8" fill="#d5e9c8"/>
<rect x="133.1" y="237.6" width="0.9" height="0.7" fill="#d5e9c8"/>
<rect x="167.1" y="248.0" width="1.0" height="0.7" fill="#bbb"/>
<rect x="116.0" y="245.5" width="0.7" height="0.8" fill="#cfe6de"/>
<rect x="171.4" y="275.0" width="1.1" height="0.6" fill="#d5e9c8"/>
<rect x="138.3" y="257.8" width="0.6" height="0.6" fill="#b8e2da"/>
<rect x="167.7" y="273.9" width="0.9" height="0.6" fill="#bbb"/>
<rect x="148.6" y="235.4" width="1.0" height="0.7" fill="#b8e2da"/>
<rect x="174.0" y="252.1" width="0.9" height="0.9" fill="#bbb"/>
<rect x="175.6" y="255.8" width="1.0" height="1.0" fill="#d5e9c8"/>
<rect x="111.5" y="276.0" width="1.2" height="0.9" fill="#cfe6de"/>
<rect x="140.2" y="233.5" width="1.1" height="0.9" fill="#cfe6de"/>
<rect x="138.0" y="261.1" width="1.1" height="0.7" fill="#cfe6de"/>
<rect x="120.2" y="243.4" width="0.6" height="0.9" fill="#bbb"/>
<rect x="143.0" y="241.0" width="1.0" height="1.0" fill="#b8e2da"/>
<rect x="134.9" y="237.4" width="0.6" height="0.7" fill="#d5e9c8"/>
<rect x="183.4" y="230.5" width="1.1" height="0.8" fill="#cfe6de"/>
<rect x="114.1" y="251.1" width="0.6" height="1.0" fill="#b8e2da"/>
<rect x="168.5" y="230.4" width="1.1" height="0.7" fill="#bbb"/>
<rect x="112.2" y="267.2" width="1.0" height="0.4" fill="#b8e2da"/>
<rect x="146.0" y="268.5" width="0.5" height="0.6" fill="#bbb"/>
<rect x="144.1" y="248.9" width="0.4" height="0.8" fill="#b8e2da"/>
<rect x="120.3" y="271.7" width="1.1" height="1.0" fill="#cfe6de"/>
<rect x="122.7" y="226.6" width="0.5" height="0.7" fill="#cfe6de"/>
<rect x="152.4" y="277.1" width="0.8" height="0.9" fill="#bbb"/>
<rect x="182.4" y="264.5" width="0.5" height="0.8" fill="#cfe6de"/>
<rect x="124.6" y="247.0" width="1.2" height="0.8" fill="#bbb"/>
<rect x="138.8" y="254.6" width="0.8" height="0.6" fill="#bbb"/>
<rect x="183.7" y="245.4" width="0.4" height="0.8" fill="#b8e2da"/>
<rect x="117.4" y="231.6" width="0.7" height="0.9" fill="#cfe6de"/>
<rect x="130.9" y="242.4" width="1.1" height="1.0" fill="#b8e2da"/>
<rect x="118.6" y="226.9" width="0.7" height="0.5" fill="#cfe6de"/>
<rect x="116.9" y="241.2" width="1.0" height="0.6" fill="#bbb"/>
<rect x="167.4" y="223.7" width="0.9" height="0.9" fill="#bbb"/>
<rect x="184.4" y="274.6" width="0.5" height="0.7" fill="#d5e9c8"/>
<rect x="154.3" y="252.4" width="0.9" height="0.9" fill="#d5e9c8"/>
<rect x="166.7" y="264.4" width="0.7" height="0.5" fill="#b8e2da"/>
<rect x="173.8" y="272.1" width="1.2" height="0.7" fill="#bbb"/>
<rect x="135.2" y="256.9" width="0.7" height="0.8" fill="#b8e2da"/>
<rect x="181.6" y="244.1" width="0.5" height="0.8" fill="#d5e9c8"/>
<rect x="172.5" y="245.8" width="0.6" height="0.6" fill="#bbb"/>
<rect x="167.0" y="227.5" width="0.4" height="0.5" fill="#d5e9c8"/>
<rect x="166.3" y="228.5" width="1.1" height="0.6" fill="#b8e2da"/>
<rect x="123.6" y="266.6" width="0.5" height="1.0" fill="#cfe6de"/>
<rect x="125.0" y="258.6" width="1.0" height="0.8" fill="#d5e9c8"/>
<rect x="115.7" y="268.0" width="1.0" height="0.6" fill="#d5e9c8"/>
<rect x="132.6" y="255.8" width="1.0" height="0.4" fill="#cfe6de"/>
<rect x="114.8" y="223.2" width="0.9" height="0.4" fill="#d5e9c8"/>
<rect x="129.3" y="279.3" width="1.1" height="0.5" fill="#b8e2da"/>
<rect x="177.0" y="244.5" width="0.7" height="0.9" fill="#b8e2da"/>
<rect x="141.9" y="269.3" width="0.8" height="0.7" fill="#d5e9c8"/>
<rect x="143.7" y="269.5" width="0.6" height="0.4" fill="#bbb"/>
<rect x="114.5" y="254.6" width="0.9" height="1.0" fill="#d5e9c8"/>
<rect x="161.0" y="271.0" width="1.1" height="1.0" fill="#b8e2da"/>
<rect x="146.4" y="224.1" width="1.2" height="0.5" fill="#d5e9c8"/>
<rect x="178.3" y="268.4" width="0.4" height="0.5" fill="#d5e9c8"/>
<rect x="153.2" y="250.8" width="1.0" height="0.4" fill="#bbb"/>
<rect x="164.7" y="275.2" width="1.2" height="0.8" fill="#cfe6de"/>
<path d="M110,249.5 C120,246 130,241 138.5,239.6 C143,240 147,242 150.7,243.4 C157,245.5 162,247.5 166,248 C172,248 178,247 185,247.2" stroke="#7dcfc1" stroke-width="1.3" fill="none"/>
<path d="M158.4,224 C154,229 150,234 146.2,238.8" stroke="#7dcfc1" stroke-width="0.8" fill="none"/>
<path d="M110,256 C125,255 140,254 152,253" stroke="#7dcfc1" stroke-width="0.6" fill="none"/>
<path d="M110,262 C118,258 126,255 134,252" stroke="#7dcfc1" stroke-width="0.5" fill="none"/>
<path d="M115,279 C125,270 135,262 146,256" stroke="#7dcfc1" stroke-width="0.5" fill="none"/>
<path d="M164,255 C166,260 168,265 171,270" stroke="#7dcfc1" stroke-width="1.0" fill="none"/>
<path d="M175,252 C177,256 179,260 183,262" stroke="#7dcfc1" stroke-width="0.8" fill="none"/>
<path fill="#8c8c8c" d="M148.6 254.6h0.6v0.6h-0.6zM150.1 255.0h0.6v0.6h-0.6zM123.8 255.5h0.6v0.6h-0.6zM126.1 245.3h0.6v0.6h-0.6zM117.8 253.7h0.6v0.6h-0.6zM121.3 244.7h0.6v0.6h-0.6zM148.3 272.9h0.6v0.6h-0.6zM127.3 269.0h0.6v0.6h-0.6zM139.8 264.6h0.6v0.6h-0.6zM119.0 275.5h0.6v0.6h-0.6zM151.9 262.8h0.6v0.6h-0.6zM137.9 273.1h0.6v0.6h-0.6zM113.0 274.7h0.6v0.6h-0.6zM137.3 254.6h0.6v0.6h-0.6zM123.5 262.9h0.6v0.6h-0.6zM115.2 272.9h0.6v0.6h-0.6zM131.3 275.4h0.6v0.6h-0.6zM159.6 271.8h0.6v0.6h-0.6zM115.6 252.6h0.6v0.6h-0.6zM142.8 277.0h0.6v0.6h-0.6zM142.5 256.6h0.6v0.6h-0.6zM152.0 260.2h0.6v0.6h-0.6zM140.7 259.9h0.6v0.6h-0.6zM159.5 265.5h0.6v0.6h-0.6zM115.6 266.5h0.6v0.6h-0.6zM131.0 249.9h0.6v0.6h-0.6zM135.8 253.3h0.6v0.6h-0.6zM125.8 266.8h0.6v0.6h-0.6zM136.0 267.2h0.6v0.6h-0.6zM139.8 265.5h0.6v0.6h-0.6zM123.3 276.3h0.6v0.6h-0.6zM131.6 266.7h0.6v0.6h-0.6zM125.4 262.0h0.6v0.6h-0.6zM145.4 260.2h0.6v0.6h-0.6zM146.8 278.7h0.6v0.6h-0.6zM113.4 258.1h0.6v0.6h-0.6zM151.2 272.4h0.6v0.6h-0.6zM122.9 267.3h0.6v0.6h-0.6zM153.1 271.9h0.6v0.6h-0.6zM137.8 248.5h0.6v0.6h-0.6zM146.4 253.0h0.6v0.6h-0.6zM111.3 244.1h0.6v0.6h-0.6zM127.7 257.1h0.6v0.6h-0.6zM138.4 259.6h0.6v0.6h-0.6zM136.6 266.2h0.6v0.6h-0.6zM119.5 272.0h0.6v0.6h-0.6zM144.9 272.4h0.6v0.6h-0.6zM139.3 262.9h0.6v0.6h-0.6zM153.5 267.1h0.6v0.6h-0.6zM123.8 274.3h0.6v0.6h-0.6zM120.0 253.6h0.6v0.6h-0.6zM153.0 259.9h0.6v0.6h-0.6zM117.9 275.4h0.6v0.6h-0.6zM127.9 256.0h0.6v0.6h-0.6zM124.5 269.3h0.6v0.6h-0.6zM121.9 246.9h0.6v0.6h-0.6zM154.7 264.1h0.6v0.6h-0.6zM134.8 275.0h0.6v0.6h-0.6zM145.5 273.8h0.6v0.6h-0.6zM127.4 254.6h0.6v0.6h-0.6zM127.3 260.5h0.6v0.6h-0.6zM140.0 251.0h0.6v0.6h-0.6zM139.5 276.9h0.6v0.6h-0.6zM134.8 266.1h0.6v0.6h-0.6zM112.8 278.7h0.6v0.6h-0.6zM150.9 263.6h0.6v0.6h-0.6zM136.9 266.3h0.6v0.6h-0.6zM130.6 264.2h0.6v0.6h-0.6zM136.3 256.1h0.6v0.6h-0.6zM134.5 246.1h0.6v0.6h-0.6zM141.8 252.3h0.6v0.6h-0.6zM123.8 249.3h0.6v0.6h-0.6zM149.0 259.9h0.6v0.6h-0.6zM140.2 261.9h0.6v0.6h-0.6zM140.5 256.6h0.6v0.6h-0.6zM123.5 270.9h0.6v0.6h-0.6zM117.4 256.3h0.6v0.6h-0.6zM151.3 254.8h0.6v0.6h-0.6zM121.7 259.1h0.6v0.6h-0.6zM136.0 266.0h0.6v0.6h-0.6zM126.6 258.0h0.6v0.6h-0.6zM161.2 270.5h0.6v0.6h-0.6zM121.4 261.8h0.6v0.6h-0.6zM117.9 278.3h0.6v0.6h-0.6zM123.5 276.4h0.6v0.6h-0.6zM121.3 251.9h0.6v0.6h-0.6zM127.8 255.4h0.6v0.6h-0.6zM127.9 257.8h0.6v0.6h-0.6zM131.3 247.9h0.6v0.6h-0.6zM142.6 268.2h0.6v0.6h-0.6zM121.6 248.7h0.6v0.6h-0.6zM111.8 250.4h0.6v0.6h-0.6zM136.9 265.9h0.6v0.6h-0.6zM158.8 272.7h0.6v0.6h-0.6zM118.3 253.0h0.6v0.6h-0.6zM120.2 246.4h0.6v0.6h-0.6zM111.5 263.0h0.6v0.6h-0.6zM159.7 278.2h0.6v0.6h-0.6zM111.3 252.7h0.6v0.6h-0.6zM128.3 274.1h0.6v0.6h-0.6zM115.3 259.4h0.6v0.6h-0.6zM155.4 271.4h0.6v0.6h-0.6zM119.4 262.1h0.6v0.6h-0.6zM154.8 267.7h0.6v0.6h-0.6zM129.1 255.7h0.6v0.6h-0.6zM114.6 275.6h0.6v0.6h-0.6zM120.0 264.6h0.6v0.6h-0.6zM146.3 265.1h0.6v0.6h-0.6zM151.4 253.6h0.6v0.6h-0.6zM144.7 251.4h0.6v0.6h-0.6zM146.8 270.4h0.6v0.6h-0.6zM134.2 269.5h0.6v0.6h-0.6zM121.0 251.4h0.6v0.6h-0.6zM145.9 273.0h0.6v0.6h-0.6zM122.0 276.3h0.6v0.6h-0.6zM120.2 259.0h0.6v0.6h-0.6zM154.2 253.9h0.6v0.6h-0.6zM125.2 273.4h0.6v0.6h-0.6zM135.5 262.5h0.6v0.6h-0.6zM111.5 276.6h0.6v0.6h-0.6zM111.3 276.5h0.6v0.6h-0.6zM146.1 267.0h0.6v0.6h-0.6zM129.3 252.6h0.6v0.6h-0.6zM135.6 277.3h0.6v0.6h-0.6zM115.0 260.7h0.6v0.6h-0.6zM141.5 278.0h0.6v0.6h-0.6zM146.6 277.2h0.6v0.6h-0.6zM146.4 259.2h0.6v0.6h-0.6zM114.6 245.8h0.6v0.6h-0.6zM133.4 271.9h0.6v0.6h-0.6zM151.4 265.8h0.6v0.6h-0.6zM129.2 254.2h0.6v0.6h-0.6zM133.6 255.6h0.6v0.6h-0.6zM136.7 266.6h0.6v0.6h-0.6zM114.8 276.5h0.6v0.6h-0.6zM116.8 274.6h0.6v0.6h-0.6zM110.8 244.1h0.6v0.6h-0.6zM130.3 271.0h0.6v0.6h-0.6zM114.2 265.3h0.6v0.6h-0.6zM155.1 260.9h0.6v0.6h-0.6zM111.2 249.3h0.6v0.6h-0.6zM146.7 266.4h0.6v0.6h-0.6zM150.3 266.6h0.6v0.6h-0.6zM137.9 272.1h0.6v0.6h-0.6zM147.5 252.0h0.6v0.6h-0.6zM113.8 264.6h0.6v0.6h-0.6zM139.9 267.3h0.6v0.6h-0.6zM125.2 278.5h0.6v0.6h-0.6zM141.0 258.7h0.6v0.6h-0.6zM118.8 250.4h0.6v0.6h-0.6zM124.2 268.0h0.6v0.6h-0.6zM131.5 272.4h0.6v0.6h-0.6zM126.6 273.4h0.6v0.6h-0.6zM160.5 267.4h0.6v0.6h-0.6zM151.4 254.2h0.6v0.6h-0.6zM133.9 257.4h0.6v0.6h-0.6zM130.9 278.0h0.6v0.6h-0.6zM127.3 277.8h0.6v0.6h-0.6zM148.1 253.4h0.6v0.6h-0.6zM132.5 259.0h0.6v0.6h-0.6zM133.9 277.1h0.6v0.6h-0.6zM143.1 261.4h0.6v0.6h-0.6zM140.3 256.0h0.6v0.6h-0.6zM116.8 257.6h0.6v0.6h-0.6zM152.0 271.8h0.6v0.6h-0.6zM111.7 266.3h0.6v0.6h-0.6zM149.9 266.1h0.6v0.6h-0.6zM118.6 258.0h0.6v0.6h-0.6zM111.3 274.0h0.6v0.6h-0.6zM133.1 267.2h0.6v0.6h-0.6zM136.1 262.4h0.6v0.6h-0.6zM129.6 271.5h0.6v0.6h-0.6zM155.3 278.7h0.6v0.6h-0.6zM139.4 260.3h0.6v0.6h-0.6zM139.6 277.6h0.6v0.6h-0.6zM127.2 244.5h0.6v0.6h-0.6zM136.2 274.1h0.6v0.6h-0.6zM117.5 256.1h0.6v0.6h-0.6zM142.6 266.1h0.6v0.6h-0.6zM127.2 270.5h0.6v0.6h-0.6zM152.9 268.6h0.6v0.6h-0.6zM131.5 258.4h0.6v0.6h-0.6zM125.1 258.9h0.6v0.6h-0.6zM158.4 270.0h0.6v0.6h-0.6zM119.9 268.3h0.6v0.6h-0.6zM143.9 252.8h0.6v0.6h-0.6zM127.9 248.6h0.6v0.6h-0.6zM133.5 269.8h0.6v0.6h-0.6zM128.2 254.9h0.6v0.6h-0.6zM122.7 278.1h0.6v0.6h-0.6zM123.0 259.5h0.6v0.6h-0.6zM122.0 261.2h0.6v0.6h-0.6zM150.6 274.4h0.6v0.6h-0.6zM140.2 276.5h0.6v0.6h-0.6zM125.0 268.1h0.6v0.6h-0.6zM129.1 253.1h0.6v0.6h-0.6zM130.6 251.2h0.6v0.6h-0.6zM142.6 249.7h0.6v0.6h-0.6zM146.9 269.7h0.6v0.6h-0.6zM111.1 257.3h0.6v0.6h-0.6zM143.9 266.6h0.6v0.6h-0.6zM110.9 270.3h0.6v0.6h-0.6zM132.6 250.8h0.6v0.6h-0.6zM117.3 257.3h0.6v0.6h-0.6zM136.9 259.8h0.6v0.6h-0.6zM155.3 258.9h0.6v0.6h-0.6zM118.5 264.7h0.6v0.6h-0.6zM114.7 247.3h0.6v0.6h-0.6zM156.6 263.7h0.6v0.6h-0.6zM128.3 251.4h0.6v0.6h-0.6zM117.5 258.5h0.6v0.6h-0.6zM131.9 277.0h0.6v0.6h-0.6zM134.5 257.6h0.6v0.6h-0.6zM135.9 254.5h0.6v0.6h-0.6zM136.1 257.7h0.6v0.6h-0.6zM120.6 257.0h0.6v0.6h-0.6zM141.5 276.4h0.6v0.6h-0.6zM140.6 260.0h0.6v0.6h-0.6zM155.1 269.4h0.6v0.6h-0.6zM127.5 244.0h0.6v0.6h-0.6zM157.6 259.7h0.6v0.6h-0.6zM126.6 244.2h0.6v0.6h-0.6zM121.4 269.7h0.6v0.6h-0.6zM141.4 249.5h0.6v0.6h-0.6zM149.4 271.5h0.6v0.6h-0.6zM114.8 265.6h0.6v0.6h-0.6zM127.4 257.3h0.6v0.6h-0.6zM125.0 262.7h0.6v0.6h-0.6zM114.6 277.6h0.6v0.6h-0.6zM117.7 278.6h0.6v0.6h-0.6zM111.4 258.3h0.6v0.6h-0.6zM124.2 278.7h0.6v0.6h-0.6zM127.9 279.0h0.6v0.6h-0.6zM129.4 248.0h0.6v0.6h-0.6zM129.7 246.3h0.6v0.6h-0.6zM135.4 249.7h0.6v0.6h-0.6z"/>
<path d="M112,262 C120,266 128,270 134,276 M116,270 C122,272 128,276 132,279 M140,258 C142,265 145,272 148,279" stroke="#a8ddd4" stroke-width="0.5" fill="none"/>
<ellipse cx="149.5" cy="269.3" rx="5" ry="1.8" fill="#bfe0a0" transform="rotate(20 149.5 269.3)"/>
<ellipse cx="153" cy="277" rx="4" ry="1.5" fill="#bfe0a0"/>
</g>
<clipPath id="cY1"><rect x="110.0" y="285.0" width="75.0" height="54.5"/></clipPath>
<g clip-path="url(#cY1)">
<rect x="126.5" y="292.8" width="0.7" height="0.7" fill="#bbb"/>
<rect x="156.5" y="307.0" width="1.1" height="0.9" fill="#cfe6de"/>
<rect x="158.8" y="325.6" width="0.7" height="0.5" fill="#cfe6de"/>
<rect x="178.8" y="327.8" width="0.5" height="0.5" fill="#bbb"/>
<rect x="175.0" y="326.5" width="0.8" height="0.9" fill="#bbb"/>
<rect x="149.4" y="336.1" width="0.8" height="0.9" fill="#bbb"/>
<rect x="156.7" y="315.2" width="1.2" height="0.9" fill="#d5e9c8"/>
<rect x="173.1" y="306.6" width="0.6" height="0.4" fill="#b8e2da"/>
<rect x="134.9" y="312.3" width="1.1" height="0.4" fill="#d5e9c8"/>
<rect x="179.8" y="290.1" width="0.6" height="1.0" fill="#d5e9c8"/>
<rect x="180.9" y="323.0" width="0.8" height="0.6" fill="#d5e9c8"/>
<rect x="141.8" y="289.2" width="1.0" height="0.6" fill="#bbb"/>
<rect x="150.1" y="285.5" width="0.5" height="0.9" fill="#b8e2da"/>
<rect x="157.5" y="286.5" width="1.1" height="0.6" fill="#b8e2da"/>
<rect x="120.5" y="299.4" width="0.8" height="0.4" fill="#bbb"/>
<rect x="151.8" y="289.3" width="0.5" height="0.9" fill="#d5e9c8"/>
<rect x="115.5" y="323.9" width="0.6" height="0.6" fill="#b8e2da"/>
<rect x="149.9" y="306.9" width="1.1" height="0.5" fill="#cfe6de"/>
<rect x="159.4" y="286.5" width="1.1" height="0.9" fill="#d5e9c8"/>
<rect x="138.5" y="304.6" width="1.2" height="0.5" fill="#bbb"/>
<rect x="168.1" y="324.7" width="0.9" height="0.8" fill="#bbb"/>
<rect x="180.3" y="288.2" width="0.8" height="0.6" fill="#d5e9c8"/>
<rect x="110.1" y="327.1" width="0.5" height="0.5" fill="#b8e2da"/>
<rect x="167.2" y="294.6" width="0.5" height="0.5" fill="#b8e2da"/>
<rect x="181.1" y="325.2" width="1.1" height="0.9" fill="#cfe6de"/>
<rect x="163.7" y="320.5" width="1.1" height="1.0" fill="#b8e2da"/>
<rect x="138.0" y="297.3" width="1.1" height="0.7" fill="#bbb"/>
<rect x="149.9" y="321.3" width="0.5" height="0.4" fill="#bbb"/>
<rect x="135.0" y="305.9" width="0.6" height="0.4" fill="#cfe6de"/>
<rect x="151.5" y="338.1" width="0.9" height="0.9" fill="#d5e9c8"/>
<rect x="110.5" y="303.9" width="0.7" height="0.9" fill="#d5e9c8"/>
<rect x="157.5" y="285.5" width="1.2" height="0.4" fill="#d5e9c8"/>
<rect x="137.1" y="317.0" width="0.5" height="1.0" fill="#d5e9c8"/>
<rect x="179.2" y="322.6" width="0.9" height="0.4" fill="#d5e9c8"/>
<rect x="120.0" y="316.7" width="0.5" height="0.7" fill="#bbb"/>
<rect x="110.5" y="327.7" width="1.1" height="0.5" fill="#d5e9c8"/>
<rect x="135.8" y="323.4" width="0.9" height="0.8" fill="#bbb"/>
<rect x="172.2" y="329.4" width="0.5" height="0.8" fill="#cfe6de"/>
<rect x="171.0" y="337.2" width="1.0" height="0.9" fill="#b8e2da"/>
<rect x="158.1" y="302.3" width="0.6" height="0.9" fill="#bbb"/>
<rect x="174.5" y="319.3" width="0.7" height="0.7" fill="#bbb"/>
<rect x="124.8" y="307.6" width="1.0" height="0.9" fill="#d5e9c8"/>
<rect x="176.0" y="316.1" width="0.9" height="0.9" fill="#cfe6de"/>
<rect x="117.3" y="286.9" width="0.7" height="0.8" fill="#d5e9c8"/>
<rect x="181.7" y="296.6" width="0.9" height="0.6" fill="#bbb"/>
<rect x="177.0" y="299.5" width="1.2" height="0.5" fill="#bbb"/>
<rect x="156.7" y="328.1" width="0.7" height="0.8" fill="#bbb"/>
<rect x="137.4" y="315.7" width="0.8" height="1.0" fill="#b8e2da"/>
<rect x="166.1" y="289.1" width="1.0" height="0.9" fill="#b8e2da"/>
<rect x="174.3" y="331.3" width="1.1" height="0.9" fill="#d5e9c8"/>
<rect x="131.2" y="315.0" width="0.5" height="0.6" fill="#cfe6de"/>
<rect x="148.2" y="294.3" width="0.8" height="0.6" fill="#cfe6de"/>
<rect x="142.8" y="305.9" width="0.9" height="0.8" fill="#bbb"/>
<rect x="176.0" y="325.5" width="0.9" height="0.6" fill="#bbb"/>
<rect x="169.3" y="300.6" width="1.0" height="0.5" fill="#cfe6de"/>
<rect x="130.9" y="307.2" width="0.5" height="0.9" fill="#d5e9c8"/>
<rect x="157.2" y="312.3" width="1.2" height="1.0" fill="#d5e9c8"/>
<rect x="116.3" y="309.0" width="0.7" height="0.7" fill="#b8e2da"/>
<rect x="125.5" y="295.3" width="1.0" height="0.9" fill="#cfe6de"/>
<rect x="127.8" y="300.4" width="0.8" height="0.8" fill="#cfe6de"/>
<rect x="147.1" y="286.2" width="0.8" height="0.5" fill="#d5e9c8"/>
<rect x="116.5" y="309.0" width="1.1" height="0.9" fill="#d5e9c8"/>
<rect x="181.9" y="321.1" width="0.7" height="0.8" fill="#bbb"/>
<rect x="164.5" y="338.5" width="1.2" height="0.4" fill="#d5e9c8"/>
<rect x="124.4" y="295.6" width="0.6" height="0.5" fill="#b8e2da"/>
<rect x="163.9" y="334.3" width="0.9" height="0.4" fill="#cfe6de"/>
<rect x="136.2" y="310.9" width="1.1" height="0.9" fill="#d5e9c8"/>
<rect x="129.3" y="329.8" width="1.1" height="0.9" fill="#b8e2da"/>
<rect x="134.0" y="295.0" width="0.9" height="1.0" fill="#b8e2da"/>
<rect x="121.5" y="339.2" width="0.5" height="1.0" fill="#d5e9c8"/>
<rect x="172.6" y="307.9" width="0.5" height="0.9" fill="#b8e2da"/>
<rect x="129.5" y="316.6" width="1.0" height="0.7" fill="#cfe6de"/>
<rect x="169.0" y="294.6" width="1.2" height="0.9" fill="#cfe6de"/>
<rect x="157.5" y="318.2" width="0.8" height="0.8" fill="#b8e2da"/>
<rect x="178.9" y="286.5" width="0.6" height="0.9" fill="#d5e9c8"/>
<rect x="129.9" y="315.4" width="0.6" height="0.8" fill="#cfe6de"/>
<rect x="113.9" y="298.5" width="0.8" height="0.8" fill="#d5e9c8"/>
<rect x="123.1" y="288.9" width="1.1" height="0.8" fill="#b8e2da"/>
<rect x="142.5" y="304.9" width="0.9" height="0.7" fill="#bbb"/>
<rect x="117.5" y="303.6" width="0.9" height="0.6" fill="#b8e2da"/>
<rect x="149.6" y="308.5" width="1.0" height="0.7" fill="#b8e2da"/>
<rect x="136.7" y="287.4" width="0.7" height="0.5" fill="#b8e2da"/>
<rect x="114.1" y="300.0" width="0.8" height="0.7" fill="#bbb"/>
<rect x="143.2" y="326.1" width="0.4" height="0.8" fill="#d5e9c8"/>
<rect x="118.2" y="322.0" width="0.6" height="0.5" fill="#cfe6de"/>
<rect x="183.3" y="322.8" width="0.9" height="0.6" fill="#b8e2da"/>
<rect x="175.0" y="307.3" width="1.0" height="0.5" fill="#cfe6de"/>
<rect x="173.4" y="303.2" width="0.6" height="0.9" fill="#bbb"/>
<rect x="155.8" y="307.4" width="0.6" height="0.7" fill="#bbb"/>
<rect x="161.9" y="327.0" width="1.0" height="1.0" fill="#cfe6de"/>
<rect x="142.2" y="334.2" width="0.5" height="1.0" fill="#bbb"/>
<rect x="120.2" y="312.1" width="0.7" height="1.0" fill="#bbb"/>
<rect x="114.0" y="310.0" width="1.0" height="0.4" fill="#bbb"/>
<rect x="171.3" y="302.2" width="0.9" height="0.9" fill="#b8e2da"/>
<rect x="178.7" y="326.1" width="1.1" height="0.7" fill="#d5e9c8"/>
<rect x="129.0" y="336.2" width="0.6" height="1.0" fill="#d5e9c8"/>
<rect x="156.2" y="332.7" width="1.1" height="0.8" fill="#bbb"/>
<rect x="136.6" y="302.4" width="0.9" height="0.8" fill="#cfe6de"/>
<rect x="141.8" y="335.7" width="0.5" height="0.8" fill="#d5e9c8"/>
<rect x="111.9" y="298.9" width="1.2" height="0.8" fill="#b8e2da"/>
<rect x="176.2" y="328.3" width="0.4" height="1.0" fill="#d5e9c8"/>
<rect x="159.0" y="292.8" width="0.6" height="0.6" fill="#b8e2da"/>
<rect x="164.9" y="334.5" width="0.6" height="0.8" fill="#cfe6de"/>
<rect x="115.3" y="309.8" width="1.0" height="0.6" fill="#bbb"/>
<rect x="130.9" y="292.4" width="1.1" height="0.5" fill="#b8e2da"/>
<rect x="120.9" y="334.6" width="1.1" height="1.0" fill="#b8e2da"/>
<rect x="173.9" y="301.0" width="0.4" height="0.8" fill="#bbb"/>
<rect x="127.3" y="327.0" width="0.8" height="0.8" fill="#bbb"/>
<rect x="131.5" y="285.7" width="0.9" height="0.5" fill="#cfe6de"/>
<rect x="145.3" y="328.0" width="0.8" height="0.7" fill="#b8e2da"/>
<rect x="159.9" y="309.8" width="1.1" height="0.8" fill="#b8e2da"/>
<rect x="160.2" y="317.1" width="0.6" height="0.8" fill="#bbb"/>
<rect x="171.1" y="318.0" width="1.1" height="0.7" fill="#d5e9c8"/>
<rect x="168.2" y="299.7" width="0.4" height="0.8" fill="#bbb"/>
<rect x="175.6" y="332.0" width="0.7" height="0.6" fill="#bbb"/>
<rect x="146.8" y="307.6" width="0.7" height="1.0" fill="#d5e9c8"/>
<rect x="183.0" y="309.0" width="0.8" height="0.6" fill="#cfe6de"/>
<rect x="110.7" y="287.6" width="0.7" height="0.4" fill="#cfe6de"/>
<rect x="181.2" y="305.3" width="0.8" height="0.9" fill="#b8e2da"/>
<rect x="181.7" y="301.4" width="0.6" height="1.0" fill="#d5e9c8"/>
<rect x="130.9" y="310.3" width="1.1" height="0.7" fill="#bbb"/>
<rect x="133.0" y="298.5" width="1.1" height="0.5" fill="#bbb"/>
<rect x="122.0" y="290.0" width="1.1" height="0.5" fill="#bbb"/>
<rect x="177.1" y="291.7" width="1.1" height="0.8" fill="#bbb"/>
<rect x="164.5" y="294.7" width="1.0" height="0.6" fill="#cfe6de"/>
<rect x="132.0" y="299.5" width="0.9" height="0.4" fill="#d5e9c8"/>
<rect x="183.7" y="308.7" width="1.2" height="0.7" fill="#cfe6de"/>
<rect x="114.9" y="332.8" width="0.8" height="0.5" fill="#b8e2da"/>
<rect x="144.4" y="304.3" width="0.7" height="0.8" fill="#cfe6de"/>
<rect x="170.7" y="322.4" width="0.6" height="0.5" fill="#cfe6de"/>
<rect x="140.3" y="296.9" width="0.8" height="0.6" fill="#cfe6de"/>
<rect x="171.2" y="322.0" width="1.0" height="1.0" fill="#cfe6de"/>
<rect x="121.6" y="324.3" width="0.5" height="0.8" fill="#bbb"/>
<rect x="154.8" y="307.9" width="1.0" height="0.7" fill="#cfe6de"/>
<rect x="130.1" y="287.7" width="0.7" height="0.7" fill="#cfe6de"/>
<rect x="169.5" y="333.4" width="0.8" height="0.9" fill="#bbb"/>
<rect x="129.3" y="326.6" width="1.2" height="0.6" fill="#d5e9c8"/>
<rect x="153.8" y="290.5" width="0.6" height="0.5" fill="#bbb"/>
<rect x="166.6" y="329.5" width="0.6" height="0.8" fill="#d5e9c8"/>
<rect x="178.4" y="298.3" width="0.4" height="0.5" fill="#d5e9c8"/>
<path d="M110,318 L115.6,324.2 L119.5,336.4 L119.5,340 L110,340 Z" fill="#7dcfc1"/>
<path d="M111,316 C113,310 115,304 118.7,301.3 C124,298 129,297.5 134,296.7 C140,295 144,293.5 147.7,292.2 C152,290 155,289 158.4,287.6 C162,286 166,284.5 170,283" stroke="#7dcfc1" stroke-width="1.3" fill="none"/>
<path d="M126,335 C131,325 137,314 143,306 C150,298 160,293 172,289" stroke="#7dcfc1" stroke-width="0.8" fill="none"/>
<path d="M132,338 C138,328 144,318 152,310 C160,302 170,298 185,295" stroke="#7dcfc1" stroke-width="0.7" fill="none"/>
<path d="M139,338 C145,330 150,322 158,314 C165,307 175,303 185,301" stroke="#7dcfc1" stroke-width="0.6" fill="none"/>
<path d="M118,320 C124,314 128,308 132,300" stroke="#7dcfc1" stroke-width="0.6" fill="none"/>
<path d="M146,338 C152,332 158,326 165,320 C172,315 178,312 185,310" stroke="#7dcfc1" stroke-width="0.5" fill="none"/>
<path d="M110,316 C118,313 124,310 128,306" stroke="#7dcfc1" stroke-width="0.6" fill="none"/>
<path fill="#8c8c8c" d="M157.8 309.4h0.6v0.6h-0.6zM171.8 321.5h0.6v0.6h-0.6zM176.9 298.6h0.6v0.6h-0.6zM135.2 313.8h0.6v0.6h-0.6zM145.6 305.1h0.6v0.6h-0.6zM146.4 290.0h0.6v0.6h-0.6zM120.7 300.2h0.6v0.6h-0.6zM160.6 301.8h0.6v0.6h-0.6zM164.1 312.5h0.6v0.6h-0.6zM136.7 316.3h0.6v0.6h-0.6zM142.0 320.8h0.6v0.6h-0.6zM124.1 303.3h0.6v0.6h-0.6zM132.6 294.9h0.6v0.6h-0.6zM144.4 295.3h0.6v0.6h-0.6zM140.3 314.6h0.6v0.6h-0.6zM177.6 299.6h0.6v0.6h-0.6zM159.1 295.6h0.6v0.6h-0.6zM153.5 290.8h0.6v0.6h-0.6zM164.5 329.3h0.6v0.6h-0.6zM121.4 306.9h0.6v0.6h-0.6zM133.1 293.9h0.6v0.6h-0.6zM165.0 326.7h0.6v0.6h-0.6zM124.5 331.4h0.6v0.6h-0.6zM156.0 290.0h0.6v0.6h-0.6zM142.9 320.9h0.6v0.6h-0.6zM152.4 328.6h0.6v0.6h-0.6zM149.0 310.5h0.6v0.6h-0.6zM122.1 292.4h0.6v0.6h-0.6zM159.7 328.1h0.6v0.6h-0.6zM154.1 289.4h0.6v0.6h-0.6zM167.4 316.4h0.6v0.6h-0.6zM153.8 312.6h0.6v0.6h-0.6zM175.0 302.8h0.6v0.6h-0.6zM136.4 292.8h0.6v0.6h-0.6zM156.7 328.4h0.6v0.6h-0.6zM156.2 316.7h0.6v0.6h-0.6zM174.1 327.1h0.6v0.6h-0.6zM127.1 332.9h0.6v0.6h-0.6zM129.2 332.7h0.6v0.6h-0.6zM155.1 306.7h0.6v0.6h-0.6zM177.9 308.5h0.6v0.6h-0.6zM120.4 315.8h0.6v0.6h-0.6zM155.8 325.7h0.6v0.6h-0.6zM156.0 294.1h0.6v0.6h-0.6zM121.5 323.4h0.6v0.6h-0.6zM174.7 297.3h0.6v0.6h-0.6zM171.3 305.1h0.6v0.6h-0.6zM150.1 294.1h0.6v0.6h-0.6zM163.0 292.3h0.6v0.6h-0.6zM132.2 330.9h0.6v0.6h-0.6zM173.8 296.5h0.6v0.6h-0.6zM174.3 312.0h0.6v0.6h-0.6zM161.0 331.9h0.6v0.6h-0.6zM128.3 311.7h0.6v0.6h-0.6zM153.5 299.6h0.6v0.6h-0.6zM125.7 319.4h0.6v0.6h-0.6zM171.7 331.5h0.6v0.6h-0.6zM126.3 322.3h0.6v0.6h-0.6zM128.2 317.6h0.6v0.6h-0.6zM147.4 328.1h0.6v0.6h-0.6zM148.1 294.5h0.6v0.6h-0.6zM141.8 291.8h0.6v0.6h-0.6zM121.2 304.8h0.6v0.6h-0.6zM175.1 297.7h0.6v0.6h-0.6zM164.0 321.1h0.6v0.6h-0.6zM163.2 315.8h0.6v0.6h-0.6zM148.6 301.1h0.6v0.6h-0.6zM127.9 333.1h0.6v0.6h-0.6zM174.4 313.3h0.6v0.6h-0.6zM141.8 306.2h0.6v0.6h-0.6zM161.2 305.8h0.6v0.6h-0.6zM125.9 329.7h0.6v0.6h-0.6zM157.3 291.0h0.6v0.6h-0.6zM159.2 313.1h0.6v0.6h-0.6zM136.3 300.7h0.6v0.6h-0.6zM162.9 323.1h0.6v0.6h-0.6zM132.1 291.7h0.6v0.6h-0.6zM140.1 329.5h0.6v0.6h-0.6zM146.6 322.2h0.6v0.6h-0.6zM161.5 311.9h0.6v0.6h-0.6zM149.2 314.9h0.6v0.6h-0.6zM152.4 311.1h0.6v0.6h-0.6zM170.1 318.9h0.6v0.6h-0.6zM151.1 311.7h0.6v0.6h-0.6zM139.6 329.5h0.6v0.6h-0.6zM143.5 300.6h0.6v0.6h-0.6zM160.3 291.9h0.6v0.6h-0.6zM161.2 325.7h0.6v0.6h-0.6zM144.7 323.0h0.6v0.6h-0.6zM134.3 318.9h0.6v0.6h-0.6zM120.4 310.4h0.6v0.6h-0.6zM137.9 325.0h0.6v0.6h-0.6zM134.1 328.4h0.6v0.6h-0.6zM161.7 319.8h0.6v0.6h-0.6zM162.2 293.2h0.6v0.6h-0.6zM166.4 303.8h0.6v0.6h-0.6zM125.4 289.6h0.6v0.6h-0.6zM151.6 302.9h0.6v0.6h-0.6zM127.6 325.3h0.6v0.6h-0.6zM127.0 312.2h0.6v0.6h-0.6zM140.6 308.5h0.6v0.6h-0.6zM126.2 297.3h0.6v0.6h-0.6zM154.8 324.7h0.6v0.6h-0.6zM153.5 310.7h0.6v0.6h-0.6zM142.3 333.1h0.6v0.6h-0.6zM148.1 314.0h0.6v0.6h-0.6zM168.6 331.3h0.6v0.6h-0.6zM144.4 310.5h0.6v0.6h-0.6zM173.3 297.2h0.6v0.6h-0.6zM176.0 317.8h0.6v0.6h-0.6zM151.0 329.3h0.6v0.6h-0.6zM127.5 319.0h0.6v0.6h-0.6zM173.6 309.3h0.6v0.6h-0.6zM143.5 307.5h0.6v0.6h-0.6zM172.1 314.9h0.6v0.6h-0.6zM168.1 315.2h0.6v0.6h-0.6zM146.8 326.3h0.6v0.6h-0.6zM143.5 316.4h0.6v0.6h-0.6zM154.9 324.1h0.6v0.6h-0.6zM156.3 306.2h0.6v0.6h-0.6zM159.0 293.6h0.6v0.6h-0.6zM141.4 316.4h0.6v0.6h-0.6zM147.7 328.3h0.6v0.6h-0.6zM153.5 332.5h0.6v0.6h-0.6zM121.7 299.0h0.6v0.6h-0.6zM143.1 292.9h0.6v0.6h-0.6zM136.2 327.0h0.6v0.6h-0.6zM140.0 294.1h0.6v0.6h-0.6zM164.7 318.3h0.6v0.6h-0.6zM156.2 328.4h0.6v0.6h-0.6zM137.3 289.8h0.6v0.6h-0.6zM141.6 288.3h0.6v0.6h-0.6zM153.5 332.1h0.6v0.6h-0.6zM137.5 330.7h0.6v0.6h-0.6zM177.4 308.9h0.6v0.6h-0.6zM135.9 314.3h0.6v0.6h-0.6zM141.2 315.7h0.6v0.6h-0.6zM161.5 319.4h0.6v0.6h-0.6zM153.1 308.7h0.6v0.6h-0.6zM158.8 301.0h0.6v0.6h-0.6zM142.6 292.8h0.6v0.6h-0.6zM162.0 303.3h0.6v0.6h-0.6zM139.1 290.1h0.6v0.6h-0.6zM149.8 305.3h0.6v0.6h-0.6zM160.3 325.5h0.6v0.6h-0.6zM161.8 297.4h0.6v0.6h-0.6zM136.0 333.8h0.6v0.6h-0.6zM128.4 300.9h0.6v0.6h-0.6zM152.7 332.3h0.6v0.6h-0.6zM122.5 289.1h0.6v0.6h-0.6zM172.8 295.8h0.6v0.6h-0.6zM161.1 321.0h0.6v0.6h-0.6zM129.2 331.5h0.6v0.6h-0.6zM127.6 316.0h0.6v0.6h-0.6zM125.3 325.9h0.6v0.6h-0.6zM168.0 303.4h0.6v0.6h-0.6zM154.1 295.7h0.6v0.6h-0.6zM150.9 324.5h0.6v0.6h-0.6zM133.8 311.8h0.6v0.6h-0.6zM138.2 315.2h0.6v0.6h-0.6zM153.8 291.7h0.6v0.6h-0.6zM159.7 313.2h0.6v0.6h-0.6zM143.2 315.9h0.6v0.6h-0.6zM159.4 309.8h0.6v0.6h-0.6zM149.6 329.4h0.6v0.6h-0.6zM156.7 318.6h0.6v0.6h-0.6zM126.3 304.4h0.6v0.6h-0.6zM148.2 314.3h0.6v0.6h-0.6zM127.4 308.1h0.6v0.6h-0.6zM171.5 305.3h0.6v0.6h-0.6zM139.6 303.0h0.6v0.6h-0.6zM143.4 292.8h0.6v0.6h-0.6zM127.0 302.8h0.6v0.6h-0.6zM150.3 311.8h0.6v0.6h-0.6zM162.7 293.4h0.6v0.6h-0.6zM161.3 328.6h0.6v0.6h-0.6zM131.5 329.9h0.6v0.6h-0.6zM133.6 302.9h0.6v0.6h-0.6zM144.5 330.6h0.6v0.6h-0.6zM177.8 315.1h0.6v0.6h-0.6zM130.3 296.4h0.6v0.6h-0.6zM177.3 306.1h0.6v0.6h-0.6zM127.1 330.3h0.6v0.6h-0.6zM176.1 328.6h0.6v0.6h-0.6zM169.2 318.1h0.6v0.6h-0.6zM172.7 325.9h0.6v0.6h-0.6zM157.7 322.5h0.6v0.6h-0.6zM155.9 291.9h0.6v0.6h-0.6zM144.9 291.3h0.6v0.6h-0.6zM128.1 332.8h0.6v0.6h-0.6zM127.2 313.7h0.6v0.6h-0.6zM154.6 292.0h0.6v0.6h-0.6zM143.5 288.3h0.6v0.6h-0.6zM136.5 301.4h0.6v0.6h-0.6zM172.8 295.2h0.6v0.6h-0.6zM122.9 309.1h0.6v0.6h-0.6zM159.2 331.5h0.6v0.6h-0.6zM128.3 304.4h0.6v0.6h-0.6zM128.1 300.4h0.6v0.6h-0.6zM165.0 303.9h0.6v0.6h-0.6zM148.9 302.9h0.6v0.6h-0.6zM152.1 297.6h0.6v0.6h-0.6zM153.6 306.0h0.6v0.6h-0.6zM149.9 306.8h0.6v0.6h-0.6zM152.1 289.4h0.6v0.6h-0.6zM131.0 323.9h0.6v0.6h-0.6zM133.6 330.1h0.6v0.6h-0.6zM155.4 304.2h0.6v0.6h-0.6zM150.2 321.2h0.6v0.6h-0.6zM149.8 292.8h0.6v0.6h-0.6zM166.5 332.2h0.6v0.6h-0.6zM138.2 323.9h0.6v0.6h-0.6zM158.7 299.9h0.6v0.6h-0.6zM161.9 312.0h0.6v0.6h-0.6zM143.2 333.4h0.6v0.6h-0.6z"/>
<ellipse cx="177" cy="322" rx="2.5" ry="3" fill="#cfe5b8"/><ellipse cx="171" cy="324" rx="1.5" ry="2" fill="#cfe5b8"/>
</g>
<clipPath id="cY2"><rect x="110.0" y="346.3" width="75.0" height="55.5"/></clipPath>
<g clip-path="url(#cY2)">
<rect x="169.6" y="354.9" width="1.2" height="0.4" fill="#d5e9c8"/>
<rect x="124.1" y="397.6" width="1.2" height="0.4" fill="#cfe6de"/>
<rect x="124.1" y="358.0" width="1.2" height="0.8" fill="#d5e9c8"/>
<rect x="146.8" y="391.0" width="1.1" height="0.5" fill="#bbb"/>
<rect x="118.3" y="375.2" width="0.7" height="0.9" fill="#d5e9c8"/>
<rect x="149.9" y="355.0" width="0.4" height="0.6" fill="#d5e9c8"/>
<rect x="172.8" y="380.1" width="1.0" height="0.6" fill="#bbb"/>
<rect x="110.2" y="367.6" width="1.2" height="0.5" fill="#d5e9c8"/>
<rect x="166.0" y="401.0" width="0.6" height="0.9" fill="#bbb"/>
<rect x="154.6" y="396.4" width="0.5" height="0.8" fill="#bbb"/>
<rect x="172.2" y="371.6" width="0.7" height="0.9" fill="#d5e9c8"/>
<rect x="161.2" y="398.2" width="0.5" height="0.9" fill="#bbb"/>
<rect x="136.4" y="358.3" width="0.7" height="0.7" fill="#cfe6de"/>
<rect x="128.1" y="364.8" width="0.6" height="1.0" fill="#bbb"/>
<rect x="177.3" y="370.6" width="0.8" height="1.0" fill="#cfe6de"/>
<rect x="141.3" y="349.3" width="1.0" height="0.6" fill="#b8e2da"/>
<rect x="158.8" y="363.5" width="1.1" height="1.0" fill="#cfe6de"/>
<rect x="166.6" y="387.0" width="0.7" height="0.9" fill="#d5e9c8"/>
<rect x="165.3" y="381.9" width="1.1" height="0.5" fill="#b8e2da"/>
<rect x="180.6" y="348.9" width="0.8" height="0.6" fill="#b8e2da"/>
<rect x="167.0" y="395.8" width="1.1" height="0.8" fill="#bbb"/>
<rect x="131.6" y="365.6" width="0.6" height="0.7" fill="#b8e2da"/>
<rect x="183.2" y="367.6" width="0.6" height="0.9" fill="#cfe6de"/>
<rect x="142.2" y="351.7" width="0.6" height="0.7" fill="#cfe6de"/>
<rect x="112.1" y="396.0" width="0.5" height="1.0" fill="#bbb"/>
<rect x="165.2" y="366.1" width="0.7" height="0.5" fill="#bbb"/>
<rect x="180.0" y="399.7" width="1.0" height="1.0" fill="#d5e9c8"/>
<rect x="171.2" y="368.6" width="0.8" height="0.5" fill="#bbb"/>
<rect x="128.8" y="385.7" width="0.7" height="0.7" fill="#bbb"/>
<rect x="176.0" y="377.0" width="0.7" height="0.7" fill="#b8e2da"/>
<rect x="149.4" y="397.3" width="0.6" height="0.9" fill="#b8e2da"/>
<rect x="143.0" y="396.2" width="0.7" height="0.7" fill="#b8e2da"/>
<rect x="163.9" y="388.9" width="0.5" height="0.6" fill="#b8e2da"/>
<rect x="135.8" y="394.0" width="1.0" height="0.9" fill="#cfe6de"/>
<rect x="146.5" y="364.1" width="1.1" height="0.4" fill="#bbb"/>
<rect x="147.5" y="361.9" width="0.5" height="0.5" fill="#b8e2da"/>
<rect x="174.5" y="359.2" width="0.6" height="0.8" fill="#b8e2da"/>
<rect x="126.4" y="347.2" width="1.1" height="0.6" fill="#d5e9c8"/>
<rect x="121.2" y="392.2" width="1.0" height="0.4" fill="#d5e9c8"/>
<rect x="159.5" y="355.3" width="0.7" height="0.7" fill="#cfe6de"/>
<rect x="158.4" y="376.6" width="1.0" height="0.7" fill="#b8e2da"/>
<rect x="127.8" y="350.8" width="0.9" height="1.0" fill="#d5e9c8"/>
<rect x="122.9" y="352.7" width="0.9" height="0.9" fill="#cfe6de"/>
<rect x="152.4" y="347.7" width="0.9" height="0.6" fill="#cfe6de"/>
<rect x="123.1" y="365.5" width="0.5" height="0.6" fill="#d5e9c8"/>
<rect x="138.4" y="377.8" width="0.5" height="0.6" fill="#d5e9c8"/>
<rect x="113.8" y="366.8" width="0.7" height="0.9" fill="#cfe6de"/>
<rect x="171.3" y="372.4" width="0.9" height="0.7" fill="#d5e9c8"/>
<rect x="177.9" y="387.9" width="0.8" height="0.9" fill="#d5e9c8"/>
<rect x="119.5" y="382.6" width="0.7" height="0.8" fill="#cfe6de"/>
<rect x="152.3" y="390.1" width="0.8" height="0.5" fill="#bbb"/>
<rect x="167.2" y="385.1" width="0.7" height="0.8" fill="#d5e9c8"/>
<rect x="156.5" y="348.0" width="0.6" height="0.6" fill="#d5e9c8"/>
<rect x="176.8" y="381.1" width="0.9" height="0.7" fill="#bbb"/>
<rect x="133.8" y="388.8" width="0.8" height="0.6" fill="#b8e2da"/>
<rect x="126.6" y="363.2" width="0.6" height="0.8" fill="#cfe6de"/>
<rect x="112.3" y="388.8" width="0.8" height="0.8" fill="#bbb"/>
<rect x="126.4" y="393.9" width="0.4" height="1.0" fill="#bbb"/>
<rect x="156.8" y="359.2" width="0.9" height="0.9" fill="#d5e9c8"/>
<rect x="148.0" y="376.3" width="0.8" height="0.7" fill="#cfe6de"/>
<rect x="172.2" y="364.8" width="0.8" height="0.5" fill="#cfe6de"/>
<rect x="155.5" y="355.6" width="1.1" height="0.9" fill="#bbb"/>
<rect x="183.9" y="348.3" width="1.0" height="0.7" fill="#b8e2da"/>
<rect x="112.2" y="379.0" width="0.8" height="0.9" fill="#d5e9c8"/>
<rect x="180.0" y="367.0" width="0.9" height="0.6" fill="#cfe6de"/>
<rect x="177.7" y="389.7" width="1.0" height="0.9" fill="#bbb"/>
<rect x="150.4" y="391.6" width="0.9" height="0.8" fill="#d5e9c8"/>
<rect x="184.7" y="384.4" width="0.6" height="0.8" fill="#cfe6de"/>
<rect x="150.5" y="401.5" width="0.8" height="1.0" fill="#d5e9c8"/>
<rect x="166.4" y="349.9" width="1.1" height="0.8" fill="#d5e9c8"/>
<rect x="143.4" y="383.2" width="0.6" height="1.0" fill="#bbb"/>
<rect x="184.9" y="395.6" width="0.6" height="0.6" fill="#bbb"/>
<rect x="121.9" y="364.4" width="0.6" height="0.8" fill="#d5e9c8"/>
<rect x="128.3" y="376.9" width="0.9" height="0.6" fill="#d5e9c8"/>
<rect x="135.2" y="385.9" width="1.0" height="0.6" fill="#cfe6de"/>
<rect x="161.6" y="347.6" width="1.1" height="0.4" fill="#b8e2da"/>
<rect x="182.4" y="366.7" width="0.5" height="0.5" fill="#d5e9c8"/>
<rect x="133.9" y="374.5" width="0.8" height="0.6" fill="#d5e9c8"/>
<rect x="177.5" y="388.6" width="0.9" height="0.8" fill="#cfe6de"/>
<rect x="164.4" y="385.1" width="1.1" height="0.9" fill="#b8e2da"/>
<rect x="158.0" y="370.5" width="1.1" height="0.5" fill="#bbb"/>
<rect x="134.8" y="379.2" width="1.1" height="0.5" fill="#bbb"/>
<rect x="183.9" y="389.1" width="1.2" height="0.6" fill="#d5e9c8"/>
<rect x="169.9" y="364.2" width="0.6" height="0.9" fill="#bbb"/>
<rect x="163.3" y="348.0" width="0.4" height="0.6" fill="#cfe6de"/>
<rect x="147.2" y="388.8" width="0.7" height="0.6" fill="#bbb"/>
<rect x="139.3" y="352.0" width="0.5" height="0.4" fill="#bbb"/>
<rect x="128.0" y="385.5" width="0.5" height="1.0" fill="#bbb"/>
<rect x="134.2" y="347.5" width="1.2" height="0.8" fill="#d5e9c8"/>
<rect x="164.0" y="371.7" width="0.5" height="0.8" fill="#bbb"/>
<rect x="129.9" y="360.7" width="0.8" height="0.7" fill="#b8e2da"/>
<rect x="181.0" y="350.0" width="1.1" height="0.9" fill="#b8e2da"/>
<rect x="127.6" y="369.0" width="0.6" height="0.5" fill="#cfe6de"/>
<rect x="182.2" y="346.9" width="0.9" height="0.7" fill="#b8e2da"/>
<rect x="157.5" y="369.0" width="0.5" height="0.9" fill="#d5e9c8"/>
<rect x="174.3" y="378.6" width="0.7" height="0.8" fill="#b8e2da"/>
<rect x="154.5" y="346.4" width="1.0" height="0.5" fill="#bbb"/>
<rect x="169.3" y="394.1" width="0.9" height="0.9" fill="#cfe6de"/>
<rect x="118.0" y="372.5" width="0.9" height="0.9" fill="#bbb"/>
<rect x="175.4" y="375.6" width="0.9" height="0.8" fill="#b8e2da"/>
<rect x="138.8" y="346.6" width="0.6" height="0.8" fill="#d5e9c8"/>
<rect x="123.9" y="387.1" width="0.4" height="0.8" fill="#bbb"/>
<rect x="172.0" y="381.3" width="1.0" height="1.0" fill="#d5e9c8"/>
<rect x="134.0" y="399.1" width="1.0" height="0.5" fill="#b8e2da"/>
<rect x="183.1" y="364.5" width="0.5" height="0.7" fill="#d5e9c8"/>
<rect x="158.9" y="374.0" width="1.2" height="0.6" fill="#b8e2da"/>
<rect x="168.5" y="392.0" width="1.1" height="0.7" fill="#d5e9c8"/>
<rect x="151.0" y="349.7" width="1.1" height="0.4" fill="#cfe6de"/>
<rect x="149.9" y="395.7" width="0.7" height="0.7" fill="#d5e9c8"/>
<rect x="136.5" y="352.3" width="0.7" height="0.4" fill="#b8e2da"/>
<rect x="146.4" y="395.0" width="0.6" height="0.8" fill="#d5e9c8"/>
<rect x="115.0" y="400.7" width="0.7" height="0.7" fill="#b8e2da"/>
<rect x="124.0" y="374.9" width="0.9" height="0.7" fill="#d5e9c8"/>
<rect x="164.1" y="351.4" width="0.5" height="0.4" fill="#bbb"/>
<rect x="125.7" y="396.1" width="0.6" height="0.7" fill="#cfe6de"/>
<rect x="125.9" y="387.7" width="0.5" height="0.9" fill="#b8e2da"/>
<rect x="167.8" y="378.3" width="0.6" height="0.6" fill="#bbb"/>
<rect x="134.1" y="398.3" width="1.0" height="0.8" fill="#bbb"/>
<rect x="164.0" y="379.9" width="0.7" height="0.7" fill="#b8e2da"/>
<rect x="169.6" y="353.4" width="0.5" height="0.8" fill="#bbb"/>
<rect x="127.3" y="369.0" width="1.2" height="0.5" fill="#d5e9c8"/>
<rect x="127.3" y="399.0" width="0.7" height="0.9" fill="#d5e9c8"/>
<rect x="135.9" y="361.4" width="0.8" height="0.6" fill="#bbb"/>
<rect x="156.3" y="392.4" width="0.9" height="0.6" fill="#b8e2da"/>
<rect x="146.5" y="380.9" width="0.8" height="1.0" fill="#b8e2da"/>
<rect x="111.6" y="352.2" width="0.7" height="0.9" fill="#cfe6de"/>
<rect x="145.0" y="397.9" width="0.7" height="0.5" fill="#b8e2da"/>
<rect x="183.2" y="382.6" width="0.9" height="0.6" fill="#bbb"/>
<rect x="163.1" y="384.4" width="1.1" height="0.4" fill="#cfe6de"/>
<rect x="114.6" y="399.2" width="1.0" height="0.6" fill="#cfe6de"/>
<rect x="137.2" y="386.6" width="1.2" height="0.9" fill="#d5e9c8"/>
<rect x="151.7" y="393.7" width="0.7" height="1.0" fill="#bbb"/>
<rect x="173.1" y="395.9" width="0.8" height="0.4" fill="#d5e9c8"/>
<rect x="162.8" y="374.4" width="1.1" height="0.5" fill="#bbb"/>
<rect x="155.2" y="374.6" width="1.0" height="0.9" fill="#cfe6de"/>
<rect x="151.5" y="378.1" width="1.0" height="0.8" fill="#d5e9c8"/>
<rect x="130.5" y="377.0" width="0.8" height="0.6" fill="#d5e9c8"/>
<rect x="179.2" y="373.5" width="0.6" height="0.7" fill="#d5e9c8"/>
<rect x="168.4" y="370.8" width="0.5" height="0.5" fill="#bbb"/>
<rect x="177.2" y="374.3" width="0.5" height="0.8" fill="#b8e2da"/>
<path d="M125.5,345 L130,345 C132,352 135,360 138,368 C141,376 144,386 146,394 L149.5,402 L142,402 C140,394 138,386 135,377 C132,368 129,356 125.5,345 Z" fill="#7dcfc1"/>
<path d="M110,345.5 C116,348 123,352 131,357" stroke="#7dcfc1" stroke-width="2.2" fill="none"/>
<path d="M140.8,343 C139,349 137,355 134.7,359.8" stroke="#7dcfc1" stroke-width="1.4" fill="none"/>
<path d="M140.8,378 C145,370 150,364 153.8,361.3 C158,356 163,350 169,346" stroke="#7dcfc1" stroke-width="1.2" fill="none"/>
<path d="M147.7,395 C153,388 159,382 166,376.6 C172,372 177,369 182.8,367.4" stroke="#7dcfc1" stroke-width="1.2" fill="none"/>
<path d="M144,388 C150,380 156,372 162,366 C168,360 174,356 182,352" stroke="#7dcfc1" stroke-width="0.6" fill="none"/>
<path d="M142,383 C148,374 154,366 160,358 C165,352 170,348 176,346" stroke="#7dcfc1" stroke-width="0.5" fill="none"/>
<path d="M149,398 C156,393 164,388 172,384 C177,381 181,379 185,378" stroke="#7dcfc1" stroke-width="0.5" fill="none"/>
<path d="M110,391.9 C115,392.5 120,393 123.3,393.4 C128,395 132,398 135.5,401" stroke="#7dcfc1" stroke-width="1.0" fill="none"/>
<path d="M131,373.5 C131,380 131,387 131,393.4" stroke="#7dcfc1" stroke-width="0.6" fill="none"/>
<path d="M116,352 C117,358 118,364 118,370" stroke="#7dcfc1" stroke-width="0.5" fill="none"/>
<path d="M137,362 C142,356 146,352 150,348" stroke="#7dcfc1" stroke-width="0.5" fill="none"/>
<path fill="#8c8c8c" d="M145.6 393.3h0.6v0.6h-0.6zM159.8 353.8h0.6v0.6h-0.6zM163.6 395.6h0.6v0.6h-0.6zM153.1 364.2h0.6v0.6h-0.6zM166.1 385.0h0.6v0.6h-0.6zM167.0 357.7h0.6v0.6h-0.6zM175.6 397.8h0.6v0.6h-0.6zM177.2 381.9h0.6v0.6h-0.6zM163.5 367.1h0.6v0.6h-0.6zM166.5 388.9h0.6v0.6h-0.6zM151.0 362.5h0.6v0.6h-0.6zM171.4 381.6h0.6v0.6h-0.6zM182.7 360.5h0.6v0.6h-0.6zM167.7 361.8h0.6v0.6h-0.6zM180.7 381.7h0.6v0.6h-0.6zM148.4 384.7h0.6v0.6h-0.6zM168.2 373.4h0.6v0.6h-0.6zM168.3 384.8h0.6v0.6h-0.6zM178.5 382.8h0.6v0.6h-0.6zM151.7 375.0h0.6v0.6h-0.6zM173.2 394.8h0.6v0.6h-0.6zM159.3 353.1h0.6v0.6h-0.6zM174.7 388.5h0.6v0.6h-0.6zM165.1 361.1h0.6v0.6h-0.6zM169.9 350.3h0.6v0.6h-0.6zM161.2 364.0h0.6v0.6h-0.6zM167.4 353.5h0.6v0.6h-0.6zM163.7 355.5h0.6v0.6h-0.6zM175.6 388.3h0.6v0.6h-0.6zM159.3 354.9h0.6v0.6h-0.6zM173.5 377.7h0.6v0.6h-0.6zM167.0 360.7h0.6v0.6h-0.6zM179.0 379.8h0.6v0.6h-0.6zM154.3 388.0h0.6v0.6h-0.6zM145.5 361.6h0.6v0.6h-0.6zM174.1 388.6h0.6v0.6h-0.6zM170.8 366.9h0.6v0.6h-0.6zM165.4 374.1h0.6v0.6h-0.6zM151.7 369.3h0.6v0.6h-0.6zM180.1 380.2h0.6v0.6h-0.6zM175.1 351.0h0.6v0.6h-0.6zM175.5 349.8h0.6v0.6h-0.6zM161.5 364.1h0.6v0.6h-0.6zM160.9 375.5h0.6v0.6h-0.6zM161.2 355.4h0.6v0.6h-0.6zM175.6 360.0h0.6v0.6h-0.6zM163.1 349.9h0.6v0.6h-0.6zM179.4 349.0h0.6v0.6h-0.6zM147.0 348.8h0.6v0.6h-0.6zM146.9 374.5h0.6v0.6h-0.6zM156.6 375.2h0.6v0.6h-0.6zM181.3 380.3h0.6v0.6h-0.6zM158.3 381.1h0.6v0.6h-0.6zM160.6 371.4h0.6v0.6h-0.6zM174.5 394.0h0.6v0.6h-0.6zM151.9 391.0h0.6v0.6h-0.6zM171.2 379.4h0.6v0.6h-0.6zM173.0 354.5h0.6v0.6h-0.6zM151.2 394.4h0.6v0.6h-0.6zM149.7 387.9h0.6v0.6h-0.6zM173.8 373.5h0.6v0.6h-0.6zM155.8 357.9h0.6v0.6h-0.6zM164.4 394.7h0.6v0.6h-0.6zM146.6 394.0h0.6v0.6h-0.6zM179.7 352.5h0.6v0.6h-0.6zM146.1 370.1h0.6v0.6h-0.6zM149.3 381.1h0.6v0.6h-0.6zM155.8 384.3h0.6v0.6h-0.6zM145.3 351.8h0.6v0.6h-0.6zM151.2 391.9h0.6v0.6h-0.6zM153.3 390.0h0.6v0.6h-0.6zM163.3 377.0h0.6v0.6h-0.6zM177.2 367.7h0.6v0.6h-0.6zM172.9 364.7h0.6v0.6h-0.6zM164.5 353.4h0.6v0.6h-0.6zM174.1 368.7h0.6v0.6h-0.6zM176.7 360.5h0.6v0.6h-0.6zM161.2 392.5h0.6v0.6h-0.6zM152.2 393.2h0.6v0.6h-0.6zM148.7 367.7h0.6v0.6h-0.6zM171.3 388.6h0.6v0.6h-0.6zM169.8 391.2h0.6v0.6h-0.6zM176.9 360.1h0.6v0.6h-0.6zM168.4 365.3h0.6v0.6h-0.6zM152.8 368.9h0.6v0.6h-0.6zM182.3 369.9h0.6v0.6h-0.6zM160.9 384.0h0.6v0.6h-0.6zM165.7 369.2h0.6v0.6h-0.6zM156.6 370.8h0.6v0.6h-0.6zM152.2 364.9h0.6v0.6h-0.6zM154.9 371.9h0.6v0.6h-0.6zM157.4 395.1h0.6v0.6h-0.6zM153.0 349.9h0.6v0.6h-0.6zM168.9 387.0h0.6v0.6h-0.6zM146.5 356.7h0.6v0.6h-0.6zM181.5 363.5h0.6v0.6h-0.6zM161.7 391.8h0.6v0.6h-0.6zM154.0 355.9h0.6v0.6h-0.6zM181.4 387.3h0.6v0.6h-0.6zM148.1 359.9h0.6v0.6h-0.6zM165.1 373.6h0.6v0.6h-0.6zM166.1 385.1h0.6v0.6h-0.6zM178.8 374.3h0.6v0.6h-0.6zM160.0 388.4h0.6v0.6h-0.6zM176.7 393.9h0.6v0.6h-0.6zM145.1 354.4h0.6v0.6h-0.6zM162.0 352.5h0.6v0.6h-0.6zM155.1 381.7h0.6v0.6h-0.6zM158.4 361.1h0.6v0.6h-0.6zM170.7 350.0h0.6v0.6h-0.6zM180.0 368.9h0.6v0.6h-0.6zM168.1 385.7h0.6v0.6h-0.6zM167.4 350.5h0.6v0.6h-0.6zM151.3 360.5h0.6v0.6h-0.6zM156.1 383.4h0.6v0.6h-0.6zM183.0 360.2h0.6v0.6h-0.6zM153.9 355.1h0.6v0.6h-0.6zM179.6 362.3h0.6v0.6h-0.6zM160.7 386.9h0.6v0.6h-0.6zM174.6 376.4h0.6v0.6h-0.6zM164.0 361.5h0.6v0.6h-0.6zM183.1 383.9h0.6v0.6h-0.6zM156.1 380.3h0.6v0.6h-0.6zM171.8 374.5h0.6v0.6h-0.6zM146.1 356.8h0.6v0.6h-0.6zM172.0 356.6h0.6v0.6h-0.6zM153.1 370.5h0.6v0.6h-0.6zM154.4 377.1h0.6v0.6h-0.6zM159.0 397.1h0.6v0.6h-0.6zM160.2 396.7h0.6v0.6h-0.6zM161.7 363.1h0.6v0.6h-0.6zM151.2 393.9h0.6v0.6h-0.6zM166.0 376.6h0.6v0.6h-0.6zM152.6 394.9h0.6v0.6h-0.6zM161.5 375.7h0.6v0.6h-0.6zM157.6 352.2h0.6v0.6h-0.6zM155.8 368.1h0.6v0.6h-0.6zM174.5 378.3h0.6v0.6h-0.6zM183.3 389.1h0.6v0.6h-0.6zM178.5 353.2h0.6v0.6h-0.6zM173.2 379.2h0.6v0.6h-0.6zM183.4 395.9h0.6v0.6h-0.6zM159.5 371.9h0.6v0.6h-0.6zM159.9 350.3h0.6v0.6h-0.6zM161.2 370.9h0.6v0.6h-0.6zM180.7 362.0h0.6v0.6h-0.6zM157.0 393.5h0.6v0.6h-0.6zM153.2 373.5h0.6v0.6h-0.6zM167.8 371.2h0.6v0.6h-0.6zM156.5 358.9h0.6v0.6h-0.6zM161.5 366.4h0.6v0.6h-0.6zM164.6 352.1h0.6v0.6h-0.6zM160.8 389.8h0.6v0.6h-0.6zM163.8 369.8h0.6v0.6h-0.6zM163.1 381.3h0.6v0.6h-0.6zM169.9 384.8h0.6v0.6h-0.6zM146.5 374.5h0.6v0.6h-0.6zM152.3 379.3h0.6v0.6h-0.6zM164.4 383.9h0.6v0.6h-0.6zM149.7 360.8h0.6v0.6h-0.6zM181.7 393.1h0.6v0.6h-0.6zM156.5 355.2h0.6v0.6h-0.6zM146.9 392.3h0.6v0.6h-0.6zM174.4 389.9h0.6v0.6h-0.6zM170.7 365.2h0.6v0.6h-0.6zM153.9 355.4h0.6v0.6h-0.6zM181.8 364.5h0.6v0.6h-0.6zM173.1 389.1h0.6v0.6h-0.6zM182.9 393.5h0.6v0.6h-0.6zM146.8 369.8h0.6v0.6h-0.6zM163.5 362.1h0.6v0.6h-0.6zM180.9 377.5h0.6v0.6h-0.6zM163.7 395.8h0.6v0.6h-0.6zM166.9 372.9h0.6v0.6h-0.6zM181.3 390.7h0.6v0.6h-0.6zM166.1 357.3h0.6v0.6h-0.6zM158.8 377.8h0.6v0.6h-0.6zM159.1 356.4h0.6v0.6h-0.6zM159.3 369.4h0.6v0.6h-0.6zM169.7 352.2h0.6v0.6h-0.6z"/>
<ellipse cx="127.8" cy="370.5" rx="1.6" ry="2.6" fill="#c6e0a0"/>
</g>
<circle cx="176.4" cy="229.6" r="6.3" fill="#ec7428"/>
<text x="176.4" y="233.01999999999998" font-size="9.5" fill="#fff" text-anchor="middle">1</text>
<circle cx="177.0" cy="291.0" r="6.3" fill="#ec7428"/>
<text x="177.0" y="294.42" font-size="9.5" fill="#fff" text-anchor="middle">2</text>
<circle cx="176.8" cy="351.6" r="6.3" fill="#ec7428"/>
<text x="176.8" y="355.02000000000004" font-size="9.5" fill="#fff" text-anchor="middle">3</text>
<clipPath id="cR00"><rect x="213.8" y="223.0" width="66.89999999999998" height="56.30000000000001"/></clipPath>
<g clip-path="url(#cR00)">
<path d="M241.1,253.5 l10.9,-9.7 l-5.5,-9.4" stroke="#cfe3e0" stroke-width="0.4" fill="none"/>
<path d="M221.6,223.5 l-10.3,0.4 l9.8,3.9" stroke="#cfe3e0" stroke-width="0.4" fill="none"/>
<path d="M239.1,245.8 l5.7,-5.2 l-8.5,6.8" stroke="#cfe3e0" stroke-width="0.4" fill="none"/>
<path d="M255.1,229.3 l-12.9,-12.2 l9.2,-7.8" stroke="#cfe3e0" stroke-width="0.4" fill="none"/>
<path d="M255.6,277.6 l-13.9,-3.4 l-0.5,8.3" stroke="#cfe3e0" stroke-width="0.4" fill="none"/>
<path d="M226.4,237.5 l-7.6,-13.5 l3.5,6.3" stroke="#cfe3e0" stroke-width="0.4" fill="none"/>
<path d="M243.0,225.1 l6.4,7.1 l3.1,-3.4" stroke="#cfe3e0" stroke-width="0.4" fill="none"/>
<path d="M269.4,258.5 l2.7,1.2 l-5.3,-0.9" stroke="#cfe3e0" stroke-width="0.4" fill="none"/>
<path d="M266.9,261.5 l-4.6,9.6 l6.8,-9.1" stroke="#cfe3e0" stroke-width="0.4" fill="none"/>
<path d="M224.3,235.6 l-14.6,7.6 l2.9,0.9" stroke="#cfe3e0" stroke-width="0.4" fill="none"/>
<path d="M280.3,243.1 l-9.0,-11.7 l-3.2,6.8" stroke="#cfe3e0" stroke-width="0.4" fill="none"/>
<path d="M254.4,226.3 l-2.0,-13.6 l2.5,-7.6" stroke="#cfe3e0" stroke-width="0.4" fill="none"/>
<path d="M225.8,259.2 l10.1,3.6 l-4.1,2.9" stroke="#cfe3e0" stroke-width="0.4" fill="none"/>
<path d="M232.0,223.4 l-6.8,5.6 l2.5,-6.1" stroke="#cfe3e0" stroke-width="0.4" fill="none"/>
<path d="M213,227 C225,228 235,229 242,229.2 C250,229.5 256,230 261.3,230 C268,230.5 274,231 281,232.2 L281,243.4 L264.3,243.4 C255,242 248,241 241.9,240.4 C235,240 231,239.5 227,239 C222,238 218,236.5 213,235.2 Z" fill="#7dcfc1"/>
<path d="M219.5,235.8 C227,233.6 236,233.8 244,236.4 C236,239 227,238.8 219.5,235.8 Z" fill="#fff"/>
<path d="M247,231.6 L263,231.8 L270,233.6 L266,237.4 L255,237.2 Z" fill="#fff"/>
<path d="M213,262 C230,265 250,266 281,265.5" stroke="#e4ebc8" stroke-width="0.8" fill="none"/>
<path d="M232,243 C234,252 238,262 241,270 M253,250 L254,279 M270,245 C272,255 274,265 276,275" stroke="#d4e6e4" stroke-width="0.6" fill="none"/>
<path fill="#2a1f1f" d="M228.5 254.9L230.7 253.7L231.6 255.4L229.4 256.6ZM223.5 252.6L227.4 253.0L227.2 254.5L223.4 254.1ZM226.7 251.6L229.2 251.9L229.1 253.2L226.6 253.0ZM229.8 250.1L232.1 250.9L231.5 252.6L229.2 251.8ZM223.7 253.9L225.8 251.3L227.2 252.5L225.1 255.1ZM229.9 253.5L231.8 255.1L230.9 256.2L229.0 254.7ZM224.8 254.8L227.6 253.3L228.1 254.3L225.3 255.7ZM225.4 252.3L228.9 250.1L229.5 251.1L226.1 253.3ZM227.3 253.0L229.9 253.0L229.9 254.3L227.3 254.3ZM229.0 249.8L232.7 251.3L232.0 253.0L228.3 251.5ZM228.2 251.4L232.0 252.9L231.4 254.5L227.6 252.9ZM226.1 253.2L227.9 250.2L229.3 251.0L227.5 254.0ZM225.6 253.9L227.4 252.5L228.1 253.4L226.3 254.8Z"/>
<path fill="#2a1f1f" d="M254.0 258.2L256.8 257.1L257.3 258.4L254.5 259.5ZM258.1 255.7L262.1 254.3L262.6 255.7L258.6 257.1ZM264.9 252.8L268.2 251.6L268.6 252.8L265.3 254.0ZM266.8 252.2L269.0 248.8L269.9 249.4L267.7 252.8ZM255.3 260.0L258.0 256.9L259.3 258.0L256.6 261.1ZM261.5 257.7L264.5 254.8L265.7 256.0L262.6 258.9ZM258.4 255.7L261.0 255.1L261.3 256.4L258.7 257.0ZM264.7 252.1L267.2 251.8L267.3 253.2L264.9 253.5ZM262.0 256.2L265.2 254.4L266.0 255.9L262.8 257.7ZM260.2 257.0L262.9 254.1L263.8 254.9L261.1 257.9ZM267.9 253.1L269.9 250.1L270.8 250.7L268.8 253.7ZM258.4 256.7L260.5 256.6L260.6 257.8L258.5 258.0ZM260.4 255.3L263.1 252.3L264.0 253.1L261.3 256.1ZM265.0 253.6L267.8 253.2L268.0 254.8L265.2 255.2ZM260.2 256.5L261.7 255.2L262.7 256.3L261.2 257.7ZM265.4 253.7L268.2 253.5L268.3 255.0L265.5 255.2Z"/>
</g>
<clipPath id="cR01"><rect x="282.8" y="223.0" width="64.80000000000001" height="56.30000000000001"/></clipPath>
<g clip-path="url(#cR01)">
<path d="M293.8,267.9 l-0.7,13.3 l-8.5,-2.3" stroke="#cfe3e0" stroke-width="0.4" fill="none"/>
<path d="M293.3,237.6 l11.7,0.9 l-2.8,9.3" stroke="#cfe3e0" stroke-width="0.4" fill="none"/>
<path d="M286.2,224.0 l8.0,1.7 l6.7,-0.1" stroke="#cfe3e0" stroke-width="0.4" fill="none"/>
<path d="M344.0,241.7 l-8.1,11.5 l0.7,-9.4" stroke="#cfe3e0" stroke-width="0.4" fill="none"/>
<path d="M283.5,223.9 l6.9,4.2 l-7.7,5.9" stroke="#cfe3e0" stroke-width="0.4" fill="none"/>
<path d="M333.1,258.5 l2.3,-2.0 l3.8,-2.2" stroke="#cfe3e0" stroke-width="0.4" fill="none"/>
<path d="M342.9,256.3 l5.2,12.8 l9.7,0.7" stroke="#cfe3e0" stroke-width="0.4" fill="none"/>
<path d="M290.1,252.6 l12.6,-8.8 l-4.9,-4.5" stroke="#cfe3e0" stroke-width="0.4" fill="none"/>
<path d="M297.9,268.7 l1.1,-12.4 l0.2,3.9" stroke="#cfe3e0" stroke-width="0.4" fill="none"/>
<path d="M284.5,234.0 l-14.6,5.9 l-2.0,-9.7" stroke="#cfe3e0" stroke-width="0.4" fill="none"/>
<path d="M298.8,233.8 l2.1,-2.2 l-1.6,-3.4" stroke="#cfe3e0" stroke-width="0.4" fill="none"/>
<path d="M285.3,241.4 l4.0,1.1 l1.8,-6.8" stroke="#cfe3e0" stroke-width="0.4" fill="none"/>
<path d="M285.5,265.9 l6.4,4.7 l9.2,-3.9" stroke="#cfe3e0" stroke-width="0.4" fill="none"/>
<path d="M330.2,239.2 l3.0,12.2 l-0.9,2.3" stroke="#cfe3e0" stroke-width="0.4" fill="none"/>
<path d="M283,262 C290,259 300,255 310,251 C320,247 335,242 348,239 L348,244 C335,246.5 320,252 310,256 C300,261 290,266 283,268.5 Z" fill="#7dcfc1"/>
<path d="M298,279 C305,274 315,268 322,263 C330,257 338,251 348,247" stroke="#7dcfc1" stroke-width="3.2" fill="none"/>
<path d="M298,227 C304,226 310,226 314,226" stroke="#7dcfc1" stroke-width="0.7" fill="none"/><rect x="314" y="224.5" width="3" height="3" fill="#7dcfc1"/>
<path d="M315,253 C316,258 318,262 322,266" stroke="#7dcfc1" stroke-width="0.8" fill="none"/>
<ellipse cx="322" cy="236" rx="2.5" ry="1.5" fill="#7dcfc1"/>
<path fill="#2a1f1f" d="M293.1 254.2L295.4 255.0L294.7 256.8L292.5 255.9ZM289.2 253.9L290.2 255.4L289.3 256.0L288.3 254.4ZM290.2 254.9L292.4 255.9L291.6 257.5L289.5 256.5ZM291.1 256.3L294.1 253.6L295.1 254.7L292.2 257.4ZM291.2 254.7L295.2 253.9L295.5 255.3L291.6 256.2ZM289.6 255.6L290.9 254.1L291.7 254.8L290.4 256.3ZM292.6 254.2L294.4 254.7L294.0 256.0L292.2 255.5ZM290.0 257.2L291.3 254.9L292.9 255.9L291.5 258.1ZM287.1 254.0L289.9 255.8L289.1 257.0L286.3 255.1ZM289.2 254.2L291.6 252.9L292.4 254.3L290.0 255.6Z"/>
<path fill="#2a1f1f" d="M290.5 247.9L292.2 250.2L290.7 251.3L289.0 249.0ZM289.6 248.2L291.8 247.8L292.0 249.2L289.8 249.6Z"/>
<path fill="#2a1f1f" d="M302.3 251.2L304.5 252.5L303.8 253.7L301.6 252.4ZM301.5 252.0L304.0 253.0L303.4 254.6L300.9 253.6ZM301.1 254.1L302.6 251.8L304.0 252.7L302.6 255.0Z"/>
<path fill="#2a1f1f" d="M327.5 237.8L330.1 237.2L330.4 238.5L327.8 239.1ZM326.7 238.7L329.3 239.1L329.1 240.6L326.4 240.2ZM323.9 240.8L325.8 239.3L326.6 240.3L324.7 241.9ZM338.6 234.2L341.2 232.1L342.3 233.6L339.7 235.6ZM323.5 240.2L325.3 239.1L325.9 240.0L324.1 241.1ZM321.8 238.9L323.8 238.3L324.3 240.0L322.3 240.6ZM322.3 240.9L324.2 239.1L325.4 240.3L323.5 242.1ZM323.3 237.7L327.3 238.3L327.0 240.1L323.0 239.4ZM324.9 237.3L329.0 237.8L328.7 239.5L324.6 238.9ZM322.5 237.4L325.5 237.1L325.7 238.8L322.7 239.1ZM329.3 238.1L332.0 236.6L332.8 238.0L330.1 239.6ZM335.1 234.7L338.2 233.1L338.8 234.2L335.7 235.8ZM326.4 236.4L328.6 236.1L328.8 237.6L326.6 237.9ZM333.9 234.7L337.3 235.3L337.0 237.0L333.6 236.3ZM328.6 237.9L332.6 237.3L332.8 239.0L328.8 239.5ZM325.9 238.9L329.3 238.7L329.4 240.3L326.0 240.5ZM324.6 238.3L327.4 235.5L328.5 236.6L325.7 239.4ZM321.9 239.1L325.6 238.7L325.7 239.8L322.1 240.2Z"/>
<path d="M287,223 C290,235 293,245 296,252 M301,235 L302,255" stroke="#c9dfe0" stroke-width="0.5" fill="none"/>
</g>
<clipPath id="cR02"><rect x="351.2" y="223.0" width="65.80000000000001" height="56.30000000000001"/></clipPath>
<g clip-path="url(#cR02)">
<path d="M373.8,259.5 l-6.8,-8.0 l-7.0,3.7" stroke="#cfe3e0" stroke-width="0.4" fill="none"/>
<path d="M392.2,226.9 l-11.6,10.1 l-4.8,8.6" stroke="#cfe3e0" stroke-width="0.4" fill="none"/>
<path d="M415.5,268.6 l-10.9,-11.9 l6.6,-1.7" stroke="#cfe3e0" stroke-width="0.4" fill="none"/>
<path d="M353.3,228.9 l-6.5,-7.6 l-9.3,4.3" stroke="#cfe3e0" stroke-width="0.4" fill="none"/>
<path d="M355.0,239.2 l5.9,7.5 l5.8,-5.3" stroke="#cfe3e0" stroke-width="0.4" fill="none"/>
<path d="M362.4,257.9 l9.2,7.2 l4.8,-1.7" stroke="#cfe3e0" stroke-width="0.4" fill="none"/>
<path d="M398.4,274.2 l3.5,-10.6 l6.5,-9.3" stroke="#cfe3e0" stroke-width="0.4" fill="none"/>
<path d="M351.9,239.8 l-3.8,14.1 l4.7,-1.3" stroke="#cfe3e0" stroke-width="0.4" fill="none"/>
<path d="M389.0,246.4 l12.0,3.5 l-2.7,8.7" stroke="#cfe3e0" stroke-width="0.4" fill="none"/>
<path d="M404.9,246.1 l13.8,-13.3 l7.5,-1.0" stroke="#cfe3e0" stroke-width="0.4" fill="none"/>
<path d="M383.3,272.5 l-2.3,-1.9 l-5.2,3.7" stroke="#cfe3e0" stroke-width="0.4" fill="none"/>
<path d="M398.4,260.8 l-10.2,11.2 l-0.2,-7.7" stroke="#cfe3e0" stroke-width="0.4" fill="none"/>
<path d="M364.8,230.0 l-10.7,0.4 l5.0,4.0" stroke="#cfe3e0" stroke-width="0.4" fill="none"/>
<path d="M415.1,278.6 l3.7,10.7 l8.2,0.2" stroke="#cfe3e0" stroke-width="0.4" fill="none"/>
<path d="M352,240.4 C362,239.5 370,239 376.9,239.7 C382,240.5 386,241.5 389,242.7 C398,246 408,252 417,257 L417,259 C408,256 398,253 391.8,248.7 C386,246 382,244.8 376,244.8 C368,245 360,245 352,244.9 Z" fill="#7dcfc1"/>
<path d="M391.8,248.7 C396,252 400,256 403.8,256.9 C408,258 412,258 417,258" stroke="#7dcfc1" stroke-width="1.8" fill="none"/>
<path d="M398.6,221 C397,228 396,234 394.8,239 C390,248 386,255 384.4,259.9 C383,265 382.5,270 382.1,279" stroke="#dfe3c2" stroke-width="0.6" fill="none"/>
<ellipse cx="357.5" cy="260" rx="3" ry="1.6" fill="#e6ecc6"/>
<path d="M406,277 L413,274" stroke="#7dcfc1" stroke-width="1.5"/>
<path fill="#2a1f1f" d="M367.6 250.1L369.9 252.8L368.6 253.9L366.2 251.2ZM365.0 248.1L366.9 248.5L366.5 250.1L364.6 249.7ZM366.2 248.8L370.0 248.6L370.0 250.5L366.3 250.7ZM362.6 251.4L364.1 252.7L363.1 254.0L361.5 252.8ZM363.3 253.8L365.7 252.7L366.5 254.3L364.0 255.4ZM366.9 247.8L368.6 249.7L367.7 250.7L365.9 248.8ZM367.9 247.5L369.5 250.0L368.0 250.9L366.5 248.5ZM363.7 248.6L367.3 249.4L367.1 250.5L363.5 249.8ZM363.3 249.4L364.4 247.9L365.5 248.6L364.4 250.2ZM365.1 251.9L368.6 252.8L368.2 254.2L364.8 253.3ZM367.0 249.4L370.0 250.6L369.6 251.6L366.5 250.4ZM368.8 248.8L370.5 251.8L369.5 252.4L367.8 249.4ZM361.3 249.1L364.1 249.4L364.0 251.1L361.2 250.8Z"/>
<path fill="#2a1f1f" d="M374.5 250.8L375.7 252.5L374.6 253.2L373.5 251.6ZM374.5 250.4L376.4 248.9L377.2 249.9L375.3 251.3ZM375.9 249.2L378.3 251.6L377.3 252.6L374.8 250.2ZM373.8 251.1L375.6 248.3L376.9 249.1L375.0 251.9ZM374.5 248.7L377.9 251.2L377.0 252.4L373.6 249.9Z"/>
</g>
<clipPath id="cR10"><rect x="213.8" y="285.0" width="66.89999999999998" height="54.5"/></clipPath>
<g clip-path="url(#cR10)">
<path d="M256.1,318.1 l10.6,-14.2 l-3.1,3.2" stroke="#cfe3e0" stroke-width="0.4" fill="none"/>
<path d="M235.8,334.2 l-6.1,6.6 l0.7,0.4" stroke="#cfe3e0" stroke-width="0.4" fill="none"/>
<path d="M271.4,337.4 l14.4,-5.0 l0.7,-7.2" stroke="#cfe3e0" stroke-width="0.4" fill="none"/>
<path d="M266.0,318.4 l-0.4,0.5 l-2.7,-6.0" stroke="#cfe3e0" stroke-width="0.4" fill="none"/>
<path d="M244.3,322.8 l-12.6,-7.6 l-4.2,5.4" stroke="#cfe3e0" stroke-width="0.4" fill="none"/>
<path d="M246.6,332.9 l-3.1,-9.7 l-4.4,-9.4" stroke="#cfe3e0" stroke-width="0.4" fill="none"/>
<path d="M246.8,310.0 l-3.0,4.5 l1.8,-3.5" stroke="#cfe3e0" stroke-width="0.4" fill="none"/>
<path d="M259.9,293.6 l4.9,-2.9 l5.4,6.9" stroke="#cfe3e0" stroke-width="0.4" fill="none"/>
<path d="M246.3,290.5 l4.5,-14.8 l-8.6,-5.9" stroke="#cfe3e0" stroke-width="0.4" fill="none"/>
<path d="M266.9,305.3 l6.2,0.1 l1.9,-9.8" stroke="#cfe3e0" stroke-width="0.4" fill="none"/>
<path d="M276.4,308.9 l-12.6,1.8 l7.4,-0.6" stroke="#cfe3e0" stroke-width="0.4" fill="none"/>
<path d="M257.0,290.0 l-9.9,-5.3 l-9.2,2.3" stroke="#cfe3e0" stroke-width="0.4" fill="none"/>
<path d="M214.1,310.3 l5.4,-10.5 l10.0,1.9" stroke="#cfe3e0" stroke-width="0.4" fill="none"/>
<path d="M264.1,324.2 l2.0,-3.4 l2.1,4.1" stroke="#cfe3e0" stroke-width="0.4" fill="none"/>
<path d="M226.2,283 C224,290 223.5,296 224,297 C225,303 226,306 227,308.9 C229,311.5 232,313 234.4,314.1" stroke="#7dcfc1" stroke-width="2.4" fill="none"/>
<path d="M234.4,314.1 C230,315 228,316 227,316.4 C222,318.5 218,320.5 213,322.4" stroke="#7dcfc1" stroke-width="2.4" fill="none"/>
<path d="M234.4,314.1 C235,316.5 235.5,318 235.9,319.4 C241,318 245,316.5 249.4,314.9 C252,311 254,307 256.8,304.4 C259,302 261,300 262.8,299.2 C268,298.5 273,298 281,297.7" stroke="#7dcfc1" stroke-width="2.6" fill="none"/>
<path d="M235.9,320.9 C232,324 229,327 227,329.8 C224,332 221,335 216,339" stroke="#7dcfc1" stroke-width="2.2" fill="none"/>
<path d="M256.8,304.4 C254,309 253,313 252.4,317.9 C252.4,325 252.4,332 252.4,339" stroke="#7dcfc1" stroke-width="1.3" fill="none"/>
<path d="M262,298 C266,294 270,290 272,285" stroke="#7dcfc1" stroke-width="0.8" fill="none"/>
<path d="M266,306 C270,310 272,316 274,322" stroke="#7dcfc1" stroke-width="0.7" fill="none"/>
<path d="M272,325 L274,339" stroke="#7dcfc1" stroke-width="1.0" fill="none"/>
<path fill="#2a1f1f" d="M241.1 299.2L243.6 302.4L242.7 303.1L240.2 300.0ZM249.8 299.7L252.7 302.4L251.8 303.3L248.9 300.6ZM246.8 301.5L249.3 304.3L248.5 305.0L246.0 302.3ZM243.4 308.8L246.0 307.6L246.7 309.1L244.1 310.3ZM238.7 300.8L242.2 300.2L242.5 302.0L239.0 302.6ZM236.3 301.4L238.4 300.5L239.0 302.0L237.0 303.0ZM242.6 306.3L244.8 309.0L243.9 309.6L241.8 307.0ZM245.2 302.0L246.9 301.1L247.7 302.7L246.0 303.6ZM242.5 302.1L245.9 303.4L245.4 304.7L242.0 303.4ZM249.0 300.5L251.1 302.2L250.0 303.5L248.0 301.7ZM248.1 302.5L250.6 304.9L249.6 306.0L247.1 303.7ZM238.5 300.6L240.4 301.7L239.8 302.8L237.9 301.8ZM245.4 302.2L246.5 303.8L245.4 304.5L244.3 302.9ZM236.5 308.0L239.1 307.2L239.5 308.7L236.9 309.5ZM248.5 306.5L251.9 307.1L251.6 308.5L248.2 307.9ZM238.1 305.7L242.0 305.5L242.1 306.5L238.1 306.8ZM241.6 304.8L245.7 304.4L245.9 305.9L241.7 306.3ZM236.7 301.8L240.1 303.8L239.3 305.1L235.9 303.2ZM249.2 306.1L251.7 309.2L250.2 310.4L247.7 307.3ZM245.5 304.4L247.4 304.3L247.5 306.1L245.6 306.2ZM239.1 304.0L242.4 302.5L243.1 304.0L239.8 305.5ZM238.8 303.1L240.3 304.5L239.3 305.6L237.7 304.2ZM240.5 303.1L243.7 300.6L244.4 301.5L241.2 304.0Z"/>
<path fill="#2a1f1f" d="M265.8 301.5L268.3 300.5L268.7 301.5L266.3 302.5ZM268.2 300.8L270.2 302.2L269.2 303.5L267.3 302.1ZM267.7 299.4L269.5 299.6L269.4 300.7L267.5 300.4ZM264.7 302.3L266.4 300.7L267.4 301.7L265.6 303.4ZM267.4 300.7L269.4 299.3L270.2 300.3L268.2 301.7ZM264.5 302.3L265.5 300.6L266.6 301.3L265.5 303.0Z"/>
</g>
<clipPath id="cR11"><rect x="282.8" y="285.0" width="64.80000000000001" height="54.5"/></clipPath>
<g clip-path="url(#cR11)">
<path d="M318.5,312.5 l12.5,-14.2 l9.1,-7.5" stroke="#cfe3e0" stroke-width="0.4" fill="none"/>
<path d="M306.0,335.0 l10.9,12.2 l-6.5,-7.0" stroke="#cfe3e0" stroke-width="0.4" fill="none"/>
<path d="M305.6,303.1 l2.9,-13.7 l1.6,-9.9" stroke="#cfe3e0" stroke-width="0.4" fill="none"/>
<path d="M303.7,315.0 l-7.1,6.6 l5.0,2.4" stroke="#cfe3e0" stroke-width="0.4" fill="none"/>
<path d="M311.9,307.4 l0.4,10.1 l10.0,-5.6" stroke="#cfe3e0" stroke-width="0.4" fill="none"/>
<path d="M338.3,326.1 l1.1,-1.6 l5.4,9.6" stroke="#cfe3e0" stroke-width="0.4" fill="none"/>
<path d="M316.4,286.5 l3.0,-9.1 l-7.8,1.6" stroke="#cfe3e0" stroke-width="0.4" fill="none"/>
<path d="M300.4,327.3 l-2.9,10.9 l-8.8,9.1" stroke="#cfe3e0" stroke-width="0.4" fill="none"/>
<path d="M327.3,287.3 l-6.8,12.9 l6.2,-8.8" stroke="#cfe3e0" stroke-width="0.4" fill="none"/>
<path d="M334.2,308.3 l-2.0,9.1 l-6.8,2.6" stroke="#cfe3e0" stroke-width="0.4" fill="none"/>
<path d="M302.3,331.7 l12.8,12.9 l-6.3,-8.5" stroke="#cfe3e0" stroke-width="0.4" fill="none"/>
<path d="M311.0,292.0 l-8.2,1.4 l5.1,1.5" stroke="#cfe3e0" stroke-width="0.4" fill="none"/>
<path d="M347.5,325.8 l14.1,3.6 l-2.7,9.2" stroke="#cfe3e0" stroke-width="0.4" fill="none"/>
<path d="M320.9,319.2 l-10.6,-12.2 l-9.9,-7.4" stroke="#cfe3e0" stroke-width="0.4" fill="none"/>
<path d="M289,284 C290,290 291,297 290.5,304.4 C290,310 289.5,315 289,319.4 C287,323 285,326 283,329.8" stroke="#7dcfc1" stroke-width="1.3" fill="none"/>
<path d="M283,334.3 C290,332 295,330 299.4,328.3 C303,325 306,322 309.9,319.4 C313,315 316,312 318.9,308.9 C323,304 327,300 330.8,297 C333,293 331,289 329.3,286.5 C331,284 334,283 336,284" stroke="#7dcfc1" stroke-width="1.9" fill="none"/>
<path d="M330.8,297 C335,292 339,288 342.8,285" stroke="#7dcfc1" stroke-width="1.0" fill="none"/>
<path d="M321.9,339 C326,337 329,335.5 332.3,334.3 C335,330 337,326 339.8,323.9 C342,324 345,325 348,325.3" stroke="#7dcfc1" stroke-width="1.5" fill="none"/>
<path d="M299,328 C305,322 312,318 318,317 C326,316 332,314 340,311" stroke="#7dcfc1" stroke-width="0.6" fill="none"/>
<path d="M294,305 C300,308 305,309 309,310" stroke="#7dcfc1" stroke-width="0.5" fill="none"/>
<path fill="#2a1f1f" d="M309.2 300.2L312.6 299.2L312.9 300.5L309.6 301.5ZM311.4 303.6L314.6 301.6L315.6 303.1L312.4 305.2ZM311.1 301.6L313.8 299.6L314.6 300.6L311.9 302.6ZM319.0 300.8L321.0 297.9L322.3 298.8L320.3 301.7ZM308.8 303.0L311.8 301.0L312.8 302.5L309.9 304.6ZM305.8 306.6L309.7 305.7L309.9 306.8L306.0 307.7ZM309.0 298.7L311.6 298.3L311.8 299.6L309.3 300.1ZM309.0 298.3L312.2 298.2L312.2 299.7L309.0 299.7ZM307.5 302.7L310.4 300.2L311.1 301.1L308.3 303.6ZM313.2 296.3L314.6 298.2L313.6 298.9L312.2 297.0ZM315.4 300.2L318.6 301.0L318.2 302.3L315.1 301.6ZM316.1 297.9L318.2 299.3L317.2 300.9L315.0 299.5ZM314.2 303.3L316.3 304.8L315.6 305.8L313.5 304.3ZM309.8 301.7L313.7 301.8L313.6 303.4L309.8 303.3ZM313.7 297.9L316.8 299.6L316.2 300.8L313.0 299.0ZM318.0 302.7L320.0 305.4L319.1 306.1L317.1 303.4ZM312.1 308.0L314.8 307.2L315.3 308.9L312.6 309.7ZM310.9 299.4L314.3 297.9L314.9 299.3L311.5 300.8ZM305.9 307.2L307.5 306.3L308.1 307.5L306.5 308.3ZM315.7 297.1L319.4 297.2L319.4 299.0L315.6 298.9ZM314.3 303.4L316.6 301.2L317.5 302.2L315.3 304.4ZM307.4 302.3L309.4 302.9L308.9 304.5L306.9 303.8ZM318.0 300.7L320.8 300.6L320.8 301.9L318.0 301.9ZM317.0 305.9L318.6 307.6L317.3 308.8L315.7 307.1ZM312.3 303.3L315.3 300.7L316.3 301.9L313.2 304.5ZM318.4 300.2L320.5 299.5L321.0 301.1L318.9 301.8ZM320.1 299.6L322.2 300.9L321.6 301.9L319.5 300.5ZM310.3 295.8L311.6 298.2L310.2 299.0L308.8 296.6ZM319.8 305.4L323.7 305.2L323.7 306.7L319.9 306.9ZM309.8 309.4L312.6 306.9L313.3 307.7L310.5 310.2ZM318.7 307.3L322.9 307.1L322.9 308.4L318.7 308.5ZM317.6 299.2L319.9 297.1L320.6 297.9L318.3 300.0ZM311.5 305.8L312.7 304.3L313.8 305.3L312.6 306.7ZM308.7 308.3L312.3 306.1L312.9 307.1L309.3 309.2ZM308.6 297.9L311.1 298.3L310.9 299.4L308.4 298.9ZM312.3 302.2L314.9 305.0L313.5 306.3L310.9 303.5ZM307.2 306.3L309.0 307.2L308.3 308.6L306.5 307.6ZM310.7 306.1L313.6 304.7L314.4 306.3L311.5 307.8ZM314.7 300.8L316.1 302.7L314.8 303.7L313.4 301.8Z"/>
</g>
<clipPath id="cR12"><rect x="351.2" y="285.0" width="65.80000000000001" height="54.5"/></clipPath>
<g clip-path="url(#cR12)">
<path d="M399.3,310.0 l-3.2,-6.3 l9.6,7.2" stroke="#cfe3e0" stroke-width="0.4" fill="none"/>
<path d="M361.6,286.0 l-2.3,12.4 l-5.6,4.7" stroke="#cfe3e0" stroke-width="0.4" fill="none"/>
<path d="M408.3,303.1 l3.9,4.1 l-8.0,3.9" stroke="#cfe3e0" stroke-width="0.4" fill="none"/>
<path d="M369.0,286.1 l-7.5,13.8 l-8.5,-5.7" stroke="#cfe3e0" stroke-width="0.4" fill="none"/>
<path d="M391.6,295.1 l4.1,7.4 l0.1,3.6" stroke="#cfe3e0" stroke-width="0.4" fill="none"/>
<path d="M398.4,321.8 l14.4,-7.7 l-9.1,-4.2" stroke="#cfe3e0" stroke-width="0.4" fill="none"/>
<path d="M415.3,308.0 l-0.1,2.9 l3.3,-10.0" stroke="#cfe3e0" stroke-width="0.4" fill="none"/>
<path d="M386.2,287.1 l-0.3,-14.6 l-7.6,1.4" stroke="#cfe3e0" stroke-width="0.4" fill="none"/>
<path d="M381.8,297.8 l9.4,-8.9 l-7.2,-6.0" stroke="#cfe3e0" stroke-width="0.4" fill="none"/>
<path d="M374.6,311.3 l11.0,-6.5 l5.3,4.1" stroke="#cfe3e0" stroke-width="0.4" fill="none"/>
<path d="M391.0,296.3 l-9.2,12.2 l-1.7,5.7" stroke="#cfe3e0" stroke-width="0.4" fill="none"/>
<path d="M358.9,336.1 l-12.5,-6.5 l1.1,6.7" stroke="#cfe3e0" stroke-width="0.4" fill="none"/>
<path d="M414.1,292.6 l-13.2,-5.3 l0.5,2.2" stroke="#cfe3e0" stroke-width="0.4" fill="none"/>
<path d="M407.4,331.9 l5.9,13.4 l7.1,-9.0" stroke="#cfe3e0" stroke-width="0.4" fill="none"/>
<rect x="352.2" y="284.2" width="11.2" height="4.5" fill="#5a5252"/>
<path d="M353,301.4 C357,299 361,296 365,294 C369,292 373,290 376.9,288.7 C381,288.5 385,289 388.9,289.5 C394,291 399,293 403.8,295.5 C408,298 411,301 414.3,304.4 C412,307 411,310 409.8,313.4 C408.5,317 407.5,321 406.8,325.3 C403,328 400,330 396.3,331.3 C391,333.5 387,335.5 382.9,337.3" stroke="#7dcfc1" stroke-width="1.4" fill="none"/>
<path d="M353,308.9 C360,307.5 367,306.5 373.9,305.9 C376,307 377,309 378.4,310.4 C372,313 364,316 356,318" stroke="#7dcfc1" stroke-width="1.0" fill="none"/>
<path d="M363.4,288.7 C366,292 362,295 358,296" stroke="#7dcfc1" stroke-width="0.8" fill="none"/>
<path d="M384,306 C388,304 392,303 396,303" stroke="#7dcfc1" stroke-width="1.6" fill="none"/>
<path d="M378,318 C376,324 378,330 381,334" stroke="#7dcfc1" stroke-width="0.7" fill="none"/>
<path d="M360,325 C365,322 370,320 375,318" stroke="#7dcfc1" stroke-width="0.6" fill="none"/>
<path fill="#2a1f1f" d="M399.1 298.2L399.1 300.6L397.6 300.7L397.6 298.3ZM406.3 316.0L408.8 318.0L407.9 319.2L405.4 317.1ZM398.0 317.7L395.6 321.0L394.2 320.0L396.6 316.7ZM408.3 300.6L406.5 303.0L405.7 302.4L407.5 300.0ZM407.7 314.9L408.3 318.2L407.0 318.4L406.4 315.2ZM391.1 302.4L393.2 305.2L392.2 306.0L390.0 303.3ZM408.8 306.3L409.3 309.2L408.1 309.4L407.6 306.5ZM412.4 306.7L411.5 308.6L409.9 307.8L410.8 305.9ZM393.7 298.4L392.1 300.4L391.1 299.6L392.6 297.6ZM391.8 313.2L393.9 315.2L393.1 316.0L391.0 314.0ZM402.0 301.4L401.1 303.1L399.4 302.2L400.3 300.5ZM405.7 314.2L406.7 316.0L405.3 316.9L404.2 315.1ZM403.9 309.0L402.6 310.6L401.2 309.4L402.5 307.8ZM404.2 308.2L405.9 309.3L405.3 310.3L403.5 309.1ZM410.1 318.3L407.8 321.0L406.9 320.2L409.2 317.5ZM411.8 298.0L412.0 301.2L410.9 301.3L410.7 298.0ZM394.2 311.0L394.9 314.4L393.3 314.7L392.6 311.3ZM403.1 299.2L402.9 303.2L401.3 303.2L401.5 299.1ZM405.2 317.6L406.3 319.5L405.2 320.2L404.0 318.3ZM397.9 315.8L398.1 318.9L396.9 319.0L396.7 315.9ZM399.7 316.8L402.4 319.9L401.1 321.0L398.4 317.9ZM409.4 316.9L409.7 319.8L408.6 320.0L408.2 317.1ZM404.9 314.3L406.2 315.8L404.8 317.0L403.5 315.5ZM398.9 301.3L401.4 304.7L400.3 305.5L397.7 302.2ZM394.1 297.3L395.7 298.8L394.5 300.0L393.0 298.6ZM407.3 314.5L409.1 316.9L407.9 317.8L406.1 315.4ZM406.9 312.7L408.2 315.4L406.9 316.1L405.6 313.3ZM396.1 304.6L394.6 308.5L393.2 308.0L394.6 304.1ZM393.1 316.6L395.1 319.0L394.1 319.9L392.0 317.5ZM393.5 308.0L391.5 309.7L390.4 308.4L392.4 306.7ZM403.6 318.2L403.6 320.1L401.8 320.1L401.8 318.1ZM410.8 316.0L412.4 318.5L411.1 319.3L409.5 316.9ZM397.3 317.0L394.7 318.7L394.0 317.6L396.5 315.8ZM396.2 298.8L394.1 300.8L393.1 299.8L395.2 297.8ZM406.1 301.5L403.1 303.5L402.3 302.3L405.2 300.3ZM397.3 300.6L397.0 302.9L395.9 302.8L396.2 300.5ZM400.2 307.9L400.6 310.8L399.0 311.0L398.5 308.1ZM393.5 299.8L391.9 301.3L391.0 300.3L392.6 298.8ZM400.4 306.7L402.2 308.0L401.6 308.9L399.8 307.5ZM396.8 303.5L397.6 306.8L395.9 307.2L395.1 303.8ZM407.6 302.7L409.9 305.7L408.8 306.5L406.6 303.5ZM410.6 318.7L410.2 321.4L408.6 321.1L409.0 318.5ZM398.3 303.7L398.0 305.7L396.7 305.4L397.0 303.5ZM396.7 316.8L396.8 318.9L395.2 318.9L395.1 316.9ZM404.8 309.3L403.7 310.8L402.7 310.0L403.8 308.6ZM412.2 303.5L410.1 306.9L409.0 306.3L411.2 302.9Z"/>
</g>
<clipPath id="cR20"><rect x="213.8" y="346.3" width="66.89999999999998" height="55.5"/></clipPath>
<g clip-path="url(#cR20)">
<path d="M226.1,359.7 l5.2,3.3 l3.4,0.3" stroke="#cfe3e0" stroke-width="0.4" fill="none"/>
<path d="M237.1,390.4 l2.6,-7.6 l-4.6,1.7" stroke="#cfe3e0" stroke-width="0.4" fill="none"/>
<path d="M225.7,394.9 l-3.8,10.0 l0.8,-3.0" stroke="#cfe3e0" stroke-width="0.4" fill="none"/>
<path d="M228.9,400.7 l-9.2,2.8 l1.3,9.5" stroke="#cfe3e0" stroke-width="0.4" fill="none"/>
<path d="M241.7,357.5 l-1.3,-0.6 l-4.6,1.9" stroke="#cfe3e0" stroke-width="0.4" fill="none"/>
<path d="M215.8,346.5 l-0.2,10.7 l8.4,-1.9" stroke="#cfe3e0" stroke-width="0.4" fill="none"/>
<path d="M258.7,366.5 l-11.1,8.8 l-0.9,8.9" stroke="#cfe3e0" stroke-width="0.4" fill="none"/>
<path d="M244.8,374.1 l5.4,-4.6 l1.0,8.9" stroke="#cfe3e0" stroke-width="0.4" fill="none"/>
<path d="M241.7,352.4 l1.8,2.8 l2.4,9.7" stroke="#cfe3e0" stroke-width="0.4" fill="none"/>
<path d="M257.6,384.0 l-12.8,-8.6 l5.3,-5.3" stroke="#cfe3e0" stroke-width="0.4" fill="none"/>
<path d="M224.9,388.0 l-5.8,-12.6 l4.5,-3.6" stroke="#cfe3e0" stroke-width="0.4" fill="none"/>
<path d="M261.8,400.9 l-12.6,-14.3 l1.4,7.1" stroke="#cfe3e0" stroke-width="0.4" fill="none"/>
<path d="M253.0,376.9 l-12.8,-6.6 l2.0,3.2" stroke="#cfe3e0" stroke-width="0.4" fill="none"/>
<path d="M253.2,372.5 l-6.2,7.3 l0.8,-5.8" stroke="#cfe3e0" stroke-width="0.4" fill="none"/>
<path d="M235.2,345 C230,352 225,358 220,365 C218,368 216,370 213,373" stroke="#7dcfc1" stroke-width="3.0" fill="none"/>
<path d="M242.9,345 C242,360 241,375 239,390 C238,395 237,398 236.7,402" stroke="#7dcfc1" stroke-width="1.8" fill="none"/>
<path d="M235.2,354.4 C235,370 235.5,385 235.2,402" stroke="#7dcfc1" stroke-width="1.0" fill="none"/>
<path d="M256.8,345 C254,350 252.5,355 252.2,360.5 C253,365 255,368 256.8,371.4 C257,376 256.5,380 255.3,383.7 C251,388 247,391 242.9,393 C240,395 239,398 238,402" stroke="#7dcfc1" stroke-width="2.4" fill="none"/>
<path d="M273.8,345 C272,360 270,375 268,388 C266.5,394 265.5,398 264.5,402" stroke="#7dcfc1" stroke-width="3.6" fill="none"/>
<path d="M280,345 C278,360 275,378 270.7,402" stroke="#7dcfc1" stroke-width="2.4" fill="none"/>
<path d="M264,345 C262,355 261,365 260,372" stroke="#7dcfc1" stroke-width="0.8" fill="none"/>
<path fill="#2a1f1f" d="M246.5 371.4L250.0 369.4L250.7 370.5L247.2 372.5ZM249.0 371.4L252.6 369.8L253.0 370.8L249.4 372.4ZM248.9 374.9L250.4 377.5L249.4 378.1L247.8 375.5ZM249.3 370.4L253.4 369.7L253.6 371.0L249.6 371.7ZM250.3 375.8L253.4 374.6L253.8 375.6L250.7 376.8ZM249.2 372.7L252.3 374.3L251.7 375.3L248.7 373.7ZM251.5 370.8L254.0 370.4L254.2 371.7L251.7 372.1ZM250.0 371.2L251.2 369.8L252.2 370.6L250.9 372.1ZM253.1 372.9L254.4 374.4L253.1 375.6L251.8 374.2ZM248.1 374.1L249.2 375.6L248.3 376.3L247.1 374.8ZM251.0 373.2L254.9 372.4L255.2 373.8L251.2 374.5Z"/>
</g>
<clipPath id="cR21"><rect x="282.8" y="346.3" width="64.80000000000001" height="55.5"/></clipPath>
<g clip-path="url(#cR21)">
<path d="M321.3,348.0 l-7.1,-11.6 l-9.8,6.9" stroke="#cfe3e0" stroke-width="0.4" fill="none"/>
<path d="M290.5,375.6 l8.0,8.5 l4.5,8.2" stroke="#cfe3e0" stroke-width="0.4" fill="none"/>
<path d="M314.4,365.0 l12.2,-13.3 l-3.1,-0.1" stroke="#cfe3e0" stroke-width="0.4" fill="none"/>
<path d="M340.7,362.9 l5.8,-8.9 l7.9,-4.4" stroke="#cfe3e0" stroke-width="0.4" fill="none"/>
<path d="M306.7,392.8 l9.5,-0.8 l-6.7,-7.8" stroke="#cfe3e0" stroke-width="0.4" fill="none"/>
<path d="M313.9,394.4 l-5.8,-11.3 l-8.0,4.5" stroke="#cfe3e0" stroke-width="0.4" fill="none"/>
<path d="M290.1,362.3 l-10.6,-10.5 l3.4,6.4" stroke="#cfe3e0" stroke-width="0.4" fill="none"/>
<path d="M344.8,391.8 l6.7,2.3 l-8.9,-5.0" stroke="#cfe3e0" stroke-width="0.4" fill="none"/>
<path d="M309.2,370.0 l-5.2,-2.4 l-0.9,-2.0" stroke="#cfe3e0" stroke-width="0.4" fill="none"/>
<path d="M312.5,381.2 l8.2,-2.5 l6.6,9.4" stroke="#cfe3e0" stroke-width="0.4" fill="none"/>
<path d="M331.1,380.5 l-13.6,0.6 l0.1,4.1" stroke="#cfe3e0" stroke-width="0.4" fill="none"/>
<path d="M312.3,361.4 l7.2,-4.7 l0.2,6.1" stroke="#cfe3e0" stroke-width="0.4" fill="none"/>
<path d="M324.1,358.1 l10.2,3.9 l5.9,-3.1" stroke="#cfe3e0" stroke-width="0.4" fill="none"/>
<path d="M337.4,365.9 l14.3,-12.4 l-2.0,-1.4" stroke="#cfe3e0" stroke-width="0.4" fill="none"/>
<path d="M341.8,345 L348,345 C346,360 342,375 336,388 C334,394 332,398 331,402 L318.6,402 C322,395 326,388 330,378 C334,368 338,357 341.8,345 Z" fill="#7dcfc1"/>
<path d="M283,350 C295,348 310,347 325,346" stroke="#a6dcd2" stroke-width="0.6" fill="none"/>
<path d="M300,346 C303,355 306,362 310,368" stroke="#a6dcd2" stroke-width="0.6" fill="none"/>
<path d="M316,375 C322,370 328,362 332,356" stroke="#a6dcd2" stroke-width="0.6" fill="none"/>
<path d="M285,372 C290,376 295,380 298,383" stroke="#a6dcd2" stroke-width="0.5" fill="none"/>
<path d="M300,390 C305,392 310,394 316,396" stroke="#a6dcd2" stroke-width="0.5" fill="none"/>
<path d="M297,374 L301,371 L304,376 L307,373 L308,369 L312,367 L314,370 L312,374 L309,378 L306,383 L303,388 L300,386 L301,381 L297,378 Z" fill="#2a1f1f"/><path d="M299,375 L304,381 M306,371 L310,375" stroke="#fff" stroke-width="0.4"/>
</g>
<clipPath id="cR22"><rect x="351.2" y="346.3" width="65.80000000000001" height="55.5"/></clipPath>
<g clip-path="url(#cR22)">
<path d="M375.7,397.4 l8.0,11.2 l-3.3,9.4" stroke="#cfe3e0" stroke-width="0.4" fill="none"/>
<path d="M376.8,355.4 l12.0,13.4 l10.0,-2.8" stroke="#cfe3e0" stroke-width="0.4" fill="none"/>
<path d="M395.2,386.1 l-7.1,-12.8 l0.1,-3.3" stroke="#cfe3e0" stroke-width="0.4" fill="none"/>
<path d="M393.5,360.4 l-0.4,-3.5 l-5.7,8.6" stroke="#cfe3e0" stroke-width="0.4" fill="none"/>
<path d="M365.2,364.2 l-5.2,13.5 l2.8,6.9" stroke="#cfe3e0" stroke-width="0.4" fill="none"/>
<path d="M368.3,358.3 l13.4,-13.3 l8.8,8.4" stroke="#cfe3e0" stroke-width="0.4" fill="none"/>
<path d="M414.2,377.1 l3.4,-6.5 l-2.1,-5.4" stroke="#cfe3e0" stroke-width="0.4" fill="none"/>
<path d="M357.6,365.5 l-11.4,3.1 l-9.9,0.8" stroke="#cfe3e0" stroke-width="0.4" fill="none"/>
<path d="M361.4,374.0 l9.1,-10.4 l-3.4,4.5" stroke="#cfe3e0" stroke-width="0.4" fill="none"/>
<path d="M414.0,381.2 l6.3,-3.4 l4.1,-8.2" stroke="#cfe3e0" stroke-width="0.4" fill="none"/>
<path d="M410.5,377.4 l3.9,8.1 l1.0,5.8" stroke="#cfe3e0" stroke-width="0.4" fill="none"/>
<path d="M371.0,389.5 l-2.3,-10.7 l3.3,6.8" stroke="#cfe3e0" stroke-width="0.4" fill="none"/>
<path d="M404.8,380.5 l8.4,-3.4 l-4.4,3.5" stroke="#cfe3e0" stroke-width="0.4" fill="none"/>
<path d="M353.3,362.0 l-13.5,13.2 l1.2,7.0" stroke="#cfe3e0" stroke-width="0.4" fill="none"/>
<path d="M351.6,365.2 C358,362 364,359.5 370.2,357.5 C378,355 386,353 393.4,351.3 C400,349.5 408,347.5 417,346 L417,359 C408,360 400,361 393.4,362.1 C386,363.5 378,365 370.2,366.7 C364,368.5 358,370.5 351.6,372.9 Z" fill="#7dcfc1"/>
<path d="M395,375 C402,373 408,371 417,369" stroke="#7dcfc1" stroke-width="1.3" fill="none"/>
<path d="M385,380 C383,386 384,392 388,396 C394,399 400,397 405,392" stroke="#7dcfc1" stroke-width="0.9" fill="none"/>
<path d="M372,375 C371,382 371,390 372,398" stroke="#7dcfc1" stroke-width="0.6" fill="none"/>
<path d="M362,378 C360,385 358,392 356,400" stroke="#7dcfc1" stroke-width="0.6" fill="none"/>
<path d="M395,383 C400,388 405,390 412,392" stroke="#7dcfc1" stroke-width="0.7" fill="none"/>
<path d="M410,386 C410,392 411,397 412,401" stroke="#7dcfc1" stroke-width="0.5" fill="none"/>
<path d="M378,395 C382,398 386,400 390,401" stroke="#7dcfc1" stroke-width="0.9" fill="none"/>
<path fill="#2a1f1f" d="M393.7 378.1L392.7 381.0L391.0 380.4L392.0 377.5ZM391.9 371.5L393.4 373.8L392.4 374.5L390.9 372.2ZM391.5 376.3L394.0 379.6L393.2 380.2L390.6 377.0ZM390.9 376.0L390.4 379.6L389.0 379.4L389.5 375.8ZM388.7 371.3L388.5 374.4L387.4 374.3L387.5 371.3ZM394.2 375.4L390.9 377.5L390.1 376.1L393.3 374.0ZM395.5 380.1L393.6 383.5L392.1 382.7L394.0 379.3ZM393.1 378.0L390.3 381.1L389.3 380.2L392.1 377.1ZM393.4 372.6L391.8 374.1L391.0 373.2L392.5 371.7ZM390.4 376.2L392.4 378.1L391.7 379.0L389.6 377.0ZM389.7 369.4L392.7 372.2L391.6 373.3L388.6 370.5ZM391.7 376.4L392.7 378.6L391.2 379.3L390.1 377.1ZM387.6 373.9L385.6 376.1L384.8 375.4L386.8 373.2ZM386.5 375.4L388.3 377.6L387.4 378.3L385.7 376.1ZM389.6 371.1L389.7 373.2L387.8 373.3L387.7 371.3ZM387.3 379.2L387.1 381.4L385.5 381.3L385.8 379.1ZM391.0 370.7L393.7 373.4L392.7 374.5L390.0 371.8ZM388.6 371.3L387.6 373.4L385.9 372.6L387.0 370.5ZM387.6 374.1L386.7 376.9L385.5 376.6L386.3 373.7ZM389.6 377.5L391.6 378.7L390.7 380.2L388.7 378.9ZM390.3 373.5L391.5 375.1L390.4 375.9L389.2 374.4ZM390.0 377.3L392.7 378.9L391.7 380.5L389.0 378.9ZM392.6 371.8L394.9 374.5L393.6 375.6L391.3 372.9ZM393.5 373.1L391.0 376.0L390.1 375.2L392.6 372.3ZM389.0 379.0L386.2 380.8L385.1 379.3L387.9 377.4ZM387.5 376.2L390.1 379.3L389.0 380.2L386.5 377.2Z"/>
</g>
<rect x="8.8" y="223.0" width="9.8" height="56.30000000000001" fill="#f4b872"/>
<text transform="translate(16.90,276.6) rotate(-90)" font-size="8.7" font-weight="bold" fill="#111">Upper Delta</text>
<rect x="96.3" y="223.0" width="13.7" height="56.30000000000001" fill="#f4b872"/>
<text transform="translate(102.60,272.7) rotate(-90)" font-size="7.6" stroke="#111" stroke-width="0.22" textLength="45.6" lengthAdjust="spacingAndGlyphs" fill="#111">Water Network</text>
<text transform="translate(108.60,272.7) rotate(-90)" font-size="7.6" stroke="#111" stroke-width="0.22" textLength="38.3" lengthAdjust="spacingAndGlyphs" fill="#111">Density 16%</text>
<rect x="192.3" y="223.0" width="21.4" height="56.30000000000001" fill="#f4b872"/>
<text transform="translate(200.80,278.5) rotate(-90)" font-size="6.3" stroke="#111" stroke-width="0.22" fill="#111">Along the River</text>
<text transform="translate(208.90,278.5) rotate(-90)" font-size="6.3" stroke="#111" stroke-width="0.22" fill="#111">Within 100 meters</text>
<rect x="8.8" y="285.0" width="9.8" height="54.5" fill="#8cc8ee"/>
<text transform="translate(16.90,336.8) rotate(-90)" font-size="8.7" font-weight="bold" fill="#111">Middle Delta</text>
<rect x="96.3" y="285.0" width="13.7" height="54.5" fill="#8cc8ee"/>
<text transform="translate(102.60,332.9) rotate(-90)" font-size="7.6" stroke="#111" stroke-width="0.22" textLength="45.6" lengthAdjust="spacingAndGlyphs" fill="#111">Water Network</text>
<text transform="translate(108.60,332.9) rotate(-90)" font-size="7.6" stroke="#111" stroke-width="0.22" textLength="38.3" lengthAdjust="spacingAndGlyphs" fill="#111">Density 26%</text>
<rect x="192.3" y="285.0" width="21.4" height="54.5" fill="#8cc8ee"/>
<text transform="translate(198.40,336.9) rotate(-90)" font-size="6.2" font-weight="bold" fill="#111">Along the Creek</text>
<text transform="translate(203.60,336.9) rotate(-90)" font-size="6.2" font-weight="bold" fill="#111">Adjacent to</text>
<text transform="translate(208.80,336.9) rotate(-90)" font-size="6.2" font-weight="bold" fill="#111">the Creek</text>
<rect x="8.8" y="346.3" width="9.8" height="55.5" fill="#a68ce0"/>
<text transform="translate(16.90,399.1) rotate(-90)" font-size="8.7" font-weight="bold" fill="#111">Lower Delta</text>
<rect x="96.3" y="346.3" width="13.7" height="55.5" fill="#a68ce0"/>
<text transform="translate(102.60,395.2) rotate(-90)" font-size="7.6" stroke="#111" stroke-width="0.22" textLength="45.6" lengthAdjust="spacingAndGlyphs" fill="#111">Water Network</text>
<text transform="translate(108.60,395.2) rotate(-90)" font-size="7.6" stroke="#111" stroke-width="0.22" textLength="38.3" lengthAdjust="spacingAndGlyphs" fill="#111">Density 27%</text>
<rect x="192.3" y="346.3" width="21.4" height="55.5" fill="#a68ce0"/>
<text transform="translate(198.40,399.2) rotate(-90)" font-size="6.2" font-weight="bold" fill="#111">Along the Creek</text>
<text transform="translate(203.60,399.2) rotate(-90)" font-size="6.2" font-weight="bold" fill="#111">Adjacent to</text>
<text transform="translate(208.80,399.2) rotate(-90)" font-size="6.2" font-weight="bold" fill="#111">the Creek</text>
<rect x="422.2" y="224" width="54.1" height="8.2" fill="#8fd0ec"/>
<rect x="422.2" y="233.7" width="54.1" height="3.4" fill="#b7df8c"/>
<rect x="422.2" y="266.6" width="54.1" height="3.7" fill="#b7df8c"/>
<rect x="422.2" y="271.8" width="54.1" height="6.7" fill="#8fd0ec"/>
<rect x="422.2" y="238.2" width="15.100000000000023" height="13.400000000000006" fill="#c8c6c8"/>
<rect x="424.5" y="240.9" width="4.2" height="3.2" fill="#b8def6"/>
<rect x="430.5" y="240.2" width="4.5" height="3.4" fill="#b8def6"/>
<rect x="427.5" y="245.6" width="4.8" height="3.6" fill="#b8def6"/>
<rect x="422.2" y="253.1" width="15.100000000000023" height="12.000000000000028" fill="#c8c6c8"/>
<rect x="424.5" y="255.5" width="4.2" height="3.2" fill="#b8def6"/>
<rect x="430.5" y="254.9" width="4.5" height="3.4" fill="#b8def6"/>
<rect x="427.5" y="259.7" width="4.8" height="3.6" fill="#b8def6"/>
<rect x="441.9" y="238.2" width="15.800000000000011" height="13.400000000000006" fill="#c8c6c8"/>
<rect x="444.3" y="240.9" width="4.4" height="3.3" fill="#b8def6"/>
<rect x="450.6" y="240.2" width="4.7" height="3.6" fill="#b8def6"/>
<rect x="447.4" y="245.6" width="5.1" height="3.8" fill="#b8def6"/>
<rect x="441.9" y="253.1" width="15.800000000000011" height="12.000000000000028" fill="#c8c6c8"/>
<rect x="444.3" y="255.5" width="4.4" height="3.3" fill="#b8def6"/>
<rect x="450.6" y="254.9" width="4.7" height="3.6" fill="#b8def6"/>
<rect x="447.4" y="259.7" width="5.1" height="3.8" fill="#b8def6"/>
<rect x="460.7" y="238.2" width="15.600000000000023" height="13.400000000000006" fill="#c8c6c8"/>
<rect x="463.0" y="240.9" width="4.4" height="3.3" fill="#b8def6"/>
<rect x="469.3" y="240.2" width="4.7" height="3.5" fill="#b8def6"/>
<rect x="466.2" y="245.6" width="5.0" height="3.7" fill="#b8def6"/>
<rect x="460.7" y="253.1" width="15.600000000000023" height="12.000000000000028" fill="#c8c6c8"/>
<rect x="463.0" y="255.5" width="4.4" height="3.3" fill="#b8def6"/>
<rect x="469.3" y="254.9" width="4.7" height="3.5" fill="#b8def6"/>
<rect x="466.2" y="259.7" width="5.0" height="3.7" fill="#b8def6"/>
<circle cx="471.5" cy="229.7" r="0.75" fill="#111"/>
<path d="M471.5,229.7 L478,230.1 L528.7,230.1" stroke="#8a8a8a" stroke-width="0.4" fill="none"/>
<text x="479.6" y="229.6" font-size="5.4" fill="#111">mainstream river</text>
<circle cx="464.6" cy="236.2" r="0.75" fill="#111"/>
<path d="M464.6,236.2 L478,236.6 L540.5,236.6" stroke="#8a8a8a" stroke-width="0.4" fill="none"/>
<text x="479.6" y="236.1" font-size="5.4" fill="#111">Farmland、Green Space</text>
<circle cx="474.8" cy="248.7" r="0.75" fill="#111"/>
<path d="M474.8,248.7 L478,249.1 L511.0,249.1" stroke="#8a8a8a" stroke-width="0.4" fill="none"/>
<text x="479.6" y="248.6" font-size="5.4" fill="#111">Settlement</text>
<circle cx="474.8" cy="260.6" r="0.75" fill="#111"/>
<path d="M474.8,260.6 L478,260.5 L493.3,260.5" stroke="#8a8a8a" stroke-width="0.4" fill="none"/>
<text x="479.6" y="260.0" font-size="5.4" fill="#111">Pond</text>
<circle cx="463.6" cy="268.5" r="0.75" fill="#111"/>
<path d="M463.6,268.5 L478,268.59999999999997 L540.5,268.59999999999997" stroke="#8a8a8a" stroke-width="0.4" fill="none"/>
<text x="479.6" y="268.09999999999997" font-size="5.4" fill="#111">Farmland、Green Space</text>
<circle cx="463.1" cy="277.0" r="0.75" fill="#111"/>
<path d="M463.1,277.0 L478,277.0 L528.7,277.0" stroke="#8a8a8a" stroke-width="0.4" fill="none"/>
<text x="479.6" y="276.5" font-size="5.4" fill="#111">mainstream river</text>
<rect x="427" y="288.7" width="48.5" height="12.699999999999989" fill="#f3f5f5"/>
<rect x="427.3" y="289.0" width="3.9" height="6.2" fill="#b7df8c"/>
<rect x="427.3" y="295.8" width="3.9" height="5.3" fill="#c9c4ca"/>
<rect x="431.8" y="289.0" width="7.1" height="3.6" fill="#b7df8c"/>
<rect x="431.8" y="293.2" width="7.1" height="5.3" fill="#c9c4ca"/>
<rect x="431.8" y="299.1" width="7.1" height="2.0" fill="#b7df8c"/>
<rect x="439.5" y="289.0" width="5.3" height="4.0" fill="#c9c4ca"/>
<rect x="439.5" y="293.6" width="5.3" height="4.1" fill="#b7df8c"/>
<rect x="439.5" y="298.3" width="5.3" height="2.8" fill="#b7df8c"/>
<rect x="445.4" y="289.0" width="3.6" height="3.3" fill="#c9c4ca"/>
<rect x="445.4" y="292.9" width="3.6" height="4.7" fill="#c9c4ca"/>
<rect x="445.4" y="298.2" width="3.6" height="2.6" fill="#b7df8c"/>
<rect x="449.6" y="289.0" width="5.9" height="5.4" fill="#b7df8c"/>
<rect x="449.6" y="295.0" width="5.9" height="5.5" fill="#b7df8c"/>
<rect x="456.1" y="289.0" width="4.9" height="5.7" fill="#b7df8c"/>
<rect x="456.1" y="295.3" width="4.9" height="5.8" fill="#b7df8c"/>
<rect x="461.7" y="289.0" width="5.2" height="3.2" fill="#b7df8c"/>
<rect x="461.7" y="292.8" width="5.2" height="5.8" fill="#b7df8c"/>
<rect x="461.7" y="299.2" width="5.2" height="1.9" fill="#b7df8c"/>
<rect x="467.5" y="289.0" width="4.9" height="2.9" fill="#c9c4ca"/>
<rect x="467.5" y="292.5" width="4.9" height="4.1" fill="#b7df8c"/>
<rect x="467.5" y="297.2" width="4.9" height="3.9" fill="#b7df8c"/>
<rect x="473.0" y="289.0" width="2.2" height="6.0" fill="#b7df8c"/>
<rect x="473.0" y="295.6" width="2.2" height="5.5" fill="#c9c4ca"/>
<rect x="423.2" y="303.7" width="53.10000000000002" height="17.5" fill="#f3f5f5"/>
<rect x="423.5" y="304.0" width="4.9" height="3.5" fill="#b7df8c"/>
<rect x="423.5" y="308.1" width="4.9" height="4.1" fill="#b7df8c"/>
<rect x="423.5" y="312.7" width="4.9" height="4.3" fill="#b7df8c"/>
<rect x="423.5" y="317.7" width="4.9" height="3.2" fill="#b7df8c"/>
<rect x="429.0" y="304.0" width="4.5" height="4.6" fill="#b7df8c"/>
<rect x="429.0" y="309.2" width="4.5" height="3.1" fill="#b7df8c"/>
<rect x="429.0" y="312.9" width="4.5" height="6.3" fill="#c9c4ca"/>
<rect x="429.0" y="319.9" width="4.5" height="1.0" fill="#b7df8c"/>
<rect x="434.1" y="304.0" width="5.5" height="5.2" fill="#b7df8c"/>
<rect x="434.1" y="309.8" width="5.5" height="5.0" fill="#b7df8c"/>
<rect x="434.1" y="315.4" width="5.5" height="5.3" fill="#b7df8c"/>
<rect x="440.2" y="304.0" width="5.0" height="4.5" fill="#c9c4ca"/>
<rect x="440.2" y="309.1" width="5.0" height="4.0" fill="#c9c4ca"/>
<rect x="440.2" y="313.7" width="5.0" height="3.2" fill="#c9c4ca"/>
<rect x="440.2" y="317.6" width="5.0" height="3.3" fill="#b7df8c"/>
<rect x="445.8" y="304.0" width="6.8" height="5.2" fill="#b7df8c"/>
<rect x="445.8" y="309.8" width="6.8" height="5.0" fill="#b7df8c"/>
<rect x="445.8" y="315.4" width="6.8" height="5.5" fill="#b7df8c"/>
<rect x="453.2" y="304.0" width="6.4" height="3.4" fill="#b7df8c"/>
<rect x="453.2" y="308.0" width="6.4" height="5.0" fill="#b7df8c"/>
<rect x="453.2" y="313.6" width="6.4" height="2.9" fill="#b7df8c"/>
<rect x="453.2" y="317.1" width="6.4" height="3.8" fill="#b7df8c"/>
<rect x="460.2" y="304.0" width="6.0" height="5.2" fill="#b7df8c"/>
<rect x="460.2" y="309.8" width="6.0" height="5.6" fill="#b7df8c"/>
<rect x="460.2" y="316.1" width="6.0" height="4.8" fill="#b7df8c"/>
<rect x="466.8" y="304.0" width="5.5" height="3.9" fill="#b7df8c"/>
<rect x="466.8" y="308.5" width="5.5" height="4.1" fill="#b7df8c"/>
<rect x="466.8" y="313.2" width="5.5" height="4.0" fill="#c9c4ca"/>
<rect x="466.8" y="317.7" width="5.5" height="3.2" fill="#b7df8c"/>
<rect x="472.9" y="304.0" width="3.1" height="4.1" fill="#b7df8c"/>
<rect x="472.9" y="308.7" width="3.1" height="5.4" fill="#c9c4ca"/>
<rect x="472.9" y="314.8" width="3.1" height="5.0" fill="#c9c4ca"/>
<rect x="472.9" y="320.4" width="3.1" height="0.5" fill="#c9c4ca"/>
<rect x="427" y="323.9" width="48.5" height="13.100000000000023" fill="#f3f5f5"/>
<rect x="427.3" y="324.2" width="5.2" height="5.8" fill="#c9c4ca"/>
<rect x="427.3" y="330.6" width="5.2" height="4.6" fill="#b7df8c"/>
<rect x="427.3" y="335.9" width="5.2" height="0.8" fill="#c9c4ca"/>
<rect x="433.1" y="324.2" width="5.9" height="2.7" fill="#b7df8c"/>
<rect x="433.1" y="327.5" width="5.9" height="5.1" fill="#b7df8c"/>
<rect x="433.1" y="333.2" width="5.9" height="3.5" fill="#c9c4ca"/>
<rect x="439.6" y="324.2" width="7.0" height="3.4" fill="#b7df8c"/>
<rect x="439.6" y="328.2" width="7.0" height="4.7" fill="#c9c4ca"/>
<rect x="439.6" y="333.5" width="7.0" height="3.2" fill="#b7df8c"/>
<rect x="447.2" y="324.2" width="8.4" height="5.0" fill="#b7df8c"/>
<rect x="447.2" y="329.8" width="8.4" height="2.7" fill="#b7df8c"/>
<rect x="447.2" y="333.1" width="8.4" height="2.5" fill="#c9c4ca"/>
<rect x="447.2" y="336.1" width="8.4" height="0.6" fill="#c9c4ca"/>
<rect x="456.2" y="324.2" width="6.8" height="2.6" fill="#c9c4ca"/>
<rect x="456.2" y="327.4" width="6.8" height="5.2" fill="#b7df8c"/>
<rect x="456.2" y="333.2" width="6.8" height="3.5" fill="#c9c4ca"/>
<rect x="463.6" y="324.2" width="8.4" height="2.8" fill="#c9c4ca"/>
<rect x="463.6" y="327.6" width="8.4" height="5.5" fill="#b7df8c"/>
<rect x="463.6" y="333.7" width="8.4" height="2.7" fill="#c9c4ca"/>
<rect x="472.5" y="324.2" width="2.7" height="4.6" fill="#c9c4ca"/>
<rect x="472.5" y="329.4" width="2.7" height="4.0" fill="#b7df8c"/>
<rect x="472.5" y="334.0" width="2.7" height="2.7" fill="#b7df8c"/>
<rect x="422.2" y="286.5" width="54.1" height="2.2" fill="#8fd0ec"/>
<rect x="422.2" y="301.4" width="54.1" height="2.3" fill="#8fd0ec"/>
<rect x="422.2" y="321.2" width="54.1" height="2.7" fill="#8fd0ec"/>
<rect x="422.2" y="337" width="54.1" height="2.1" fill="#8fd0ec"/>
<rect x="432.5" y="303.7" width="1.2" height="17.5" fill="#8fd0ec"/><rect x="441.5" y="288.7" width="1" height="12.7" fill="#a7d9ee"/><rect x="466.8" y="288.7" width="1" height="12.7" fill="#a7d9ee"/>
<circle cx="474.7" cy="302.6" r="0.75" fill="#111"/>
<path d="M474.7,302.6 L478,298.2 L508.1,298.2" stroke="#8a8a8a" stroke-width="0.4" fill="none"/>
<text x="479.6" y="297.7" font-size="5.4" fill="#111">Tributary</text>
<circle cx="448.5" cy="308.2" r="0.75" fill="#111"/>
<path d="M448.5,308.2 L478,308.29999999999995 L502.1,308.29999999999995" stroke="#8a8a8a" stroke-width="0.4" fill="none"/>
<text x="479.6" y="307.79999999999995" font-size="5.4" fill="#111">Estuary</text>
<circle cx="464" cy="315.5" r="0.75" fill="#111"/>
<path d="M464,315.5 L478,315.4 L511.0,315.4" stroke="#8a8a8a" stroke-width="0.4" fill="none"/>
<text x="479.6" y="314.9" font-size="5.4" fill="#111">Settlement</text>
<circle cx="470" cy="318.5" r="0.75" fill="#111"/>
<path d="M470,318.5 L478,322.2 L540.5,322.2" stroke="#8a8a8a" stroke-width="0.4" fill="none"/>
<text x="479.6" y="321.7" font-size="5.4" fill="#111">Farmland、Green Space</text>
<circle cx="456.5" cy="322.6" r="0.75" fill="#111"/>
<path d="M456.5,322.6 L478,329.29999999999995 L502.1,329.29999999999995" stroke="#8a8a8a" stroke-width="0.4" fill="none"/>
<text x="479.6" y="328.79999999999995" font-size="5.4" fill="#111">Estuary</text>
<circle cx="455" cy="333.3" r="0.75" fill="#111"/>
<path d="M455,333.3 L478,335.5 L511.0,335.5" stroke="#8a8a8a" stroke-width="0.4" fill="none"/>
<text x="479.6" y="335.0" font-size="5.4" fill="#111">Settlement</text>
<rect x="422.6" y="345.1" width="10.1" height="54.9" fill="#8fd0ec"/>
<rect x="432.7" y="345.1" width="43.30000000000001" height="10.5" fill="#f3f5f5"/>
<rect x="433.0" y="345.4" width="3.8" height="4.1" fill="#b7df8c"/>
<rect x="433.0" y="350.1" width="3.8" height="4.2" fill="#b7df8c"/>
<rect x="433.0" y="354.9" width="3.8" height="0.4" fill="#b7df8c"/>
<rect x="437.4" y="345.4" width="7.1" height="6.1" fill="#b7df8c"/>
<rect x="437.4" y="352.1" width="7.1" height="3.2" fill="#b7df8c"/>
<rect x="445.1" y="345.4" width="7.3" height="2.7" fill="#b7df8c"/>
<rect x="445.1" y="348.7" width="7.3" height="3.1" fill="#b7df8c"/>
<rect x="445.1" y="352.3" width="7.3" height="3.0" fill="#b7df8c"/>
<rect x="453.0" y="345.4" width="6.0" height="5.8" fill="#c9c4ca"/>
<rect x="453.0" y="351.8" width="6.0" height="3.5" fill="#c9c4ca"/>
<rect x="459.6" y="345.4" width="6.9" height="5.2" fill="#c9c4ca"/>
<rect x="459.6" y="351.2" width="6.9" height="3.2" fill="#b7df8c"/>
<rect x="459.6" y="355.0" width="6.9" height="0.3" fill="#b7df8c"/>
<rect x="467.2" y="345.4" width="4.9" height="3.2" fill="#c9c4ca"/>
<rect x="467.2" y="349.2" width="4.9" height="6.1" fill="#c9c4ca"/>
<rect x="472.6" y="345.4" width="3.1" height="4.0" fill="#b7df8c"/>
<rect x="472.6" y="350.0" width="3.1" height="4.0" fill="#b7df8c"/>
<rect x="472.6" y="354.6" width="3.1" height="0.7" fill="#b7df8c"/>
<rect x="432.7" y="355.6" width="43.3" height="5.3" fill="#8fd0ec"/>
<rect x="432.7" y="360.9" width="43.30000000000001" height="23.100000000000023" fill="#f3f5f5"/>
<rect x="433.0" y="361.2" width="5.5" height="5.0" fill="#b7df8c"/>
<rect x="433.0" y="366.8" width="5.5" height="2.8" fill="#c9c4ca"/>
<rect x="433.0" y="370.2" width="5.5" height="4.1" fill="#b7df8c"/>
<rect x="433.0" y="374.9" width="5.5" height="3.9" fill="#b7df8c"/>
<rect x="433.0" y="379.4" width="5.5" height="4.3" fill="#c9c4ca"/>
<rect x="439.1" y="361.2" width="4.3" height="6.1" fill="#b7df8c"/>
<rect x="439.1" y="367.9" width="4.3" height="5.7" fill="#b7df8c"/>
<rect x="439.1" y="374.2" width="4.3" height="6.0" fill="#b7df8c"/>
<rect x="439.1" y="380.8" width="4.3" height="2.9" fill="#b7df8c"/>
<rect x="444.0" y="361.2" width="6.0" height="3.1" fill="#b7df8c"/>
<rect x="444.0" y="364.9" width="6.0" height="5.9" fill="#b7df8c"/>
<rect x="444.0" y="371.4" width="6.0" height="5.7" fill="#b7df8c"/>
<rect x="444.0" y="377.6" width="6.0" height="2.9" fill="#b7df8c"/>
<rect x="444.0" y="381.1" width="6.0" height="2.6" fill="#b7df8c"/>
<rect x="450.6" y="361.2" width="6.8" height="5.2" fill="#b7df8c"/>
<rect x="450.6" y="367.0" width="6.8" height="5.3" fill="#b7df8c"/>
<rect x="450.6" y="372.9" width="6.8" height="2.8" fill="#b7df8c"/>
<rect x="450.6" y="376.3" width="6.8" height="5.2" fill="#c9c4ca"/>
<rect x="450.6" y="382.1" width="6.8" height="1.6" fill="#b7df8c"/>
<rect x="457.9" y="361.2" width="3.7" height="5.4" fill="#b7df8c"/>
<rect x="457.9" y="367.2" width="3.7" height="5.5" fill="#b7df8c"/>
<rect x="457.9" y="373.3" width="3.7" height="6.3" fill="#b7df8c"/>
<rect x="457.9" y="380.2" width="3.7" height="3.3" fill="#b7df8c"/>
<rect x="462.3" y="361.2" width="4.7" height="5.2" fill="#b7df8c"/>
<rect x="462.3" y="367.0" width="4.7" height="2.7" fill="#b7df8c"/>
<rect x="462.3" y="370.3" width="4.7" height="3.1" fill="#b7df8c"/>
<rect x="462.3" y="374.0" width="4.7" height="3.2" fill="#b7df8c"/>
<rect x="462.3" y="377.9" width="4.7" height="3.4" fill="#b7df8c"/>
<rect x="462.3" y="381.8" width="4.7" height="1.9" fill="#b7df8c"/>
<rect x="467.6" y="361.2" width="5.4" height="6.1" fill="#c9c4ca"/>
<rect x="467.6" y="367.9" width="5.4" height="4.6" fill="#b7df8c"/>
<rect x="467.6" y="373.1" width="5.4" height="6.1" fill="#b7df8c"/>
<rect x="467.6" y="379.8" width="5.4" height="3.9" fill="#b7df8c"/>
<rect x="473.6" y="361.2" width="2.1" height="3.3" fill="#c9c4ca"/>
<rect x="473.6" y="365.1" width="2.1" height="2.8" fill="#b7df8c"/>
<rect x="473.6" y="368.5" width="2.1" height="5.2" fill="#b7df8c"/>
<rect x="473.6" y="374.3" width="2.1" height="2.5" fill="#b7df8c"/>
<rect x="473.6" y="377.4" width="2.1" height="5.3" fill="#b7df8c"/>
<rect x="473.6" y="383.3" width="2.1" height="0.4" fill="#c9c4ca"/>
<rect x="432.7" y="384" width="43.3" height="5.1" fill="#8fd0ec"/>
<rect x="432.7" y="389.1" width="43.30000000000001" height="10.899999999999977" fill="#f3f5f5"/>
<rect x="433.0" y="389.4" width="6.6" height="3.2" fill="#b7df8c"/>
<rect x="433.0" y="393.2" width="6.6" height="6.0" fill="#b7df8c"/>
<rect x="440.2" y="389.4" width="6.2" height="3.8" fill="#c9c4ca"/>
<rect x="440.2" y="393.8" width="6.2" height="4.8" fill="#b7df8c"/>
<rect x="440.2" y="399.3" width="6.2" height="0.4" fill="#b7df8c"/>
<rect x="447.0" y="389.4" width="3.8" height="2.9" fill="#b7df8c"/>
<rect x="447.0" y="392.9" width="3.8" height="3.6" fill="#c9c4ca"/>
<rect x="447.0" y="397.1" width="3.8" height="2.6" fill="#b7df8c"/>
<rect x="451.4" y="389.4" width="7.8" height="4.5" fill="#c9c4ca"/>
<rect x="451.4" y="394.5" width="7.8" height="5.2" fill="#b7df8c"/>
<rect x="459.7" y="389.4" width="4.1" height="3.6" fill="#c9c4ca"/>
<rect x="459.7" y="393.6" width="4.1" height="3.9" fill="#b7df8c"/>
<rect x="459.7" y="398.1" width="4.1" height="1.6" fill="#c9c4ca"/>
<rect x="464.4" y="389.4" width="6.1" height="6.2" fill="#b7df8c"/>
<rect x="464.4" y="396.2" width="6.1" height="3.5" fill="#c9c4ca"/>
<rect x="471.2" y="389.4" width="4.5" height="4.2" fill="#b7df8c"/>
<rect x="471.2" y="394.2" width="4.5" height="5.2" fill="#b7df8c"/>
<circle cx="470.2" cy="357.8" r="0.75" fill="#111"/>
<path d="M470.2,357.8 L478,353.29999999999995 L528.7,353.29999999999995" stroke="#8a8a8a" stroke-width="0.4" fill="none"/>
<text x="479.6" y="352.79999999999995" font-size="5.4" fill="#111">mainstream river</text>
<circle cx="460.5" cy="363.4" r="0.75" fill="#111"/>
<path d="M460.5,363.4 L478,362.79999999999995 L502.1,362.79999999999995" stroke="#8a8a8a" stroke-width="0.4" fill="none"/>
<text x="479.6" y="362.29999999999995" font-size="5.4" fill="#111">Estuary</text>
<circle cx="463.5" cy="370.1" r="0.75" fill="#111"/>
<path d="M463.5,370.1 L478,369.9 L511.0,369.9" stroke="#8a8a8a" stroke-width="0.4" fill="none"/>
<text x="479.6" y="369.4" font-size="5.4" fill="#111">Settlement</text>
<circle cx="470.2" cy="377.8" r="0.75" fill="#111"/>
<path d="M470.2,377.8 L478,377.79999999999995 L540.5,377.79999999999995" stroke="#8a8a8a" stroke-width="0.4" fill="none"/>
<text x="479.6" y="377.29999999999995" font-size="5.4" fill="#111">Farmland、Green Space</text>
<circle cx="469.6" cy="387.4" r="0.75" fill="#111"/>
<path d="M469.6,387.4 L478,386.5 L528.7,386.5" stroke="#8a8a8a" stroke-width="0.4" fill="none"/>
<text x="479.6" y="386.0" font-size="5.4" fill="#111">Mainstream river</text>
<circle cx="430" cy="397" r="0.75" fill="#111"/>
<path d="M430,397 L478,397.4 L511.0,397.4" stroke="#8a8a8a" stroke-width="0.4" fill="none"/>
<text x="479.6" y="396.9" font-size="5.4" fill="#111">Lion Ocean</text>
<text x="527.3" y="399.8" font-size="11" fill="#111">(d)</text>
</svg>
</body></html>
